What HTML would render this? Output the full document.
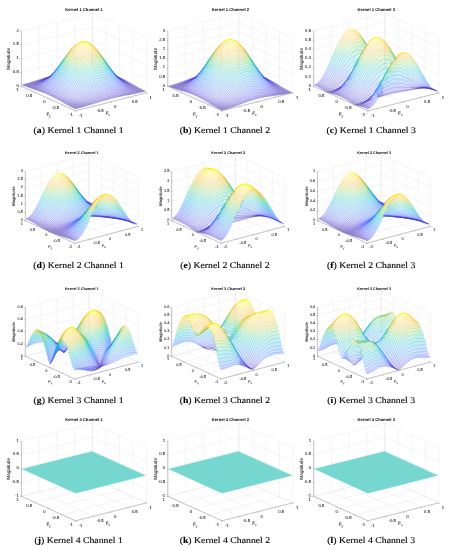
<!DOCTYPE html>
<html><head><meta charset="utf-8"><title>Kernel frequency responses</title><style>
html,body{margin:0;padding:0;background:#fff}
svg{display:block}
.gr{fill:none;stroke:#cacaca;stroke-width:2}
.ax{fill:none;stroke:#777;stroke-width:4}
.wu{fill:#fff;stroke:none}
.ml{fill:none;stroke-width:2.6;stroke-linejoin:round}
.sf{fill:currentColor;stroke:currentColor;stroke-width:3;stroke-linejoin:round}
text{font-family:"Liberation Sans",sans-serif;fill:#222;text-rendering:geometricPrecision}
.tk{font-size:43px;stroke:#333;stroke-width:0.7}
.e{text-anchor:end}
.lb{font-size:46px;stroke:#333;stroke-width:0.7}
.sb{font-size:30px}
.m{text-anchor:middle}
.ti{font-size:41.5px;font-weight:bold;text-anchor:middle;fill:#000}
.tk.s{font-size:38.7px}
.lb.s{font-size:41.4px}
.s .sb{font-size:27px}
.ti.s{font-size:37.6px}
.cp{font-family:"Liberation Serif",serif;font-size:88px;letter-spacing:0.3px;text-anchor:middle;fill:#000;stroke:#000;stroke-width:1.2}
.b{font-weight:bold}
</style></head><body>
<svg width="450" height="550" viewBox="0 0 4500 5500">
<path class="gr" d="M756 1108L214 863M214 863L214 312M756 1108L1466 928M1466 928L1466 377M933.5 1063L391.5 818M391.5 818L391.5 267M620.5 1046.8L1330.5 866.8M1330.5 866.8L1330.5 315.8M1111 1018L569 773M569 773L569 222M485 985.5L1195 805.5M1195 805.5L1195 254.5M1288.5 973L746.5 728M746.5 728L746.5 177M349.5 924.2L1059.5 744.2M1059.5 744.2L1059.5 193.3M1466 928L924 683M924 683L924 132M214 863L924 683M924 683L924 132M214 863L924 683M924 683L1466 928M214 725.2L924 545.2M924 545.2L1466 790.2M214 587.5L924 407.5M924 407.5L1466 652.5M214 449.8L924 269.8M924 269.8L1466 514.8M214 312L924 132M924 132L1466 377"/>
<defs><linearGradient id="a1" gradientUnits="userSpaceOnUse" x1="-4.6" y1="-18.1" x2="-113.5" y2="-447.8"><stop offset="0" stop-color="#3e26a8"/><stop offset="0.06" stop-color="#4434cd"/><stop offset="0.125" stop-color="#4852f4"/><stop offset="0.19" stop-color="#436cfe"/><stop offset="0.28" stop-color="#2e87f7"/><stop offset="0.34" stop-color="#2796eb"/><stop offset="0.4" stop-color="#1caadf"/><stop offset="0.45" stop-color="#0cb8cd"/><stop offset="0.5" stop-color="#1ebeb2"/><stop offset="0.57" stop-color="#37c897"/><stop offset="0.66" stop-color="#81cc59"/><stop offset="0.73" stop-color="#bbc334"/><stop offset="0.8" stop-color="#e8bc30"/><stop offset="0.875" stop-color="#fdcb36"/><stop offset="0.94" stop-color="#f6e428"/><stop offset="1" stop-color="#f9fb15"/></linearGradient><linearGradient id="b1" gradientUnits="userSpaceOnUse" x1="7.2" y1="-16" x2="178.9" y2="-395.8"><stop offset="0" stop-color="#3e26a8"/><stop offset="0.06" stop-color="#4434cd"/><stop offset="0.125" stop-color="#4852f4"/><stop offset="0.19" stop-color="#436cfe"/><stop offset="0.28" stop-color="#2e87f7"/><stop offset="0.34" stop-color="#2796eb"/><stop offset="0.4" stop-color="#1caadf"/><stop offset="0.45" stop-color="#0cb8cd"/><stop offset="0.5" stop-color="#1ebeb2"/><stop offset="0.57" stop-color="#37c897"/><stop offset="0.66" stop-color="#81cc59"/><stop offset="0.73" stop-color="#bbc334"/><stop offset="0.8" stop-color="#e8bc30"/><stop offset="0.875" stop-color="#fdcb36"/><stop offset="0.94" stop-color="#f6e428"/><stop offset="1" stop-color="#f9fb15"/></linearGradient></defs><path class="wu" d="M756 1089l22-6 22-6 23-6 22-7 22-6 22-7 22-7 23-7 22-7 22-7 22-7 22-7 22-6 23-6 22-6 22-6 22-6 22-5 23-5 22-5 22-4 22-5 22-4 22-4 23-4 22-5 22-4 22-5 22-5 23-5 22-5 11-3-17-7-11 2-22 5-23 5-22 5-22 4-22 4-22 4-22 4-23 4-22 4-22 4-22 4-22 5-23 4-22 6-22 5-22 6-22 6-22 6-23 7-22 7-22 7-22 8-22 7-23 7-22 8-22 7-22 7-22 6-23 7-22 6-22 6zM739 1081l22-6 22-6 23-7 22-6 22-7 22-7 22-8 23-7 22-7 22-8 22-7 22-7 23-7 22-6 22-6 22-6 22-5 22-6 23-4 22-5 22-4 22-4 22-4 23-4 22-4 22-4 22-4 22-4 22-5 23-5 22-5 11-2-17-9-11 3-22 5-22 4-23 4-22 3-22 3-22 3-22 3-23 2-22 3-22 3-22 4-22 3-22 5-23 4-22 6-22 6-22 6-22 7-23 8-22 8-22 8-22 8-22 9-23 8-22 9-22 8-22 8-22 7-23 7-22 7-22 6zM722 1073l22-6 22-7 23-7 22-7 22-8 22-8 22-9 23-8 22-9 22-8 22-8 22-8 23-8 22-7 22-6 22-6 22-6 23-4 22-5 22-3 22-4 22-3 22-3 23-2 22-3 22-3 22-3 22-3 23-4 22-4 22-5 11-3-17-8-11 2-22 4-22 4-23 2-22 2-22 2-22 1-22 0-22 1-23 1-22 1-22 2-22 3-22 3-23 4-22 6-22 6-22 7-22 8-23 8-22 10-22 10-22 10-22 10-23 11-22 10-22 10-22 9-22 9-22 8-23 7-22 6zM705 1064l22-6 23-7 22-8 22-9 22-9 22-10 22-10 23-11 22-10 22-10 22-10 22-10 23-8 22-8 22-7 22-6 22-6 23-4 22-3 22-3 22-2 22-1 23-1 22-1 22 0 22-1 22-2 22-2 23-2 22-4 22-4 11-2-17-9-11 2-22 4-22 2-22 1-23 0-22-1-22-2-22-2-22-1-23-2-22-1-22 0-22 1-22 2-23 3-22 5-22 7-22 7-22 10-23 10-22 11-22 13-22 12-22 13-22 13-23 13-22 12-22 12-22 10-22 9-23 8-22 6zM688 1055l22-6 23-8 22-9 22-10 22-12 22-12 23-13 22-13 22-13 22-12 22-13 22-11 23-10 22-10 22-7 22-7 22-5 23-3 22-2 22-1 22 0 22 1 23 2 22 1 22 2 22 2 22 1 23 0 22-1 22-2 22-4 11-2-17-9-11 2-22 2-22 1-22-1-23-3-22-3-22-5-22-5-22-5-23-4-22-4-22-3-22-1-22 1-23 3-22 4-22 7-22 8-22 11-22 12-23 14-22 15-22 16-22 16-22 16-23 16-22 15-22 14-22 12-22 11-22 8-23 7zM671 1046l23-7 22-8 22-11 22-12 22-14 22-15 23-16 22-16 22-16 22-16 22-15 23-14 22-12 22-11 22-8 22-7 22-4 23-3 22-1 22 1 22 3 22 4 23 4 22 5 22 5 22 5 22 3 23 3 22 1 22-1 22-2 11-2-17-10-11 2-22 2-22-1-22-4-23-5-22-7-22-8-22-9-22-8-23-8-22-7-22-5-22-4-22-1-22 2-23 4-22 7-22 10-22 12-22 15-23 16-22 19-22 19-22 19-22 20-22 19-23 19-22 16-22 15-22 12-22 10-23 7zM654 1037l23-7 22-10 22-12 22-15 22-16 23-19 22-19 22-20 22-19 22-19 22-19 23-16 22-15 22-12 22-10 22-7 23-4 22-2 22 1 22 4 22 5 22 7 23 8 22 8 22 9 22 8 22 7 23 5 22 4 22 1 22-2 11-2-17-9-11 1-22 1-22-3-22-6-23-9-22-10-22-12-22-12-22-12-22-12-23-10-22-9-22-5-22-3-22 0-23 4-22 7-22 11-22 14-22 17-23 20-22 22-22 22-22 24-22 24-22 23-23 21-22 20-22 17-22 14-22 11-23 7zM637 1027l23-7 22-11 22-14 22-17 22-20 23-21 22-23 22-24 22-24 22-22 22-22 23-20 22-17 22-14 22-11 22-7 23-4 22 0 22 3 22 5 22 9 23 10 22 12 22 12 22 12 22 12 22 10 23 9 22 6 22 3 22-1 11-1-17-10-11 1-22-1-22-4-22-9-22-11-23-14-22-16-22-16-22-17-22-15-23-14-22-12-22-8-22-5-22-1-22 4-23 8-22 12-22 16-22 19-22 23-23 25-22 27-22 28-22 28-22 26-23 25-22 23-22 20-22 16-22 12-23 8zM620 1018l23-8 22-12 22-16 22-20 22-23 23-25 22-26 22-28 22-28 22-27 23-25 22-23 22-19 22-16 22-12 23-8 22-4 22 1 22 5 22 8 22 12 23 14 22 15 22 17 22 16 22 16 23 14 22 11 22 9 22 4 22 1 11-1-17-10-11 1-22-2-22-6-22-11-22-15-23-17-22-20-22-20-22-21-22-19-22-18-23-14-22-11-22-7-22-2-22 3-23 8-22 13-22 18-22 23-22 26-23 28-22 31-22 32-22 31-22 31-23 29-22 26-22 22-22 18-22 13-22 8zM604 1008l22-8 22-13 22-18 22-22 22-26 23-29 22-31 22-31 22-32 22-31 23-28 22-26 22-23 22-18 22-13 23-8 22-3 22 2 22 7 22 11 23 14 22 18 22 19 22 21 22 20 22 20 23 17 22 15 22 11 22 6 22 2 11-1-16-9-12 0-22-3-22-8-22-14-22-17-22-21-23-23-22-25-22-24-22-23-22-21-23-18-22-13-22-9-22-3-22 3-23 8-22 15-22 19-22 25-22 29-23 32-22 35-22 35-22 36-22 34-22 32-23 29-22 25-22 20-22 14-22 9zM587 999l22-9 22-14 22-20 22-25 23-29 22-32 22-34 22-36 22-35 22-35 23-32 22-29 22-25 22-19 22-15 23-8 22-3 22 3 22 9 22 13 23 18 22 21 22 23 22 24 22 25 23 23 22 21 22 17 22 14 22 8 22 3 12 0-17-10-11 1-23-4-22-11-22-15-22-21-22-24-23-26-22-28-22-28-22-27-22-24-23-20-22-16-22-10-22-5-22 3-23 9-22 15-22 22-22 27-22 31-22 36-23 37-22 40-22 39-22 38-22 35-23 32-22 27-22 21-22 16-22 8zM570 989l22-8 22-16 22-21 22-27 23-32 22-35 22-38 22-39 22-40 23-37 22-36 22-31 22-27 22-22 22-15 23-9 22-3 22 5 22 10 22 16 23 20 22 24 22 27 22 28 22 28 23 26 22 24 22 21 22 15 22 11 23 4 11-1-17-9-11 0-23-5-22-11-22-18-22-23-22-27-23-30-22-31-22-31-22-29-22-27-23-23-22-18-22-11-22-6-22 2-22 10-23 16-22 23-22 29-22 34-22 38-23 41-22 42-22 43-22 41-22 38-23 34-22 29-22 23-22 16-22 9zM553 980l22-9 22-16 22-23 22-29 23-34 22-38 22-41 22-43 22-42 23-41 22-38 22-34 22-29 22-23 23-16 22-10 22-2 22 6 22 11 22 18 23 23 22 27 22 29 22 31 22 31 23 30 22 27 22 23 22 18 22 11 23 5 11 0-17-9-11 0-23-6-22-13-22-19-22-25-22-29-23-32-22-34-22-33-22-32-22-29-22-25-23-20-22-13-22-6-22 2-22 10-23 17-22 24-22 31-22 36-22 40-22 44-23 44-22 45-22 44-22 40-22 36-23 31-22 24-22 17-22 10zM536 972l22-10 22-17 22-24 23-31 22-36 22-40 22-44 22-45 23-44 22-44 22-40 22-36 22-31 22-24 23-17 22-10 22-2 22 6 22 13 23 20 22 25 22 29 22 32 22 33 22 34 23 32 22 29 22 25 22 19 22 13 23 6 11 0-17-8-11 0-23-7-22-14-22-20-22-27-22-30-22-34-23-36-22-36-22-33-22-31-22-27-23-20-22-14-22-6-22 1-22 10-23 17-22 26-22 31-22 38-22 42-22 45-23 47-22 47-22 45-22 42-22 38-23 32-22 25-22 17-22 10zM519 963l22-10 22-17 22-25 23-32 22-38 22-42 22-45 22-47 23-47 22-45 22-42 22-38 22-31 22-26 23-17 22-10 22-1 22 6 22 14 23 20 22 27 22 31 22 33 22 36 23 36 22 34 22 30 22 27 22 20 22 14 23 7 11 0-17-8-11-1-22-6-23-15-22-21-22-28-22-31-22-36-23-36-22-37-22-35-22-32-22-27-22-22-23-14-22-7-22 2-22 10-22 18-23 25-22 33-22 38-22 44-22 46-23 48-22 48-22 46-22 43-22 39-23 32-22 26-22 18-22 10zM502 955l22-10 22-18 22-26 23-32 22-39 22-43 22-46 22-48 23-48 22-46 22-44 22-38 22-33 23-25 22-18 22-10 22-2 22 7 23 14 22 22 22 27 22 32 22 35 22 37 23 36 22 36 22 31 22 28 22 21 23 15 22 6 11 1-17-8-11-1-22-6-23-15-22-22-22-27-22-33-22-35-22-37-23-37-22-36-22-32-22-27-22-22-23-15-22-7-22 2-22 10-22 18-23 26-22 33-22 38-22 44-22 47-23 48-22 48-22 47-22 43-22 39-22 33-23 26-22 18-22 10zM485 947l22-10 22-18 23-26 22-33 22-39 22-43 22-47 22-48 23-48 22-47 22-44 22-38 22-33 23-26 22-18 22-10 22-2 22 7 23 15 22 22 22 27 22 32 22 36 23 37 22 37 22 35 22 33 22 27 22 22 23 15 22 6 11 1-17-8-11 0-22-7-22-14-23-22-22-27-22-32-22-35-22-37-23-36-22-35-22-32-22-27-22-22-23-14-22-7-22 1-22 10-22 18-23 26-22 33-22 38-22 43-22 47-22 47-23 48-22 47-22 43-22 38-22 33-23 26-22 18-22 9zM468 939l22-9 22-18 23-26 22-33 22-38 22-43 22-47 23-48 22-47 22-47 22-43 22-38 22-33 23-26 22-18 22-10 22-1 22 7 23 14 22 22 22 27 22 32 22 35 23 36 22 37 22 35 22 32 22 27 23 22 22 14 22 7 11 0-17-7-11 0-22-6-22-14-23-21-22-26-22-31-22-34-22-36-23-35-22-34-22-31-22-26-22-21-23-14-22-6-22 1-22 10-22 18-22 25-23 32-22 37-22 42-22 46-22 46-23 47-22 45-22 42-22 38-22 32-22 25-23 18-22 9zM451 932l22-9 23-18 22-25 22-32 22-38 22-42 22-45 23-47 22-46 22-46 22-42 22-37 23-32 22-25 22-18 22-10 22-1 22 6 23 14 22 21 22 26 22 31 22 34 23 35 22 36 22 34 22 31 22 26 23 21 22 14 22 6 11 0-17-7-11 0-22-5-22-13-23-20-22-25-22-29-22-32-22-34-23-33-22-32-22-29-22-25-22-20-22-13-23-5-22 1-22 10-22 17-22 24-23 31-22 36-22 40-22 44-22 44-22 45-23 44-22 40-22 36-22 31-22 24-23 17-22 10zM434 926l22-10 23-17 22-24 22-31 22-36 22-40 23-44 22-45 22-44 22-44 22-40 22-36 23-31 22-24 22-17 22-10 22-1 23 5 22 13 22 20 22 25 22 29 22 32 23 33 22 34 22 32 22 29 22 25 23 20 22 13 22 5 11 0-17-6-11 0-22-5-22-12-23-17-22-23-22-27-22-30-22-31-22-31-23-30-22-26-22-23-22-18-22-12-23-5-22 2-22 9-22 17-22 23-22 29-23 34-22 38-22 41-22 42-22 42-23 41-22 38-22 35-22 29-22 23-23 16-22 9zM417 919l22-9 23-16 22-23 22-29 22-35 22-38 23-41 22-42 22-42 22-41 22-38 23-34 22-29 22-23 22-17 22-9 22-2 23 5 22 12 22 18 22 23 22 26 23 30 22 31 22 31 22 30 22 27 22 23 23 17 22 12 22 5 11 0-17-6-11 0-22-4-22-10-22-16-23-20-22-24-22-27-22-28-22-28-23-26-22-25-22-20-22-16-22-10-22-4-23 2-22 9-22 16-22 21-22 27-23 32-22 35-22 38-22 39-22 39-23 38-22 35-22 32-22 27-22 22-23 15-22 9zM400 913l22-9 23-15 22-22 22-27 22-32 22-35 23-38 22-39 22-39 22-38 22-35 23-32 22-27 22-21 22-16 22-9 23-2 22 4 22 10 22 16 22 20 22 25 23 26 22 28 22 28 22 27 22 24 23 20 22 16 22 10 22 4 11 0-17-6-11 1-22-3-22-9-22-14-23-17-22-21-22-23-22-25-22-24-22-23-23-21-22-18-22-13-22-9-22-3-23 3-22 8-22 15-22 20-22 24-23 29-22 32-22 35-22 35-22 36-23 34-22 33-22 28-22 25-22 20-22 14-23 9zM383 907l23-9 22-14 22-20 22-25 22-28 22-33 23-34 22-36 22-35 22-35 22-32 23-29 22-24 22-20 22-15 22-8 23-3 22 3 22 9 22 13 22 18 23 21 22 23 22 24 22 25 22 23 22 21 23 17 22 14 22 9 22 3 11-1-17-6-11 1-22-2-22-7-22-11-22-14-23-18-22-19-22-21-22-20-22-19-23-18-22-15-22-11-22-6-22-2-23 3-22 8-22 13-22 18-22 22-23 26-22 29-22 31-22 31-22 32-22 31-23 29-22 25-22 23-22 18-22 13-23 8zM366 901l23-8 22-13 22-18 22-23 22-25 23-29 22-31 22-32 22-31 22-31 22-29 23-26 22-22 22-18 22-13 22-8 23-3 22 2 22 6 22 11 22 15 23 18 22 19 22 20 22 21 22 19 23 18 22 14 22 11 22 7 22 2 11-1-17-5-11 1-22-1-22-5-22-8-22-12-23-14-22-15-22-17-22-16-22-16-23-14-22-11-22-8-22-5-22-1-23 3-22 8-22 12-22 16-22 20-22 23-23 25-22 27-22 27-22 28-22 27-23 25-22 23-22 19-22 16-22 13-23 7zM349 895l23-7 22-13 22-16 22-19 22-23 23-25 22-27 22-28 22-27 22-27 23-25 22-23 22-20 22-16 22-12 22-8 23-3 22 1 22 5 22 8 22 11 23 14 22 16 22 16 22 17 22 15 23 14 22 12 22 8 22 5 22 1 11-1-17-6-11 1-22 1-22-3-22-6-22-8-23-11-22-11-22-13-22-12-22-12-23-10-22-8-22-6-22-3-22 0-22 4-23 7-22 11-22 14-22 18-22 19-23 22-22 23-22 23-22 24-22 23-23 21-22 20-22 17-22 14-22 11-22 8zM333 890l22-8 22-11 22-14 22-17 22-20 23-21 22-23 22-24 22-23 22-23 23-22 22-19 22-18 22-14 22-11 23-7 22-4 22 0 22 3 22 6 22 8 23 10 22 12 22 12 22 13 22 11 23 11 22 8 22 6 22 3 22-1 11-1-16-6-12 2-22 1-22-1-22-3-22-5-23-7-22-8-22-9-22-8-22-8-22-7-23-5-22-4-22-1-22 2-22 4-23 7-22 10-22 12-22 15-22 16-22 18-23 20-22 19-22 20-22 19-22 18-23 17-22 15-22 12-22 10-22 7zM316 884l22-7 22-10 22-12 22-15 23-17 22-18 22-19 22-20 22-19 23-20 22-18 22-16 22-15 22-12 22-10 23-7 22-4 22-2 22 1 22 4 23 5 22 7 22 8 22 8 22 9 22 8 23 7 22 5 22 3 22 1 22-1 12-2-17-6-12 2-22 3-22 0-22-1-22-2-22-4-23-4-22-5-22-5-22-5-22-3-23-3-22-1-22 1-22 2-22 5-22 6-23 9-22 11-22 12-22 14-22 15-23 16-22 16-22 16-22 16-22 15-23 13-22 13-22 10-22 9-22 7zM299 878l22-7 22-9 22-10 22-13 23-13 22-15 22-16 22-16 22-16 23-16 22-15 22-14 22-12 22-11 23-9 22-6 22-5 22-2 22-1 22 1 23 3 22 3 22 5 22 5 22 5 23 4 22 4 22 2 22 1 22 0 22-3 12-2-17-6-11 2-23 4-22 2-22 1-22 0-22-1-23-2-22-1-22-2-22-2-22-1-22 0-23 1-22 2-22 4-22 5-22 6-23 8-22 9-22 10-22 12-22 12-23 13-22 13-22 13-22 12-22 13-23 11-22 10-22 9-22 8-22 7zM282 872l22-7 22-8 22-9 22-10 23-11 22-13 22-12 22-13 22-13 23-13 22-12 22-12 22-10 22-9 23-8 22-6 22-5 22-4 22-2 23-1 22 0 22 1 22 2 22 2 22 1 23 2 22 1 22 0 22-1 22-2 23-4 11-2-17-6-11 2-23 4-22 4-22 2-22 2-22 2-23 1-22 0-22 1-22 1-22 1-22 2-23 3-22 3-22 4-22 6-22 6-23 7-22 8-22 8-22 10-22 10-23 10-22 10-22 11-22 10-22 10-22 9-23 9-22 8-22 7-22 6zM265 865l22-6 22-7 22-8 23-9 22-9 22-10 22-10 22-11 22-10 23-10 22-10 22-10 22-8 22-8 23-7 22-6 22-6 22-4 22-3 23-3 22-2 22-1 22-1 22-1 22 0 23-1 22-2 22-2 22-2 22-4 23-4 11-2-17-7-11 3-22 4-23 5-22 3-22 4-22 3-22 3-23 2-22 3-22 3-22 3-22 3-23 4-22 4-22 5-22 5-22 6-23 7-22 7-22 7-22 8-22 8-22 9-23 8-22 9-22 8-22 9-22 7-23 8-22 7-22 6-22 6zM248 858l22-6 22-6 22-7 23-8 22-7 22-9 22-8 22-9 23-8 22-9 22-8 22-8 22-7 22-7 23-7 22-6 22-5 22-5 22-4 23-4 22-3 22-3 22-3 22-3 23-2 22-3 22-3 22-4 22-3 23-5 22-4 11-3-17-7-11 3-22 5-23 5-22 4-22 4-22 4-22 4-23 4-22 4-22 4-22 4-22 4-23 5-22 5-22 5-22 5-22 6-22 6-23 7-22 6-22 7-22 8-22 7-23 7-22 8-22 7-22 7-22 7-22 7-23 6-22 6-22 6zM231 851l22-6 22-6 23-6 22-7 22-7 22-7 22-7 22-8 23-7 22-7 22-8 22-7 22-6 23-7 22-6 22-6 22-5 22-5 22-5 23-5 22-4 22-4 22-4 22-4 23-4 22-4 22-4 22-4 22-4 23-5 22-5 11-3-9-4-11 3-22 5-22 5-22 5-22 4-23 5-22 4-22 4-22 4-22 5-23 4-22 4-22 5-22 5-22 5-23 6-22 5-22 7-22 6-22 6-22 7-23 7-22 7-22 7-22 7-22 7-23 7-22 7-22 6-22 7-22 6-23 5z"/><g class="ml" stroke="url(#a1)"><path transform="translate(756 1108)" d="M0 -19l22-6 22-6 23-6 22-7 22-6 22-7 22-7 23-7 22-7 22-7 22-7 22-7 22-6 23-6 22-6 22-6 22-6 22-5 23-5 22-5 22-4 22-5 22-4 22-4 23-4 22-5 22-4 22-5 22-5 23-5 22-5 11-3"/><path transform="translate(747.5 1104.2)" d="M0 -19l22-6 22-6 23-6 22-7 22-7 22-7 22-7 23-7 22-7 22-7 22-7 22-6 22-7 23-6 22-6 22-6 22-6 22-5 23-5 22-4 22-5 22-4 22-5 22-4 23-4 22-4 22-4 22-5 22-5 23-5 22-5 11-3"/><path transform="translate(739.1 1100.3)" d="M0 -19l22-6 22-6 23-7 22-7 22-7 22-7 22-7 23-7 22-8 22-7 22-7 22-7 22-7 23-6 22-7 22-5 22-6 22-5 23-5 22-4 22-4 22-5 22-4 22-3 23-4 22-4 22-4 22-5 22-4 23-5 22-5 11-3"/><path transform="translate(730.6 1096.5)" d="M0 -20l22-6 22-6 23-7 22-7 22-7 22-8 22-7 23-8 22-8 22-8 22-7 22-8 22-7 23-6 22-7 22-6 22-5 22-5 23-5 22-4 22-4 22-3 22-4 22-3 23-4 22-3 22-4 22-4 22-4 23-4 22-5 11-3"/><path transform="translate(722.1 1092.7)" d="M0 -20l22-6 22-6 23-7 22-8 22-8 22-8 22-8 23-9 22-9 22-8 22-8 22-8 22-8 23-7 22-6 22-6 22-5 22-5 23-4 22-4 22-3 22-3 22-3 22-3 23-3 22-3 22-3 22-3 22-4 23-4 22-5 11-2"/><path transform="translate(713.7 1088.9)" d="M0 -20l22-6 22-7 23-8 22-8 22-8 22-9 22-9 23-10 22-9 22-10 22-8 22-9 22-8 23-8 22-6 22-6 22-5 22-5 23-4 22-3 22-3 22-2 22-2 22-2 23-2 22-2 22-2 22-3 22-3 23-4 22-4 11-3"/><path transform="translate(705.2 1085)" d="M0 -21l22-6 22-7 23-8 22-9 22-9 22-10 22-10 23-11 22-10 22-10 22-10 22-10 22-8 23-8 22-7 22-6 22-6 22-4 23-3 22-3 22-2 22-1 22-1 22-1 23 0 22-1 22-2 22-2 22-2 23-4 22-4 11-2"/><path transform="translate(696.7 1081.2)" d="M0 -21l22-7 22-7 23-9 22-9 22-10 22-11 22-12 23-11 22-12 22-12 22-11 22-10 22-9 23-9 22-7 22-6 22-5 22-4 23-3 22-2 22-1 22 0 22 0 22 1 23 0 22 0 22 0 22-1 22-2 23-3 22-3 11-3"/><path transform="translate(688.2 1077.4)" d="M0 -22l22-6 22-8 23-9 22-11 22-11 22-12 22-13 23-13 22-13 22-13 22-12 22-11 22-11 23-9 22-8 22-6 22-5 22-3 23-2 22-1 22 0 22 1 22 1 22 2 23 2 22 1 22 1 22 0 22-1 23-2 22-3 11-2"/><path transform="translate(679.8 1073.5)" d="M0 -23l22-6 22-9 23-9 22-12 22-12 22-14 22-14 23-14 22-15 22-14 22-14 22-12 22-12 23-9 22-9 22-6 22-5 22-3 23-1 22 0 22 1 22 2 22 3 22 4 23 3 22 3 22 2 22 1 22 0 23-1 22-3 11-2"/><path transform="translate(671.3 1069.7)" d="M0 -24l22-6 22-9 23-11 22-12 22-14 22-15 22-15 23-17 22-16 22-16 22-14 22-14 22-13 23-10 22-9 22-7 22-4 22-3 23 0 22 1 22 2 22 4 22 4 22 5 23 5 22 5 22 4 22 2 22 1 23 0 22-3 11-2"/><path transform="translate(662.8 1065.9)" d="M0 -24l22-7 22-9 23-12 22-13 22-15 22-17 22-17 23-18 22-18 22-18 22-16 22-15 22-14 23-11 22-9 22-7 22-5 22-2 23 0 22 3 22 4 22 5 22 6 22 7 23 6 22 7 22 5 22 4 22 2 23 0 22-2 11-2"/><path transform="translate(654.4 1062.1)" d="M0 -25l22-7 22-10 23-12 22-15 22-17 22-18 22-19 23-20 22-19 22-20 22-18 22-16 22-15 23-12 22-10 22-7 22-4 22-2 23 1 22 4 22 5 22 7 22 8 22 8 23 9 22 8 22 7 22 5 22 3 23 2 22-2 11-2"/><path transform="translate(645.9 1058.2)" d="M0 -26l22-7 22-11 23-13 22-16 22-18 22-20 22-21 23-21 22-22 22-21 22-20 22-18 22-16 23-13 22-10 22-7 22-5 22 0 23 2 22 4 22 7 22 9 22 9 22 11 23 10 22 10 22 8 22 7 22 5 23 2 22-1 11-2"/><path transform="translate(637.4 1054.4)" d="M0 -27l22-7 22-11 23-14 22-18 22-19 22-22 22-23 23-23 22-24 22-23 22-21 22-20 22-17 23-14 22-11 22-8 22-3 22-1 23 3 22 6 22 8 22 11 22 11 22 13 23 12 22 12 22 10 22 8 22 6 23 3 22 0 11-2"/><path transform="translate(629 1050.6)" d="M0 -28l22-8 22-11 23-15 22-19 22-21 22-23 22-25 23-26 22-25 22-25 22-23 22-22 22-18 23-15 22-12 22-7 22-4 22 0 23 4 22 7 22 10 22 12 22 14 22 14 23 15 22 13 22 13 22 9 22 8 23 3 22 1 11-2"/><path transform="translate(620.5 1046.8)" d="M0 -29l22-8 22-12 23-16 22-20 22-22 22-25 22-27 23-28 22-28 22-26 22-26 22-22 22-20 23-16 22-12 22-8 22-3 22 1 23 4 22 9 22 11 22 14 22 16 22 16 23 17 22 15 22 14 22 11 22 9 23 5 22 1 11-2"/><path transform="translate(612 1042.9)" d="M0 -30l22-8 22-13 23-17 22-21 22-24 22-27 22-29 23-29 22-30 22-29 22-27 22-24 22-21 23-17 22-13 22-8 22-3 22 2 23 5 22 10 22 13 22 16 22 17 23 19 22 18 22 18 22 15 22 13 22 10 23 6 22 1 11-1"/><path transform="translate(603.6 1039.1)" d="M0 -31l22-8 22-13 23-18 22-22 22-26 22-29 22-31 22-31 23-32 22-31 22-29 22-25 22-23 23-18 22-13 22-8 22-3 22 2 23 7 22 11 22 14 22 18 22 19 22 21 23 20 22 19 22 18 22 15 22 11 23 6 22 2 11-1"/><path transform="translate(595.1 1035.3)" d="M0 -32l22-8 22-14 23-19 22-23 22-28 22-30 22-33 23-33 22-34 22-33 22-30 22-28 22-23 23-19 22-14 22-8 22-3 22 2 23 8 22 12 22 17 22 19 22 21 22 23 23 22 22 21 22 20 22 16 22 12 23 8 22 2 11-1"/><path transform="translate(586.6 1031.4)" d="M0 -33l22-8 22-15 23-19 22-25 22-29 22-32 22-35 23-35 22-36 22-34 22-32 22-29 22-25 23-20 22-14 22-9 22-2 22 3 23 8 22 14 22 17 22 21 22 24 22 24 23 24 22 23 22 21 22 18 22 13 23 9 22 3 11-1"/><path transform="translate(578.2 1027.6)" d="M0 -33l22-9 22-15 23-21 22-26 22-30 22-34 22-36 23-37 22-38 22-36 22-34 22-30 22-26 23-21 22-15 22-8 22-3 22 4 23 9 22 15 22 19 22 22 22 25 22 27 23 26 22 25 22 22 22 19 22 15 23 9 22 4 11 0"/><path transform="translate(569.7 1023.8)" d="M0 -34l22-9 22-16 23-21 22-27 22-32 22-35 22-38 23-39 22-39 22-38 22-36 22-31 22-27 23-22 22-15 22-9 22-2 22 4 23 10 22 16 22 20 22 24 22 27 22 28 23 28 22 26 22 24 22 21 22 16 23 10 22 4 11 0"/><path transform="translate(561.2 1020)" d="M0 -35l22-9 22-16 23-22 22-28 22-33 22-37 22-39 22-41 23-41 22-40 22-36 22-33 22-28 23-23 22-15 22-10 22-2 22 5 23 11 22 17 22 21 22 26 22 28 22 30 23 29 22 28 22 26 22 22 22 16 23 11 22 5 11 0"/><path transform="translate(552.7 1016.1)" d="M0 -36l22-9 22-16 23-23 22-29 22-34 22-39 22-40 23-43 22-42 22-41 22-38 22-34 22-29 23-23 22-16 22-10 22-2 22 5 23 12 22 18 22 23 22 27 22 29 22 31 23 31 22 30 22 27 22 23 22 17 23 12 22 5 11 0"/><path transform="translate(544.3 1012.3)" d="M0 -36l22-10 22-16 23-24 22-30 22-35 22-39 22-43 23-43 22-44 22-42 22-40 22-35 22-30 23-23 22-17 22-9 22-2 22 5 23 13 22 18 22 24 22 28 22 31 22 33 23 32 22 31 22 28 22 24 22 19 23 12 22 5 11 0"/><path transform="translate(535.8 1008.5)" d="M0 -37l22-9 22-18 23-24 22-30 22-36 22-41 22-43 23-45 22-45 22-43 22-41 22-36 22-30 23-25 22-17 22-9 22-2 22 6 23 13 22 19 22 25 22 29 22 32 22 34 23 34 22 32 22 29 22 25 22 19 23 13 22 6 11 0"/><path transform="translate(527.3 1004.6)" d="M0 -37l22-10 22-17 23-25 22-31 22-37 22-42 22-44 23-46 22-46 22-44 22-42 22-36 22-32 23-24 22-18 22-9 22-2 22 6 23 13 22 21 22 25 22 30 22 33 22 35 23 35 22 33M621 -255l22 20 23 13 22 6 11 0"/><path transform="translate(518.9 1000.8)" d="M0 -38l22-10 22-17 23-25 22-32 22-38 22-42 22-45 22-47 23-47 22-45 22-42 22-37 22-32 23-25 22-18 22-10 22-1 22 6 23 14 22 21 22 26 22 31 22 34 22 35M643 -237l23 14 22 7 11 0"/><path transform="translate(510.4 997)" d="M0 -38l22-10 22-18 23-25 22-32 22-39 22-42 22-46 23-48 22-47 22-46 22-43 22-38 22-32 23-25 22-18 22-10 22-2 22 7 23 14 22 21 22 27 22 32 22 34M666 -223l22 6 11 1"/><path transform="translate(501.9 993.2)" d="M0 -38l22-10 22-18 23-26 22-32 22-39 22-43 22-46 23-48 22-48 22-47 22-43 22-38 22-33 23-26 22-18 22-9 22-2 22 7 23 14 22 22 22 27 22 32M666 -224l22 7 11 0"/><path transform="translate(493.5 989.3)" d="M0 -39l22-9 22-18 23-26 22-33 22-39 22-43 22-47 23-48 22-48 22-47 22-43 22-39 22-33 23-26 22-18 22-10 22-1 22 7 23 14 22 22 22 27M688 -217l11 0"/><path transform="translate(485 985.5)" d="M0 -39l22-9 22-18 23-26 22-33 22-39 22-44 22-46 23-49 22-48 22-47 22-43 22-39 22-33 23-26 22-18 22-10 22-1 22 7 23 14 22 22M688 -217l11 0"/><path transform="translate(476.5 981.7)" d="M0 -39l22-9 22-18 23-26 22-33 22-39 22-43 22-47 22-48 23-48 22-47 22-43 22-39 22-33 23-26 22-18 22-10 22-1 22 7 23 14 22 22M688 -217l11 0"/><path transform="translate(468.1 977.8)" d="M0 -38l22-10 22-18 23-26 22-32 22-39 22-43 22-46 23-48 22-48 22-47 22-43 22-38 22-33 23-26 22-18 22-9 22-2 22 7 23 14"/><path transform="translate(459.6 974)" d="M0 -38l22-10 22-18 23-25 22-32 22-39 22-42 22-46 23-48 22-47 22-46 22-43 22-38 22-32 23-25 22-18 22-10 22-2 22 7"/><path transform="translate(451.1 970.2)" d="M0 -38l22-10 22-17 23-25 22-32 22-38 22-42 22-45 23-47 22-47 22-45 22-42 22-37 22-32 23-25 22-18 22-10 22-1 22 6"/><path transform="translate(442.7 966.4)" d="M0 -37l22-10 22-17 23-25 22-31 22-37 22-42 22-44 23-46 22-46 22-44 22-42 22-36 22-32 23-24 22-18 22-9 22-2"/><path transform="translate(434.2 962.5)" d="M0 -37l22-9 22-18 23-24 22-30 22-36 22-41 22-43 23-45 22-45 22-43 22-41 22-36 22-30 23-25 22-17 22-9"/><path transform="translate(425.7 958.7)" d="M0 -36l22-10 22-16 23-24 22-30 22-35 22-39 22-43 23-43 22-44 22-42 22-40 22-35 22-30 23-23 22-17 22-9"/><path transform="translate(417.2 954.9)" d="M0 -36l22-9 22-16 23-23 22-29 22-34 22-39 22-40 23-43 22-42 22-41 22-38 22-34 22-29 23-23 22-16"/><path transform="translate(408.8 951)" d="M0 -35l22-9 22-16 23-22 22-28 22-33 22-37 22-39 23-41 22-41 22-40 22-36 22-33 22-28 23-23"/><path transform="translate(400.3 947.2)" d="M0 -34l22-9 22-16 23-21 22-27 22-32 22-35 22-38 23-39 22-39 22-38 22-36 22-31 22-27 23-22"/><path transform="translate(391.8 943.4)" d="M0 -33l22-9 22-15 23-21 22-26 22-30 22-34 22-36 23-37 22-38 22-36 22-34 22-30 22-26"/><path transform="translate(383.4 939.6)" d="M0 -33l22-8 22-15 23-19 22-25 22-29 22-32 22-35 23-35 22-36 22-34 22-32 22-29 22-25"/><path transform="translate(374.9 935.7)" d="M0 -32l22-8 22-14 23-19 22-23 22-28 22-30 22-33 23-33 22-34 22-33 22-30 22-28"/><path transform="translate(366.4 931.9)" d="M0 -31l22-8 22-13 23-18 22-22 22-26 22-29 22-31 23-31 22-32 22-31 22-29 22-25"/><path transform="translate(358 928.1)" d="M0 -30l22-8 22-13 23-17 22-21 22-24 22-27 22-29 23-29 22-30 22-29 22-27 22-24"/><path transform="translate(349.5 924.2)" d="M0 -29l22-8 22-12 23-16 22-20 22-22 22-25 22-27 23-28 22-28 22-26 22-26"/><path transform="translate(341 920.4)" d="M0 -28l22-8 22-11 23-15 22-19 22-21 22-23 22-25 23-26 22-25 22-25 22-23"/><path transform="translate(332.6 916.6)" d="M0 -27l22-7 22-11 23-14 22-18 22-19 22-22 22-23 23-23 22-24 22-23 22-21"/><path transform="translate(324.1 912.8)" d="M0 -26l22-7 22-11 23-13 22-16 22-18 22-20 22-21 23-21 22-22 22-21"/><path transform="translate(315.6 908.9)" d="M0 -25l22-7 22-10 23-12 22-15 22-17 22-18 22-19 23-20 22-19 22-20"/><path transform="translate(307.2 905.1)" d="M0 -24l22-7 22-9 23-12 22-13 22-15 22-17 22-17 23-18 22-18 22-18"/><path transform="translate(298.7 901.3)" d="M0 -24l22-6 22-9 23-11 22-12 22-14 22-15 22-15 23-17 22-16 22-16"/><path transform="translate(290.2 897.5)" d="M0 -23l22-6 22-9 23-9 22-12 22-12 22-14 22-14 23-14 22-15 22-14"/><path transform="translate(281.8 893.6)" d="M0 -22l22-6 22-8 23-9 22-11 22-11 22-12 22-13 23-13 22-13 22-13"/><path transform="translate(273.3 889.8)" d="M0 -21l22-7 22-7 23-9 22-9 22-10 22-11 22-12 23-11 22-12 22-12"/><path transform="translate(264.8 886)" d="M0 -21l22-6 22-7 23-8 22-9 22-9 22-10 22-10 23-11 22-10 22-10"/><path transform="translate(256.3 882.1)" d="M0 -20l22-6 22-7 23-8 22-8 22-8 22-9 22-9 23-10 22-9 22-10 22-8"/><path transform="translate(247.9 878.3)" d="M0 -20l22-6 22-6 23-7 22-8 22-8 22-8 22-8 23-9 22-9 22-8 22-8"/><path transform="translate(239.4 874.5)" d="M0 -20l22-6 22-6 23-7 22-7 22-7 22-8 22-7 23-8 22-8 22-8 22-7 22-8"/><path transform="translate(230.9 870.7)" d="M0 -19l22-6 22-6 23-7 22-7 22-7 22-7 22-7 23-7 22-8 22-7 22-7 22-7"/><path transform="translate(222.5 866.8)" d="M0 -19l22-6 22-6 23-6 22-7 22-7 22-7 22-7 23-7 22-7 22-7 22-7 22-6 22-7"/></g><g class="ml" stroke="url(#b1)"><path transform="translate(756 1108)" d="M0 -19l-17-8-17-8-17-9-17-9-17-9-17-9-17-10-16-9-17-10-17-9-17-10-17-9-17-8-17-9-17-8-17-8-17-8-17-7-17-6-17-7-17-6-17-6-17-6-16-6-17-5-17-6-17-6-17-6-17-7-17-7-17-7-9-4"/><path transform="translate(767.1 1105.2)" d="M0 -19l-17-8-17-8-17-9-17-9-17-9-17-10-17-9-16-10-17-9-17-10-17-9-17-10-17-8-17-9-17-8-17-8-17-8-17-7-17-6-17-7-17-6-17-6-17-6-16-5-17-6-17-6-17-6-17-6-17-6-17-7-17-7-9-4"/><path transform="translate(778.2 1102.4)" d="M0 -19l-17-8-17-9-17-8-17-9-17-10-17-10-17-9-16-10-17-10-17-10-17-10-17-9-17-9-17-9-17-8-17-8-17-8-17-7-17-6-17-6-17-6-17-6-17-5-16-6-17-5-17-6-17-5-17-6-17-6-17-7-17-7-9-4"/><path transform="translate(789.3 1099.6)" d="M0 -20l-17-8-17-8-17-9-17-9-17-10-17-10-17-11-16-10-17-10-17-11-17-10-17-10-17-9-17-9-17-9-17-8-17-7-17-7-17-6-17-6-17-5-17-6-17-5-16-5-17-4-17-5-17-6-17-5-17-6-17-6-17-7-9-4"/><path transform="translate(800.4 1096.8)" d="M0 -20l-17-8-17-8-17-10-17-10-17-10-17-11-17-11-16-11-17-11-17-11-17-11-17-10-17-10-17-9-17-9-17-8-17-7-17-7-17-6-17-5-17-5-17-5-17-4-16-4-17-4-17-5-17-4-17-5-17-6-17-6-17-6-9-4"/><path transform="translate(811.5 1093.9)" d="M0 -20l-17-8-17-9-17-10-17-10-17-11-17-12-17-12-16-12-17-11-17-12-17-12-17-11-17-10-17-10-17-9-17-8-17-7-17-7-17-5-17-5-17-4-17-4-17-4-16-3-17-3-17-4-17-4-17-4-17-5-17-5-17-7-9-3"/><path transform="translate(822.6 1091.1)" d="M0 -20l-17-9-17-9-17-10-17-11-17-12-17-12-17-13-16-13-17-13-17-13-17-12-17-12-17-11-17-11-17-9-17-8-17-7-17-6-17-5-17-5-17-3-17-3-17-2-16-3-17-2-17-2-17-3-17-4-17-4-17-5-17-6-9-4"/><path transform="translate(833.7 1088.3)" d="M0 -21l-17-8-17-10-17-10-17-12-17-13-17-14-17-14-16-14-17-14-17-14-17-14-17-12-17-12-17-11-17-9-17-9-17-7-17-6-17-4-17-4-17-2-17-2-17-1-16-1-17-1-17-2-17-2-17-2-17-4-17-4-17-6-9-3"/><path transform="translate(844.8 1085.5)" d="M0 -21l-17-9-17-10-17-11-17-13-17-14-17-14-17-16-16-15-17-16-17-15-17-15-17-14-17-12-17-12-17-10-17-8-17-7-17-5-17-4-17-3-17-1-17-1-17 0-16 0-17 1-17 0-17-1-17-2-17-2-17-4-17-5-9-4"/><path transform="translate(855.8 1082.7)" d="M0 -22l-17-8-17-11-17-12-17-14-17-15-17-16-17-16-16-17-17-18-17-16-17-16-17-15-17-14-17-12-17-11-17-8-17-7-17-5-17-3-17-2-17 0-17 1-17 1-16 2-17 2-17 1-17 1-17 0-17-2-17-3-17-5-9-3"/><path transform="translate(866.9 1079.9)" d="M0 -22l-17-9-17-11-17-13-17-15-17-16-17-17-17-19-16-18-17-19-17-18-17-18-17-16-17-15-17-13-17-11-17-8-17-7-17-4-17-3-17 0-17 1-17 2-17 3-16 3-17 4-17 3-17 2-17 1-17-1-17-2-17-5-9-3"/><path transform="translate(878 1077.1)" d="M0 -23l-17-9-17-11-17-14-17-16-17-17-17-19-17-20-16-21-17-20-17-20-17-19-17-18-17-16-17-14-17-11-17-9-17-6-17-4-17-2-17 1-17 2-17 4-17 4-16 6-17 5-17 4-17 4-17 2-17 1-17-2-17-4-9-2"/><path transform="translate(889.1 1074.2)" d="M0 -24l-17-9-17-12-17-14-17-17-17-19-17-21-17-22-16-22-17-22-17-22-17-21-17-19-17-17-17-14-17-12-17-9-17-6-17-4-17-1-17 2-17 4-17 5-17 7-16 7-17 7-17 6-17 5-17 4-17 2-17-1-17-3-9-3"/><path transform="translate(900.2 1071.4)" d="M0 -24l-17-9-17-13-17-15-17-19-17-20-17-23-17-23-16-24-17-25-17-23-17-22-17-21-17-18-17-16-17-12-17-10-17-6-17-2-17 0-17 3-17 5-17 7-17 8-16 9-17 9-17 8-17 7-17 6-17 2-17 1-17-3-9-3"/><path transform="translate(911.3 1068.6)" d="M0 -25l-17-9-17-13-17-17-17-19-17-22-17-24-17-26-16-26-17-26-17-26-17-24-17-22-17-19-17-17-17-13-17-9-17-6-17-2-17 1-17 4-17 7-17 8-17 11-16 10-17 11-17 10-17 9-17 7-17 4-17 1-17-2-9-2"/><path transform="translate(922.4 1065.8)" d="M0 -25l-17-10-17-14-17-17-17-21-17-24-17-25-17-28-16-28-17-28-17-28-17-26-17-23-17-21-17-17-17-14-17-10-17-5-17-2-17 2-17 6-17 8-17 10-17 13-16 12-17 13-17 12-17 11-17 8-17 6-17 2-17-2-9-2"/><path transform="translate(933.5 1063)" d="M0 -26l-17-10-17-14-17-19-17-22-17-25-17-28-17-29-16-30-17-30-17-30-17-27-17-26-17-22-17-18-17-14-17-10-17-6-17-1-17 3-17 7-17 10-17 12-17 14-16 15-17 15-17 14-17 13-17 10-17 6-17 3-17-1-9-2"/><path transform="translate(944.6 1060.2)" d="M0 -27l-17-10-17-15-17-19-17-23-17-27-17-30-17-31-16-32-17-32-17-32-17-29-17-27-17-23-17-20-17-14-17-11-17-5-17 0-17 4-17 8-17 11-17 14-17 16-16 17-17 17-17 16-17 14-17 12-17 8-17 4-17-1-9-2"/><path transform="translate(955.7 1057.4)" d="M0 -28l-17-10-17-15-17-20-17-25-17-28-17-32-17-33-16-34-17-34-17-34-17-31-17-28-17-25-17-20-17-16-17-10-17-5-17 0-17 5-17 10-17 13-17 15-17 18-16 19-17 19-17 18-17 16-17 13-17 9-17 5-17 1-9-2"/><path transform="translate(966.8 1054.6)" d="M0 -28l-17-11-17-16-17-21-17-26-17-30-17-33-17-35-16-36-17-36-17-35-17-33-17-30-17-26-17-21-17-16-17-11-17-5-17 1-17 6-17 11-17 14-17 18-17 20-16 21-17 21-17 19-17 18-17 15-17 10-17 6-17 1-9-2"/><path transform="translate(977.9 1051.8)" d="M0 -29l-17-10-17-17-17-22-17-27-17-32-17-34-17-37-16-38-17-39-17-36-17-35-17-32-17-27-17-22-17-16-17-11-17-5-17 2-17 6-17 12-17 16-17 20-17 21-16 23-17 23-17 22-17 19-17 16-17 12-17 7-17 1-9-2"/><path transform="translate(989 1048.9)" d="M0 -29l-17-11-17-17-17-23-17-29-17-32-17-37-17-38-16-40-17-40-17-39-17-36-17-33-17-28-17-23-17-17-17-11-17-5-17 2-17 8-17 13-17 17-17 21-17 23-16 25-17 25-17 23-17 21-17 18-17 13-17 7-17 2-9-1"/><path transform="translate(1000.1 1046.1)" d="M0 -30l-17-11-17-18-17-23-17-30-17-34-17-38-17-40-16-42-17-42-17-40-17-38-17-34-17-29-17-24-17-18-17-11-17-4-17 2-17 9-17 14-17 19-17 22-17 25-16 27-17 26M-508 -273l-17 2-9-1"/><path transform="translate(1011.2 1043.3)" d="M0 -31l-17-11-17-18-17-24-17-31-17-35-17-39-17-42-16-44-17-43-17-42-17-39-17-36-17-30-17-25-17-18-17-11-17-4-17 3-17 9-17 15-17 20-17 24-17 27-16 28M-508 -274l-17 3-9-2"/><path transform="translate(1022.2 1040.5)" d="M0 -31l-17-11-17-19-17-25-17-32-17-36-17-41-17-43-16-45-17-45-17-43-17-41-17-36-17-32-17-25-17-19-17-11-17-4-17 3-17 10-17 16-17 22-17 25-17 28M-525 -272l-9-1"/><path transform="translate(1033.3 1037.7)" d="M0 -31l-17-12-17-19-17-26-17-32-17-38-17-41-17-45-16-46-17-47-17-44-17-42-17-38-17-32-17-26-17-19-17-11-17-4-17 3-17 11-17 17-17 22-17 27-17 29M-525 -273l-9-1"/><path transform="translate(1044.4 1034.9)" d="M0 -32l-17-11-17-20-17-26-17-33-17-39-17-43-17-46-16-47-17-47-17-46-17-43-17-39-17-33-17-26-17-20-17-11-17-4-17 4-17 11-17 18-17 23-17 28"/><path transform="translate(1055.5 1032.1)" d="M0 -32l-17-12-17-19-17-27-17-34-17-40-17-43-17-47-16-49-17-48-17-47-17-44-17-39-17-34-17-27-17-20-17-11-17-4-17 4-17 12-17 18-17 24"/><path transform="translate(1066.6 1029.2)" d="M0 -33l-17-11-17-20-17-28-17-34-17-40-17-44-17-48-16-49-17-50-17-48-17-44-17-40-17-34-17-28-17-20-17-11-17-4-17 5-17 12-17 19-17 24"/><path transform="translate(1077.7 1026.4)" d="M0 -33l-17-12-17-20-17-27-17-35-17-41-17-45-17-48-16-50-17-50-17-49-17-45-17-40-17-35-17-28-17-20-17-12-17-3-17 5-17 12-17 19"/><path transform="translate(1088.8 1023.6)" d="M0 -33l-17-12-17-20-17-28-17-35-17-41-17-46-17-48-16-51-17-50-17-49-17-46-17-41-17-35-17-28-17-20-17-12-17-3-17 5-17 12-17 20"/><path transform="translate(1099.9 1020.8)" d="M0 -33l-17-12-17-20-17-28-17-35-17-42-17-46-17-49-16-51-17-50-17-50-17-45-17-42-17-35-17-28-17-20-17-12-17-3-17 4-17 13"/><path transform="translate(1111 1018)" d="M0 -33l-17-12-17-20-17-28-17-36-17-41-17-46-17-49-16-51-17-51-17-49-17-46-17-42-17-35-17-28-17-20-17-12-17-4-17 5-17 13"/><path transform="translate(1122.1 1015.2)" d="M0 -33l-17-12-17-20-17-28-17-35-17-42-17-46-17-49-16-51-17-50-17-50-17-45-17-42-17-35-17-28-17-20-17-12-17-3-17 4-17 13"/><path transform="translate(1133.2 1012.4)" d="M0 -33l-17-12-17-20-17-28-17-35-17-41-17-46-17-48-16-51-17-50-17-49-17-46-17-41-17-35-17-28-17-20-17-12-17-3-17 5"/><path transform="translate(1144.3 1009.6)" d="M0 -33l-17-12-17-20-17-27-17-35-17-41-17-45-17-48-16-50-17-50-17-49-17-45-17-40-17-35-17-28-17-20-17-12-17-3-17 5"/><path transform="translate(1155.4 1006.8)" d="M0 -33l-17-11-17-20-17-28-17-34-17-40-17-44-17-48-16-49-17-50-17-48-17-44-17-40-17-34-17-28-17-20-17-11-17-4-17 5"/><path transform="translate(1166.5 1003.9)" d="M0 -32l-17-12-17-19-17-27-17-34-17-40-17-43-17-47-16-49-17-48-17-47-17-44-17-39-17-34-17-27-17-20-17-11-17-4"/><path transform="translate(1177.6 1001.1)" d="M0 -32l-17-11-17-20-17-26-17-33-17-39-17-43-17-46-16-47-17-47-17-46-17-43-17-39-17-33-17-26-17-20-17-11-17-4"/><path transform="translate(1188.7 998.3)" d="M0 -31l-17-12-17-19-17-26-17-32-17-38-17-41-17-45-16-46-17-47-17-44-17-42-17-38-17-32-17-26-17-19-17-11"/><path transform="translate(1199.8 995.5)" d="M0 -31l-17-11-17-19-17-25-17-32-17-36-17-41-17-43-16-45-17-45-17-43-17-41-17-36-17-32-17-25-17-19-17-11"/><path transform="translate(1210.8 992.7)" d="M0 -31l-17-11-17-18-17-24-17-31-17-35-17-39-17-42-16-44-17-43-17-42-17-39-17-36-17-30-17-25-17-18-17-11"/><path transform="translate(1221.9 989.9)" d="M0 -30l-17-11-17-18-17-23-17-30-17-34-17-38-17-40-16-42-17-42-17-40-17-38-17-34-17-29-17-24-17-18"/><path transform="translate(1233 987.1)" d="M0 -29l-17-11-17-17-17-23-17-29-17-32-17-37-17-38-16-40-17-40-17-39-17-36-17-33-17-28-17-23-17-17"/><path transform="translate(1244.1 984.2)" d="M0 -29l-17-10-17-17-17-22-17-27-17-32-17-34-17-37-16-38-17-39-17-36-17-35-17-32-17-27-17-22-17-16"/><path transform="translate(1255.2 981.4)" d="M0 -28l-17-11-17-16-17-21-17-26-17-30-17-33-17-35-16-36-17-36-17-35-17-33-17-30-17-26-17-21-17-16"/><path transform="translate(1266.3 978.6)" d="M0 -28l-17-10-17-15-17-20-17-25-17-28-17-32-17-33-16-34-17-34-17-34-17-31-17-28-17-25-17-20"/><path transform="translate(1277.4 975.8)" d="M0 -27l-17-10-17-15-17-19-17-23-17-27-17-30-17-31-16-32-17-32-17-32-17-29-17-27-17-23-17-20"/><path transform="translate(1288.5 973)" d="M0 -26l-17-10-17-14-17-19-17-22-17-25-17-28-17-29-16-30-17-30-17-30-17-27-17-26-17-22-17-18"/><path transform="translate(1299.6 970.2)" d="M0 -25l-17-10-17-14-17-17-17-21-17-24-17-25-17-28-16-28-17-28-17-28-17-26-17-23-17-21-17-17"/><path transform="translate(1310.7 967.4)" d="M0 -25l-17-9-17-13-17-17-17-19-17-22-17-24-17-26-16-26-17-26-17-26-17-24-17-22-17-19"/><path transform="translate(1321.8 964.6)" d="M0 -24l-17-9-17-13-17-15-17-19-17-20-17-23-17-23-16-24-17-25-17-23-17-22-17-21-17-18"/><path transform="translate(1332.9 961.8)" d="M0 -24l-17-9-17-12-17-14-17-17-17-19-17-21-17-22-16-22-17-22-17-22-17-21-17-19-17-17"/><path transform="translate(1344 958.9)" d="M0 -23l-17-9-17-11-17-14-17-16-17-17-17-19-17-20-16-21-17-20-17-20-17-19-17-18-17-16"/><path transform="translate(1355.1 956.1)" d="M0 -22l-17-9-17-11-17-13-17-15-17-16-17-17-17-19-16-18-17-19-17-18-17-18-17-16-17-15"/><path transform="translate(1366.2 953.3)" d="M0 -22l-17-8-17-11-17-12-17-14-17-15-17-16-17-16-16-17-17-18-17-16-17-16-17-15-17-14"/><path transform="translate(1377.2 950.5)" d="M0 -21l-17-9-17-10-17-11-17-13-17-14-17-14-17-16-16-15-17-16-17-15-17-15-17-14-17-12"/><path transform="translate(1388.3 947.7)" d="M0 -21l-17-8-17-10-17-10-17-12-17-13-17-14-17-14-16-14-17-14-17-14-17-14-17-12-17-12"/><path transform="translate(1399.4 944.9)" d="M0 -20l-17-9-17-9-17-10-17-11-17-12-17-12-17-13-16-13-17-13-17-13-17-12-17-12-17-11-17-11"/><path transform="translate(1410.5 942.1)" d="M0 -20l-17-8-17-9-17-10-17-10-17-11-17-12-17-12-16-12-17-11-17-12-17-12-17-11-17-10-17-10"/><path transform="translate(1421.6 939.2)" d="M0 -20l-17-8-17-8-17-10-17-10-17-10-17-11-17-11-17-11-16-11-17-11-17-11-17-10-17-10-17-9-17-9"/><path transform="translate(1432.7 936.4)" d="M0 -20l-17-8-17-8-17-9-17-9-17-10-17-10-17-11-17-10-16-10-17-11-17-10-17-10-17-9-17-9-17-9-17-8"/><path transform="translate(1443.8 933.6)" d="M0 -19l-17-8-17-9-17-8-17-9-17-10-17-10-17-9-17-10-16-10-17-10-17-10-17-9-17-9-17-9-17-8-17-8"/><path transform="translate(1454.9 930.8)" d="M0 -19l-17-8-17-8-17-9-17-9-17-9-17-10-17-9-17-10-16-9-17-10-17-9-17-10-17-8-17-9-17-8-17-8-17-8"/></g>
<path class="ax" d="M756 1108L1466 928M756 1108L214 863M214 863L214 312M756 1108l6 10M756 1108l-9 8M933.5 1063l6 10M620.5 1046.8l-9 8M1111 1018l6 10M485 985.5l-9 8M1288.5 973l6 10M349.5 924.2l-9 8M1466 928l6 10M214 863l-9 8M214 863l-10 0M214 725.2l-10 0M214 587.5l-10 0M214 449.8l-10 0M214 312l-10 0"/>
<text class="tk" x="785" y="1165">-1</text>
<text class="tk e" x="728" y="1156">-1</text>
<text class="tk" x="962.5" y="1120">-0.5</text>
<text class="tk e" x="592.5" y="1094.8">-0.5</text>
<text class="tk" x="1140" y="1075">0</text>
<text class="tk e" x="457" y="1033.5">0</text>
<text class="tk" x="1317.5" y="1030">0.5</text>
<text class="tk e" x="321.5" y="972.2">0.5</text>
<text class="tk" x="1495" y="985">1</text>
<text class="tk e" x="186" y="907">1</text>
<text class="tk e" x="188" y="868">0</text>
<text class="tk e" x="188" y="730.2">0.5</text>
<text class="tk e" x="188" y="592.5">1</text>
<text class="tk e" x="188" y="454.8">1.5</text>
<text class="tk e" x="188" y="317">2</text>
<text class="lb" x="1058" y="1154">F<tspan class="sb" dy="9">x</tspan></text>
<text class="lb" x="465" y="1161.5">F<tspan class="sb" dy="9">y</tspan></text>
<text class="lb m" transform="translate(104 587.5) rotate(-90)">Magnitude</text>
<text class="ti" x="840" y="113">Kernel 1 Channel 1</text>
<text class="cp" transform="translate(786 1331) scale(1.1 1)">(<tspan class="b">a</tspan>) Kernel 1 Channel 1</text>
<path class="gr" d="M2220 1108L1678 863M1678 863L1678 312M2220 1108L2930 928M2930 928L2930 377M2397.5 1063L1855.5 818M1855.5 818L1855.5 267M2084.5 1046.8L2794.5 866.8M2794.5 866.8L2794.5 315.8M2575 1018L2033 773M2033 773L2033 222M1949 985.5L2659 805.5M2659 805.5L2659 254.5M2752.5 973L2210.5 728M2210.5 728L2210.5 177M1813.5 924.2L2523.5 744.2M2523.5 744.2L2523.5 193.3M2930 928L2388 683M2388 683L2388 132M1678 863L2388 683M2388 683L2388 132M1678 863L2388 683M2388 683L2930 928M1678 771.2L2388 591.2M2388 591.2L2930 836.2M1678 679.3L2388 499.3M2388 499.3L2930 744.3M1678 587.5L2388 407.5M2388 407.5L2930 652.5M1678 495.7L2388 315.7M2388 315.7L2930 560.7M1678 403.8L2388 223.8M2388 223.8L2930 468.8M1678 312L2388 132M2388 132L2930 377"/>
<defs><linearGradient id="a2" gradientUnits="userSpaceOnUse" x1="-1.3" y1="-5.2" x2="-119" y2="-469.4"><stop offset="0" stop-color="#3e26a8"/><stop offset="0.06" stop-color="#4434cd"/><stop offset="0.125" stop-color="#4852f4"/><stop offset="0.19" stop-color="#436cfe"/><stop offset="0.28" stop-color="#2e87f7"/><stop offset="0.34" stop-color="#2796eb"/><stop offset="0.4" stop-color="#1caadf"/><stop offset="0.45" stop-color="#0cb8cd"/><stop offset="0.5" stop-color="#1ebeb2"/><stop offset="0.57" stop-color="#37c897"/><stop offset="0.66" stop-color="#81cc59"/><stop offset="0.73" stop-color="#bbc334"/><stop offset="0.8" stop-color="#e8bc30"/><stop offset="0.875" stop-color="#fdcb36"/><stop offset="0.94" stop-color="#f6e428"/><stop offset="1" stop-color="#f9fb15"/></linearGradient><linearGradient id="b2" gradientUnits="userSpaceOnUse" x1="2.1" y1="-4.6" x2="187.5" y2="-414.8"><stop offset="0" stop-color="#3e26a8"/><stop offset="0.06" stop-color="#4434cd"/><stop offset="0.125" stop-color="#4852f4"/><stop offset="0.19" stop-color="#436cfe"/><stop offset="0.28" stop-color="#2e87f7"/><stop offset="0.34" stop-color="#2796eb"/><stop offset="0.4" stop-color="#1caadf"/><stop offset="0.45" stop-color="#0cb8cd"/><stop offset="0.5" stop-color="#1ebeb2"/><stop offset="0.57" stop-color="#37c897"/><stop offset="0.66" stop-color="#81cc59"/><stop offset="0.73" stop-color="#bbc334"/><stop offset="0.8" stop-color="#e8bc30"/><stop offset="0.875" stop-color="#fdcb36"/><stop offset="0.94" stop-color="#f6e428"/><stop offset="1" stop-color="#f9fb15"/></linearGradient></defs><path class="wu" d="M2220 1102l22-5 22-7 23-7 22-7 22-8 22-8 22-8 23-8 22-9 22-8 22-8 22-8 22-7 23-7 22-6 22-6 22-5 22-5 23-5 22-4 22-3 22-3 22-3 22-3 23-3 22-3 22-4 22-3 22-4 23-4 22-5 11-3-17-8-11 3-22 5-23 4-22 3-22 4-22 3-22 2-22 3-23 2-22 3-22 3-22 3-22 4-23 4-22 4-22 6-22 6-22 6-22 7-23 8-22 8-22 8-22 9-22 9-23 8-22 9-22 8-22 8-22 8-23 7-22 7-22 6zM2203 1095l22-6 22-7 23-7 22-8 22-8 22-8 22-9 23-8 22-9 22-9 22-8 22-8 23-8 22-7 22-6 22-6 22-6 22-4 23-4 22-4 22-3 22-3 22-3 23-2 22-3 22-2 22-3 22-4 22-3 23-4 22-5 11-3-17-8-11 2-22 5-22 3-23 3-22 2-22 2-22 2-22 1-23 1-22 2-22 2-22 2-22 3-22 3-23 5-22 5-22 6-22 7-22 7-23 9-22 9-22 9-22 10-22 10-23 10-22 10-22 9-22 9-22 9-23 7-22 7-22 6zM2186 1086l22-6 22-7 23-7 22-9 22-9 22-9 22-10 23-10 22-10 22-10 22-9 22-9 23-9 22-7 22-7 22-6 22-5 23-5 22-3 22-3 22-2 22-2 22-2 23-1 22-1 22-2 22-2 22-2 23-3 22-3 22-5 11-2-17-9-11 2-22 4-22 3-23 1-22 1-22 0-22 0-22-1-22-1-23 0-22 0-22 1-22 1-22 3-23 4-22 5-22 6-22 7-22 9-23 10-22 10-22 11-22 12-22 12-23 12-22 12-22 11-22 10-22 10-22 8-23 8-22 6zM2169 1077l22-6 23-8 22-8 22-10 22-10 22-11 22-12 23-12 22-12 22-12 22-11 22-10 23-10 22-9 22-7 22-6 22-5 23-4 22-3 22-1 22-1 22 0 23 0 22 1 22 1 22 0 22 0 22-1 23-1 22-3 22-4 11-2-17-10-11 3-22 3-22 1-22 0-23-1-22-3-22-3-22-3-22-3-23-3-22-3-22-1-22 0-22 1-23 3-22 5-22 7-22 8-22 10-23 11-22 13-22 13-22 14-22 15-22 14-23 15-22 13-22 13-22 11-22 10-23 8-22 7zM2152 1068l22-7 23-8 22-10 22-11 22-13 22-13 23-15 22-14 22-15 22-14 22-13 22-13 23-11 22-10 22-8 22-7 22-5 23-3 22-1 22 0 22 1 22 3 23 3 22 3 22 3 22 3 22 3 23 1 22 0 22-1 22-3 11-3-17-9-11 2-22 2-22-1-22-2-23-4-22-5-22-6-22-6-22-7-23-6-22-5-22-4-22-2-22 0-23 2-22 4-22 7-22 9-22 11-22 14-23 15-22 16-22 18-22 18-22 17-23 18-22 16-22 15-22 14-22 11-22 9-23 7zM2135 1058l23-7 22-9 22-11 22-14 22-15 22-16 23-18 22-17 22-18 22-18 22-16 23-15 22-14 22-11 22-9 22-7 22-4 23-2 22 0 22 2 22 4 22 5 23 6 22 7 22 6 22 6 22 5 23 4 22 2 22 1 22-2 11-2-17-11-11 2-22 1-22-2-22-4-23-7-22-9-22-9-22-10-22-11-23-9-22-9-22-7-22-4-22-2-22 1-23 4-22 7-22 10-22 14-22 15-23 18-22 20-22 21-22 22-22 21-22 21-23 20-22 18-22 15-22 14-22 10-23 7zM2118 1048l23-7 22-10 22-14 22-15 22-18 23-20 22-21 22-21 22-22 22-21 22-20 23-18 22-15 22-14 22-10 22-7 23-4 22-1 22 2 22 4 22 7 22 9 23 9 22 11 22 10 22 9 22 9 23 7 22 4 22 2 22-1 11-2-17-10-11 1-22 0-22-4-22-7-23-9-22-12-22-14-22-14-22-15-22-13-23-12-22-10-22-7-22-4-22 0-23 4-22 7-22 12-22 15-22 18-22 21-23 23-22 25-22 26-22 25-22 25-23 23-22 21-22 19-22 15-22 11-23 8zM2101 1038l23-8 22-11 22-15 22-19 22-21 23-23 22-25 22-25 22-26 22-25 23-23 22-21 22-18 22-15 22-12 22-7 23-4 22 0 22 4 22 7 22 10 23 12 22 13 22 15 22 14 22 14 22 12 23 9 22 7 22 4 22 0 11-1-17-10-11 1-22-2-22-5-22-10-22-13-23-16-22-18-22-18-22-19-22-17-23-16-22-13-22-10-22-5-22-2-22 3-23 8-22 13-22 17-22 21-22 24-23 27-22 29-22 30-22 30-22 28-23 27-22 25-22 21-22 17-22 12-23 8zM2084 1027l23-8 22-12 22-17 22-21 22-25 23-27 22-28 22-30 22-30 22-29 23-27 22-24 22-21 22-17 22-13 23-8 22-3 22 2 22 5 22 10 22 13 23 16 22 17 22 19 22 18 22 18 23 16 22 13 22 10 22 5 22 2 11-1-17-11-11 1-22-3-22-7-22-13-22-16-23-20-22-21-22-23-22-22-22-22-22-19-23-17-22-12-22-8-22-3-22 3-23 9-22 14-22 19-22 23-22 28-23 30-22 33-22 34-22 34-22 33-23 31-22 27-22 24-22 19-22 14-22 8zM2068 1017l22-8 22-14 22-19 22-24 22-27 23-31 22-33 22-34 22-34 22-33 23-30 22-28 22-23 22-19 22-14 23-9 22-3 22 3 22 8 22 12 23 17 22 19 22 22 22 22 22 23 22 21 23 20 22 16 22 13 22 7 22 3 11-1-16-10-12 0-22-3-22-10-22-15-22-20-22-23-23-25-22-27-22-26-22-26-22-23-23-19-22-15-22-10-22-4-22 3-23 9-22 15-22 21-22 26-22 31-23 34-22 36-22 38-22 38-22 37-22 34-23 31-22 26-22 21-22 15-22 9zM2051 1007l22-9 22-15 22-21 22-26 23-31 22-34 22-37 22-38 22-38 22-36 23-34 22-31 22-26 22-21 22-15 23-9 22-3 22 4 22 10 22 15 23 19 22 23 22 26 22 26 22 27 23 25 22 23 22 20 22 15 22 10 22 3 12 0-17-10-11 0-23-5-22-11-22-18-22-22-22-26-23-29-22-31-22-30-22-29-22-26-23-23-22-17-22-11-22-5-22 2-23 9-22 16-22 23-22 28-22 34-22 38-23 40-22 41-22 42-22 40-22 38-23 33-22 29-22 23-22 16-22 9zM2034 997l22-9 22-16 22-23 22-29 23-33 22-38 22-40 22-42 22-41 23-40 22-38 22-34 22-28 22-23 22-16 23-9 22-2 22 5 22 11 22 17 23 23 22 26 22 29 22 30 22 31 23 29 22 26 22 22 22 18 22 11 23 5 11 0-17-10-11 0-23-6-22-13-22-19-22-25-22-29-23-32-22-34-22-34-22-32-22-29-23-25-22-19-22-13-22-6-22 2-22 9-23 17-22 25-22 30-22 36-22 41-23 43-22 45-22 45-22 43-22 41-22 36-23 30-22 25-22 17-22 9zM2017 987l22-9 22-17 22-25 23-30 22-36 22-41 22-43 22-45 22-45 23-43 22-41 22-36 22-30 22-25 23-17 22-9 22-2 22 6 22 13 22 19 23 25 22 29 22 32 22 34 22 34 23 32 22 29 22 25 22 19 22 13 23 6 11 0-17-9-11-1-23-6-22-15-22-21-22-27-22-31-23-35-22-36-22-36-22-35-22-31-22-27-23-21-22-15-22-6-22 1-22 10-23 18-22 25-22 33-22 38-22 43-22 45-23 48-22 47-22 46-22 43-22 38-23 33-22 25-22 18-22 10zM2000 978l22-10 22-18 22-25 23-33 22-38 22-43 22-46 22-47 23-48 22-45 22-43 22-38 22-33 22-25 23-18 22-10 22-1 22 6 22 15 23 21 22 27 22 31 22 35 22 36 22 36 23 35 22 31 22 27 22 21 22 15 23 6 11 1-17-9-11-1-23-7-22-15-22-23-22-28-22-33-22-37-23-38-22-38-22-37-22-33-22-29-23-22-22-15-22-7-22 1-22 10-22 18-23 27-22 33-22 40-22 45-22 47-23 50-22 49-22 48-22 45-22 39-23 34-22 26-22 19-22 10zM1983 969l22-10 22-19 22-26 23-34 22-39 22-45 22-48 22-49 23-50 22-47 22-45 22-40 22-33 23-27 22-18 22-10 22-1 22 7 22 15 23 22 22 29 22 33 22 37 22 38 23 38 22 37 22 33 22 28 22 23 22 15 23 7 11 1-17-9-11 0-22-8-23-16-22-23-22-29-22-35-22-37-23-40-22-39-22-38-22-34-22-30-22-23-23-16-22-7-22 1-22 10-22 19-23 27-22 34-22 41-22 46-22 48-23 51-22 51-22 49-22 46-22 40-23 35-22 27-22 18-22 10zM1966 960l22-10 22-18 22-27 23-35 22-40 22-46 22-49 22-51 23-51 22-48 22-46 22-41 22-34 23-27 22-19 22-10 22-1 22 7 23 16 22 23 22 30 22 34 22 38 22 39 23 40 22 37 22 35 22 29 22 23 23 16 22 8 11 0-17-8-11 0-22-8-23-16-22-23-22-30-22-35-22-38-22-40-23-40-22-38-22-35-22-29-22-24-23-16-22-7-22 1-22 10-22 19-23 27-22 35-22 41-22 46-22 49-23 51-22 51-22 50-22 46-22 41-22 34-23 27-22 19-22 10zM1949 952l22-10 22-19 23-27 22-34 22-41 22-46 22-50 22-51 23-51 22-49 22-46 22-41 22-35 23-27 22-19 22-10 22-1 22 7 23 16 22 24 22 29 22 35 22 38 23 40 22 40 22 38 22 35 22 30 22 23 23 16 22 8 11 0-17-7-11-1-22-7-22-16-23-23-22-30-22-34-22-38-22-39-23-40-22-37-22-35-22-29-22-23-23-16-22-7-22 1-22 10-22 19-23 27-22 34-22 41-22 45-22 49-22 51-23 51-22 49-22 45-22 41-22 34-23 27-22 19-22 10zM1932 945l22-10 22-19 23-27 22-34 22-41 22-45 22-49 23-51 22-51 22-49 22-45 22-41 22-34 23-27 22-19 22-10 22-1 22 7 23 16 22 23 22 29 22 35 22 37 23 40 22 39 22 38 22 34 22 30 23 23 22 16 22 7 11 1-17-7-11-1-22-7-22-15-23-22-22-29-22-33-22-36-22-39-23-38-22-37-22-33-22-28-22-23-23-15-22-7-22 1-22 10-22 19-22 26-23 34-22 39-22 45-22 48-22 49-23 50-22 48-22 44-22 40-22 33-22 27-23 18-22 10zM1915 938l22-10 23-18 22-27 22-33 22-40 22-44 22-48 23-50 22-49 22-48 22-45 22-39 23-34 22-26 22-19 22-10 22-1 22 7 23 15 22 23 22 28 22 33 22 37 23 38 22 39 22 36 22 33 22 29 23 22 22 15 22 7 11 1-17-6-11-1-22-6-22-15-23-21-22-27-22-31-22-35-22-36-23-36-22-35-22-31-22-27-22-21-22-15-23-6-22 1-22 10-22 18-22 25-23 33-22 38-22 43-22 46-22 47-22 48-23 45-22 43-22 38-22 33-22 25-23 18-22 10zM1898 932l22-10 23-18 22-25 22-33 22-38 22-43 23-45 22-48 22-47 22-46 22-43 22-38 23-33 22-25 22-18 22-10 22-1 23 6 22 15 22 21 22 27 22 31 22 35 23 36 22 36 22 35 22 31 22 27 23 21 22 15 22 6 11 1-17-6-11 0-22-6-22-13-23-20-22-24-22-30-22-32-22-33-22-34-23-32-22-29-22-25-22-19-22-13-23-6-22 2-22 9-22 17-22 24-22 31-23 36-22 41-22 43-22 45-22 45-23 43-22 40-22 36-22 31-22 24-23 17-22 10zM1881 926l22-10 23-17 22-24 22-31 22-36 22-40 23-43 22-45 22-45 22-43 22-41 23-36 22-31 22-24 22-17 22-9 22-2 23 6 22 13 22 19 22 25 22 29 23 32 22 34 22 33 22 32 22 30 22 24 23 20 22 13 22 6 11 0-17-6-11 0-22-5-22-11-22-17-23-23-22-26-22-29-22-30-22-31-23-29-22-26-22-22-22-17-22-12-22-5-23 2-22 9-22 17-22 22-22 29-23 33-22 38-22 40-22 42-22 41-23 41-22 37-22 34-22 28-22 23-23 16-22 9zM1864 920l22-9 23-16 22-23 22-28 22-34 22-37 23-41 22-41 22-42 22-40 22-38 23-33 22-29 22-22 22-17 22-9 23-2 22 5 22 12 22 17 22 22 22 26 23 29 22 31 22 30 22 29 22 26 23 23 22 17 22 11 22 5 11 0-17-5-11 0-22-3-22-10-22-15-23-19-22-23-22-26-22-27-22-26-22-26-23-23-22-19-22-15-22-10-22-3-23 2-22 9-22 15-22 21-22 26-23 31-22 34-22 37-22 37-22 38-23 37-22 34-22 31-22 26-22 21-22 15-23 9zM1847 915l23-9 22-15 22-21 22-26 22-31 22-34 23-37 22-38 22-37 22-37 22-34 23-31 22-26 22-21 22-15 22-9 23-2 22 3 22 10 22 15 22 19 23 23 22 26 22 26 22 27 22 26 22 23 23 19 22 15 22 10 22 3 11 0-17-5-11 1-22-3-22-8-22-12-22-16-23-20-22-21-22-23-22-23-22-21-23-20-22-16-22-12-22-8-22-3-23 3-22 8-22 14-22 19-22 24-23 28-22 30-22 33-22 34-22 34-22 33-23 30-22 28-22 24-22 19-22 14-23 8zM1830 910l23-8 22-14 22-19 22-24 22-28 23-30 22-33 22-34 22-34 22-33 22-30 23-28 22-24 22-19 22-14 22-8 23-3 22 3 22 8 22 12 22 16 23 20 22 21 22 23 22 23 22 21 23 20 22 16 22 12 22 8 22 3 11-1-17-5-11 1-22-1-22-6-22-10-22-13-23-16-22-17-22-19-22-18-22-18-23-15-22-13-22-10-22-6-22-1-23 3-22 8-22 13-22 17-22 21-22 24-23 27-22 29-22 29-22 30-22 29-23 27-22 24-22 21-22 17-22 13-22 8zM1814 905l22-8 22-13 22-17 22-21 22-24 23-27 22-29 22-30 22-29 22-29 23-27 22-24 22-21 22-17 22-13 22-8 23-3 22 1 22 6 22 10 22 13 23 15 22 18 22 18 22 19 22 17 23 16 22 13 22 10 22 6 22 1 11-1-17-5-11 2-22-1-22-3-22-7-22-10-23-12-22-14-22-14-22-14-22-14-23-12-22-10-22-7-22-4-22 0-22 4-23 7-22 12-22 15-22 18-22 21-23 24-22 24-22 26-22 25-22 25-22 23-23 22-22 18-22 15-22 11-22 8zM1797 900l22-8 22-11 22-15 22-18 23-22 22-23 22-25 22-25 22-26 22-24 23-24 22-21 22-18 22-15 22-12 23-7 22-4 22 0 22 4 22 7 22 10 23 12 22 14 22 14 22 14 22 14 23 12 22 10 22 7 22 3 22 1 11-2-16-5-12 2-22 1-22-2-22-4-22-7-23-9-22-9-22-11-22-10-22-10-22-8-23-7-22-4-22-2-22 1-22 4-23 7-22 10-22 13-22 16-22 18-22 20-23 21-22 21-22 22-22 21-22 20-23 18-22 15-22 13-22 11-22 7zM1780 895l22-7 22-11 22-13 22-15 23-18 22-20 22-21 22-22 22-21 23-21 22-20 22-18 22-16 22-13 22-10 23-7 22-4 22-1 22 2 22 4 23 7 22 8 22 10 22 10 22 11 22 9 23 9 22 7 22 4 22 2 22-1 12-2-17-5-12 2-22 2-22 0-22-2-22-4-22-5-23-6-22-7-22-6-22-7-22-5-23-4-22-2-22 0-22 2-22 5-22 6-23 10-22 11-22 13-22 15-22 17-23 17-22 18-22 18-22 17-22 17-23 15-22 13-22 12-22 9-22 7zM1763 890l22-7 22-9 22-12 22-13 23-15 22-17 22-17 22-18 22-18 23-17 22-17 22-15 22-13 22-11 23-10 22-6 22-5 22-2 22 0 22 2 23 4 22 5 22 7 22 6 22 7 23 6 22 5 22 4 22 2 22 0 22-2 12-2-17-5-11 2-23 3-22 1-22 0-22-1-22-3-23-3-22-3-22-3-22-3-22-2-22-2-23 0-22 1-22 4-22 4-22 7-23 8-22 10-22 11-22 13-22 13-23 15-22 14-22 15-22 14-22 14-22 12-23 11-22 10-22 9-22 6zM1746 884l22-6 22-9 22-10 23-11 22-12 22-14 22-14 22-15 22-14 23-15 22-13 22-13 22-11 22-10 23-8 22-7 22-4 22-4 22-1 23 0 22 2 22 2 22 3 22 3 22 3 23 3 22 3 22 1 22 0 22-1 23-3 11-2-17-6-11 2-23 4-22 3-22 1-22 1-22 0-22 0-23-1-22-1-22 0-22 0-22 1-23 1-22 3-22 4-22 5-22 6-23 7-22 9-22 10-22 10-22 11-22 12-23 12-22 12-22 11-22 12-22 10-23 10-22 8-22 8-22 6zM1729 878l22-6 22-8 22-8 23-10 22-10 22-12 22-11 22-12 23-12 22-12 22-11 22-10 22-10 22-9 23-7 22-6 22-5 22-4 22-3 23-1 22-1 22 0 22 0 22 1 23 1 22 0 22 0 22-1 22-1 22-3 23-4 11-2-17-7-11 3-22 4-23 4-22 3-22 2-22 2-22 1-23 2-22 1-22 1-22 2-22 2-23 3-22 4-22 4-22 5-22 7-23 6-22 8-22 8-22 9-22 10-22 10-23 10-22 10-22 9-22 10-22 9-23 8-22 8-22 7-22 6zM1712 872l22-6 22-7 22-8 23-8 22-9 22-10 22-9 22-10 23-10 22-10 22-10 22-9 22-8 22-8 23-6 22-7 22-5 22-4 22-4 23-3 22-2 22-2 22-1 22-1 23-2 22-1 22-2 22-2 22-3 23-4 22-4 11-3-17-6-11 2-22 5-23 4-22 4-22 3-22 3-22 2-23 3-22 3-22 2-22 3-22 3-23 4-22 4-22 5-22 5-22 6-22 7-23 7-22 7-22 8-22 9-22 8-23 9-22 9-22 8-22 9-22 8-22 7-23 7-22 7-22 6zM1695 865l22-6 22-7 23-7 22-7 22-8 22-9 22-8 22-9 23-9 22-8 22-9 22-8 22-7 23-7 22-7 22-6 22-5 22-5 22-4 23-4 22-3 22-3 22-2 22-3 23-3 22-2 22-3 22-3 22-4 23-4 22-5 11-2-9-4-11 3-22 4-22 5-22 4-22 3-23 3-22 3-22 3-22 3-22 3-23 3-22 3-22 4-22 4-22 5-23 6-22 6-22 6-22 7-22 7-22 8-23 8-22 9-22 8-22 8-22 9-23 8-22 8-22 7-22 7-22 6-23 6z"/><g class="ml" stroke="url(#a2)"><path transform="translate(2220 1108)" d="M0 -6l22-5 22-7 23-7 22-7 22-8 22-8 22-8 23-8 22-9 22-8 22-8 22-8 22-7 23-7 22-6 22-6 22-5 22-5 23-5 22-4 22-3 22-3 22-3 22-3 23-3 22-3 22-4 22-3 22-4 23-4 22-5 11-3"/><path transform="translate(2211.5 1104.2)" d="M0 -6l22-5 22-7 23-7 22-7 22-8 22-8 22-8 23-9 22-8 22-9 22-8 22-7 22-8 23-7 22-6 22-6 22-6 22-4 23-5 22-3 22-4 22-3 22-3 22-3 23-3 22-3 22-3 22-3 22-4 23-4 22-5 11-3"/><path transform="translate(2203.1 1100.3)" d="M0 -6l22-6 22-6 23-7 22-8 22-8 22-8 22-9 23-9 22-8 22-9 22-8 22-8 22-8 23-7 22-7 22-6 22-5 22-5 23-4 22-3 22-4 22-2 22-3 22-3 23-2 22-3 22-3 22-3 22-4 23-4 22-4 11-3"/><path transform="translate(2194.6 1096.5)" d="M0 -6l22-6 22-7 23-7 22-8 22-8 22-9 22-9 23-10 22-9 22-9 22-9 22-8 22-8 23-7 22-7 22-6 22-5 22-5 23-4 22-3 22-3 22-2 22-3 23-2 22-2 22-2 22-2 22-3 22-3 23-4 22-5 11-2"/><path transform="translate(2186.1 1092.7)" d="M0 -7l22-6 22-6 23-8 22-9 22-9 22-9 22-10 23-10 22-10 22-9 22-10 22-9 22-8 23-8 22-7 22-6 22-5 22-4 23-4 22-3 22-2 22-2 22-1 22-2 23-1 22-1 22-2 22-3 22-2 23-4 22-4 11-3"/><path transform="translate(2177.7 1088.9)" d="M0 -7l22-6 22-7 23-9 22-8 22-10 22-10 22-11 23-11 22-11 22-10 22-11 22-9 22-9 23-8 22-7 22-7 22-5 22-4 23-3 22-2 22-2 22-1 22 0 22-1 23 0 22-1 22-1 22-1 22-3 23-3 22-4 11-2"/><path transform="translate(2169.2 1085)" d="M0 -8l22-6 22-8 23-8 22-10 22-10 22-12 22-11 23-12 22-12 22-12 22-11 22-10 22-10 23-9 22-7 22-6 22-5 22-4 23-3 22-1 22-1 22 0 22 0 22 1 23 1 22 0 22 0 22-1 22-1 23-3 22-4 11-2"/><path transform="translate(2160.7 1081.2)" d="M0 -9l22-6 22-8 23-9 22-10 22-12 22-12 22-13 23-13 22-13 22-13 22-13 22-11 22-11 23-9 22-8 22-6 22-5 22-3 23-2 22-1 22 0 22 1 22 2 22 2 23 2 22 1 22 1 22 1 22-1 23-2 22-4 11-2"/><path transform="translate(2152.2 1077.4)" d="M0 -10l22-6 22-8 23-10 22-11 22-13 22-14 22-14 23-14 22-15 22-14 22-14 22-12 22-12 23-10 22-8 22-6 22-5 22-3 23-2 22 1 22 1 22 2 22 3 23 4 22 3 22 3 22 2 22 2 22 0 23-2 22-3 11-2"/><path transform="translate(2143.8 1073.5)" d="M0 -11l22-6 22-9 23-11 22-12 22-14 22-15 22-15 23-16 22-17 22-15 22-15 22-14 22-12 23-11 22-9 22-6 22-5 22-2 23-1 22 1 22 2 22 4 22 5 22 5 23 4 22 5 22 4 22 2 22 1 23 0 22-3 11-2"/><path transform="translate(2135.3 1069.7)" d="M0 -12l22-6 22-10 23-11 22-13 22-16 22-16 22-17 23-18 22-18 22-17 22-17 22-15 22-13 23-12 22-9 22-7 22-4 22-2 23 0 22 2 22 4 22 5 22 6 22 7 23 6 22 7 22 5 22 4 22 2 23 0 22-2 11-2"/><path transform="translate(2126.8 1065.9)" d="M0 -13l22-7 22-10 23-12 22-14 22-17 22-18 22-19 23-20 22-19 22-19 22-18 22-17 22-14 23-13 22-9 22-7 22-5 22-1 23 1 22 3 22 5 22 7 22 8 22 8 23 9 22 8 22 6 22 6 22 3 23 1 22-2 11-1"/><path transform="translate(2118.4 1062.1)" d="M0 -14l22-7 22-10 23-14 22-15 22-18 22-20 22-21 23-22 22-21 22-21 22-20 22-18 22-15 23-14 22-10 22-7 22-4 22-1 23 2 22 4 22 7 22 9 22 9 22 10 23 11 22 9 22 9 22 7 22 4 23 2 22-1 11-2"/><path transform="translate(2109.9 1058.2)" d="M0 -15l22-8 22-11 23-14 22-17 22-19 22-22 22-22 23-24 22-23 22-23 22-22 22-19 22-17 23-14 22-11 22-8 22-3 22-1 23 3 22 6 22 8 22 10 22 12 23 12 22 12 22 12 22 10 22 8 22 6 23 3 22 0 11-2"/><path transform="translate(2101.4 1054.4)" d="M0 -17l22-7 22-12 23-15 22-18 22-21 22-23 22-25 23-26 22-25 22-25 22-23 22-21 22-19 23-15 22-11 22-8 22-3 22 0 23 4 22 7 22 9 22 12 22 14 22 14 23 15 22 13 22 12 22 10 22 7 23 4 22 0 11-1"/><path transform="translate(2093 1050.6)" d="M0 -18l22-8 22-12 23-16 22-19 22-23 22-25 22-27 23-28 22-27 22-27 22-25 22-23 22-20 23-16 22-12 22-7 22-4 22 1 23 5 22 8 22 12 22 13 22 16 22 16 23 17 22 15 22 14 22 12 22 8 23 5 22 1 11-2"/><path transform="translate(2084.5 1046.8)" d="M0 -19l22-8 22-13 23-17 22-21 22-24 22-27 22-29 23-30 22-30 22-28 22-27 22-25 22-21 23-17 22-12 22-8 22-4 22 2 23 6 22 9 22 13 22 16 22 18 22 18 23 19 22 17 22 16 22 13 22 10 23 6 22 1 11-1"/><path transform="translate(2076 1042.9)" d="M0 -21l22-8 22-13 23-18 22-22 22-26 22-29 22-31 23-32 22-32 22-31 22-28 22-26 22-23 23-18 22-13 22-8 22-3 22 2 23 7 22 11 22 14 22 18 22 20 22 20 23 21 22 19 22 18 22 15 22 11 23 6 22 2 11 0"/><path transform="translate(2067.6 1039.1)" d="M0 -22l22-8 22-14 23-19 22-24 22-28 22-30 22-33 23-34 22-34 22-33 22-30 22-28 22-24 23-19 22-13 22-9 22-3 22 3 23 8 22 12 22 16 22 20 22 21 23 23 22 23 22 21 22 20 22 16 22 12 23 8 22 3 11-1"/><path transform="translate(2059.1 1035.3)" d="M0 -23l22-9 22-14 23-20 22-25 22-29 22-33 22-35 23-36 22-36 22-34 22-33 22-29 22-25 23-20 22-14 22-9 22-3 22 4 23 8 22 14 22 18 22 21 22 24 22 24 23 25 22 24 22 21 22 18 22 13 23 9 22 3 11 0"/><path transform="translate(2050.6 1031.4)" d="M0 -25l22-8 22-15 23-21 22-27 22-30 22-34 22-37 23-38 22-38 22-37 22-34 22-31 22-26 23-21 22-15 22-9 22-2 22 4 23 9 22 15 22 20 22 23 22 25 22 27 23 27 22 25 22 23 22 19 22 15 23 10 22 4 11-1"/><path transform="translate(2042.2 1027.6)" d="M0 -26l22-9 22-15 23-22 22-28 22-32 22-36 22-38 23-40 22-40 22-38 22-36 22-32 22-28 23-22 22-15 22-9 22-3 22 5 23 10 22 17 22 20 22 25 22 27 22 29 23 29 22 27 22 24 22 21 22 17 23 10 22 4 11 0"/><path transform="translate(2033.7 1023.8)" d="M0 -27l22-9 22-16 23-23 22-28 22-34 22-38 22-40 23-41 22-42 22-40 22-38 22-33 22-29 23-23 22-16 22-9 22-2 22 5 23 11 22 18 22 22 22 26 22 29 22 31 23 30 22 29 22 26 22 23 22 17 23 11 22 5 11 0"/><path transform="translate(2025.2 1020)" d="M0 -28l22-9 22-17 23-23 22-30 22-35 22-39 22-42 23-43 22-43 22-42 22-39 22-35 22-30 23-23 22-17 22-9 22-2 22 5 23 12 22 19 22 23 22 28 22 31 22 32 23 32 22 31 22 27 22 24 22 18 23 13 22 5 11 0"/><path transform="translate(2016.8 1016.1)" d="M0 -29l22-10 22-17 23-24 22-30 22-37 22-40 22-43 23-45 22-45 22-43 22-41 22-36 22-30 23-25 22-17 22-9 22-2 22 6 23 13 22 19 22 25 22 29 22 32 22 34 23 33 22 33 22 29 22 25 22 19 23 13 22 6 11 0"/><path transform="translate(2008.3 1012.3)" d="M0 -30l22-10 22-17 23-25 22-31 22-38 22-41 22-45 23-46 22-47 22-44 22-42 22-37 22-32 23-25 22-17 22-10 22-1 22 6 23 14 22 20 22 26 22 30 22 34 22 35 23 35 22 33 22 31 22 26 22 20 23 13 22 7 11 0"/><path transform="translate(1999.8 1008.5)" d="M0 -31l22-9 22-18 23-26 22-32 22-38 22-43 22-46 23-48 22-47 22-46 22-43 22-38 22-32 23-26 22-18 22-9 22-2 22 7 23 14 22 21 22 27 22 32 22 34 22 36 23 37 22 34 22 32 22 27 22 21 23 14 22 7 11 0"/><path transform="translate(1991.3 1004.6)" d="M0 -31l22-10 22-18 23-26 22-33 22-39 22-44 22-47 23-49 22-48 22-47 22-44 22-39 22-33 23-26 22-18 22-10 22-1 22 6 23 15 22 22 22 28 22 32 22 36 22 37 23 38M643 -232l23 15 22 7 11 0"/><path transform="translate(1982.9 1000.8)" d="M0 -32l22-10 22-18 23-27 22-33 22-40 22-45 22-47 23-50 22-49 22-48 22-45 22-39 22-34 23-26 22-19 22-10 22-1 22 7 23 15 22 23 22 28 22 33 22 37 22 38M666 -218l22 7 11 1"/><path transform="translate(1974.4 997)" d="M0 -32l22-10 22-19 23-27 22-34 22-40 22-45 22-49 23-50 22-50 22-49 22-45 22-40 22-34 23-27 22-19 22-10 22-1 22 8 23 15 22 23 22 29 22 34 22 37M666 -219l22 8 11 0"/><path transform="translate(1965.9 993.2)" d="M0 -33l22-10 22-19 23-27 22-34 22-41 22-45 22-49 23-51 22-51 22-49 22-45 22-41 22-34 23-27 22-19 22-10 22-1 22 7 23 16 22 23 22 30 22 34M666 -219l22 7 11 1"/><path transform="translate(1957.5 989.3)" d="M0 -33l22-10 22-19 23-27 22-35 22-41 22-45 22-50 23-51 22-51 22-49 22-46 22-41 22-34 23-27 22-19 22-10 22-2 22 8 23 16 22 23 22 30M688 -212l11 1"/><path transform="translate(1949 985.5)" d="M0 -33l22-10 22-19 23-27 22-35 22-41 22-46 22-49 23-51 22-51 22-50 22-46 22-41 22-34 23-28 22-18 22-11 22-1 22 8 23 16 22 23M688 -212l11 1"/><path transform="translate(1940.5 981.7)" d="M0 -33l22-10 22-19 23-27 22-35 22-41 22-45 22-50 23-51 22-51 22-49 22-46 22-41 22-34 23-27 22-19 22-10 22-2 22 8 23 16M688 -212l11 1"/><path transform="translate(1932.1 977.8)" d="M0 -33l22-10 22-19 23-27 22-34 22-41 22-45 22-49 23-51 22-51 22-49 22-45 22-41 22-34 23-27 22-19 22-10 22-1 22 7 23 16"/><path transform="translate(1923.6 974)" d="M0 -32l22-10 22-19 23-27 22-34 22-40 22-45 22-49 23-50 22-50 22-49 22-45 22-40 22-34 23-27 22-19 22-10 22-1 22 8"/><path transform="translate(1915.1 970.2)" d="M0 -32l22-10 22-18 23-27 22-33 22-40 22-45 22-47 23-50 22-49 22-48 22-45 22-39 22-34 23-26 22-19 22-10 22-1"/><path transform="translate(1906.7 966.4)" d="M0 -31l22-10 22-18 23-26 22-33 22-39 22-44 22-47 23-49 22-48 22-47 22-44 22-39 22-33 23-26 22-18 22-10 22-1"/><path transform="translate(1898.2 962.5)" d="M0 -31l22-9 22-18 23-26 22-32 22-38 22-43 22-46 23-48 22-47 22-46 22-43 22-38 22-32 23-26 22-18 22-9"/><path transform="translate(1889.7 958.7)" d="M0 -30l22-10 22-17 23-25 22-31 22-38 22-41 22-45 23-46 22-47 22-44 22-42 22-37 22-32 23-25 22-17"/><path transform="translate(1881.2 954.9)" d="M0 -29l22-10 22-17 23-24 22-30 22-37 22-40 22-43 23-45 22-45 22-43 22-41 22-36 22-30 23-25 22-17"/><path transform="translate(1872.8 951)" d="M0 -28l22-9 22-17 23-23 22-30 22-35 22-39 22-42 23-43 22-43 22-42 22-39 22-35 22-30 23-23"/><path transform="translate(1864.3 947.2)" d="M0 -27l22-9 22-16 23-23 22-28 22-34 22-38 22-40 23-41 22-42 22-40 22-38 22-33 22-29 23-23"/><path transform="translate(1855.8 943.4)" d="M0 -26l22-9 22-15 23-22 22-28 22-32 22-36 22-38 23-40 22-40 22-38 22-36 22-32 22-28"/><path transform="translate(1847.4 939.6)" d="M0 -25l22-8 22-15 23-21 22-27 22-30 22-34 22-37 23-38 22-38 22-37 22-34 22-31 22-26"/><path transform="translate(1838.9 935.7)" d="M0 -23l22-9 22-14 23-20 22-25 22-29 22-33 22-35 23-36 22-36 22-34 22-33 22-29"/><path transform="translate(1830.4 931.9)" d="M0 -22l22-8 22-14 23-19 22-24 22-28 22-30 22-33 23-34 22-34 22-33 22-30 22-28"/><path transform="translate(1822 928.1)" d="M0 -21l22-8 22-13 23-18 22-22 22-26 22-29 22-31 23-32 22-32 22-31 22-28 22-26"/><path transform="translate(1813.5 924.2)" d="M0 -19l22-8 22-13 23-17 22-21 22-24 22-27 22-29 23-30 22-30 22-28 22-27"/><path transform="translate(1805 920.4)" d="M0 -18l22-8 22-12 23-16 22-19 22-23 22-25 22-27 23-28 22-27 22-27 22-25"/><path transform="translate(1796.6 916.6)" d="M0 -17l22-7 22-12 23-15 22-18 22-21 22-23 22-25 23-26 22-25 22-25 22-23"/><path transform="translate(1788.1 912.8)" d="M0 -15l22-8 22-11 23-14 22-17 22-19 22-22 22-22 23-24 22-23 22-23"/><path transform="translate(1779.6 908.9)" d="M0 -14l22-7 22-10 23-14 22-15 22-18 22-20 22-21 23-22 22-21 22-21"/><path transform="translate(1771.2 905.1)" d="M0 -13l22-7 22-10 23-12 22-14 22-17 22-18 22-19 23-20 22-19 22-19"/><path transform="translate(1762.7 901.3)" d="M0 -12l22-6 22-10 23-11 22-13 22-16 22-16 22-17 23-18 22-18 22-17"/><path transform="translate(1754.2 897.5)" d="M0 -11l22-6 22-9 23-11 22-12 22-14 22-15 22-15 23-16 22-17 22-15"/><path transform="translate(1745.8 893.6)" d="M0 -10l22-6 22-8 23-10 22-11 22-13 22-14 22-14 23-14 22-15 22-14"/><path transform="translate(1737.3 889.8)" d="M0 -9l22-6 22-8 23-9 22-10 22-12 22-12 22-13 23-13 22-13 22-13"/><path transform="translate(1728.8 886)" d="M0 -8l22-6 22-8 23-8 22-10 22-10 22-12 22-11 23-12 22-12 22-12"/><path transform="translate(1720.3 882.1)" d="M0 -7l22-6 22-7 23-9 22-8 22-10 22-10 22-11 23-11 22-11 22-10 22-11"/><path transform="translate(1711.9 878.3)" d="M0 -7l22-6 22-6 23-8 22-9 22-9 22-9 22-10 23-10 22-10 22-9 22-10"/><path transform="translate(1703.4 874.5)" d="M0 -6l22-6 22-7 23-7 22-8 22-8 22-9 22-9 23-10 22-9 22-9 22-9 22-8"/><path transform="translate(1694.9 870.7)" d="M0 -6l22-6 22-6 23-7 22-8 22-8 22-8 22-9 23-9 22-8 22-9 22-8 22-8"/><path transform="translate(1686.5 866.8)" d="M0 -6l22-5 22-7 23-7 22-7 22-8 22-8 22-8 23-9 22-8 22-9 22-8 22-7"/></g><g class="ml" stroke="url(#b2)"><path transform="translate(2220 1108)" d="M0 -6l-17-7-17-9-17-9-17-9-17-10-17-10-17-10-17-11-16-10-17-10-17-10-17-10-17-9-17-9-17-9-17-8-17-7-17-7-17-6-17-6-17-6-17-5-17-5-16-5-17-5-17-5-17-5-17-6-17-6-17-6-17-7-9-4"/><path transform="translate(2231.1 1105.2)" d="M0 -6l-17-8-17-8-17-9-17-9-17-10-17-10-17-11-17-10-16-11-17-10-17-10-17-10-17-9-17-9-17-9-17-8-17-7-17-7-17-6-17-6-17-6-17-5-17-5-16-5-17-4-17-5-17-6-17-5-17-6-17-6-17-7-9-4"/><path transform="translate(2242.2 1102.4)" d="M0 -6l-17-8-17-8-17-9-17-10-17-10-17-11-17-10-17-11-16-11-17-10-17-11-17-10-17-9-17-10-17-8-17-8-17-7-17-7-17-6-17-6-17-5-17-5-17-5-16-4-17-5-17-5-17-5-17-5-17-5-17-7-17-6-9-4"/><path transform="translate(2253.3 1099.6)" d="M0 -6l-17-8-17-9-17-9-17-10-17-11-17-10-17-12-17-11-16-11-17-11-17-11-17-11-17-10-17-9-17-9-17-8-17-7-17-7-17-5-17-6-17-5-17-4-17-4-16-4-17-4-17-5-17-4-17-5-17-5-17-6-17-7-9-3"/><path transform="translate(2264.4 1096.8)" d="M0 -7l-17-8-17-9-17-9-17-11-17-11-17-11-17-12-17-12-16-12-17-12-17-11-17-11-17-11-17-9-17-9-17-8-17-8-17-6-17-6-17-4-17-5-17-4-17-3-16-3-17-4-17-3-17-4-17-4-17-5-17-6-17-6-9-4"/><path transform="translate(2275.5 1093.9)" d="M0 -7l-17-8-17-9-17-11-17-11-17-11-17-13-17-12-17-13-16-13-17-13-17-12-17-12-17-11-17-10-17-9-17-8-17-7-17-6-17-6-17-4-17-4-17-3-17-2-16-3-17-2-17-3-17-3-17-3-17-5-17-5-17-6-9-3"/><path transform="translate(2286.6 1091.1)" d="M0 -8l-17-8-17-10-17-10-17-12-17-12-17-14-17-13-17-14-16-14-17-14-17-13-17-13-17-11-17-11-17-10-17-8-17-7-17-6-17-4-17-4-17-3-17-2-17-1-16-2-17-1-17-2-17-2-17-3-17-3-17-5-17-6-9-3"/><path transform="translate(2297.7 1088.3)" d="M0 -9l-17-8-17-10-17-11-17-13-17-13-17-14-17-15-17-16-16-15-17-15-17-14-17-14-17-12-17-11-17-10-17-9-17-6-17-6-17-4-17-3-17-2-17-1-17 0-16 0-17 0-17-1-17-1-17-1-17-3-17-4-17-6-9-3"/><path transform="translate(2308.8 1085.5)" d="M0 -10l-17-8-17-10-17-12-17-14-17-14-17-16-17-16-17-17-16-16-17-17-17-15-17-15-17-13-17-12-17-10-17-9-17-7-17-5-17-3-17-2-17-1-17 1-17 0-16 2-17 1-17 1-17 0-17 0-17-2-17-4-17-5-9-3"/><path transform="translate(2319.8 1082.7)" d="M0 -11l-17-8-17-11-17-13-17-14-17-16-17-17-17-18-17-18-16-18-17-18-17-17-17-15-17-15-17-12-17-11-17-9-17-6-17-5-17-3-17-1-17 1-17 1-17 3-16 3-17 3-17 2-17 2-17 0-17-1-17-2-17-5-9-3"/><path transform="translate(2330.9 1079.9)" d="M0 -12l-17-8-17-12-17-13-17-16-17-17-17-18-17-20-17-19-16-20-17-20-17-18-17-17-17-16-17-13-17-11-17-9-17-7-17-4-17-2-17 0-17 2-17 3-17 5-16 4-17 5-17 4-17 3-17 2-17 0-17-2-17-4-9-3"/><path transform="translate(2342 1077.1)" d="M0 -13l-17-9-17-12-17-14-17-16-17-19-17-20-17-21-17-22-16-21-17-22-17-20-17-18-17-17-17-14-17-12-17-9-17-6-17-4-17-1-17 2-17 3-17 5-17 5-16 7-17 6-17 6-17 5-17 3-17 1-17-1-17-4-9-2"/><path transform="translate(2353.1 1074.2)" d="M0 -14l-17-9-17-13-17-15-17-18-17-20-17-21-17-23-17-24-16-23-17-23-17-22-17-20-17-18-17-15-17-12-17-10-17-6-17-3-17 0-17 3-17 4-17 7-17 7-16 9-17 8-17 8-17 6-17 5-17 2-17 0-17-3-9-3"/><path transform="translate(2364.2 1071.4)" d="M0 -15l-17-10-17-13-17-16-17-19-17-21-17-24-17-25-17-25-16-26-17-25-17-23-17-22-17-19-17-16-17-13-17-9-17-6-17-2-17 0-17 4-17 6-17 9-17 9-16 10-17 11-17 9-17 8-17 6-17 4-17 1-17-2-9-3"/><path transform="translate(2375.3 1068.6)" d="M0 -17l-17-9-17-14-17-17-17-20-17-23-17-26-17-26-17-28-16-28-17-26-17-26-17-23-17-20-17-17-17-14-17-9-17-6-17-2-17 2-17 5-17 8-17 10-17 11-16 13-17 12-17 11-17 10-17 8-17 5-17 2-17-2-9-2"/><path transform="translate(2386.4 1065.8)" d="M0 -18l-17-10-17-14-17-18-17-22-17-24-17-27-17-29-17-30-16-30-17-28-17-28-17-24-17-22-17-18-17-14-17-10-17-5-17-2-17 3-17 6-17 10-17 12-17 13-16 15-17 14-17 13-17 12-17 10-17 6-17 3-17-1-9-3"/><path transform="translate(2397.5 1063)" d="M0 -19l-17-10-17-15-17-19-17-23-17-26-17-29-17-31-17-32-16-32-17-31-17-29-17-26-17-23-17-19-17-15-17-10-17-5-17-1-17 4-17 8-17 11-17 13-17 16-16 16-17 17-17 15-17 14-17 11-17 8-17 4-17-1-9-2"/><path transform="translate(2408.6 1060.2)" d="M0 -21l-17-10-17-15-17-20-17-25-17-28-17-30-17-33-17-34-16-34-17-33-17-31-17-28-17-24-17-20-17-15-17-11-17-5-17 0-17 5-17 9-17 13-17 15-17 18-16 18-17 19-17 17-17 16-17 13-17 9-17 4-17 0-9-1"/><path transform="translate(2419.7 1057.4)" d="M0 -22l-17-10-17-16-17-21-17-26-17-30-17-32-17-35-17-36-16-36-17-35-17-33-17-29-17-26-17-21-17-16-17-10-17-5-17 0-17 6-17 10-17 15-17 17-17 20-16 20-17 21-17 20-17 17-17 14-17 11-17 5-17 1-9-2"/><path transform="translate(2430.8 1054.6)" d="M0 -23l-17-11-17-16-17-22-17-27-17-32-17-34-17-37-17-38-16-38-17-37-17-34-17-31-17-27-17-22-17-17-17-11-17-4-17 1-17 7-17 11-17 16-17 19-17 22-16 23-17 22-17 22-17 19-17 16-17 12-17 6-17 1-9-1"/><path transform="translate(2441.9 1051.8)" d="M0 -25l-17-10-17-17-17-23-17-29-17-32-17-37-17-38-17-40-16-40-17-39-17-36-17-33-17-28-17-23-17-17-17-11-17-5-17 2-17 8-17 13-17 17-17 21-17 24-16 24-17 25-17 23-17 21-17 18-17 13-17 7-17 2-9-2"/><path transform="translate(2453 1048.9)" d="M0 -26l-17-11-17-17-17-24-17-30-17-34-17-38-17-40-17-42-16-42-17-41-17-38-17-34-17-29-17-24-17-18-17-11-17-4-17 2-17 9-17 14-17 19-17 22-17 26-16 26-17 27-17 25-17 23-17 19-17 14-17 8-17 3-9-2"/><path transform="translate(2464.1 1046.1)" d="M0 -27l-17-11-17-18-17-25-17-31-17-35-17-40-17-42-17-44-16-43-17-43-17-39-17-36-17-30-17-25-17-18-17-11-17-5-17 3-17 10-17 15-17 20-17 25-17 26-16 29-17 28M-508 -271l-17 3-9-1"/><path transform="translate(2475.2 1043.3)" d="M0 -28l-17-11-17-19-17-26-17-31-17-37-17-41-17-44-17-45-16-46-17-44-17-41-17-37-17-31-17-26-17-18-17-12-17-4-17 4-17 10-17 16-17 22-17 25-17 29-16 30M-508 -272l-17 3-9-1"/><path transform="translate(2486.2 1040.5)" d="M0 -29l-17-12-17-19-17-26-17-33-17-38-17-42-17-45-17-47-16-47-17-46-17-42-17-38-17-33-17-26-17-19-17-12-17-4-17 4-17 11-17 18-17 22-17 27-17 31M-525 -270l-9-1"/><path transform="translate(2497.3 1037.7)" d="M0 -30l-17-12-17-19-17-27-17-34-17-39-17-43-17-47-17-49-16-48-17-47-17-43-17-39-17-34-17-27-17-19-17-12-17-4-17 4-17 12-17 18-17 24-17 29M-525 -271l-9-1"/><path transform="translate(2508.4 1034.9)" d="M0 -31l-17-12-17-19-17-28-17-34-17-40-17-45-17-48-17-50-16-49-17-48-17-45-17-40-17-35-17-27-17-20-17-12-17-3-17 4-17 12-17 20-17 24-17 30"/><path transform="translate(2519.5 1032.1)" d="M0 -31l-17-12-17-21-17-28-17-35-17-41-17-45-17-49-17-51-16-51-17-49-17-45-17-41-17-35-17-28-17-21-17-12-17-3-17 5-17 13-17 19-17 26"/><path transform="translate(2530.6 1029.2)" d="M0 -32l-17-12-17-20-17-29-17-36-17-41-17-47-17-50-17-51-16-52-17-50-17-46-17-42-17-35-17-29-17-20-17-12-17-4-17 5-17 14-17 20-17 26"/><path transform="translate(2541.7 1026.4)" d="M0 -32l-17-13-17-20-17-29-17-36-17-42-17-47-17-51-17-52-16-52-17-51-17-47-17-42-17-37-17-28-17-21-17-12-17-3-17 5-17 14-17 20"/><path transform="translate(2552.8 1023.6)" d="M0 -33l-17-12-17-21-17-29-17-36-17-43-17-47-17-51-17-53-16-53-17-51-17-48-17-42-17-37-17-29-17-20-17-13-17-3-17 6-17 13-17 21"/><path transform="translate(2563.9 1020.8)" d="M0 -33l-17-12-17-21-17-29-17-37-17-43-17-48-17-51-17-53-16-53-17-51-17-48-17-43-17-37-17-29-17-21-17-12-17-3-17 5-17 14"/><path transform="translate(2575 1018)" d="M0 -33l-17-12-17-21-17-29-17-37-17-43-17-48-17-51-17-54-16-53-17-51-17-48-17-43-17-37-17-29-17-21-17-12-17-3-17 5-17 14"/><path transform="translate(2586.1 1015.2)" d="M0 -33l-17-12-17-21-17-29-17-37-17-43-17-48-17-51-17-53-16-53-17-51-17-48-17-43-17-37-17-29-17-21-17-12-17-3-17 5-17 14"/><path transform="translate(2597.2 1012.4)" d="M0 -33l-17-12-17-21-17-29-17-36-17-43-17-47-17-51-17-53-16-53-17-51-17-48-17-42-17-37-17-29-17-20-17-13-17-3-17 6"/><path transform="translate(2608.3 1009.6)" d="M0 -32l-17-13-17-20-17-29-17-36-17-42-17-47-17-51-17-52-16-52-17-51-17-47-17-42-17-37-17-28-17-21-17-12-17-3-17 5"/><path transform="translate(2619.4 1006.8)" d="M0 -32l-17-12-17-20-17-29-17-36-17-41-17-47-17-50-17-51-16-52-17-50-17-46-17-42-17-35-17-29-17-20-17-12-17-4"/><path transform="translate(2630.5 1003.9)" d="M0 -31l-17-12-17-21-17-28-17-35-17-41-17-45-17-49-17-51-16-51-17-49-17-45-17-41-17-35-17-28-17-21-17-12-17-3"/><path transform="translate(2641.6 1001.1)" d="M0 -31l-17-12-17-19-17-28-17-34-17-40-17-45-17-48-17-50-16-49-17-48-17-45-17-40-17-35-17-27-17-20-17-12-17-3"/><path transform="translate(2652.7 998.3)" d="M0 -30l-17-12-17-19-17-27-17-34-17-39-17-43-17-47-17-49-16-48-17-47-17-43-17-39-17-34-17-27-17-19-17-12"/><path transform="translate(2663.8 995.5)" d="M0 -29l-17-12-17-19-17-26-17-33-17-38-17-42-17-45-17-47-16-47-17-46-17-42-17-38-17-33-17-26-17-19-17-12"/><path transform="translate(2674.8 992.7)" d="M0 -28l-17-11-17-19-17-26-17-31-17-37-17-41-17-44-17-45-16-46-17-44-17-41-17-37-17-31-17-26-17-18-17-12"/><path transform="translate(2685.9 989.9)" d="M0 -27l-17-11-17-18-17-25-17-31-17-35-17-40-17-42-17-44-16-43-17-43-17-39-17-36-17-30-17-25-17-18"/><path transform="translate(2697 987.1)" d="M0 -26l-17-11-17-17-17-24-17-30-17-34-17-38-17-40-17-42-16-42-17-41-17-38-17-34-17-29-17-24-17-18"/><path transform="translate(2708.1 984.2)" d="M0 -25l-17-10-17-17-17-23-17-29-17-32-17-37-17-38-17-40-16-40-17-39-17-36-17-33-17-28-17-23-17-17"/><path transform="translate(2719.2 981.4)" d="M0 -23l-17-11-17-16-17-22-17-27-17-32-17-34-17-37-17-38-16-38-17-37-17-34-17-31-17-27-17-22"/><path transform="translate(2730.3 978.6)" d="M0 -22l-17-10-17-16-17-21-17-26-17-30-17-32-17-35-17-36-16-36-17-35-17-33-17-29-17-26-17-21"/><path transform="translate(2741.4 975.8)" d="M0 -21l-17-10-17-15-17-20-17-25-17-28-17-30-17-33-17-34-16-34-17-33-17-31-17-28-17-24-17-20"/><path transform="translate(2752.5 973)" d="M0 -19l-17-10-17-15-17-19-17-23-17-26-17-29-17-31-17-32-16-32-17-31-17-29-17-26-17-23-17-19"/><path transform="translate(2763.6 970.2)" d="M0 -18l-17-10-17-14-17-18-17-22-17-24-17-27-17-29-17-30-16-30-17-28-17-28-17-24-17-22"/><path transform="translate(2774.7 967.4)" d="M0 -17l-17-9-17-14-17-17-17-20-17-23-17-26-17-26-17-28-16-28-17-26-17-26-17-23-17-20"/><path transform="translate(2785.8 964.6)" d="M0 -15l-17-10-17-13-17-16-17-19-17-21-17-24-17-25-17-25-16-26-17-25-17-23-17-22-17-19"/><path transform="translate(2796.9 961.8)" d="M0 -14l-17-9-17-13-17-15-17-18-17-20-17-21-17-23-17-24-16-23-17-23-17-22-17-20-17-18"/><path transform="translate(2808 958.9)" d="M0 -13l-17-9-17-12-17-14-17-16-17-19-17-20-17-21-17-22-16-21-17-22-17-20-17-18-17-17"/><path transform="translate(2819.1 956.1)" d="M0 -12l-17-8-17-12-17-13-17-16-17-17-17-18-17-20-17-19-16-20-17-20-17-18-17-17-17-16"/><path transform="translate(2830.2 953.3)" d="M0 -11l-17-8-17-11-17-13-17-14-17-16-17-17-17-18-17-18-16-18-17-18-17-17-17-15-17-15"/><path transform="translate(2841.2 950.5)" d="M0 -10l-17-8-17-10-17-12-17-14-17-14-17-16-17-16-17-17-16-16-17-17-17-15-17-15-17-13"/><path transform="translate(2852.3 947.7)" d="M0 -9l-17-8-17-10-17-11-17-13-17-13-17-14-17-15-17-16-16-15-17-15-17-14-17-14-17-12"/><path transform="translate(2863.4 944.9)" d="M0 -8l-17-8-17-10-17-10-17-12-17-12-17-14-17-13-17-14-16-14-17-14-17-13-17-13-17-11"/><path transform="translate(2874.5 942.1)" d="M0 -7l-17-8-17-9-17-11-17-11-17-11-17-13-17-12-17-13-16-13-17-13-17-12-17-12-17-11-17-10"/><path transform="translate(2885.6 939.2)" d="M0 -7l-17-8-17-9-17-9-17-11-17-11-17-11-17-12-17-12-16-12-17-12-17-11-17-11-17-11-17-9-17-9"/><path transform="translate(2896.7 936.4)" d="M0 -6l-17-8-17-9-17-9-17-10-17-11-17-10-17-12-17-11-16-11-17-11-17-11-17-11-17-10-17-9-17-9-17-8"/><path transform="translate(2907.8 933.6)" d="M0 -6l-17-8-17-8-17-9-17-10-17-10-17-11-17-10-17-11-16-11-17-10-17-11-17-10-17-9-17-10-17-8-17-8"/><path transform="translate(2918.9 930.8)" d="M0 -6l-17-8-17-8-17-9-17-9-17-10-17-10-17-11-17-10-16-11-17-10-17-10-17-10-17-9-17-9-17-9-17-8-17-7"/></g>
<path class="ax" d="M2220 1108L2930 928M2220 1108L1678 863M1678 863L1678 312M2220 1108l6 10M2220 1108l-9 8M2397.5 1063l6 10M2084.5 1046.8l-9 8M2575 1018l6 10M1949 985.5l-9 8M2752.5 973l6 10M1813.5 924.2l-9 8M2930 928l6 10M1678 863l-9 8M1678 863l-10 0M1678 771.2l-10 0M1678 679.3l-10 0M1678 587.5l-10 0M1678 495.7l-10 0M1678 403.8l-10 0M1678 312l-10 0"/>
<text class="tk" x="2249" y="1165">-1</text>
<text class="tk e" x="2192" y="1156">-1</text>
<text class="tk" x="2426.5" y="1120">-0.5</text>
<text class="tk e" x="2056.5" y="1094.8">-0.5</text>
<text class="tk" x="2604" y="1075">0</text>
<text class="tk e" x="1921" y="1033.5">0</text>
<text class="tk" x="2781.5" y="1030">0.5</text>
<text class="tk e" x="1785.5" y="972.2">0.5</text>
<text class="tk" x="2959" y="985">1</text>
<text class="tk e" x="1650" y="907">1</text>
<text class="tk e" x="1652" y="868">0</text>
<text class="tk e" x="1652" y="776.2">0.5</text>
<text class="tk e" x="1652" y="684.3">1</text>
<text class="tk e" x="1652" y="592.5">1.5</text>
<text class="tk e" x="1652" y="500.7">2</text>
<text class="tk e" x="1652" y="408.8">2.5</text>
<text class="tk e" x="1652" y="317">3</text>
<text class="lb" x="2522" y="1154">F<tspan class="sb" dy="9">x</tspan></text>
<text class="lb" x="1929" y="1161.5">F<tspan class="sb" dy="9">y</tspan></text>
<text class="lb m" transform="translate(1568 587.5) rotate(-90)">Magnitude</text>
<text class="ti" x="2304" y="113">Kernel 1 Channel 2</text>
<text class="cp" transform="translate(2249 1331) scale(1.1 1)">(<tspan class="b">b</tspan>) Kernel 1 Channel 2</text>
<path class="gr" d="M3679 1108L3137 863M3137 863L3137 312M3679 1108L4389 928M4389 928L4389 377M3856.5 1063L3314.5 818M3314.5 818L3314.5 267M3543.5 1046.8L4253.5 866.8M4253.5 866.8L4253.5 315.8M4034 1018L3492 773M3492 773L3492 222M3408 985.5L4118 805.5M4118 805.5L4118 254.5M4211.5 973L3669.5 728M3669.5 728L3669.5 177M3272.5 924.2L3982.5 744.2M3982.5 744.2L3982.5 193.3M4389 928L3847 683M3847 683L3847 132M3137 863L3847 683M3847 683L3847 132M3137 863L3847 683M3847 683L4389 928M3137 771.2L3847 591.2M3847 591.2L4389 836.2M3137 679.3L3847 499.3M3847 499.3L4389 744.3M3137 587.5L3847 407.5M3847 407.5L4389 652.5M3137 495.7L3847 315.7M3847 315.7L4389 560.7M3137 403.8L3847 223.8M3847 223.8L4389 468.8M3137 312L3847 132M3847 132L4389 377"/>
<defs><linearGradient id="a3" gradientUnits="userSpaceOnUse" x1="-0.2" y1="-0.6" x2="-124.7" y2="-491.8"><stop offset="0" stop-color="#3e26a8"/><stop offset="0.06" stop-color="#4434cd"/><stop offset="0.125" stop-color="#4852f4"/><stop offset="0.19" stop-color="#436cfe"/><stop offset="0.28" stop-color="#2e87f7"/><stop offset="0.34" stop-color="#2796eb"/><stop offset="0.4" stop-color="#1caadf"/><stop offset="0.45" stop-color="#0cb8cd"/><stop offset="0.5" stop-color="#1ebeb2"/><stop offset="0.57" stop-color="#37c897"/><stop offset="0.66" stop-color="#81cc59"/><stop offset="0.73" stop-color="#bbc334"/><stop offset="0.8" stop-color="#e8bc30"/><stop offset="0.875" stop-color="#fdcb36"/><stop offset="0.94" stop-color="#f6e428"/><stop offset="1" stop-color="#f9fb15"/></linearGradient><linearGradient id="b3" gradientUnits="userSpaceOnUse" x1="0.2" y1="-0.5" x2="196.5" y2="-434.6"><stop offset="0" stop-color="#3e26a8"/><stop offset="0.06" stop-color="#4434cd"/><stop offset="0.125" stop-color="#4852f4"/><stop offset="0.19" stop-color="#436cfe"/><stop offset="0.28" stop-color="#2e87f7"/><stop offset="0.34" stop-color="#2796eb"/><stop offset="0.4" stop-color="#1caadf"/><stop offset="0.45" stop-color="#0cb8cd"/><stop offset="0.5" stop-color="#1ebeb2"/><stop offset="0.57" stop-color="#37c897"/><stop offset="0.66" stop-color="#81cc59"/><stop offset="0.73" stop-color="#bbc334"/><stop offset="0.8" stop-color="#e8bc30"/><stop offset="0.875" stop-color="#fdcb36"/><stop offset="0.94" stop-color="#f6e428"/><stop offset="1" stop-color="#f9fb15"/></linearGradient></defs><path class="wu" d="M3679 1088l22-10 22-19 23-27 22-35 22-42 22-46 22-50 22-51 23-52 22-50 22-46 22-42 22-35 23-27 22-19 22-10 22-1 22 7 23 17 22 23 22 30 22 36 22 38 23 41 22 40 22 39 22 35 22 30 22 23 23 17 22 7 11 1-17-7-11-1-22-7-22-16-23-23-22-30-22-34-22-38-22-39-23-40-22-37-22-35-22-29-22-23-23-16-22-7-22 1-22 10-22 19-23 27-22 34-22 41-22 45-22 49-22 51-23 51-22 49-22 45-22 41-22 34-23 27-22 19-22 10zM3662 1081l22-10 22-19 23-27 22-34 22-41 22-45 22-49 23-51 22-51 22-49 22-45 22-41 22-34 23-27 22-19 22-10 22-1 22 7 23 16 22 23 22 29 22 35 22 37 23 40 22 39 22 38 22 34 22 30 23 23 22 16 22 7 11 1-17-7-11 0-22-7-22-14-23-22-22-27-22-32-22-35-22-37-23-36-22-36-22-32-22-27-22-21-23-15-22-6-22 1-22 10-22 18-22 25-23 33-22 39-22 43-22 46-22 48-23 48-22 47-22 43-22 38-22 33-22 26-23 18-22 10zM3645 1075l22-10 23-18 22-26 22-33 22-38 22-43 22-47 23-48 22-48 22-46 22-43 22-39 23-33 22-25 22-18 22-10 22-1 22 6 23 15 22 21 22 27 22 32 22 36 23 36 22 37 22 35 22 32 22 27 23 22 22 14 22 7 11 0-17-5-11 0-22-6-22-12-23-19-22-24-22-28-22-31-22-32-23-32-22-31-22-28-22-24-22-19-22-12-23-6-22 2-22 10-22 16-22 24-23 30-22 35-22 39-22 42-22 44-23 44-22 42-22 39-22 35-22 30-22 24-23 16-22 10zM3628 1069l22-10 23-16 22-24 22-30 22-35 22-39 22-42 23-44 22-44 22-42 22-39 22-35 23-30 22-24 22-16 22-10 22-2 23 6 22 12 22 19 22 24 22 28 22 31 23 32 22 32 22 31 22 28 22 24 23 19 22 12 22 6 11 0-17-5-11 0-22-4-22-9-23-15-22-19-22-23-22-25-22-27-22-26-23-26-22-22-22-20-22-14-22-10-23-4-22 3-22 8-22 15-22 21-22 26-23 31-22 34-22 36-22 38-22 38-23 36-22 34-22 31-22 26-22 21-23 15-22 9zM3611 1064l22-9 23-15 22-21 22-26 22-31 22-34 23-36 22-38 22-38 22-36 22-34 23-31 22-26 22-21 22-15 22-8 22-3 23 4 22 10 22 14 22 20 22 22 23 26 22 26 22 27 22 25 22 23 22 19 23 15 22 9 22 4 11 0-17-5-11 1-22-1-22-7-22-10-23-13-22-17-22-18-22-20-22-19-23-18-22-17-22-13-22-10-22-7-22-1-23 3-22 8-22 13-22 17-22 22-23 25-22 27-22 30-22 30-22 31-23 30-22 27-22 25-22 22-22 17-23 13-22 8zM3594 1059l22-8 23-13 22-17 22-22 22-25 22-27 23-30 22-31 22-30 22-30 22-27 23-25 22-22 22-17 22-13 22-8 23-3 22 1 22 7 22 10 22 13 22 17 23 18 22 19 22 20 22 18 22 17 23 13 22 10 22 7 22 1 11-1-17-4-11 2-22 1-22-3-22-5-23-7-22-9-22-10-22-12-22-11-23-10-22-9-22-7-22-6-22-2-22 1-23 4-22 7-22 11-22 13-22 17-23 18-22 20-22 22-22 22-22 23-23 21-22 21-22 18-22 17-22 13-22 11-23 7zM3577 1055l23-7 22-11 22-13 22-17 22-18 22-21 23-21 22-23 22-22 22-22 22-20 23-18 22-17 22-13 22-11 22-7 23-4 22-1 22 2 22 6 22 7 22 9 23 10 22 11 22 12 22 10 22 9 23 7 22 5 22 3 22-1 11-2-17-3-11 2-22 3-22 2-22 1-22 0-23-2-22-2-22-2-22-2-22-2-23-1-22 0-22 0-22 2-22 4-23 4-22 7-22 8-22 9-22 11-23 11-22 13-22 13-22 13-22 14-22 13-23 12-22 12-22 11-22 9-22 8-23 6zM3560 1051l23-6 22-8 22-9 22-11 22-12 23-12 22-13 22-14 22-13 22-13 22-13 23-11 22-11 22-9 22-8 22-7 23-4 22-4 22-2 22 0 22 0 23 1 22 2 22 2 22 2 22 2 23 2 22 0 22-1 22-2 22-3 11-2-17-5-11 3-22 5-22 5-22 4-22 5-23 4-22 4-22 4-22 5-22 4-23 4-22 4-22 5-22 5-22 5-23 6-22 5-22 7-22 6-22 6-22 7-23 7-22 7-22 7-22 8-22 7-23 7-22 6-22 7-22 6-22 6-23 6zM3543 1046l23-6 22-6 22-6 22-7 22-6 23-7 22-7 22-8 22-7 22-7 23-7 22-7 22-6 22-6 22-7 22-5 23-6 22-5 22-5 22-5 22-4 23-4 22-4 22-5 22-4 22-4 23-4 22-5 22-4 22-5 22-5 11-3-17-12-11 2-22 3-22 0-22-1-22-3-23-4-22-5-22-5-22-5-22-5-23-4-22-2-22-2-22 1-22 2-22 5-23 7-22 8-22 11-22 13-22 14-23 15-22 16-22 16-22 17-22 16-22 15-23 14-22 12-22 11-22 9-22 6zM3527 1034l22-6 22-9 22-11 22-12 23-14 22-15 22-16 22-17 22-16 22-16 23-15 22-14 22-13 22-11 22-8 23-7 22-5 22-2 22-1 22 2 22 2 23 4 22 5 22 5 22 5 22 5 23 4 22 3 22 1 22 0 22-3 11-2-16-12-12 2-22 0-22-4-22-7-22-10-23-12-22-13-22-14-22-14-22-13-22-12-23-10-22-7-22-3-22 0-22 3-23 8-22 11-22 15-22 18-22 21-22 23-23 25-22 25-22 25-22 25-22 23-23 21-22 18-22 15-22 11-22 8zM3510 1023l22-8 22-11 22-15 22-18 23-21 22-23 22-25 22-25 22-25 23-25 22-23 22-21 22-18 22-15 22-11 23-8 22-3 22 0 22 3 22 7 23 10 22 12 22 13 22 14 22 14 22 13 23 12 22 10 22 7 22 4 22 0 12-2-17-11-12 1-22-3-22-7-22-13-22-16-22-19-23-21-22-22-22-22-22-22-22-19-23-16-22-12-22-8-22-2-22 3-23 8-22 14-22 19-22 23-22 28-22 30-23 32-22 34-22 33-22 33-22 30-23 27-22 24-22 19-22 13-22 9zM3493 1012l22-9 22-13 22-19 22-24 23-27 22-30 22-33 22-33 22-34 23-32 22-30 22-28 22-23 22-19 22-14 23-8 22-3 22 2 22 8 22 12 23 16 22 19 22 22 22 22 22 22 23 21 22 19 22 16 22 13 22 7 22 3 12-1-17-11-11 0-23-4-22-11-22-17-22-22-22-25-23-28-22-30-22-29-22-28-22-26-22-22-23-16-22-11-22-5-22 2-22 9-23 16-22 22-22 28-22 33-22 37-23 39-22 41-22 41-22 39-22 37-23 33-22 28-22 22-22 16-22 9zM3476 1001l22-9 22-16 22-22 22-28 23-33 22-37 22-39 22-41 22-41 23-39 22-37 22-33 22-28 22-22 23-16 22-9 22-2 22 5 22 11 23 16 22 22 22 26 22 28 22 29 22 30 23 28 22 25 22 22 22 17 22 11 23 4 11 0-17-10-11 0-23-7-22-14-22-20-22-26-22-31-23-34-22-35-22-36-22-33-22-31-22-26-23-21-22-14-22-6-22 2-22 9-23 18-22 25-22 32-22 37-22 42-23 45-22 47-22 46-22 45-22 42-22 38-23 32-22 25-22 17-22 10zM3459 991l22-10 22-17 22-25 23-32 22-38 22-42 22-45 22-46 22-47 23-45 22-42 22-37 22-32 22-25 23-18 22-9 22-2 22 6 22 14 23 21 22 26 22 31 22 33 22 36 22 35 23 34 22 31 22 26 22 20 22 14 23 7 11 0-17-10-11 0-22-8-23-16-22-23-22-30-22-34-22-39-23-39-22-40-22-38-22-35-22-29-23-24-22-16-22-7-22 1-22 10-23 19-22 27-22 35-22 41-22 45-22 50-23 51-22 51-22 49-22 46-22 41-23 34-22 27-22 19-22 10zM3442 981l22-10 22-19 22-27 23-34 22-41 22-46 22-49 22-51 23-51 22-50 22-45 22-41 22-35 22-27 23-19 22-10 22-1 22 7 22 16 23 24 22 29 22 35 22 38 22 40 23 39 22 39 22 34 22 30 22 23 23 16 22 8 11 0-17-9-11-1-22-8-23-17-22-25-22-32-22-37-22-40-23-43-22-42-22-41-22-37-22-32-23-25-22-17-22-8-22 0-22 11-22 19-23 29-22 36-22 43-22 48-22 52-23 54-22 54-22 52-22 48-22 43-22 36-23 29-22 19-22 11zM3425 973l22-11 22-19 23-29 22-36 22-43 22-48 22-52 22-54 23-54 22-52 22-48 22-43 22-36 23-29 22-19 22-11 22 0 22 8 22 17 23 25 22 32 22 37 22 41 22 42 23 43 22 40 22 37 22 32 22 25 23 17 22 8 11 1-17-8-11-1-22-8-23-18-22-26-22-32-22-38-22-41-23-44-22-43-22-42-22-37-22-33-22-25-23-18-22-9-22 1-22 11-22 19-23 29-22 37-22 44-22 49-22 53-23 54-22 55-22 53-22 49-22 43-22 37-23 29-22 20-22 11zM3408 965l22-11 22-20 23-29 22-37 22-43 22-49 22-53 22-55 23-54 22-53 22-49 22-44 22-37 23-29 22-19 22-11 22-1 22 9 23 18 22 25 22 33 22 37 22 42 22 43 23 44 22 41 22 38 22 32 22 26 23 18 22 8 11 1-17-7-11-1-22-8-23-17-22-25-22-32-22-37-22-41-22-42-23-43-22-40-22-37-22-32-22-25-23-17-22-9-22 1-22 11-22 19-22 29-23 36-22 43-22 48-22 52-22 54-23 53-22 52-22 49-22 43-22 36-23 28-22 20-22 10zM3391 957l22-10 22-20 23-28 22-36 22-43 22-49 22-52 23-53 22-54 22-52 22-48 22-43 23-36 22-29 22-19 22-11 22-1 22 9 23 17 22 25 22 32 22 37 22 40 23 43 22 42 22 41 22 37 22 32 22 25 23 17 22 8 11 1-17-7-11 0-22-8-22-16-23-23-22-30-22-34-22-38-22-40-23-40-22-38-22-34-22-30-22-23-23-16-22-8-22 1-22 10-22 19-22 27-23 35-22 41-22 46-22 49-22 51-23 51-22 49-22 46-22 41-22 35-23 27-22 19-22 10zM3374 951l22-10 22-19 23-27 22-35 22-41 22-46 22-49 23-51 22-51 22-49 22-46 22-41 23-35 22-27 22-19 22-10 22-1 22 8 23 16 22 23 22 30 22 34 22 38 23 40 22 40 22 38 22 34 22 30 23 23 22 16 22 8 11 0-17-5-11 0-22-7-22-14-23-20-22-26-22-31-22-34-22-35-22-36-23-33-22-31-22-26-22-21-22-14-23-6-22 2-22 9-22 18-22 25-23 32-22 37-22 42-22 45-22 47-23 46-22 45-22 42-22 38-22 32-22 25-23 17-22 10zM3357 945l22-10 23-17 22-25 22-32 22-38 22-42 22-45 23-46 22-47 22-45 22-42 22-37 23-32 22-25 22-18 22-9 22-2 23 6 22 14 22 21 22 26 22 31 23 33 22 36 22 35 22 34 22 31 22 26 23 20 22 14 22 7 11 0-17-5-11 0-22-5-22-11-22-16-23-22-22-25-22-29-22-29-22-30-23-28-22-25-22-22-22-17-22-11-23-4-22 2-22 9-22 16-22 22-23 28-22 33-22 37-22 39-22 41-22 41-23 39-22 37-22 33-22 28-22 22-23 16-22 9zM3340 940l22-9 23-16 22-22 22-28 22-33 22-37 23-39 22-41 22-41 22-39 22-37 22-33 23-28 22-22 22-16 22-9 22-2 23 4 22 11 22 17 22 22 22 25 23 28 22 30 22 29 22 29 22 25 23 22 22 16 22 11 22 5 11 0-17-5-11 1-22-2-22-8-22-12-23-16-22-19-22-21-22-23-22-22-23-21-22-19-22-16-22-13-22-7-23-3-22 3-22 9-22 13-22 19-22 24-23 27-22 30-22 33-22 33-22 34-23 32-22 31-22 27-22 23-22 19-23 14-22 8zM3323 935l22-8 23-14 22-19 22-23 22-27 22-31 23-32 22-34 22-33 22-33 22-30 23-27 22-24 22-19 22-13 22-9 22-3 23 3 22 7 22 13 22 16 22 19 23 21 22 22 22 23 22 21 22 19 23 16 22 12 22 8 22 2 11-1-17-4-11 2-22 0-22-4-22-7-23-10-22-11-22-14-22-14-22-14-23-13-22-12-22-10-22-7-22-3-22 0-23 3-22 8-22 11-22 15-22 18-23 21-22 23-22 25-22 25-22 26-22 24-23 23-22 21-22 18-22 15-22 12-23 7zM3306 931l23-7 22-12 22-15 22-18 22-21 23-23 22-24 22-26 22-25 22-25 22-23 23-21 22-18 22-15 22-11 22-8 23-3 22 0 22 3 22 7 22 10 22 12 23 13 22 14 22 14 22 14 22 11 23 10 22 7 22 4 22 0 11-2-17-3-11 2-22 2-22 1-22-1-23-3-22-4-22-5-22-5-22-5-22-5-23-4-22-2-22-2-22 1-22 2-23 5-22 7-22 8-22 11-22 13-23 14-22 15-22 16-22 16-22 16-22 16-23 16-22 14-22 12-22 11-22 9-23 6zM3289 927l23-6 22-9 22-11 22-12 22-14 23-16 22-16 22-16 22-16 22-16 22-15 23-14 22-13 22-11 22-8 22-7 23-5 22-2 22-1 22 2 22 2 23 4 22 5 22 5 22 5 22 5 22 4 23 3 22 1 22-1 22-2 11-2-17-4-11 3-22 5-22 5-22 5-22 4-23 5-22 4-22 4-22 4-22 4-23 4-22 5-22 5-22 5-22 5-22 5-23 6-22 6-22 6-22 7-22 7-23 7-22 7-22 7-22 7-22 7-23 7-22 7-22 6-22 7-22 6-23 6zM3272 924l23-6 22-6 22-7 22-6 22-7 23-7 22-7 22-7 22-7 22-7 23-7 22-7 22-7 22-6 22-6 23-6 22-5 22-5 22-5 22-5 22-5 23-4 22-4 22-4 22-4 22-4 23-5 22-4 22-5 22-5 22-5 11-3-17-10-11 2-22 3-22 2-22 1-22 0-23-2-22-1-22-3-22-2-22-2-22-1-23 0-22 1-22 1-22 4-22 5-23 6-22 8-22 9-22 11-22 11-23 13-22 13-22 13-22 14-22 13-23 12-22 12-22 11-22 9-22 8-22 6zM3256 913l22-6 22-8 22-9 22-11 22-12 23-12 22-13 22-14 22-13 22-13 23-13 22-11 22-11 22-9 22-8 23-6 22-5 22-4 22-1 22-1 23 0 22 1 22 2 22 2 22 3 22 1 23 2 22 0 22-1 22-2 22-3 11-2-16-12-12 2-22 1-22-3-22-5-22-7-23-9-22-11-22-11-22-11-22-10-22-9-23-8-22-5-22-2-22 1-22 4-23 7-22 11-22 13-22 16-22 19-23 20-22 22-22 22-22 23-22 21-22 21-23 18-22 17-22 13-22 11-22 7zM3239 902l22-7 22-11 22-13 22-17 23-18 22-21 22-21 22-23 22-22 22-22 23-20 22-19 22-16 22-13 22-11 23-7 22-4 22-1 22 2 22 5 23 8 22 9 22 10 22 11 22 11 22 11 23 9 22 7 22 5 22 3 22-1 12-2-17-11-11 1-23-2-22-6-22-10-22-14-22-16-23-19-22-19-22-19-22-19-22-16-23-14-22-10-22-6-22-2-22 3-23 9-22 12-22 18-22 21-22 25-22 28-23 30-22 30-22 31-22 29-22 28-23 25-22 21-22 18-22 13-22 8zM3222 891l22-8 22-13 22-18 22-21 23-25 22-28 22-29 22-31 22-30 23-30 22-28 22-25 22-21 22-18 22-12 23-9 22-3 22 2 22 6 22 10 23 14 22 16 22 19 22 19 22 19 23 19 22 16 22 14 22 10 22 6 23 2 11-1-17-11-11 0-23-3-22-10-22-15-22-19-22-23-23-25-22-27-22-26-22-25-22-23-23-19-22-15-22-10-22-4-22 3-22 9-23 15-22 21-22 26-22 30-22 34-23 37-22 37-22 38-22 37-22 34-23 30-22 26-22 21-22 15-22 9zM3205 880l22-9 22-15 22-21 22-26 23-30 22-34 22-37 22-38 22-37 23-37 22-34 22-30 22-26 22-21 23-15 22-9 22-3 22 4 22 10 22 15 23 19 22 23 22 25 22 26 22 27 23 25 22 23 22 19 22 15 22 10 23 3 11 0-17-10-11 0-23-6-22-12-22-19-22-24-22-28-23-31-22-32-22-32-22-31-22-28-22-24-23-19-22-12-22-6-22 2-22 10-23 16-22 24-22 30-22 35-22 39-22 42-23 44-22 44-22 42-22 39-22 35-23 30-22 24-22 16-22 10zM3188 870l22-10 22-16 22-24 23-30 22-35 22-39 22-42 22-44 23-44 22-42 22-39 22-35 22-30 22-24 23-16 22-10 22-2 22 6 22 12 23 19 22 24 22 28 22 31 22 32 22 32 23 31 22 28 22 24 22 19 22 12 23 6 11 0-17-10-11 0-23-7-22-15-22-21-22-27-22-32-22-35-23-37-22-37-22-35-22-32-22-27-23-22-22-14-22-7-22 2-22 9-22 18-23 26-22 33-22 38-22 44-22 46-23 48-22 48-22 46-22 44-22 38-23 33-22 25-22 18-22 10zM3171 860l22-10 22-18 22-25 23-33 22-38 22-44 22-46 22-48 23-48 22-46 22-44 22-38 22-33 23-26 22-18 22-9 22-2 22 7 22 14 23 22 22 27 22 32 22 35 22 37 23 37 22 35 22 32 22 27 22 21 22 15 23 7 11 0-17-9-11 0-22-8-23-16-22-23-22-29-22-35-22-37-23-40-22-39-22-38-22-34-22-30-22-23-23-16-22-7-22 1-22 10-22 19-23 27-22 34-22 41-22 46-22 49-23 50-22 51-22 49-22 46-22 40-23 35-22 27-22 18-22 10zM3154 851l22-10 22-18 22-27 23-35 22-40 22-46 22-49 22-51 23-50 22-49 22-46 22-41 22-34 23-27 22-19 22-10 22-1 22 7 23 16 22 23 22 30 22 34 22 38 22 39 23 40 22 37 22 35 22 29 22 23 23 16 22 8 11 0-9-4-11-1-22-7-22-16-22-24-22-30-23-35-22-38-22-40-22-41-22-38-23-35-22-30-22-23-22-16-22-8-23 1-22 10-22 19-22 27-22 35-22 41-23 47-22 49-22 52-22 51-22 50-23 46-22 41-22 35-22 27-22 19-23 10z"/><g class="ml" stroke="url(#a3)"><path transform="translate(3679 1108)" d="M0 -20l22-10 22-19 23-27 22-35 22-42 22-46 22-50 23-51 22-52 22-50 22-46 22-42 22-35 23-27 22-19 22-10 22-1 22 7 23 17 22 23 22 30 22 36 22 38 22 41 23 40 22 39 22 35 22 30 22 23 23 17 22 7 11 1"/><path transform="translate(3670.5 1104.2)" d="M0 -20l22-10 22-19 23-27 22-35 22-41 22-46 22-50 23-51 22-52 22-49 22-46 22-42 22-34 23-28 22-19 22-10 22-1 22 8 23 16 22 23 22 30 22 35 22 39 22 40 23 40 22 38 22 35 22 30 22 24 23 16 22 8 11 0"/><path transform="translate(3662.1 1100.3)" d="M0 -19l22-10 22-19 23-27 22-34 22-41 22-46 22-49 23-50 22-51 22-49 22-46 22-40 22-35 23-27 22-18 22-11 22-1 22 8 23 16 22 23 22 29 22 34 22 38 22 40 23 39 22 38 22 34 22 30 22 23 23 15 22 8 11 0"/><path transform="translate(3653.6 1096.5)" d="M0 -19l22-10 22-18 23-27 22-33 22-40 22-45 22-48 23-49 22-50 22-48 22-44 22-40 22-34 23-26 22-19 22-9 22-2 22 7 23 16 22 22 22 29 22 33 22 37 22 38 23 38 22 37 22 33 22 29 22 22 23 15 22 8 11 0"/><path transform="translate(3645.1 1092.7)" d="M0 -18l22-10 22-18 23-26 22-32 22-39 22-43 22-46 23-48 22-48 22-47 22-43 22-39 22-32 23-26 22-18 22-10 22-1 22 7 23 14 22 21 22 28 22 32 22 35 22 37 23 36 22 36 22 31 22 28 22 21 23 15 22 6 11 1"/><path transform="translate(3636.7 1088.9)" d="M0 -17l22-10 22-17 23-25 22-31 22-37 22-42 22-44 23-46 22-46 22-45 22-41 22-37 22-32 23-24 22-18 22-9 22-2 22 6 23 14 22 20 22 26 22 30 22 33 22 35 23 34 22 34 22 30 22 26 22 20 23 13 22 6 11 1"/><path transform="translate(3628.2 1085)" d="M0 -16l22-10 22-16 23-24 22-30 22-35 22-39 22-42 23-44 22-44 22-42 22-39 22-35 22-30M333 -486l22-10 22-2 22 6 23 12 22 19 22 24 22 28 22 31 22 32 23 32 22 31 22 28 22 24 22 19 23 12 22 6 11 0"/><path transform="translate(3619.7 1081.2)" d="M0 -15l22-9 22-16 23-22 22-28 22-33 22-37 22-40 23-41 22-40 22-40 22-37 22-33M311 -441l22-16 22-9 22-2 22 4 23 11 22 17 22 22 22 26 22 28 22 29 23 30 22 28 22 26 22 22 22 16 23 11 22 5 11 0"/><path transform="translate(3611.2 1077.4)" d="M0 -14l22-8 22-15 23-21 22-26 22-31 22-34 22-36 23-38 22-38 22-36 22-34M311 -409l22-15 22-9 22-2 22 4 23 9 22 15 22 19 22 23 22 25 22 27 23 26 22 25 22 23 22 20 22 14 23 10 22 4 11-1"/><path transform="translate(3602.8 1073.5)" d="M0 -12l22-9 22-14 23-19 22-24 22-28 22-31 22-33 23-34 22-34 22-33M288 -354l23-19 22-14 22-9 22-3 22 3 23 8 22 13 22 16 22 20 22 22 22 23 23 23 22 22 22 20 22 16 22 13 23 8 22 3 11-1"/><path transform="translate(3594.3 1069.7)" d="M0 -11l22-8 22-13 23-17 22-22 22-24 22-28 22-30 23-30 22-31M288 -317l23-18 22-13 22-8 22-3 22 2 23 6 22 10 22 14 22 16 22 19 22 19 23 19 22 18 22 17 22 13 22 11 23 6 22 2 11-1"/><path transform="translate(3585.8 1065.9)" d="M0 -9l22-8 22-11 23-16 22-19 22-22 22-24 22-25 23-27M266 -259l22-19 23-16 22-11 22-8 22-4 22 1 23 4 22 8 22 10 22 13 22 15 22 15 23 15 22 15 22 13 22 10 22 8 23 4 22 1 11-2"/><path transform="translate(3577.4 1062.1)" d="M0 -7l22-7 22-11 23-13 22-17 22-18 22-21 22-21M266 -221l22-16 23-13 22-11 22-7 22-4 22-1 23 2 22 5 22 8 22 9 22 10 22 11 23 11 22 11 22 9 22 7 22 5 23 3 22-1 11-2"/><path transform="translate(3568.9 1058.2)" d="M0 -5l22-7 22-9 23-12 22-13 22-15 22-17M244 -165l22-15 22-14 23-11 22-9 22-7 22-5 22-2 23 1 22 2 22 4 22 5 22 6 22 7 23 6 22 7 22 5 22 4 22 2 23 0 22-2 11-2"/><path transform="translate(3560.4 1054.4)" d="M0 -3l22-7 22-8 23-9 22-10 22-12 22-13M244 -127l22-12 22-10 23-10 22-8 22-6 22-5 22-3 23-2 22-1 22 1 22 1 22 2 22 2 23 2 22 2 22 1 22 1 22-1 23-2 22-3 11-3"/><path transform="translate(3552 1050.6)" d="M0 -1l22-6 22-7 23-7 22-8 22-8M222 -80l22-8 22-8 22-8 23-7 22-7 22-6 22-5 22-5 23-4 22-3 22-4 22-2 22-3 22-3 23-2 22-3 22-2 22-4 22-3 23-4 22-5 11-3"/><path transform="translate(3543.5 1046.8)" d="M0 -1l22-5 22-6 23-7 22-6 22-7 22-7 22-7 23-7M244 -75l22-6 22-7 23-6 22-6 22-6 22-6 22-5 23-5 22-4 22-5 22-4 22-4 22-4 23-4 22-5 22-4 22-4 22-5 23-5 22-5"/><path transform="translate(3535 1042.9)" d="M0 -3l22-6 22-7 23-9 22-9 22-11 22-11 22-11 23-12 22-12 22-12M577 -168l22-1 22 0 22-2 23-3"/><path transform="translate(3526.6 1039.1)" d="M0 -5l22-6 22-9 23-11 22-12 22-14 22-15 22-16 23-17 22-16 22-16 22-15 22-14 22-13"/><path transform="translate(3518.1 1035.3)" d="M0 -7l22-7 22-10 23-13 22-15 22-18 22-19 22-20 23-21 22-21 22-20 22-19 22-18 22-15 23-13 22-10"/><path transform="translate(3509.6 1031.4)" d="M0 -8l22-8 22-11 23-15 22-18 22-21 22-23 22-25 23-25 22-26 22-24 22-23 22-21 22-18 23-15 22-12 22-7 22-4"/><path transform="translate(3501.2 1027.6)" d="M0 -10l22-8 22-13 23-17 22-21 22-24 22-27 22-28 23-30 22-29 22-29 22-27 22-24 22-21 23-17 22-12 22-8 22-4 22 2"/><path transform="translate(3492.7 1023.8)" d="M0 -12l22-8 22-14 23-19 22-23 22-28 22-30 22-32 23-34 22-33 22-33 22-30 22-28 22-23 23-19 22-14 22-8 22-3 22 3 23 7"/><path transform="translate(3484.2 1020)" d="M0 -14l22-8 22-15 23-21 22-26 22-30 22-33 22-36 23-38 22-37 22-36 22-34 22-30 22-26 23-20 22-15 22-9 22-2 22 3 23 10 22 14"/><path transform="translate(3475.8 1016.1)" d="M0 -15l22-9 22-16 23-22 22-28 22-33 22-37 22-39 23-41 22-41 22-39 22-37 22-33 22-28 23-22 22-16 22-9 22-2 22 5 23 11 22 16 22 22"/><path transform="translate(3467.3 1012.3)" d="M0 -16l22-10 22-16 23-24 22-30 22-36 22-39 22-42 23-44 22-44 22-43 22-39 22-35 22-30 23-24 22-17 22-9 22-2 22 5 23 13 22 19 22 24 22 28"/><path transform="translate(3458.8 1008.5)" d="M0 -18l22-9 22-18 23-25 22-32 22-37 22-42 22-45 23-47 22-46 22-45 22-42 22-38 22-32 23-25 22-17 22-10 22-2 22 7 23 14 22 20 22 26 22 31"/><path transform="translate(3450.3 1004.6)" d="M0 -19l22-9 22-19 23-26 22-33 22-40 22-44 22-47 23-49 22-49 22-47 22-45 22-39 22-33 23-26 22-19 22-10 22-1 22 7 23 15 22 22 22 28 22 33 22 36"/><path transform="translate(3441.9 1000.8)" d="M0 -19l22-10 22-19 23-27 22-35 22-41 22-46 22-49 23-51 22-51 22-49 22-46 22-41 22-35 23-27 22-19 22-10 22-1 22 8 23 16 22 23 22 29 22 35 22 38"/><path transform="translate(3433.4 997)" d="M0 -20l22-10 22-20 23-28 22-35 22-42 22-47 22-51 23-53 22-52 22-51 22-47 22-43 22-35 23-28 22-19 22-11 22-1 22 8 23 17 22 24 22 31 22 36 22 40"/><path transform="translate(3424.9 993.2)" d="M0 -21l22-10 22-20 23-28 22-36 22-43 22-49 22-51 23-54 22-54 22-52 22-48 22-43 22-36 23-29 22-19 22-11 22-1 22 9 23 17 22 25 22 32 22 37 22 40 22 43"/><path transform="translate(3416.5 989.3)" d="M0 -21l22-10 22-20 23-29 22-37 22-43 22-49 22-53 23-54 22-54 22-53 22-49 22-43 22-37 23-29 22-20 22-10 22-1 22 9 23 17 22 26 22 32 22 38 22 41"/><path transform="translate(3408 985.5)" d="M0 -21l22-10 22-20 23-29 22-37 22-44 22-49 22-53 23-54 22-55 22-53 22-49 22-43 22-37 23-29 22-20 22-10 22-1 22 8 23 18 22 26 22 32"/><path transform="translate(3399.5 981.7)" d="M0 -21l22-10 22-20 23-29 22-37 22-43 22-49 22-53 23-54 22-54 22-53 22-49 22-43 22-37 23-29 22-20 22-10 22-1 22 9 23 17 22 26"/><path transform="translate(3391.1 977.8)" d="M0 -21l22-10 22-20 23-28 22-36 22-43 22-49 22-51 23-54 22-54 22-52 22-48 22-43 22-36 23-29 22-19 22-11 22-1 22 9"/><path transform="translate(3382.6 974)" d="M0 -20l22-10 22-20 23-28 22-35 22-42 22-47 22-51 23-53 22-52 22-51 22-47 22-43 22-35 23-28 22-19 22-11 22-1"/><path transform="translate(3374.1 970.2)" d="M0 -19l22-10 22-19 23-27 22-35 22-41 22-46 22-49 23-51 22-51 22-49 22-46 22-41 22-35 23-27 22-19 22-10"/><path transform="translate(3365.7 966.4)" d="M0 -19l22-9 22-19 23-26 22-33 22-40 22-44 22-47 23-49 22-49 22-47 22-45 22-39 22-33 23-26"/><path transform="translate(3357.2 962.5)" d="M0 -18l22-9 22-18 23-25 22-32 22-37 22-42 22-45 23-47 22-46 22-45 22-42 22-38 22-32"/><path transform="translate(3348.7 958.7)" d="M0 -16l22-10 22-16 23-24 22-30 22-36 22-39 22-42 23-44 22-44 22-43 22-39 22-35"/><path transform="translate(3340.2 954.9)" d="M0 -15l22-9 22-16 23-22 22-28 22-33 22-37 22-39 23-41 22-41 22-39 22-37"/><path transform="translate(3331.8 951)" d="M0 -14l22-8 22-15 23-21 22-26 22-30 22-33 22-36 23-38 22-37 22-36"/><path transform="translate(3323.3 947.2)" d="M0 -12l22-8 22-14 23-19 22-23 22-28 22-30 22-32 23-34 22-33"/><path transform="translate(3314.8 943.4)" d="M0 -10l22-8 22-13 23-17 22-21 22-24 22-27 22-28 23-30"/><path transform="translate(3306.4 939.6)" d="M0 -8l22-8 22-11 23-15 22-18 22-21 22-23 22-25"/><path transform="translate(3297.9 935.7)" d="M0 -7l22-7 22-10 23-13 22-15 22-18 22-19 22-20"/><path transform="translate(3289.4 931.9)" d="M0 -5l22-6 22-9 23-11 22-12 22-14 22-15"/><path transform="translate(3281 928.1)" d="M0 -3l22-6 22-7 23-9 22-9 22-11 22-11"/><path transform="translate(3272.5 924.2)" d="M0 -1l22-5 22-6 23-7 22-6 22-7 22-7"/><path transform="translate(3264 920.4)" d="M0 -1l22-6 22-7 23-7 22-8 22-8 22-8 22-9 23-9 22-8"/><path transform="translate(3255.6 916.6)" d="M0 -3l22-7 22-8 23-9 22-10 22-12 22-13 22-13 23-13 22-14 22-13 22-12"/><path transform="translate(3247.1 912.8)" d="M0 -5l22-7 22-9 23-12 22-13 22-15 22-17 22-17 23-18 22-18 22-18 22-16 22-15 22-14"/><path transform="translate(3238.6 908.9)" d="M0 -7l22-7 22-11 23-13 22-17 22-18 22-21 22-21 23-23 22-22 22-22 22-20 22-19 22-16 23-13 22-11"/><path transform="translate(3230.2 905.1)" d="M0 -9l22-8 22-11 23-16 22-19 22-22 22-24 22-25 23-27 22-27 22-25 22-24 22-22 22-19 23-16 22-11 22-8 22-4"/><path transform="translate(3221.7 901.3)" d="M0 -11l22-8 22-13 23-17 22-22 22-24 22-28 22-30 23-30 22-31 22-29 22-28 22-25 22-21 23-18 22-13 22-8 22-3 22 2"/><path transform="translate(3213.2 897.5)" d="M0 -12l22-9 22-14 23-19 22-24 22-28 22-31 22-33 23-34 22-34 22-33 22-31 22-28 22-24 23-19 22-14 22-9 22-3 22 3 23 8"/><path transform="translate(3204.7 893.6)" d="M0 -14l22-8 22-15 23-21 22-26 22-31 22-34 22-36 23-38 22-38 22-36 22-34 22-31 22-26 23-21 22-15 22-9 22-2 22 4 23 9 22 15"/><path transform="translate(3196.3 889.8)" d="M0 -15l22-9 22-16 23-22 22-28 22-33 22-37 22-40 23-41 22-40 22-40 22-37 22-33 22-28 23-22 22-16 22-9 22-2 22 4 23 11 22 17 22 22"/><path transform="translate(3187.8 886)" d="M0 -16l22-10 22-16 23-24 22-30 22-35 22-39 22-42 23-44 22-44 22-42 22-39 22-35 22-30 23-24 22-16 22-10 22-2 22 6 23 12 22 19 22 24"/><path transform="translate(3179.3 882.1)" d="M0 -17l22-10 22-17 23-25 22-31 22-37 22-42 22-44 23-46 22-46 22-45 22-41 22-37 22-32 23-24 22-18 22-9 22-2 22 6 23 14 22 20 22 26 22 30"/><path transform="translate(3170.9 878.3)" d="M0 -18l22-10 22-18 23-26 22-32 22-39 22-43 22-46 23-48 22-48 22-47 22-43 22-39 22-32 23-26 22-18 22-10 22-1 22 7 23 14 22 21 22 28 22 32"/><path transform="translate(3162.4 874.5)" d="M0 -19l22-10 22-18 23-27 22-33 22-40 22-45 22-48 23-49 22-50 22-48 22-44 22-40 22-34 23-26 22-19 22-9 22-2 22 7 23 16 22 22 22 29 22 33 22 37"/><path transform="translate(3153.9 870.7)" d="M0 -19l22-10 22-19 23-27 22-34 22-41 22-46 22-49 23-50 22-51 22-49 22-46 22-40 22-35 23-27 22-18 22-11 22-1 22 8 23 16 22 23 22 29 22 34 22 38"/><path transform="translate(3145.5 866.8)" d="M0 -20l22-10 22-19 23-27 22-35 22-41 22-46 22-50 23-51 22-52 22-49 22-46 22-42 22-34 23-28 22-19 22-10 22-1 22 8 23 16 22 23 22 30 22 35 22 39"/></g><g class="ml" stroke="url(#b3)"><path transform="translate(3679 1108)" d="M0 -20l-17-7-17-6-17-6-17-5-17-5-17-4-17-4-17-5-16-12-17-11-17-11-17-11-17-10-17-10-17-8-17-8-17-8-17-6-17-6-17-5-17-5-17-4-17-4-16-3-17-11-17-11-17-11-17-11-17-10-17-10-17-9-9-4"/><path transform="translate(3690.1 1105.2)" d="M0 -21l-17-7-17-6-17-6-17-5-17-5-17-3-17-4-17-5-16-12-17-11-17-12-17-11-17-10-17-10-17-9-17-8-17-7-17-6-17-6-17-5-17-4-17-4-17-4-16-3-17-11-17-12-17-11-17-11-17-10-17-10-17-9-9-4"/><path transform="translate(3701.2 1102.4)" d="M0 -24l-17-7-17-7-17-5-17-4-17-4-17-4-17-3-17-4-16-13-17-12-17-12-17-11-17-11-17-10-17-9-17-8-17-7-17-7-17-5-17-5-17-3-17-4-17-3-16-3-17-10-17-13-17-12-17-11-17-11-17-10-17-9-9-4"/><path transform="translate(3712.3 1099.6)" d="M0 -30l-17-7-17-6-17-5-17-3-17-3-17-3-17-2-17-3-16-14-17-13-17-13-17-13-17-11-17-11-17-9-17-8-17-7-17-6-17-5-17-4-17-3-17-2-17-2-16-2-17-11-17-14-17-13-17-12-17-12-17-10-17-10-9-4"/><path transform="translate(3723.4 1096.8)" d="M0 -38l-17-7-17-5-17-4-17-3-17-2-17-1-17 0-17-2-16-16-17-15-17-14-17-14-17-12-17-11-17-10-17-9-17-6-17-6-17-4-17-3-17-2-17-1-17 0-16 0-17-13-17-15-17-14-17-14-17-12-17-11-17-10-9-5"/><path transform="translate(3734.5 1093.9)" d="M0 -47l-17-7-17-5-17-3-17-2-17 0-17 1-17 1-17-1-16-17-17-17-17-16-17-15-17-14-17-12-17-11-17-8-17-7-17-5-17-3-17-1-17-1-17 1-17 2-16 2-17-14-17-17-17-16-17-16-17-13-17-12-17-11-9-4"/><path transform="translate(3745.6 1091.1)" d="M0 -59l-17-7-17-4-17-2-17 0-17 2-17 3-17 3-17 1-16-20-17-19-17-18-17-17-17-15-17-14-17-11-17-9-17-6-17-4-17-2-17 0-17 1-17 3-17 4-16 4-17-15-17-20-17-18-17-17-17-15-17-13-17-12-9-4"/><path transform="translate(3756.7 1088.3)" d="M0 -73l-17-6-17-4-17 0-17 1-17 4-17 6-17 6-17 2-16-22-17-22-17-21-17-19-17-17-17-14-17-12-17-9-17-7-17-3-17-1-17 2-17 4-17 5-17 7-16 7-17-18-17-22-17-20-17-19-17-17-17-15-17-12-9-5"/><path transform="translate(3767.8 1085.5)" d="M0 -89l-17-6-17-2-17 1-17 3-17 7-17 8-17 9-17 5-16-26-17-25-17-23-17-22-17-19-17-16-17-13-17-9-17-6-17-2-17 0-17 4-17 6-17 9-17 9-16 10-17-19-17-25-17-24-17-21-17-19-17-16-17-13-9-5"/><path transform="translate(3778.8 1082.7)" d="M0 -106l-17-5-17-2-17 3-17 6-17 8-17 12-17 13-17 6-16-29-17-28-17-26-17-25-17-21-17-18-17-14-17-9-17-6-17-1-17 2-17 6-17 9-17 11-17 13-16 14-17-22-17-28-17-27-17-24-17-21-17-18-17-14-9-6"/><path transform="translate(3789.9 1079.9)" d="M0 -124l-17-6-17 0-17 4-17 9-17 11-17 15-17 16-17 10-16-33-17-32-17-30-17-27-17-23-17-20-17-15-17-10-17-5-17-1-17 5-17 8-17 12-17 14-17 17-16 17-17-24-17-32-17-30-17-27-17-24-17-19-17-15-9-6"/><path transform="translate(3801 1077.1)" d="M0 -144l-17-5-17 1-17 6-17 11-17 15-17 18-17 20-17 12-16-37-17-35-17-34-17-30-17-26-17-22-17-16-17-10-17-5-17 1-17 6-17 11-17 15-17 18-17 20-16 22-17-28-17-35-17-34-17-30-17-26-17-22-17-16-9-6"/><path transform="translate(3812.1 1074.2)" d="M0 -165l-17-5-17 2-17 9-17 13-17 18-17 22-17 25-17 14-16-41-17-39-17-37-17-34-17-29-17-23-17-18-17-11-17-4-17 2-17 8-17 14-17 18-17 22-17 24-16 26-17-30-17-40-17-37-17-34-17-29-17-23-17-17-9-7"/><path transform="translate(3823.2 1071.4)" d="M0 -187l-17-4-17 3-17 11-17 16-17 22-17 25M-136 -67l-16-46-17-44-17-41-17-37-17-31-17-26-17-18-17-12-17-4-17 4-17 10-17 16-17 22-17 26-17 28M-423 -223l-17-44-17-41-17-37-17-32-17-25-17-19-9-6"/><path transform="translate(3834.3 1068.6)" d="M0 -209l-17-4-17 5-17 12-17 19-17 25-17 30M-136 -68l-16-50-17-48-17-45-17-41-17-34-17-28-17-20-17-12-17-3-17 4-17 13-17 19-17 25-17 30M-423 -227l-17-48-17-45-17-40-17-35-17-28-17-20-9-7"/><path transform="translate(3845.4 1065.8)" d="M0 -232l-17-3-17 6-17 14-17 22-17 29-17 34M-136 -69l-16-54-17-53-17-49-17-44-17-38-17-29-17-22-17-12-17-3-17 6-17 14-17 23-17 28-17 34M-423 -231l-17-52-17-49-17-44-17-38-17-30-17-21-9-7"/><path transform="translate(3856.5 1063)" d="M0 -255l-17-3-17 7-17 17-17 25-17 32M-136 -70l-16-59-17-57-17-53-17-48-17-40-17-32-17-23-17-13-17-2-17 7-17 17-17 25-17 32M-423 -235l-17-57-17-53-17-48-17-40-17-32-17-23-9-7"/><path transform="translate(3867.6 1060.2)" d="M0 -279l-17-2-17 9-17 19-17 28-17 36M-152 -134l-17-62-17-57-17-51-17-44-17-34-17-24-17-13-17-2-17 8-17 19-17 28-17 36M-423 -238l-17-62-17-57-17-52-17-43-17-34-17-24-9-8"/><path transform="translate(3878.7 1057.4)" d="M0 -301l-17-2-17 10-17 21-17 31-17 40M-152 -140l-17-66-17-61-17-55-17-46-17-37-17-25-17-14-17-1-17 10-17 21-17 31-17 39M-423 -242l-17-66-17-62-17-55-17-46-17-36-17-26-9-8"/><path transform="translate(3889.8 1054.6)" d="M0 -324l-17-1-17 11-17 23-17 34M-152 -145l-17-70-17-66-17-58-17-49-17-39-17-27-17-14-17-1-17 12-17 23-17 34-17 43M-423 -246l-17-70-17-66-17-58-17-50-17-38-17-27-9-8"/><path transform="translate(3900.9 1051.8)" d="M0 -346l-17-1-17 13-17 25-17 37M-152 -150l-17-75-17-69-17-62-17-52-17-40-17-28-17-15-17-1-17 13-17 25-17 37M-423 -250l-17-74-17-70-17-62-17-52-17-40-17-28-9-9"/><path transform="translate(3912 1048.9)" d="M0 -367l-17 0-17 14-17 27-17 40M-119 -115l-17 42-16-82-17-78-17-74-17-65-17-54-17-43-17-29-17-15-17-1-17 14-17 28-17 39M-423 -253l-17-79-17-73-17-65-17-55-17-43-17-29-9-9"/><path transform="translate(3923.1 1046.1)" d="M0 -386l-17 0-17 15-17 29-17 42M-119 -119l-17 45-16-85-17-83-17-77-17-68-17-57-17-45-17-30-17-15-17 0-17 15-17 29-17 42M-423 -257l-17-82-17-77-17-68-17-57-17-45-17-30-9-10"/><path transform="translate(3934.2 1043.3)" d="M0 -405l-17 0-17 16-17 31M-102 -193l-17 71-17 47-16-89-17-86-17-80-17-71-17-60-17-46-17-31-17-16-17 0-17 16-17 31M-423 -260l-17-86-17-80-17-71-17-60-17-46-17-31-9-10"/><path transform="translate(3945.2 1040.5)" d="M0 -422l-17 0-17 18-17 32M-102 -199l-17 74-17 50-16-93-17-89-17-83-17-74-17-62-17-48-17-32-17-16-17 0-17 18-17 32M-440 -352l-17-83-17-74-17-62-17-48-17-32-9-10"/><path transform="translate(3956.3 1037.7)" d="M0 -438l-17 1-17 18-17 34M-85 -275l-17 70-17 78-17 51-16-95-17-93-17-86-17-76-17-64-17-49-17-34-17-16-17 1-17 18-17 34M-440 -358l-17-86-17-76-17-64-17-49-17-33-9-11"/><path transform="translate(3967.4 1034.9)" d="M0 -452l-17 2-17 19-17 35M-85 -283l-17 73-17 80-17 54-16-99-17-95-17-88-17-78-17-66-17-51-17-34-17-17-17 2-17 19-17 35M-440 -363l-17-88-17-78-17-66-17-51-17-34-9-10"/><path transform="translate(3978.5 1032.1)" d="M0 -463l-17 1-17 20M-68 -354l-17 65-17 75-17 82-17 56M-169 -275l-17-90-17-80-17-68-17-52-17-34-17-17-17 1-17 20-17 36M-440 -367l-17-90-17-81-17-67-17-52-17-35-9-10"/><path transform="translate(3989.6 1029.2)" d="M0 -473l-17 1-17 21M-68 -361l-17 67-17 76-17 85-17 56M-169 -279l-17-92-17-82-17-68-17-53-17-36-17-17-17 2-17 20M-440 -371l-17-92-17-82-17-68-17-53-17-35-9-11"/><path transform="translate(4000.7 1026.4)" d="M0 -481l-17 2-17 20-17 39-17 54-17 67-17 79-17 85-17 58M-169 -282l-17-94-17-83-17-69-17-54-17-36-17-17-17 2-17 20M-440 -373l-17-94-17-83-17-69-17-54-17-36-9-11"/><path transform="translate(4011.8 1023.6)" d="M0 -487l-17 2-17 21-17 39-17 55-17 68-17 80-17 86-17 59M-169 -285l-17-94-17-84-17-70-17-55-17-36-17-17-17 2-17 21M-440 -376l-17-94-17-84-17-70-17-54-17-36-9-12"/><path transform="translate(4022.9 1020.8)" d="M0 -490l-17 2-17 21-17 39-17 55-17 70-17 79-17 88-17 59M-169 -286l-17-95-17-85-17-70-17-55-17-36-17-18-17 2-17 21M-440 -377l-17-95-17-84-17-71-17-54-17-37-9-11"/><path transform="translate(4034 1018)" d="M0 -491l-17 2-17 21-17 39-17 56-17 69-17 80-17 87-17 60M-169 -287l-17-95-17-85-17-70-17-55-17-37-17-17-17 2-17 21M-457 -473l-17-84-17-71-17-54-17-37-9-11"/><path transform="translate(4045.1 1015.2)" d="M0 -490l-17 2-17 21-17 39-17 55-17 70-17 79-17 88-17 59M-169 -286l-17-95-17-85-17-70-17-55-17-36-17-18-17 2M-457 -472l-17-84-17-71-17-54-17-37-9-11"/><path transform="translate(4056.2 1012.4)" d="M0 -487l-17 2-17 21-17 39-17 55-17 68-17 80-17 86-17 59M-169 -285l-17-94-17-84-17-70-17-55-17-36-17-17-17 2M-457 -470l-17-84-17-70-17-54-17-36-9-12"/><path transform="translate(4067.3 1009.6)" d="M0 -481l-17 2-17 20-17 39-17 54-17 67-17 79-17 85-17 58M-186 -376l-17-83-17-69-17-54-17-36-17-17-17 2M-457 -467l-17-83-17-69-17-54-17-36-9-11"/><path transform="translate(4078.4 1006.8)" d="M0 -473l-17 1-17 21-17 37-17 53-17 67-17 76-17 85-17 56M-186 -371l-17-82-17-68-17-53-17-36-17-17-17 2M-457 -463l-17-82-17-68-17-53-17-35-9-11"/><path transform="translate(4089.5 1003.9)" d="M0 -463l-17 1-17 20-17 36-17 52-17 65-17 75-17 82-17 56M-186 -365l-17-80-17-68-17-52-17-34-17-17-17 1M-457 -457l-17-81-17-67-17-52-17-35-9-10"/><path transform="translate(4100.6 1001.1)" d="M0 -452l-17 2-17 19-17 35-17 50-17 63-17 73-17 80-17 54M-186 -358l-17-78-17-66-17-51-17-34-17-17M-474 -529l-17-66-17-51-17-34-9-10"/><path transform="translate(4111.7 998.3)" d="M0 -438l-17 1-17 18-17 34-17 49-17 61-17 70-17 78-17 51M-186 -350l-17-76-17-64-17-49-17-34-17-16M-474 -520l-17-64-17-49-17-33-9-11"/><path transform="translate(4122.8 995.5)" d="M0 -422l-17 0-17 18-17 32-17 47-17 58-17 68-17 74-17 50M-203 -414l-17-62-17-48-17-32-17-16M-474 -509l-17-62-17-48-17-32-9-10"/><path transform="translate(4133.8 992.7)" d="M0 -405l-17 0-17 16-17 31-17 45-17 56-17 64-17 71-17 47M-203 -401l-17-60-17-46-17-31-17-16M-474 -497l-17-60-17-46-17-31-9-10"/><path transform="translate(4144.9 989.9)" d="M0 -386l-17 0-17 15-17 29-17 42-17 53-17 61-17 67-17 45M-203 -387l-17-57-17-45-17-30-17-15M-491 -541l-17-45-17-30-9-10"/><path transform="translate(4156 987.1)" d="M0 -367l-17 0-17 14-17 27-17 40-17 49-17 58-17 64-17 42M-203 -372l-17-54-17-43-17-29-17-15M-491 -525l-17-43-17-29-9-9"/><path transform="translate(4167.1 984.2)" d="M0 -346l-17-1-17 13-17 25-17 37-17 47-17 54-17 59-17 39M-220 -408l-17-40-17-28M-508 -548l-17-28-9-9"/><path transform="translate(4178.2 981.4)" d="M0 -324l-17-1-17 11-17 23-17 34-17 43-17 51-17 55-17 36M-220 -388l-17-39-17-27M-508 -528l-17-27-9-8"/><path transform="translate(4189.3 978.6)" d="M0 -301l-17-2-17 10-17 21-17 31-17 40-17 46-17 51-17 33M-237 -405l-17-25M-525 -533l-9-8"/><path transform="translate(4200.4 975.8)" d="M0 -279l-17-2-17 9-17 19-17 28-17 36-17 42-17 46-17 31M-237 -382l-17-24"/><path transform="translate(4211.5 973)" d="M0 -255l-17-3-17 7-17 17-17 25-17 32-17 38-17 42-17 27"/><path transform="translate(4222.6 970.2)" d="M0 -232l-17-3-17 6-17 14-17 22-17 29-17 34-17 37-17 24"/><path transform="translate(4233.7 967.4)" d="M0 -209l-17-4-17 5-17 12-17 19-17 25-17 30-17 33-17 21"/><path transform="translate(4244.8 964.6)" d="M0 -187l-17-4-17 3-17 11-17 16-17 22-17 25-17 29-17 18"/><path transform="translate(4255.9 961.8)" d="M0 -165l-17-5-17 2-17 9-17 13-17 18-17 22-17 25-17 14"/><path transform="translate(4267 958.9)" d="M0 -144l-17-5-17 1-17 6-17 11-17 15-17 18-17 20-17 12"/><path transform="translate(4278.1 956.1)" d="M0 -124l-17-6-17 0-17 4-17 9-17 11-17 15-17 16-17 10"/><path transform="translate(4289.2 953.3)" d="M0 -106l-17-5-17-2-17 3-17 6-17 8-17 12-17 13-17 6"/><path transform="translate(4300.2 950.5)" d="M0 -89l-17-6-17-2-17 1-17 3-17 7-17 8-17 9-17 5"/><path transform="translate(4311.3 947.7)" d="M0 -73l-17-6-17-4-17 0-17 1-17 4-17 6-17 6-17 2"/><path transform="translate(4322.4 944.9)" d="M0 -59l-17-7-17-4-17-2-17 0-17 2-17 3-17 3-17 1"/><path transform="translate(4333.5 942.1)" d="M0 -47l-17-7-17-5-17-3-17-2-17 0-17 1-17 1-17-1"/><path transform="translate(4344.6 939.2)" d="M0 -38l-17-7-17-5-17-4-17-3-17-2-17-1-17 0-17-2"/><path transform="translate(4355.7 936.4)" d="M0 -30l-17-7-17-6-17-5-17-3-17-3-17-3-17-2-17-3"/><path transform="translate(4366.8 933.6)" d="M0 -24l-17-7-17-7-17-5-17-4-17-4-17-4-17-3-17-4"/><path transform="translate(4377.9 930.8)" d="M0 -21l-17-7-17-6-17-6-17-5-17-5-17-3-17-4"/></g>
<path class="ax" d="M3679 1108L4389 928M3679 1108L3137 863M3137 863L3137 312M3679 1108l6 10M3679 1108l-9 8M3856.5 1063l6 10M3543.5 1046.8l-9 8M4034 1018l6 10M3408 985.5l-9 8M4211.5 973l6 10M3272.5 924.2l-9 8M4389 928l6 10M3137 863l-9 8M3137 863l-10 0M3137 771.2l-10 0M3137 679.3l-10 0M3137 587.5l-10 0M3137 495.7l-10 0M3137 403.8l-10 0M3137 312l-10 0"/>
<text class="tk" x="3708" y="1165">-1</text>
<text class="tk e" x="3651" y="1156">-1</text>
<text class="tk" x="3885.5" y="1120">-0.5</text>
<text class="tk e" x="3515.5" y="1094.8">-0.5</text>
<text class="tk" x="4063" y="1075">0</text>
<text class="tk e" x="3380" y="1033.5">0</text>
<text class="tk" x="4240.5" y="1030">0.5</text>
<text class="tk e" x="3244.5" y="972.2">0.5</text>
<text class="tk" x="4418" y="985">1</text>
<text class="tk e" x="3109" y="907">1</text>
<text class="tk e" x="3111" y="868">0</text>
<text class="tk e" x="3111" y="776.2">0.1</text>
<text class="tk e" x="3111" y="684.3">0.2</text>
<text class="tk e" x="3111" y="592.5">0.3</text>
<text class="tk e" x="3111" y="500.7">0.4</text>
<text class="tk e" x="3111" y="408.8">0.5</text>
<text class="tk e" x="3111" y="317">0.6</text>
<text class="lb" x="3981" y="1154">F<tspan class="sb" dy="9">x</tspan></text>
<text class="lb" x="3388" y="1161.5">F<tspan class="sb" dy="9">y</tspan></text>
<text class="lb m" transform="translate(3027 587.5) rotate(-90)">Magnitude</text>
<text class="ti" x="3763" y="113">Kernel 1 Channel 3</text>
<text class="cp" transform="translate(3712 1331) scale(1.1 1)">(<tspan class="b">c</tspan>) Kernel 1 Channel 3</text>
<path class="gr" d="M747 2432L253 2207M253 2207L253 1716M747 2432L1383 2263M1383 2263L1383 1772M906 2389.8L412 2164.8M412 2164.8L412 1673.8M623.5 2375.8L1259.5 2206.8M1259.5 2206.8L1259.5 1715.8M1065 2347.5L571 2122.5M571 2122.5L571 1631.5M500 2319.5L1136 2150.5M1136 2150.5L1136 1659.5M1224 2305.2L730 2080.2M730 2080.2L730 1589.2M376.5 2263.2L1012.5 2094.2M1012.5 2094.2L1012.5 1603.3M1383 2263L889 2038M889 2038L889 1547M253 2207L889 2038M889 2038L889 1547M253 2207L889 2038M889 2038L1383 2263M253 2125.2L889 1956.2M889 1956.2L1383 2181.2M253 2043.3L889 1874.3M889 1874.3L1383 2099.3M253 1961.5L889 1792.5M889 1792.5L1383 2017.5M253 1879.7L889 1710.7M889 1710.7L1383 1935.7M253 1797.8L889 1628.8M889 1628.8L1383 1853.8M253 1716L889 1547M889 1547L1383 1772"/>
<defs><linearGradient id="a4" gradientUnits="userSpaceOnUse" x1="-0.3" y1="-1.2" x2="-99.5" y2="-374.5"><stop offset="0" stop-color="#3e26a8"/><stop offset="0.06" stop-color="#4434cd"/><stop offset="0.125" stop-color="#4852f4"/><stop offset="0.19" stop-color="#436cfe"/><stop offset="0.28" stop-color="#2e87f7"/><stop offset="0.34" stop-color="#2796eb"/><stop offset="0.4" stop-color="#1caadf"/><stop offset="0.45" stop-color="#0cb8cd"/><stop offset="0.5" stop-color="#1ebeb2"/><stop offset="0.57" stop-color="#37c897"/><stop offset="0.66" stop-color="#81cc59"/><stop offset="0.73" stop-color="#bbc334"/><stop offset="0.8" stop-color="#e8bc30"/><stop offset="0.875" stop-color="#fdcb36"/><stop offset="0.94" stop-color="#f6e428"/><stop offset="1" stop-color="#f9fb15"/></linearGradient><linearGradient id="b4" gradientUnits="userSpaceOnUse" x1="0.5" y1="-1.1" x2="151.3" y2="-332.1"><stop offset="0" stop-color="#3e26a8"/><stop offset="0.06" stop-color="#4434cd"/><stop offset="0.125" stop-color="#4852f4"/><stop offset="0.19" stop-color="#436cfe"/><stop offset="0.28" stop-color="#2e87f7"/><stop offset="0.34" stop-color="#2796eb"/><stop offset="0.4" stop-color="#1caadf"/><stop offset="0.45" stop-color="#0cb8cd"/><stop offset="0.5" stop-color="#1ebeb2"/><stop offset="0.57" stop-color="#37c897"/><stop offset="0.66" stop-color="#81cc59"/><stop offset="0.73" stop-color="#bbc334"/><stop offset="0.8" stop-color="#e8bc30"/><stop offset="0.875" stop-color="#fdcb36"/><stop offset="0.94" stop-color="#f6e428"/><stop offset="1" stop-color="#f9fb15"/></linearGradient></defs><path class="wu" d="M747 2408l20-9 20-16 20-23 19-29 20-33 20-38 20-41 20-42 20-42 20-41 20-37 20-34 19-29 20-23 20-16 20-8 20-2 20 5 20 12 20 19 19 23 20 27 20 30 20 32 20 31 20 30 20 27 20 24 19 18 20 12 20 5 10 0-15-6-10-1-20-5-20-12-20-18-20-23-20-27-20-30-19-31-20-31-20-30-20-27-20-23-20-18-20-12-20-5-19 2-20 9-20 15-20 23-20 29-20 33-20 38-20 40-19 42-20 41-20 41-20 37-20 34-20 28-20 23-20 16-19 9zM732 2401l19-9 20-16 20-23 20-28 20-34 20-37 20-41 20-41 19-42 20-40 20-38 20-33 20-29 20-23 20-15 20-9 19-2 20 5 20 12 20 18 20 23 20 27 20 30 20 31 19 31 20 30 20 27 20 23 20 18 20 12 20 5 10 1-16-7-10 0-20-5-20-11-19-18-20-22-20-26-20-29-20-31-20-30-20-29-19-26-20-22-20-18-20-11-20-6-20 2-20 9-20 16-20 22-19 28-20 33-20 36-20 40-20 41-20 41-20 39-19 37-20 33-20 28-20 22-20 16-20 8zM716 2394l20-8 20-16 20-22 20-28 20-33 19-37 20-39 20-41 20-41 20-40 20-36 20-33 19-28 20-22 20-16 20-9 20-2 20 6 20 11 20 18 20 22 19 26 20 29 20 30 20 31 20 29 20 26 20 22 19 18 20 11 20 5 10 0-15-6-10 0-20-4-20-11-20-17-20-21-20-25-19-28-20-28-20-29-20-28-20-25-20-21-20-17-20-11-19-4-20 2-20 8-20 16-20 21-20 27-20 32-20 35-19 39-20 39-20 40-20 38-20 35-20 32-20 27-20 22-19 15-20 8zM701 2388l20-8 19-15 20-22 20-27 20-32 20-35 20-38 20-40 20-39 19-39 20-35 20-32 20-27 20-21 20-16 20-8 20-2 19 4 20 11 20 17 20 21 20 25 20 28 20 29 20 28 19 28 20 25 20 21 20 17 20 11 20 4 10 0-16-5-10 0-19-4-20-10-20-15-20-20-20-24-20-25-20-27-20-27-19-26-20-23-20-20-20-15-20-10-20-5-20 3-20 8-19 15-20 20-20 26-20 30-20 34-20 37-20 37-20 38-20 36-19 34-20 30-20 26-20 21-20 14-20 9zM685 2383l20-9 20-14 20-21 20-26 20-30 19-34 20-36 20-38 20-37 20-37 20-34 20-30 20-26 20-20 19-15 20-8 20-3 20 5 20 10 20 15 20 20 20 23 19 26 20 27 20 27 20 25 20 24 20 20 20 15 20 10 19 4 10 0-15-6-10 1-20-4-20-8-20-14-20-18-19-22-20-23-20-25-20-24-20-24-20-21-20-18-20-14-19-9-20-3-20 2-20 8-20 14-20 20-20 24-20 29-19 31-20 35-20 35-20 35-20 34-20 32-20 28-20 25-19 19-20 14-20 9zM670 2378l20-9 20-14 19-19 20-25 20-28 20-32 20-34 20-35 20-35 20-35 19-31 20-29 20-24 20-20 20-14 20-8 20-2 20 3 19 9 20 14 20 18 20 21 20 24 20 24 20 25 20 23 19 22 20 18 20 14 20 8 20 4 10-1-16-4-10 0-19-3-20-7-20-12-20-16-20-19-20-21-20-22-19-22-20-21-20-19-20-16-20-12-20-8-20-3-20 3-20 8-19 13-20 18-20 23-20 27-20 29-20 32-20 32-19 33-20 31-20 30-20 26-20 23-20 18-20 14-20 8zM654 2373l20-8 20-14 20-18 20-23 20-26 20-30 20-31 19-33 20-32 20-32 20-29 20-27 20-23 20-18 19-13 20-8 20-3 20 3 20 8 20 12 20 16 20 19 20 21 19 22 20 22 20 21 20 19 20 16 20 12 20 7 19 3 10 0-15-5-10 1-20-2-20-7-20-10-19-14-20-16-20-18-20-19-20-20-20-18-20-16-20-14-19-10-20-7-20-2-20 3-20 8-20 12-20 17-20 21-19 24-20 27-20 29-20 30-20 30-20 29-20 27-20 24-19 21-20 17-20 12-20 8zM639 2368l20-8 20-12 20-17 19-21 20-24 20-27 20-29 20-30 20-30 20-29 20-27 19-24 20-21 20-17 20-12 20-8 20-3 20 2 20 7 19 10 20 14 20 16 20 18 20 20 20 19 20 18 20 16 19 14 20 10 20 7 20 2 10-1-15-5-10 1-20-1-20-5-20-8-20-12-20-13-20-16-20-16-19-16-20-16-20-13-20-12-20-8-20-5-20-1-19 3-20 7-20 12-20 15-20 19-20 22-20 25-20 26-20 26-19 27-20 26-20 25-20 22-20 18-20 16-20 12-19 7zM624 2363l19-7 20-12 20-16 20-18 20-22 20-25 20-26 19-27 20-26 20-26 20-25 20-22 20-19 20-15 20-12 20-7 19-3 20 1 20 5 20 8 20 12 20 13 20 16 19 16 20 16 20 16 20 13 20 12 20 8 20 5 20 1 10-1-16-5-10 2-20-1-20-3-19-7-20-9-20-11-20-12-20-14-20-13-20-12-20-11-19-10-20-6-20-4-20 0-20 4-20 7-20 11-20 14-19 17-20 19-20 22-20 23-20 24-20 24-20 23-20 22-19 19-20 17-20 14-20 11-20 7zM608 2358l20-7 20-11 20-14 20-17 19-19 20-22 20-23 20-24 20-24 20-23 20-22 20-19 19-17 20-14 20-11 20-7 20-4 20 0 20 4 20 6 19 10 20 11 20 12 20 13 20 14 20 12 20 11 20 9 19 7 20 3 20 1 10-2-15-4-10 1-20 1-20-2-20-5-20-7-20-9-19-9-20-11-20-10-20-10-20-9-20-6-20-5-20-2-19 0-20 4-20 7-20 10-20 13-20 15-20 17-20 19-19 21-20 21-20 21-20 20-20 19-20 18-20 15-20 13-20 9-19 7zM593 2353l19-7 20-9 20-13 20-15 20-18 20-19 20-20 20-21 20-21 19-21 20-19 20-17 20-15 20-13 20-10 20-7 20-4 19 0 20 2 20 5 20 6 20 9 20 10 20 10 20 11 19 9 20 9 20 7 20 5 20 2 20-1 10-1-16-5-10 1-20 2-19-1-20-3-20-5-20-6-20-8-20-7-20-8-20-7-19-7-20-4-20-3-20-1-20 1-20 4-20 7-20 9-19 11-20 14-20 15-20 17-20 18-20 18-20 18-20 18-19 17-20 16-20 13-20 12-20 9-20 6zM577 2348l20-6 20-9 20-12 20-13 20-16 19-17 20-18 20-18 20-18 20-18 20-17 20-15 20-14 19-11 20-9 20-7 20-4 20-1 20 1 20 3 20 4 19 7 20 7 20 8 20 7 20 8 20 6 20 5 20 3 19 1 20-2 10-1-15-6-10 2-20 2-20 1-20-2-20-3-20-4-19-5-20-6-20-5-20-5-20-4-20-4-20-1-19 0-20 2-20 5-20 6-20 8-20 11-20 12-20 13-20 15-19 16-20 16-20 16-20 15-20 15-20 14-20 12-20 10-19 9-20 6zM562 2343l20-6 19-9 20-10 20-12 20-14 20-15 20-15 20-16 20-16 19-16 20-15 20-13 20-12 20-11 20-8 20-6 20-5 20-2 19 0 20 1 20 4 20 4 20 5 20 5 20 6 19 5 20 4 20 3 20 2 20-1 20-2 10-2-16-5-10 2-19 2-20 2-20-1-20-1-20-3-20-3-20-4-20-3-19-3-20-3-20-2-20 0-20 1-20 3-20 4-20 7-19 7-20 10-20 11-20 12-20 13-20 14-20 14-20 14-19 14-20 13-20 12-20 11-20 9-20 8-20 6zM546 2337l20-6 20-8 20-9 20-11 20-12 20-13 19-14 20-14 20-14 20-14 20-13 20-12 20-11 20-10 19-7 20-7 20-4 20-3 20-1 20 0 20 2 20 3 19 3 20 3 20 4 20 3 20 3 20 1 20 1 20-2 19-2 10-2-15-6-10 2-20 3-20 2-20 0-19 0-20-1-20-2-20-2-20-3-20-1-20-2-20 0-20 0-19 2-20 3-20 5-20 6-20 7-20 9-20 10-20 11-19 12-20 12-20 13-20 13-20 12-20 12-20 11-20 10-19 9-20 7-20 6zM531 2331l20-6 20-7 19-9 20-10 20-11 20-12 20-12 20-13 20-13 20-12 19-12 20-11 20-10 20-9 20-7 20-6 20-5 20-3 19-2 20 0 20 0 20 2 20 1 20 3 20 2 20 2 20 1 19 0 20 0 20-2 20-3 10-2-15-7-10 3-20 3-20 2-20 1-20 0-20 0-20-1-20-1-19-2-20-1-20 0-20 0-20 1-20 2-20 4-20 4-19 6-20 7-20 9-20 9-20 11-20 11-20 11-20 12-19 12-20 12-20 11-20 10-20 9-20 9-20 7-20 6zM515 2325l20-6 20-7 20-9 20-9 20-10 20-11 20-12 19-12 20-12 20-11 20-11 20-11 20-9 20-9 20-7 19-6 20-4 20-4 20-2 20-1 20 0 20 0 20 1 19 2 20 1 20 1 20 0 20 0 20-1 20-2 20-3 10-3-16-6-10 2-20 3-20 3-19 1-20 0-20 0-20-1-20-1-20-1-20 0-20-1-19 1-20 1-20 2-20 4-20 5-20 5-20 8-20 8-19 9-20 10-20 11-20 11-20 12-20 11-20 12-20 11-19 10-20 9-20 8-20 7-20 6zM500 2318l20-6 20-7 20-8 20-9 19-10 20-11 20-12 20-11 20-12 20-11 20-11 20-10 19-9 20-8 20-8 20-5 20-5 20-4 20-2 20-1 19-1 20 1 20 0 20 1 20 1 20 1 20 0 20 0 19-1 20-3 20-3 10-2-15-8-10 3-20 3-20 2-20 1-20 0-20 0-20-1-19-1-20-2-20-1-20 0-20 0-20 1-20 2-20 4-19 4-20 6-20 7-20 9-20 9-20 11-20 11-20 11-19 12-20 12-20 12-20 11-20 10-20 9-20 9-20 7-19 6zM485 2311l19-6 20-7 20-9 20-9 20-10 20-11 20-12 20-12 19-12 20-11 20-11 20-11 20-9 20-9 20-7 20-6 19-4 20-4 20-2 20-1 20 0 20 0 20 1 20 2 19 1 20 1 20 0 20 0 20-1 20-2 20-3 10-3-16-7-10 2-20 3-19 2-20 0-20 0-20-2-20-1-20-3-20-2-20-2-20-1-19 0-20 0-20 2-20 3-20 5-20 6-20 7-19 9-20 10-20 11-20 12-20 12-20 13-20 13-20 12-20 12-19 11-20 10-20 9-20 7-20 6zM469 2303l20-6 20-7 20-9 20-10 19-11 20-12 20-12 20-13 20-13 20-12 20-12 20-11 20-10 19-9 20-7 20-6 20-5 20-3 20-2 20 0 19 0 20 1 20 2 20 2 20 3 20 1 20 2 20 0 20 0 19-2 20-3 10-2-15-8-10 2-20 2-20 1-20 0-20-2-20-2-19-3-20-4-20-3-20-4-20-2-20-2-20 0-20 1-19 3-20 4-20 6-20 8-20 10-20 11-20 12-20 13-19 14-20 14-20 14-20 14-20 13-20 12-20 11-20 9-19 8-20 6zM454 2295l20-6 19-8 20-9 20-11 20-12 20-13 20-14 20-14 20-14 19-14 20-13 20-12 20-11 20-10 20-8 20-6 20-4 19-3 20-1 20 0 20 2 20 2 20 4 20 3 20 4 19 3 20 2 20 2 20 0 20-1 20-2 10-2-16-9-10 2-19 2-20 0-20-1-20-3-20-5-20-5-20-5-20-5-19-5-20-5-20-3-20-1-20 0-20 2-20 4-20 7-20 8-19 10-20 12-20 14-20 15-20 15-20 16-20 16-19 16-20 15-20 13-20 13-20 10-20 8-20 7zM438 2287l20-7 20-8 20-10 20-13 20-13 20-15 19-16 20-16 20-16 20-15 20-15 20-14 20-12 19-10 20-8 20-7 20-4 20-2 20 0 20 1 20 3 20 5 19 5 20 5 20 5 20 5 20 5 20 3 20 1 20 0 19-2 10-2-15-9-10 2-20 1-20-1-20-3-20-4-19-7-20-7-20-8-20-7-20-8-20-6-20-5-20-3-19-1-20 2-20 4-20 6-20 9-20 12-20 14-20 15-19 17-20 18-20 18-20 18-20 18-20 17-20 15-20 14-19 11-20 9-20 7zM423 2278l20-7 20-9 19-11 20-14 20-15 20-17 20-18 20-18 20-18 20-18 19-17 20-15 20-14 20-12 20-9 20-6 20-4 20-2 19 1 20 3 20 5 20 6 20 8 20 7 20 8 20 7 19 7 20 4 20 3 20 1 20-1 10-2-16-9-9 2-20 0-20-2-20-5-20-6-20-9-20-10-20-10-20-11-19-9-20-9-20-7-20-5-20-2-20 1-20 4-19 7-20 9-20 13-20 15-20 18-20 19-20 20-20 21-20 21-19 21-20 19-20 17-20 16-20 12-20 10-20 7zM407 2269l20-7 20-10 20-12 20-16 20-17 20-19 19-21 20-21 20-21 20-20 20-19 20-18 20-15 20-13 20-9 19-7 20-4 20-1 20 2 20 5 20 7 20 9 19 9 20 11 20 10 20 10 20 9 20 6 20 5 20 2 20 0 9-2-15-9-10 1-20 0-20-3-20-7-19-9-20-11-20-13-20-13-20-13-20-13-20-11-20-9-19-7-20-3-20 0-20 3-20 7-20 11-20 14-20 17-19 20-20 22-20 23-20 23-20 24-20 23-20 22-20 20-19 17-20 14-20 11-20 7zM392 2260l20-7 20-11 20-14 19-17 20-20 20-22 20-23 20-24 20-23 20-23 20-22 19-20 20-17 20-14 20-11 20-7 20-3 20 0 20 3 19 7 20 9 20 11 20 13 20 13 20 13 20 13 20 11 19 9 20 7 20 3 20 0 10-1-15-9-10 1-20-1-20-5-20-9-20-11-20-14-20-15-19-17-20-16-20-15-20-14-20-11-20-9-20-5-20-1-20 4-19 7-20 11-20 16-20 19-20 22-20 24-20 26-19 27-20 27-20 26-20 24-20 22-20 19-20 15-20 12-20 7zM376 2250l20-7 20-12 20-15 20-19 20-22 20-24 20-26 20-27 19-27 20-26 20-24 20-22 20-19 20-16 20-11 19-7 20-4 20 1 20 5 20 9 20 11 20 14 20 15 20 16 19 17 20 15 20 14 20 11 20 9 20 5 20 1 10-1-16-10-10 1-20-2-20-6-19-10-20-14-20-17-20-18-20-19-20-19-20-18-20-17-19-14-20-10-20-6-20-2-20 3-20 7-20 13-20 17-19 21-20 24-20 27-20 29-20 29-20 30-20 29-20 27-19 24-20 21-20 17-20 12-20 8zM361 2241l20-8 20-12 20-17 20-21 19-24 20-27 20-29 20-30 20-29 20-29 20-27 20-24 19-21 20-17 20-13 20-7 20-3 20 2 20 6 20 10 19 14 20 17 20 18 20 19 20 19 20 18 20 17 20 14 19 10 20 6 20 2 10-1-15-9-10 1-20-3-20-8-20-12-20-16-20-19-19-21-20-22-20-22-20-21-20-19-20-16-20-12-20-8-19-2-20 2-20 8-20 13-20 19-20 22-20 27-20 29-20 32-19 33-20 32-20 32-20 29-20 27-20 22-20 19-19 13-20 8zM346 2232l20-8 19-13 20-19 20-22 20-27 20-29 20-32 20-32 19-33 20-32 20-29 20-27 20-22 20-19 20-13 20-8 20-2 19 2 20 8 20 12 20 16 20 19 20 21 20 22 20 22 19 21 20 19 20 16 20 12 20 8 20 3 10-1-16-9-10 0-20-3-19-9-20-14-20-18-20-21-20-24-20-24-20-25-20-24-19-21-20-18-20-14-20-9-20-3-20 2-20 8-20 14-19 20-20 24-20 29-20 32-20 34-20 35-20 35-20 34-19 32-20 29-20 24-20 20-20 14-20 8zM330 2223l20-8 20-14 20-20 20-24 20-29 19-32 20-34 20-35 20-35 20-34 20-32 20-29 20-24 19-20 20-14 20-8 20-2 20 3 20 9 20 14 20 18 19 21 20 24 20 25 20 24 20 24 20 21 20 18 20 14 19 9 20 3 10 0-15-9-10 0-20-4-20-10-20-15-20-20-20-23-19-26-20-27-20-27-20-26-20-23-20-20-20-15-20-10-19-4-20 2-20 8-20 15-20 20-20 26-20 31-19 34-20 36-20 37-20 38-20 36-20 34-20 31-20 25-20 21-19 15-20 8zM315 2214l20-8 19-15 20-21 20-25 20-31 20-34 20-36 20-38 20-37 20-36 19-34 20-31 20-26 20-20 20-15 20-8 20-2 19 4 20 10 20 15 20 20 20 23 20 26 20 27 20 27 19 26 20 23 20 20 20 15 20 10 20 4 10 0-16-9-10 1-19-5-20-11-20-17-20-21-20-25-20-27-20-29-20-29-19-28-20-25-20-21-20-16-20-11-20-5-20 2-20 9-19 15-20 21-20 27-20 32-20 36-20 38-20 39-20 40-19 38-20 35-20 32-20 27-20 22-20 15-20 9zM299 2206l20-9 20-15 20-22 20-27 20-32 20-35 19-38 20-40 20-39 20-38 20-36 20-32 20-27 20-21 19-15 20-9 20-2 20 5 20 11 20 16 20 21 20 25 19 28 20 29 20 29 20 27 20 25 20 21 20 17 20 11 19 5 10-1-15-8-10 0-20-5-20-11-20-18-19-22-20-26-20-29-20-31-20-30-20-29-20-26-20-22-19-18-20-11-20-5-20 1-20 9-20 16-20 22-20 28-20 33-19 37-20 39-20 41-20 41-20 39-20 37-20 33-19 28-20 22-20 16-20 9zM284 2198l20-9 20-16 20-22 19-28 20-33 20-37 20-39 20-41 20-41 20-39 19-37 20-33 20-28 20-22 20-16 20-9 20-1 20 5 20 11 19 18 20 22 20 26 20 29 20 30 20 31 20 29 20 26 19 22 20 18 20 11 20 5 10 0-16-7-9 0-20-6-20-12-20-18-20-23-20-27-20-30-20-31-19-31-20-30-20-27-20-23-20-18-20-12-20-5-20 2-19 9-20 16-20 22-20 29-20 33-20 38-20 40-20 42-19 42-20 40-20 37-20 34-20 29-20 22-20 16-20 9zM268 2190l20-9 20-16 20-22 20-29 20-34 20-37 20-40 19-42 20-42 20-40 20-38 20-33 20-29 20-22 20-16 19-9 20-2 20 5 20 12 20 18 20 23 20 27 20 30 19 31 20 31 20 30 20 27 20 23 20 18 20 12 20 6 9 0-7-4-10 0-20-6-20-12-20-18-20-23-20-27-19-30-20-31-20-32-20-30-20-27-20-23-20-18-20-12-19-6-20 2-20 9-20 16-20 22-20 29-20 34-20 38-19 40-20 42-20 42-20 40-20 38-20 34-20 29-20 22-19 16-20 9z"/><g class="ml" stroke="url(#a4)"><path transform="translate(747 2432)" d="M0 -24l20-9 20-16 20-23 20-29 19-33 20-38 20-41 20-42 20-42 20-41 20-37 20-34 19-29 20-23 20-16 20-8 20-2 20 5 20 12 20 19 19 23 20 27 20 30 20 32 20 31 20 30 20 27 20 24 19 18 20 12 20 5 10 0"/><path transform="translate(739.3 2428.5)" d="M0 -24l20-9 20-16 20-23 20-28 19-34 20-38 20-41 20-42 20-41 20-41 20-38 20-34 19-28 20-23 20-16 20-9 20-1 20 5 20 12 20 18 19 23 20 28 20 30 20 31 20 31 20 30 20 28 20 23 19 18 20 12 20 5 10 0"/><path transform="translate(731.6 2425)" d="M0 -24l20-9 20-16 20-22 20-29 19-34 20-37 20-40 20-42 20-42 20-40 20-38 20-33 19-29 20-22 20-16 20-9 20-2 20 5 20 12 20 18 19 23 20 27 20 30 20 31 20 31 20 30 20 27 20 23 19 18 20 12 20 6 10 0"/><path transform="translate(723.8 2421.5)" d="M0 -24l20-9 20-16 20-22 20-28 19-33 20-38 20-40 20-41 20-41 20-40 20-38 20-33 19-28 20-23 20-15 20-9 20-2 20 5 20 12 20 18 19 23 20 26 20 30 20 30 20 31 20 30 20 26 19 23 20 18 20 12 20 5 10 0"/><path transform="translate(716.1 2417.9)" d="M0 -24l20-8 20-16 20-22 20-28 19-33 20-37 20-39 20-41 20-41 20-39 20-37 20-33 19-28 20-22 20-16 20-9 20-1 20 5 20 11 20 18 19 22 20 26 20 29 20 30 20 31 20 29 20 26 20 22 19 18 20 11 20 5 10 0"/><path transform="translate(708.4 2414.4)" d="M0 -23l20-9 20-15 20-22 20-28 19-32 20-36 20-39 20-40 20-41 20-38 20-37 20-32 19-28 20-21 20-16 20-9 20-2 20 5 20 12 20 17 19 22 20 25 20 28 20 30 20 30 20 28 20 26 20 22 19 17 20 11 20 5 10 0"/><path transform="translate(700.7 2410.9)" d="M0 -22l20-9 20-15 20-22 20-27 19-32 20-35 20-38 20-40 20-39 20-38 20-36 20-32 19-27 20-21 20-16 20-8 20-2 20 5 20 10 20 17 19 21 20 25 20 28 20 29 20 29 20 27 20 25 20 21 19 17 20 11 20 4 10 0"/><path transform="translate(693 2407.4)" d="M0 -22l20-8 20-15 20-21 20-27 19-31 20-35 20-37 20-39 20-38 20-37 20-35 20-31 19-27 20-21 20-15 20-8 20-2 20 4 20 10 20 16 19 21 20 24 20 27 20 28 20 28 20 27 20 24 20 20 19 16 20 11 20 4 10 0"/><path transform="translate(685.2 2403.9)" d="M0 -21l20-8 20-15 20-21 20-26 19-30 20-34 20-36 20-38 20-37 20-37 20-33 20-31 19-26 20-20 20-15 20-8 20-2 20 4 20 10 20 15 19 20 20 23 20 26 20 27 20 27 20 26 20 23 20 20 19 15 20 10 20 4 10 0"/><path transform="translate(677.5 2400.4)" d="M0 -20l20-9 20-14 20-20 20-25 19-30 20-32 20-36 20-36 20-37 20-35 20-33 20-29 19-25 20-20 20-15M338 -426l20 3 20 10 20 15 19 18 20 23 20 24 20 26 20 26 20 25 20 22 20 19 19 15 20 9 20 4 10 0"/><path transform="translate(669.8 2396.8)" d="M0 -19l20-8 20-15 20-19 20-24 19-29 20-32 20-34 20-35 20-35 20-34 20-32 20-29 19-24 20-20 20-14M338 -413l20 3 20 9 20 14 19 18 20 21 20 24 20 24 20 25 20 24 20 21 20 18 19 14 20 9 20 3 10 0"/><path transform="translate(662.1 2393.3)" d="M0 -18l20-8 20-14 20-19 20-23 19-28 20-31 20-33 20-34 20-34 20-32 20-31 20-28 19-23 20-19M338 -399l20 3 20 8 20 13 19 17 20 20 20 23 20 23 20 23 20 23 20 20 20 17 19 13 20 8 20 3 10 0"/><path transform="translate(654.4 2389.8)" d="M0 -17l20-8 20-13 20-19 20-22 19-27 20-29 20-32 20-33 20-32 20-32 20-29 20-27 19-22 20-19M338 -385l20 3 20 8 20 12 19 16 20 19 20 21 20 22 20 22 20 21 20 19 20 16 19 12 20 8 20 2 10 0"/><path transform="translate(646.7 2386.3)" d="M0 -16l20-8 20-13 20-17 20-22 19-26 20-28 20-30 20-31 20-32 20-30 20-28 20-25 19-22 20-18M338 -369l20 2 20 7 20 11 19 15 20 18 20 20 20 20 20 21 20 19 20 18 20 15 19 11 20 7 20 3 10-1"/><path transform="translate(638.9 2382.8)" d="M0 -15l20-8 20-12 20-17 20-21 19-24 20-27 20-29 20-30 20-30 20-28 20-27 20-25 19-20M338 -353l20 2 20 6 20 10 19 14 20 16 20 19 20 19 20 19 20 18 20 17 20 13 19 11 20 6 20 2 10-1"/><path transform="translate(631.2 2379.3)" d="M0 -14l20-8 20-12 20-16 20-20 19-23 20-25 20-28 20-28 20-28 20-28 20-25 20-24 19-19M338 -337l20 1 20 6 20 9 19 13 20 15 20 17 20 17 20 18 20 17 20 15 20 13 19 9 20 6 20 1 10-1"/><path transform="translate(623.5 2375.8)" d="M0 -13l20-7 20-12 20-15 20-19 19-22 20-25 20-26 20-26 20-27 20-26 20-24 20-22 19-19M338 -321l20 1 20 5 20 8 19 12 20 14 20 15 20 16 20 16 20 16 20 14 20 11 19 8 20 5 20 1 10-1"/><path transform="translate(615.8 2372.2)" d="M0 -12l20-7 20-11 20-15 20-18 19-21 20-23 20-24 20-25 20-26 20-24 20-23 20-21M338 -305l20 1 20 4 20 8 19 10 20 12 20 14 20 15 20 15 20 14 20 12 20 10 19 8 20 4 20 1 10-2"/><path transform="translate(608.1 2368.7)" d="M0 -11l20-7 20-10 20-14 20-18 19-19 20-22 20-23 20-24 20-24 20-23 20-21 20-20M338 -288l20 0 20 3 20 7 19 9 20 11 20 12 20 14 20 13 20 12 20 12 20 9 19 6 20 4 20 0 10-1"/><path transform="translate(600.3 2365.2)" d="M0 -9l20-7 20-11 20-13 20-16 19-19 20-20 20-22 20-22 20-23 20-21 20-21 20-18M338 -273l20 0 20 3 20 5 19 8 20 10 20 11 20 12 20 12 20 11 20 10 20 8 19 6 20 2 20 0 10-1"/><path transform="translate(592.6 2361.7)" d="M0 -8l20-7 20-10 20-13 20-15 19-18 20-19 20-20 20-21 20-21 20-20 20-19 20-18M358 -258l20 2 20 5 19 7 20 8 20 10 20 11 20 10 20 10 20 8 20 7 19 5 20 2 20-1"/><path transform="translate(584.9 2358.2)" d="M0 -7l20-7 20-10 20-12 20-14 19-16 20-18 20-19 20-20 20-20 20-19 20-18 20-16M358 -244l20 2 20 4 19 6 20 7 20 8 20 9 20 10 20 8 20 7 20 6 19 4 20 2 20-2"/><path transform="translate(577.2 2354.7)" d="M0 -6l20-7 20-9 20-12 20-13 19-16 20-16 20-18 20-18 20-19 20-18 20-16 20-16M358 -230l20 1 20 3 19 5 20 6 20 7 20 8 20 8 20 7 20 6 20 5 19 3 20 1 20-1"/><path transform="translate(569.5 2351.1)" d="M0 -6l20-6 20-9 20-11 20-12 19-15 20-16 20-16 20-17 20-18 20-16 20-16 20-14M358 -217l20 0 20 2 19 4 20 5 20 7 20 6 20 7 20 6 20 5 20 4 19 2 20 0 20-1"/><path transform="translate(561.8 2347.6)" d="M0 -5l20-6 20-8 20-11 20-12 19-14 20-14 20-16 20-16 20-16 20-15 20-15 20-14M358 -205l20-1 20 2 19 3 20 4 20 5 20 6 20 5 20 5 20 4 20 3 19 2 20 0"/><path transform="translate(554 2344.1)" d="M0 -4l20-6 20-8 20-10 20-12 19-12 20-14 20-15 20-15 20-15 20-15 20-14 20-12M358 -195l20 0 20 0 19 3 20 3 20 4 20 5 20 4 20 4 20 3 20 3 19 1 20-1"/><path transform="translate(546.3 2340.6)" d="M0 -3l20-6 20-8 20-10 20-11 19-12 20-13 20-14 20-14 20-14 20-14 20-13 20-12 19-11M378 -186l20 0 19 1 20 3 20 3 20 4 20 3 20 4 20 2 20 2 19 0 20-1"/><path transform="translate(538.6 2337.1)" d="M0 -3l20-6 20-7 20-9 20-11 19-11 20-13 20-13 20-13 20-14 20-13 20-12 20-12 19-10M378 -179l20 0 19 1 20 2 20 3 20 2 20 3 20 3 20 1 20 1 19 0"/><path transform="translate(530.9 2333.6)" d="M0 -2l20-6 20-8 20-8 20-10 19-11 20-12 20-13 20-12 20-13 20-13 20-11 19-11 20-10M378 -172l20-1 19 1 20 1 20 2 20 2 20 2 20 2 20 1 20 1 19-1"/><path transform="translate(523.2 2330)" d="M0 -2l20-6 20-7 20-9 20-9 19-11 20-11 20-12 20-12 20-13 20-12 20-11 20-11 19-9 20-9M398 -168l19 0 20 1 20 1 20 2 20 2 20 1 20 1 20 0 19-1"/><path transform="translate(515.4 2326.5)" d="M0 -2l20-5 20-8 20-8 20-9 19-11 20-11 20-12 20-11 20-12 20-12 20-11 20-10 19-10 20-8 20-7M398 -164l19-1 20 1 20 1 20 1 20 1 20 1 20 1 20 0"/><path transform="translate(507.7 2323)" d="M0 -1l20-6 20-7 20-9 20-9 19-10 20-11 20-11 20-12 20-12 20-11 20-11 20-10 19-9 20-9 20-7M398 -162l19-1 20 1 20 0 20 1 20 1 20 1 20 1"/><path transform="translate(500 2319.5)" d="M0 -1l20-6 20-7 20-9 20-9 19-10 20-11 20-11 20-12 20-11 20-11 20-11 20-10 19-10 20-8 20-7 20-6M417 -162l20 0 20 1 20 1 20 1 20 1 20 0"/><path transform="translate(492.3 2316)" d="M0 -1l20-6 20-7 20-9 20-9 19-10 20-11 20-11 20-12 20-12 20-11 20-11 19-10 20-9 20-9 20-7 20-6 20-4M417 -163l20 1 20 0 20 1 20 1"/><path transform="translate(484.6 2312.5)" d="M0 -2l20-5 20-8 20-8 20-9 19-11 20-11 20-12 20-11 20-12 20-12 20-11 20-10 19-10 20-8 20-7 20-6 20-5"/><path transform="translate(476.8 2309)" d="M0 -2l20-6 20-7 20-9 20-9 19-11 20-11 20-12 20-12 20-13 20-12 20-11 20-11 19-9 20-9 20-7 20-6 20-5 20-3"/><path transform="translate(469.1 2305.4)" d="M0 -2l20-6 20-8 20-8 20-10 19-11 20-12 20-13 20-12 20-13 20-13 20-11 20-11 19-10 20-9 20-8 20-6 20-4 20-3 20-2"/><path transform="translate(461.4 2301.9)" d="M0 -3l20-6 20-7 20-9 20-11 19-11 20-13 20-13 20-13 20-14 20-13 20-12 20-12 19-10 20-9 20-8 20-6 20-4 20-3 20-2 20 0"/><path transform="translate(453.7 2298.4)" d="M0 -3l20-6 20-8 20-10 20-11 19-12 20-13 20-14 20-14 20-14 20-14 20-13 19-12 20-11 20-9 20-8 20-6 20-5 20-2 20-1 20 0 19 1"/><path transform="translate(446 2294.9)" d="M0 -4l20-6 20-8 20-10 20-12 19-12 20-14 20-15 20-15 20-15 20-15 20-14 20-12 19-12 20-10 20-8 20-6 20-4 20-3 20 0 20 0 19 3"/><path transform="translate(438.2 2291.4)" d="M0 -5l20-6 20-8 20-11 20-12 19-14 20-14 20-16 20-16 20-16 20-15 20-15 20-14 19-12 20-10 20-9 20-6 20-4 20-2 20-1 20 2 19 3 20 4"/><path transform="translate(430.5 2287.9)" d="M0 -6l20-6 20-9 20-11 20-12 19-15 20-16 20-16 20-17 20-18 20-16 20-16 20-14 19-13 20-11 20-9 20-6 20-4 20-2 20 0 20 2 19 4 20 5 20 7"/><path transform="translate(422.8 2284.3)" d="M0 -6l20-7 20-9 20-12 20-13 19-16 20-16 20-18 20-18 20-19 20-18 20-16 20-16 19-13 20-12 20-9 20-7 20-4 20-1 20 1 20 3 19 5 20 6 20 7"/><path transform="translate(415.1 2280.8)" d="M0 -7l20-7 20-10 20-12 20-14 19-16 20-18 20-19 20-20 20-20 20-19 20-18 19-16 20-14 20-12 20-10 20-7 20-4 20-1 20 2 20 4 19 6 20 7 20 8 20 9"/><path transform="translate(407.4 2277.3)" d="M0 -8l20-7 20-10 20-13 20-15 19-18 20-19 20-20 20-21 20-21 20-20 20-19 20-18 19-15 20-13 20-10 20-7 20-3 20-1 20 2 20 5 19 7 20 8 20 10 20 11 20 10"/><path transform="translate(399.7 2273.8)" d="M0 -9l20-7 20-11 20-13 20-16 19-19 20-20 20-22 20-22 20-23 20-21 20-21 20-18 19-16 20-14 20-10 20-7 20-4 20 0 20 3 20 5 19 8 20 10 20 11 20 12 20 12"/><path transform="translate(391.9 2270.3)" d="M0 -11l20-7 20-10 20-14 20-18 19-19 20-22 20-23 20-24 20-24 20-23 20-21 20-20 19-17 20-14 20-11 20-7 20-3 20 0 20 3 20 7 19 9 20 11 20 12 20 14 20 13 20 12"/><path transform="translate(384.2 2266.8)" d="M0 -12l20-7 20-11 20-15 20-18 19-21 20-23 20-24 20-25 20-26 20-24 20-23 20-21 19-18 20-15 20-11 20-7 20-4 20 1 20 4 20 8 19 10 20 12 20 14 20 15 20 15 20 14"/><path transform="translate(376.5 2263.2)" d="M0 -13l20-7 20-12 20-15 20-19 19-22 20-25 20-26 20-26 20-27 20-26 20-24 20-22 19-19 20-16 20-11 20-8 20-3 20 1 20 5 20 8 19 12 20 14 20 15 20 16 20 16 20 16 20 14"/><path transform="translate(368.8 2259.7)" d="M0 -14l20-8 20-12 20-16 20-20 19-23 20-25 20-28 20-28 20-28 20-28 20-25 20-24 19-19 20-17 20-12 20-7 20-3 20 1 20 6 20 9 19 13 20 15 20 17 20 17 20 18 20 17 20 15"/><path transform="translate(361.1 2256.2)" d="M0 -15l20-8 20-12 20-17 20-21 19-24 20-27 20-29 20-30 20-30 20-28 20-27 20-25 19-20 20-17 20-13 20-7 20-3 20 2 20 6 20 10 19 14 20 16 20 19 20 19 20 19 20 18 20 17 20 13"/><path transform="translate(353.3 2252.7)" d="M0 -16l20-8 20-13 20-17 20-22 19-26 20-28 20-30 20-31 20-32 20-30 20-28 20-25 19-22 20-18 20-13 20-7 20-3 20 2 20 7 20 11 19 15 20 18 20 20 20 20 20 21 20 19 20 18 20 15"/><path transform="translate(345.6 2249.2)" d="M0 -17l20-8 20-13 20-19 20-22 19-27 20-29 20-32 20-33 20-32 20-32 20-29 20-27 19-22 20-19 20-13 20-8 20-3 20 3 20 8 20 12 19 16 20 19 20 21 20 22 20 22 20 21 20 19 20 16"/><path transform="translate(337.9 2245.7)" d="M0 -18l20-8 20-14 20-19 20-23 19-28 20-31 20-33 20-34 20-34 20-32 20-31 20-28 19-23 20-19 20-14 20-8 20-2 20 3 20 8 20 13 19 17 20 20 20 23 20 23 20 23 20 23 20 20 20 17 19 13"/><path transform="translate(330.2 2242.2)" d="M0 -19l20-8 20-15 20-19 20-24 19-29 20-32 20-34 20-35 20-35 20-34 20-32 20-29 19-24 20-20 20-14 20-8 20-2 20 3 20 9 20 14 19 18 20 21 20 24 20 24 20 25 20 24 20 21 20 18 19 14"/><path transform="translate(322.5 2238.6)" d="M0 -20l20-9 20-14 20-20 20-25 19-30 20-32 20-36 20-36 20-37 20-35 20-33 20-29 19-25 20-20 20-15 20-8 20-2 20 3 20 10 20 15 19 18 20 23 20 24 20 26 20 26 20 25 20 22 20 19 19 15 20 9"/><path transform="translate(314.7 2235.1)" d="M0 -21l20-8 20-15 20-21 20-26 19-30 20-34 20-36 20-38 20-37 20-37 20-33 20-31 19-26 20-20 20-15 20-8 20-2 20 4 20 10 20 15 19 20 20 23 20 26 20 27 20 27 20 26 20 23 20 20 19 15 20 10"/><path transform="translate(307 2231.6)" d="M0 -22l20-8 20-15 20-21 20-27 19-31 20-35 20-37 20-39 20-38 20-37 20-35 20-31 19-27 20-21 20-15 20-8 20-2 20 4 20 10 20 16 19 21 20 24 20 27 20 28 20 28 20 27 20 24 20 20 19 16 20 11 20 4"/><path transform="translate(299.3 2228.1)" d="M0 -22l20-9 20-15 20-22 20-27 19-32 20-35 20-38 20-40 20-39 20-38 20-36 20-32 19-27 20-21 20-16 20-8 20-2 20 5 20 10 20 17 19 21 20 25 20 28 20 29 20 29 20 27 20 25 20 21 19 17 20 11 20 4 10 0"/><path transform="translate(291.6 2224.6)" d="M0 -23l20-9 20-15 20-22 20-28 19-32 20-36 20-39 20-40 20-41 20-38 20-37 20-32 19-28 20-21 20-16 20-9 20-2 20 5 20 12 20 17 19 22 20 25 20 28 20 30 20 30M576 -206l20 11 20 5 10 0"/><path transform="translate(283.9 2221.1)" d="M0 -24l20-8 20-16 20-22 20-28 19-33 20-37 20-39 20-41 20-41 20-39 20-37 20-33 19-28 20-22 20-16 20-9 20-1 20 5 20 11 20 18 19 22 20 26 20 29 20 30M576 -207l20 11 20 5 10 0"/><path transform="translate(276.2 2217.5)" d="M0 -24l20-9 20-16 20-22 20-28 19-33 20-38 20-40 20-41 20-41 20-40 20-38 20-33 19-28 20-23 20-15 20-9 20-2 20 5 20 12 20 18 19 23 20 26 20 30M596 -196l20 5 10 0"/><path transform="translate(268.4 2214)" d="M0 -24l20-9 20-16 20-22 20-29 19-34 20-37 20-40 20-42 20-42 20-40 20-38 20-33 19-29 20-22 20-16 20-9 20-2 20 5 20 12 20 18 19 23 20 27M596 -197l20 6 10 0"/><path transform="translate(260.7 2210.5)" d="M0 -24l20-9 20-16 20-23 20-28 19-34 20-38 20-41 20-42 20-41 20-41 20-38 20-34 19-28 20-23 20-16 20-9 20-1 20 5 20 12 20 18 19 23M596 -197l20 5 10 0"/></g><g class="ml" stroke="url(#b4)"><path transform="translate(747 2432)" d="M0 -24l-15-7-16-7-15-6-16-5-15-5-16-5-15-5-16-5-15-5-15-5-16-5-15-5-16-6-15-6-16-6-15-7-15-7-16-8-15-8-16-8-15-9-16-9-15-9-16-10-15-9-15-9-16-9-15-9-16-8-15-8-16-8-7-4"/><path transform="translate(756.9 2429.4)" d="M0 -25l-15-7-16-6-15-6-16-6-15-5-16-5-15-5-16-5-15-4-15-5-16-5-15-5-16-6-15-6-16-6-15-7-15-7-16-8-15-8-16-9-15-8-16-10-15-9-16-9-15-9-15-10-16-9-15-9-16-8-15-8-16-8-7-4"/><path transform="translate(766.9 2426.7)" d="M0 -28l-15-7-16-6-15-6-16-5-15-5-16-5-15-5-15-4-16-5-15-4-16-5-15-5-16-6-15-5-16-7-15-6-15-8-16-7-15-9-16-8-15-9-16-10-15-9-16-10-15-9-15-10-16-9-15-9-16-9-15-8-16-8-7-3"/><path transform="translate(776.8 2424.1)" d="M0 -32l-15-7-16-6-15-6-16-5-15-5-16-4-15-5-15-4-16-4-15-4-16-5-15-4-16-6-15-5-16-6-15-7-15-8-16-7-15-9-16-9-15-9-16-10-15-9-16-10-15-10-15-10-16-10-15-9-16-9-15-8-16-8-7-4"/><path transform="translate(786.8 2421.4)" d="M0 -39l-15-6-16-6-15-6-16-5-15-4-16-4-15-4-16-3-15-4-15-4-16-4-15-4-16-5-15-6-16-6-15-6-15-8-16-8-15-8-16-9-15-10-16-10-15-11-16-10-15-10-15-11-16-10-15-9-16-10-15-8-16-8-7-4"/><path transform="translate(796.7 2418.8)" d="M0 -47l-15-6-16-6-15-5-16-5-15-4-16-3-15-3-16-3-15-3-15-3-16-4-15-4-16-4-15-5-16-6-15-7-15-7-16-8-15-9-16-10-15-10-16-11-15-11-16-11-15-11-15-11-16-10-15-10-16-10-15-9-16-8-7-4"/><path transform="translate(806.6 2416.2)" d="M0 -56l-15-7-16-5-15-5-16-4-15-3-16-3-15-2-16-3-15-2-15-2-16-3-15-3-16-4-15-5-16-6-15-6-15-8-16-8-15-9-16-11-15-10-16-12-15-11-16-12-15-12-15-12-16-11-15-11-16-10-15-9-16-9-7-3"/><path transform="translate(816.6 2413.5)" d="M0 -67l-15-7-16-5-15-4-16-4-15-2-16-2-15-2-15-1-16-1-15-2-16-2-15-3-16-3-15-4-16-6-15-6-15-8-16-8-15-10-16-11-15-11-16-12-15-13-16-13-15-12-15-13-16-12-15-11-16-11-15-10-16-9-7-3"/><path transform="translate(826.5 2410.9)" d="M0 -80l-15-6-16-5-15-4-16-3-15-1-16-1-15-1-15 0-16-1-15 0-16-1-15-2-16-3-15-4-16-5-15-6-15-8-16-9-15-10-16-11-15-13-16-13-15-13-16-14-15-14-15-13-16-13-15-12-16-12-15-10-16-9-7-4"/><path transform="translate(836.4 2408.2)" d="M0 -93l-15-6-16-5-15-4-16-2-15-1-16 0-15 1-15 1-16 0-15 1-16 0-15-1-16-2-15-4-16-4-15-7-15-7-16-10-15-10-16-12-15-14-16-13-15-15-16-15-15-15-15-14-16-14-15-13-16-12-15-11-16-9-7-5"/><path transform="translate(846.4 2405.6)" d="M0 -108l-15-6-16-5-15-2-16-2-15 0-16 1-15 2-16 2-15 2-15 2-16 1-15 0-16-2-15-3-16-4-15-6-15-8-16-10-15-11-16-13-15-14-16-15-15-16-16-16-15-16-15-15-16-15-15-14-16-13-15-11-16-10-7-4"/><path transform="translate(856.3 2403)" d="M0 -124l-15-6-16-4-15-2-16-1-15 1-16 3-15 2-16 4-15 3-15 3-16 2-15 1-16-1-15-2-16-4-15-6-15-8-16-10-15-12-16-13-15-15-16-17-15-17-16-17-15-17-15-17-16-16-15-15-16-14-15-12-16-10-7-4"/><path transform="translate(866.2 2400.3)" d="M0 -141l-15-6-16-3-15-2-16 1-15 2-16 3-15 4-15 5-16 5-15 4-16 3-15 2-16 0-15-1-16-4-15-6-15-8-16-10-15-13-16-14-15-16-16-18-15-18-16-19-15-18-15-19-16-17-15-16-16-14-15-13-16-10-7-5"/><path transform="translate(876.2 2397.7)" d="M0 -158l-15-6-16-3-15-1-16 1-15 4-16 4-15 6-15 6-16 6-15 5-16 5-15 3-16 1-15-1-16-3-15-6-15-8-16-11-15-13-16-15-15-17-16-19-15-20-16-20-15-20-15-19-16-19-15-17-16-16-15-13-16-11-7-4"/><path transform="translate(886.1 2395)" d="M0 -176l-15-6-16-2-15-1-16 3-15 4-16 6-15 7-15 7-16 8-15 7-16 5-15 5-16 2-15 0-16-3-15-6-15-8-16-11-15-14-16-17-15-18-16-20-15-21-16-21-15-22-15-21-16-20-15-18-16-16-15-14-16-11-7-5"/><path transform="translate(896.1 2392.4)" d="M0 -194l-15-6-16-2-15 0-16 4-15 5-16 7-15 9-16 9-15 8-15 9-16 7-15 5-16 4-15 0-16-2-15-6-15-8-16-12-15-15-16-17-15-19-16-22-15-22-16-23-15-23-15-22-16-22-15-19-16-17-15-15-16-12-7-4"/><path transform="translate(906 2389.8)" d="M0 -213l-15-5-16-2-15 1-16 4-15 7-16 8-15 10-16 11-15 10-15 10-16 8-15 7-16 4-15 1-16-2-15-5-15-9-16-12-15-15-16-18-15-21-16-22-15-24-16-25-15-24-15-24-16-23-15-20-16-18-15-16-16-12-7-5"/><path transform="translate(915.9 2387.1)" d="M0 -231l-15-5-16-2-15 2-16 5-15 8-16 10-15 11-15 12-16 12-15 11-16 10-15 8-16 5-15 2-16-2-15-5-15-9-16-13-15-16-16-19-15-21-16-24-15-26-16-26-15-26-15-25-16-24-15-22-16-19-15-16-16-12-7-5"/><path transform="translate(925.9 2384.5)" d="M0 -249l-15-5-16-1-15 2-16 6-15 9-16 11-15 13-15 13-16 14-15 12-16 11-15 9-16 6-15 3-16-1-15-5-15-9-16-13-15-17-16-20-15-23-16-25-15-27-16-27-15-28-15-26-16-26-15-23-16-20-15-16-16-13-7-5"/><path transform="translate(935.8 2381.8)" d="M0 -267l-15-5-16-1-15 3-16 7-15 10-16 13-15 14-15 15-16 15-15 14-16 12-15 10-16 7-15 3-16 0-15-5-15-9-16-14-15-17-16-21-15-24-16-27-15-28-16-29-15-29-15-28-16-26-15-24-16-21-15-18-16-13-7-5"/><path transform="translate(945.8 2379.2)" d="M0 -285l-15-4-16-1-15 4-16 8-15 11-16 14-15 15-16 17-15 16-15 15-16 14-15 11-16 8-15 4-16 0-15-5-15-9-16-14-15-18-16-22-15-25-16-28-15-30-16-30-15-30-15-30-16-27-15-26-16-22-15-18-16-13-7-6"/><path transform="translate(955.7 2376.5)" d="M0 -301l-15-5-16 0-15 5-16 8-15 13-16 14-15 17-16 18-15 17-15 17-16 15-15 12-16 9-15 4-16 1-15-5-15-9-16-15-15-18-16-23-15-26-16-29-15-31-16-32-15-31-15-31-16-29-15-26-16-23-15-19-16-14-7-5"/><path transform="translate(965.6 2373.9)" d="M0 -317l-15-5-16 1-15 5-16 10-15 13-16 16-15 18-15 18-16 19-15 18-16 16-15 13-16 10-15 5-16 1-15-5-15-9-16-15-15-19-16-24-15-27-16-30-15-32-16-33-15-33-15-32-16-30-15-27-16-24-15-19-16-15-7-5"/><path transform="translate(975.6 2371.3)" d="M0 -332l-15-4-16 0-15 6-16 11-15 14-16 17-15 19-15 20-16 20-15 19-16 17-15 14-16 10-15 6-16 1-15-4-15-10-16-15-15-20-16-24-15-28-16-31-15-34-16-34-15-34-15-33-16-31-15-28-16-25-15-19-16-15-7-6"/><path transform="translate(985.5 2368.6)" d="M0 -346l-15-4-16 1-15 6-16 11-15 15-16 18-15 21-15 21-16 21-15 20-16 18-15 15-16 11-15 6-16 2-15-5-15-9-16-16-15-20-16-25-15-29-16-32-15-34-16-36-15-35-15-34-16-32-15-29-16-25-15-21-16-15-7-6"/><path transform="translate(995.4 2366)" d="M0 -358l-15-4-16 1-15 7-16 12-15 15-16 19-15 21-16 23-15 22M-185 -187l-16 12-15 7-16 1-15-4-15-10-16-15-15-21-16-26-15-30-16-32-15-36-16-36-15-36-15-35-16-33-15-30-16-26-15-21-16-15-7-6"/><path transform="translate(1005.4 2363.3)" d="M0 -369l-15-4-16 1-15 8-16 12-15 16-16 20-15 22-16 23M-201 -178l-15 8-16 2-15-5-15-10-16-15-15-22-16-26-15-30-16-34-15-36-16-37-15-38-15-36-16-33-15-31-16-26-15-21-16-16-7-6"/><path transform="translate(1015.3 2360.7)" d="M0 -379l-15-4-16 2-15 8-16 13-15 17-16 20-15 23M-216 -172l-16 2-15-4-15-10-16-16-15-22-16-27-15-31-16-34-15-37-16-38-15-38-15-37-16-34-15-31-16-27-15-22-16-16-7-5"/><path transform="translate(1025.2 2358.1)" d="M0 -387l-15-4-16 3-15 8-16 13-15 17-16 21M-232 -172l-15-4-15-10-16-16-15-22-16-27-15-32-16-35-15-37-16-39-15-38-15-38-16-35-15-31-16-27-15-22-16-17-7-5"/><path transform="translate(1035.2 2355.4)" d="M0 -393l-15-4-16 3-15 8-16 13-15 18M-232 -173l-15-4-15-10-16-16-15-22-16-28-15-32-16-35-15-38-16-39-15-39-15-38-16-36-15-32-16-27-15-22-16-17-7-6"/><path transform="translate(1045.1 2352.8)" d="M0 -397l-15-4-16 2-15 9-16 13-15 18M-232 -174l-15-3-15-11-16-16-15-22-16-28-15-32-16-36-15-38-15-40-16-39-15-39-16-35-15-33-16-27-15-23-16-16-7-6"/><path transform="translate(1055.1 2350.1)" d="M0 -400l-15-4-16 3-15 8-16 14M-247 -178l-15-10-16-17-15-22-16-28-15-32-16-36-15-39-15-39-16-40-15-39-16-36-15-32-16-28-15-22-16-17-7-6"/><path transform="translate(1065 2347.5)" d="M0 -401l-15-4-16 3-15 8-16 14M-247 -178l-15-10-16-17-15-22-16-28-15-33-16-36-15-38-16-40-15-40-15-38-16-36-15-33-16-28-15-22-16-17-7-6"/><path transform="translate(1074.9 2344.9)" d="M0 -400l-15-4-16 3-15 8M-262 -188l-16-17-15-22-16-28-15-32-16-36-15-39-16-39-15-40-15-39-16-36-15-32-16-28-15-22-16-17-7-6"/><path transform="translate(1084.9 2342.2)" d="M0 -397l-15-4-16 2-15 9-16 13-15 18-16 22-15 24-15 26-16 25M-262 -188l-16-16-15-22-16-28-15-32-16-36-15-38-16-40-15-39-15-39-16-35-15-33-16-27-15-23-16-16-7-6"/><path transform="translate(1094.8 2339.6)" d="M0 -393l-15-4-16 3-15 8-16 13-15 18-16 21-15 24-15 25-16 25-15 24-16 22M-262 -187l-16-16-15-22-16-28-15-32-16-35-15-38-16-39-15-39-15-38-16-36-15-32-16-27-15-22-16-17-7-6"/><path transform="translate(1104.8 2336.9)" d="M0 -387l-15-4-16 3-15 8-16 13-15 17-16 21-15 23-16 25-15 24-15 24-16 21-15 17M-278 -202l-15-22-16-27-15-32-16-35-15-37-15-39-16-38-15-38-16-35-15-31-16-27-15-22-16-17-7-5"/><path transform="translate(1114.7 2334.3)" d="M0 -379l-15-4-16 2-15 8-16 13-15 17-16 20-15 23-15 24-16 23-15 23-16 21-15 17-16 12M-278 -200l-15-22-16-27-15-31-16-34-15-37-16-38-15-38-15-37-16-34-15-31-16-27-15-22-16-16-7-5"/><path transform="translate(1124.6 2331.7)" d="M0 -369l-15-4-16 1-15 8-16 12-15 16-16 20-15 22-15 23-16 23-15 22-16 20-15 16-16 12-15 8M-278 -198l-15-22-16-26-15-30-16-34-15-36-16-37-15-38-15-36-16-33-15-31-16-26-15-21-16-16-7-6"/><path transform="translate(1134.6 2329)" d="M0 -358l-15-4-16 1-15 7-16 12-15 15-16 19-15 21-15 23-16 22-15 21-16 19-15 15-16 12-15 7-16 1M-278 -196l-15-21-16-26-15-30-16-32-15-36-16-36-15-36-15-35-16-33-15-30-16-26-15-21-16-15-7-6"/><path transform="translate(1144.5 2326.4)" d="M0 -346l-15-4-16 1-15 6-16 11-15 15-16 18-15 21-15 21-16 21-15 20-16 18-15 15-16 11-15 6-16 2M-293 -214l-16-25-15-29-16-32-15-34-16-36-15-35-15-34-16-32-15-29-16-25-15-21-16-15-7-6"/><path transform="translate(1154.4 2323.7)" d="M0 -332l-15-4-16 0-15 6-16 11-15 14-16 17-15 19-16 20-15 20-15 19-16 17-15 14-16 10-15 6-16 1-15-4M-293 -211l-16-24-15-28-16-31-15-34-15-34-16-34-15-33-16-31-15-28-16-25-15-19-16-15-7-6"/><path transform="translate(1164.4 2321.1)" d="M0 -317l-15-5-16 1-15 5-16 10-15 13-16 16-15 18-15 18-16 19-15 18-16 16-15 13-16 10-15 5-16 1-15-5M-293 -207l-16-24-15-27-16-30-15-32-16-33-15-33-15-32-16-30-15-27-16-24-15-19-16-15-7-5"/><path transform="translate(1174.3 2318.5)" d="M0 -301l-15-5-16 0-15 5-16 8-15 13-16 14-15 17-15 18-16 17-15 17-16 15-15 12-16 9-15 4-16 1-15-5M-309 -226l-15-26-16-29-15-31-16-32-15-31-15-31-16-29-15-26-16-23-15-19-16-14-7-5"/><path transform="translate(1184.2 2315.8)" d="M0 -285l-15-4-16-1-15 4-16 8-15 11-16 14-15 15-15 17-16 16-15 15-16 14-15 11-16 8-15 4-16 0-15-5M-309 -221l-15-25-16-28-15-30-16-30-15-30-15-30-16-27-15-26-16-22-15-18-16-13"/><path transform="translate(1194.2 2313.2)" d="M0 -267l-15-5-16-1-15 3-16 7-15 10-16 13-15 14-15 15-16 15-15 14-16 12-15 10-16 7-15 3-16 0-15-5M-309 -216l-15-24-16-27-15-28-16-29-15-29-15-28-16-26-15-24-16-21-15-18"/><path transform="translate(1204.1 2310.5)" d="M0 -249l-15-5-16-1-15 2-16 6-15 9-16 11-15 13-16 13-15 14-15 12-16 11-15 9-16 6-15 3-16-1-15-5M-324 -234l-16-25-15-27-15-27-16-28-15-26-16-26-15-23-16-20-15-16"/><path transform="translate(1214.1 2307.9)" d="M0 -231l-15-5-16-2-15 2-16 5-15 8-16 10-15 11-15 12-16 12-15 11-16 10-15 8-16 5-15 2-16-2-15-5M-324 -227l-16-24-15-26-16-26-15-26-15-25-16-24-15-22-16-19-15-16"/><path transform="translate(1224 2305.2)" d="M0 -213l-15-5-16-2-15 1-16 4-15 7-16 8-15 10-15 11-16 10-15 10-16 8-15 7-16 4-15 1-16-2-15-5M-340 -243l-15-24-16-25-15-24-15-24-16-23-15-20-16-18-15-16"/><path transform="translate(1233.9 2302.6)" d="M0 -194l-15-6-16-2-15 0-16 4-15 5-16 7-15 9-15 9-16 8-15 9-16 7-15 5-16 4-15 0-16-2-15-6M-340 -236l-15-22-16-23-15-23-15-22-16-22-15-19-16-17"/><path transform="translate(1243.9 2300)" d="M0 -176l-15-6-16-2-15-1-16 3-15 4-16 6-15 7-15 7-16 8-15 7-16 5-15 5-16 2-15 0-16-3-15-6M-340 -228l-15-21-16-21-15-22-15-21-16-20-15-18-16-16"/><path transform="translate(1253.8 2297.3)" d="M0 -158l-15-6-16-3-15-1-16 1-15 4-16 4-15 6-16 6-15 6-15 5-16 5-15 3-16 1-15-1-16-3-15-6M-355 -240l-15-20-16-20-15-19-16-19-15-17-16-16"/><path transform="translate(1263.8 2294.7)" d="M0 -141l-15-6-16-3-15-2-16 1-15 2-16 3-15 4-15 5-16 5-15 4-16 3-15 2-16 0-15-1-16-4-15-6M-355 -231l-16-19-15-18-15-19-16-17-15-16-16-14"/><path transform="translate(1273.7 2292)" d="M0 -124l-15-6-16-4-15-2-16-1-15 1-16 3-15 2-15 4-16 3-15 3-16 2-15 1-16-1-15-2-16-4-15-6M-371 -240l-15-17-15-17-16-16-15-15-16-14"/><path transform="translate(1283.6 2289.4)" d="M0 -108l-15-6-16-5-15-2-16-2-15 0-16 1-15 2-15 2-16 2-15 2-16 1-15 0-16-2-15-3-16-4-15-6M-371 -231l-15-16-15-15-16-15-15-14-16-13"/><path transform="translate(1293.6 2286.8)" d="M0 -93l-15-6-16-5-15-4-16-2-15-1-16 0-15 1-15 1-16 0-15 1-16 0-15-1-16-2-15-4-16-4M-386 -237l-15-14-16-14-15-13-16-12"/><path transform="translate(1303.5 2284.1)" d="M0 -80l-15-6-16-5-15-4-16-3-15-1-16-1-15-1-15 0-16-1-15 0-16-1-15-2-16-3-15-4-16-5M-386 -228l-15-13-16-13-15-12-16-12"/><path transform="translate(1313.4 2281.5)" d="M0 -67l-15-7-16-5-15-4-16-4-15-2-16-2-15-2-15-1-16-1-15-2-16-2-15-3-16-3-15-4-16-6M-401 -232l-16-12-15-11-16-11"/><path transform="translate(1323.4 2278.8)" d="M0 -56l-15-7-16-5-15-5-16-4-15-3-16-3-15-2-15-3-16-2-15-2-16-3-15-3-16-4-15-5M-417 -235l-15-11-16-10-15-9"/><path transform="translate(1333.3 2276.2)" d="M0 -47l-15-6-16-6-15-5-16-5-15-4-16-3-15-3-15-3-16-3-15-3-16-4-15-4-16-4-15-5M-417 -227l-15-10-16-10-15-9"/><path transform="translate(1343.3 2273.6)" d="M0 -39l-15-6-16-6-15-6-16-5-15-4-16-4-15-4-15-3-16-4-15-4-16-4-15-4-16-5M-432 -230l-16-10-15-8-16-8-7-4"/><path transform="translate(1353.2 2270.9)" d="M0 -32l-15-7-16-6-15-6-16-5-15-5-16-4-15-5-15-4-16-4-15-4-16-5-15-4M-432 -225l-16-9-15-8-16-8-7-4"/><path transform="translate(1363.1 2268.3)" d="M0 -28l-15-7-16-6-15-6-16-5-15-5-16-5-15-5-15-4-16-5-15-4-16-5M-448 -230l-15-8-16-8-7-3"/><path transform="translate(1373.1 2265.6)" d="M0 -25l-15-7-16-6-15-6-16-6-15-5-16-5-15-5-15-5-16-4M-448 -227l-15-8-16-8-7-4"/></g>
<path class="ax" d="M747 2432L1383 2263M747 2432L253 2207M253 2207L253 1716M747 2432l5.4 9M747 2432l-8.1 7.2M906 2389.8l5.4 9M623.5 2375.8l-8.1 7.2M1065 2347.5l5.4 9M500 2319.5l-8.1 7.2M1224 2305.2l5.4 9M376.5 2263.2l-8.1 7.2M1383 2263l5.4 9M253 2207l-8.1 7.2M253 2207l-9 0M253 2125.2l-9 0M253 2043.3l-9 0M253 1961.5l-9 0M253 1879.7l-9 0M253 1797.8l-9 0M253 1716l-9 0"/>
<text class="tk s" x="773.1" y="2483.3">-1</text>
<text class="tk e s" x="721.8" y="2475.2">-1</text>
<text class="tk s" x="932.1" y="2441">-0.5</text>
<text class="tk e s" x="598.3" y="2418.9">-0.5</text>
<text class="tk s" x="1091.1" y="2398.8">0</text>
<text class="tk e s" x="474.8" y="2362.7">0</text>
<text class="tk s" x="1250.1" y="2356.6">0.5</text>
<text class="tk e s" x="351.3" y="2306.4">0.5</text>
<text class="tk s" x="1409.1" y="2314.3">1</text>
<text class="tk e s" x="227.8" y="2246.6">1</text>
<text class="tk e s" x="229.6" y="2211.5">0</text>
<text class="tk e s" x="229.6" y="2129.7">0.5</text>
<text class="tk e s" x="229.6" y="2047.8">1</text>
<text class="tk e s" x="229.6" y="1966">1.5</text>
<text class="tk e s" x="229.6" y="1884.2">2</text>
<text class="tk e s" x="229.6" y="1802.3">2.5</text>
<text class="tk e s" x="229.6" y="1720.5">3</text>
<text class="lb s" x="1017.3" y="2469.9">F<tspan class="sb" dy="8.1">x</tspan></text>
<text class="lb s" x="482" y="2477.9">F<tspan class="sb" dy="8.1">y</tspan></text>
<text class="lb m s" transform="translate(154 1961.5) rotate(-90)">Magnitude</text>
<text class="ti s" x="818" y="1537">Kernel 2 Channel 1</text>
<text class="cp" transform="translate(786 2678) scale(1.1 1)">(<tspan class="b">d</tspan>) Kernel 2 Channel 1</text>
<path class="gr" d="M2211 2432L1717 2207M1717 2207L1717 1716M2211 2432L2847 2263M2847 2263L2847 1772M2370 2389.8L1876 2164.8M1876 2164.8L1876 1673.8M2087.5 2375.8L2723.5 2206.8M2723.5 2206.8L2723.5 1715.8M2529 2347.5L2035 2122.5M2035 2122.5L2035 1631.5M1964 2319.5L2600 2150.5M2600 2150.5L2600 1659.5M2688 2305.2L2194 2080.2M2194 2080.2L2194 1589.2M1840.5 2263.2L2476.5 2094.2M2476.5 2094.2L2476.5 1603.3M2847 2263L2353 2038M2353 2038L2353 1547M1717 2207L2353 2038M2353 2038L2353 1547M1717 2207L2353 2038M2353 2038L2847 2263M1717 2108.8L2353 1939.8M2353 1939.8L2847 2164.8M1717 2010.6L2353 1841.6M2353 1841.6L2847 2066.6M1717 1912.4L2353 1743.4M2353 1743.4L2847 1968.4M1717 1814.2L2353 1645.2M2353 1645.2L2847 1870.2M1717 1716L2353 1547M2353 1547L2847 1772"/>
<defs><linearGradient id="a5" gradientUnits="userSpaceOnUse" x1="0" y1="0" x2="-116" y2="-436.6"><stop offset="0" stop-color="#3e26a8"/><stop offset="0.06" stop-color="#4434cd"/><stop offset="0.125" stop-color="#4852f4"/><stop offset="0.19" stop-color="#436cfe"/><stop offset="0.28" stop-color="#2e87f7"/><stop offset="0.34" stop-color="#2796eb"/><stop offset="0.4" stop-color="#1caadf"/><stop offset="0.45" stop-color="#0cb8cd"/><stop offset="0.5" stop-color="#1ebeb2"/><stop offset="0.57" stop-color="#37c897"/><stop offset="0.66" stop-color="#81cc59"/><stop offset="0.73" stop-color="#bbc334"/><stop offset="0.8" stop-color="#e8bc30"/><stop offset="0.875" stop-color="#fdcb36"/><stop offset="0.94" stop-color="#f6e428"/><stop offset="1" stop-color="#f9fb15"/></linearGradient><linearGradient id="b5" gradientUnits="userSpaceOnUse" x1="0" y1="0" x2="176.3" y2="-387.1"><stop offset="0" stop-color="#3e26a8"/><stop offset="0.06" stop-color="#4434cd"/><stop offset="0.125" stop-color="#4852f4"/><stop offset="0.19" stop-color="#436cfe"/><stop offset="0.28" stop-color="#2e87f7"/><stop offset="0.34" stop-color="#2796eb"/><stop offset="0.4" stop-color="#1caadf"/><stop offset="0.45" stop-color="#0cb8cd"/><stop offset="0.5" stop-color="#1ebeb2"/><stop offset="0.57" stop-color="#37c897"/><stop offset="0.66" stop-color="#81cc59"/><stop offset="0.73" stop-color="#bbc334"/><stop offset="0.8" stop-color="#e8bc30"/><stop offset="0.875" stop-color="#fdcb36"/><stop offset="0.94" stop-color="#f6e428"/><stop offset="1" stop-color="#f9fb15"/></linearGradient></defs><path class="wu" d="M2211 2405l20-13 20-23 20-31 19-35 20-41 20-42 20-45 20-44 20-43 20-41 20-37 20-33 19-28 20-22 20-16 20-8 20-2 20 5 20 11 19 17 20 23 20 27 20 30 20 33 20 33 20 34 20 32 20 30 19 25 20 20 20 13 10 2-15-7-10-3-20-12-20-20-20-26-20-29-20-33-20-34-19-33-20-33-20-31-20-27-20-22-20-18-20-11-20-5-19 2-20 9-20 15-20 22-20 28-20 33-20 38-20 41-19 43-20 45-20 44-20 43-20 40-20 36-20 31-20 23-19 13zM2196 2398l19-13 20-23 20-31 20-36 20-40 20-43 20-44 20-45 19-43 20-41 20-38 20-33 20-28 20-22 20-15 20-9 19-2 20 5 20 11 20 18 20 22 20 27 20 31 20 33 19 33 20 34 20 33 20 29 20 26 20 20 20 12 10 3-16-7-10-3-20-13-19-20-20-26-20-30-20-33-20-34-20-34-20-34-20-31-19-27-20-23-20-17-20-12-20-5-20 2-20 9-20 15-20 22-19 28-20 34-20 38-20 41-20 44-20 45-20 45-19 43-20 41-20 36-20 31-20 23-20 14zM2180 2391l20-14 20-23 20-31 20-36 20-41 19-43 20-45 20-45 20-44 20-41 20-38 20-34 19-28 20-22 20-15 20-9 20-2 20 5 20 12 20 17 20 23 19 27 20 31 20 34 20 34 20 34 20 33 20 30 20 26 19 20 20 13 10 3-15-8-10-3-20-13-20-20-20-27-20-30-20-33-19-35-20-35-20-34-20-32-20-27-20-24-20-18-20-11-19-6-20 2-20 9-20 16-20 22-20 29-20 33-20 39-19 42-20 44-20 46-20 45-20 44-20 41-20 37-20 31-19 24-20 13zM2165 2383l20-13 19-24 20-31 20-37 20-41 20-44 20-45 20-46 20-44 19-42 20-39 20-33 20-29 20-22 20-16 20-9 20-2 19 6 20 11 20 18 20 24 20 27 20 32 20 34 20 35 19 35 20 33 20 30 20 27 20 20 20 13 10 3-16-7-10-3-19-14-20-20-20-27-20-31-20-34-20-35-20-36-20-34-19-32-20-28-20-24-20-18-20-12-20-6-20 2-20 9-19 16-20 22-20 29-20 34-20 39-20 43-20 45-20 46-20 46-19 44-20 42-20 37-20 31-20 24-20 14zM2149 2376l20-14 20-24 20-31 20-37 20-42 19-44 20-46 20-46 20-45 20-43 20-39 20-34 20-29 20-22 19-16 20-9 20-2 20 6 20 12 20 18 20 24 20 28 19 32 20 34 20 36 20 35 20 34 20 31 20 27 20 20 19 14 10 3-15-7-10-3-20-14-20-21-20-27-20-31-19-34-20-36-20-36-20-34-20-32-20-29-20-24-20-18-19-12-20-6-20 2-20 9-20 16-20 22-20 29-20 35-19 39-20 43-20 45-20 46-20 46-20 45-20 42-20 37-19 32-20 24-20 14zM2134 2369l20-14 20-24 19-32 20-37 20-42 20-45 20-46 20-46 20-45 20-43 19-39 20-35 20-29 20-22 20-16 20-9 20-2 20 6 19 12 20 18 20 24 20 29 20 32 20 34 20 36 20 36 19 34 20 31 20 27 20 21 20 14 10 3-16-7-9-3-20-14-20-21-20-26-20-31-20-34-20-36-20-36-19-34-20-32-20-28-20-24-20-18-20-12-20-6-20 2-19 9-20 16-20 22-20 29-20 35-20 38-20 43-20 45-19 46-20 46-20 45-20 41-20 38-20 31-20 24-20 14zM2118 2362l20-14 20-24 20-31 20-38 20-41 20-45 20-46 19-46 20-45 20-43 20-38 20-35 20-29 20-22 20-16 19-9 20-2 20 6 20 12 20 18 20 24 20 28 20 32 19 34 20 36 20 36 20 34 20 31 20 26 20 21 20 14 9 3-15-6-10-4-20-13-20-20-20-26-19-31-20-33-20-34-20-35-20-34-20-31-20-28-20-23-19-18-20-12-20-5-20 2-20 9-20 16-20 22-20 28-19 34-20 38-20 42-20 44-20 46-20 45-20 44-20 41-19 36-20 31-20 24-20 13zM2103 2355l20-13 20-24 20-31 19-36 20-41 20-44 20-45 20-46 20-44 20-42 20-38 19-34 20-28 20-22 20-16 20-9 20-2 20 5 20 12 19 18 20 23 20 28 20 31 20 34 20 35 20 34 20 33 19 31 20 26 20 20 20 13 10 4-15-6-10-3-20-13-20-19-20-25-20-29-20-32-20-33-19-33-20-32-20-30-20-26-20-23-20-16-20-12-20-4-19 2-20 8-20 16-20 21-20 28-20 32-20 37-20 41-19 42-20 44-20 44-20 42-20 40-20 35-20 30-20 23-19 13zM2088 2349l19-13 20-23 20-30 20-35 20-40 20-42 20-44 20-44 19-42 20-41 20-37 20-32 20-28 20-21 20-16 20-8 19-2 20 4 20 12 20 16 20 23 20 26 20 30 20 32 19 33 20 33 20 32 20 29 20 25 20 19 20 13 10 3-16-6-10-2-20-11-20-18-19-23-20-27-20-30-20-31-20-30-20-30-20-28-20-24-19-21-20-15-20-11-20-4-20 3-20 8-20 15-20 20-19 26-20 31-20 35-20 39-20 40-20 42-20 41-20 40-19 37-20 34-20 28-20 22-20 13zM2072 2344l20-13 20-22 20-28 20-34 19-37 20-40 20-41 20-42 20-40 20-39 20-35 20-31 19-26 20-20 20-15 20-8 20-3 20 4 20 11 20 15 19 21 20 24 20 28 20 30 20 30 20 31 20 30 20 27 19 23 20 18 20 11 10 2-15-4-10-2-20-10-20-16-20-21-20-24-20-26-19-28-20-27-20-27-20-25-20-22-20-18-20-13-20-9-19-3-20 2-20 8-20 14-20 19-20 24-20 29-20 33-19 35-20 37-20 38-20 39-20 37-20 34-20 31-20 27-19 20-20 12zM2057 2339l20-12 19-20 20-27 20-31 20-34 20-37 20-39 20-38 20-37 19-35 20-33 20-29 20-24 20-19 20-14 20-8 20-2 19 3 20 9 20 13 20 18 20 22 20 25 20 27 20 27 19 28 20 26 20 24 20 21 20 16 20 10 10 2-16-4-10-2-20-8-19-13-20-17-20-21-20-22-20-24-20-24-20-23-20-21-19-18-20-15-20-12-20-7-20-2-20 3-20 7-20 13-19 18-20 22-20 26-20 29-20 31-20 34-20 34-20 34-19 33-20 31-20 28-20 24-20 19-20 11zM2041 2335l20-11 20-19 20-24 20-28 20-31 19-33 20-34 20-34 20-34 20-31 20-29 20-26 20-22 19-18 20-13 20-7 20-3 20 2 20 7 20 12 20 15 19 18 20 21 20 23 20 24 20 24 20 22 20 21 20 17 19 13 20 8 10 2-15-4-10-1-20-5-20-11-20-13-20-16-19-18-20-19-20-19-20-18-20-17-20-15-20-12-20-8-19-5-20-1-20 3-20 7-20 12-20 15-20 20-20 22-20 25-19 28-20 28-20 30-20 29-20 29-20 26-20 25-19 20-20 17-20 10zM2026 2331l20-10 20-17 19-20 20-25 20-26 20-29 20-29 20-30 20-28 19-28 20-25 20-22 20-20 20-15 20-12 20-7 20-3 20 1 19 5 20 8 20 12 20 15 20 17 20 18 20 19 20 19 19 18 20 16 20 13 20 11 20 5 10 1-16-3-10 0-19-3-20-7-20-9-20-12-20-12-20-14-20-13-20-13-19-12-20-10-20-8-20-6-20-2-20 0-20 4-20 7-19 10-20 13-20 16-20 19-20 20-20 23-20 23-20 24-19 24-20 24-20 21-20 20-20 18-20 14-20 9zM2010 2328l20-9 20-14 20-18 20-20 20-21 20-24 19-24 20-24 20-23 20-23 20-20 20-19 20-16 20-13 19-10 20-7 20-4 20 0 20 2 20 6 20 8 20 10 19 12 20 13 20 13 20 14 20 12 20 12 20 9 20 7 19 3 10 0-15-2-10 0-20 0-20-3-20-5-19-6-20-7-20-7-20-8-20-7-20-6-20-6-20-3-19-3-20 0-20 2-20 4-20 7-20 8-20 11-20 13-19 14-20 16-20 17-20 18-20 18-20 18-20 17-20 17-20 15-19 14-20 11-20 8zM1995 2325l20-8 20-11 19-14 20-15 20-17 20-17 20-18 20-18 20-18 20-17 20-16 19-14 20-13 20-11 20-8 20-7 20-4 20-2 20 0 19 3 20 3 20 6 20 6 20 7 20 8 20 7 20 7 19 6 20 5 20 3 20 0 10 0-15-3-10 2-20 2-20 1-20 1-20-1-20-1-20-1-20-1-19-1-20-1-20 0-20 1-20 1-20 3-20 3-20 5-19 6-20 7-20 8-20 9-20 10-20 11-20 11-20 11-19 12-20 12-20 11-20 11-20 11-20 9-20 8-20 7zM1979 2322l20-7 20-8 20-9 20-11 20-11 20-11 20-12 19-12 20-11 20-11 20-11 20-10 20-9 20-8 20-7 19-6 20-5 20-3 20-3 20-1 20-1 20 0 20 1 19 1 20 1 20 1 20 1 20 1 20-1 20-1 20-2 10-2-16-2-10 3-20 5-20 5-19 6-20 5-20 5-20 5-20 6-20 5-20 5-20 6-19 5-20 5-20 5-20 6-20 5-20 5-20 6-20 5-19 5-20 5-20 6-20 5-20 5-20 6-20 5-20 5-19 5-20 6-20 5-20 5-20 6zM1964 2320l20-6 20-5 20-5 20-6 19-5 20-5 20-5 20-6 20-5 20-5 20-6 20-5 19-5 20-5 20-6 20-5 20-5 20-6 20-5 20-5 19-5 20-6 20-5 20-5 20-6 20-5 20-5 20-5 19-6 20-5 20-5 10-3-15-12-10 2-20 2-20 1-20 1-20-1-20-1-20-1-19-1-20-1-20-1-20 0-20 1-20 1-20 3-20 3-19 5-20 6-20 7-20 8-20 9-20 10-20 10-20 12-19 11-20 12-20 12-20 11-20 11-20 11-20 9-20 8-19 7zM1949 2308l19-7 20-8 20-9 20-11 20-11 20-11 20-12 20-12 19-11 20-12 20-10 20-10 20-9 20-8 20-7 20-6 19-5 20-3 20-3 20-1 20-1 20 0 20 1 20 1 19 1 20 1 20 1 20 1 20-1 20-1 20-2 10-2-16-11-10 0-20 0-19-3-20-5-20-6-20-7-20-7-20-8-20-7-20-7-19-5-20-4-20-2-20 0-20 2-20 4-20 7-20 8-19 11-20 13-20 14-20 16-20 17-20 17-20 19-20 18-19 17-20 17-20 15-20 14-20 11-20 8zM1933 2297l20-8 20-11 20-14 20-15 20-17 19-17 20-18 20-19 20-17 20-17 20-16 20-14 20-13 19-11 20-8 20-7 20-4 20-2 20 0 20 2 20 4 19 5 20 7 20 7 20 8 20 7 20 7 20 6 20 5 19 3 20 0 10 0-15-12-10 0-20-3-20-7-20-9-20-12-20-13-19-13-20-13-20-13-20-12-20-10-20-8-20-6-20-2-19 0-20 4-20 6-20 11-20 13-20 16-20 19-20 20-19 23-20 23-20 24-20 24-20 23-20 22-20 20-20 18-19 13-20 10zM1918 2286l20-10 19-13 20-18 20-20 20-22 20-23 20-24 20-24 20-23 19-23 20-20 20-19 20-16 20-13 20-11 20-6 20-4 19 0 20 2 20 6 20 8 20 10 20 12 20 13 20 13 19 13 20 13 20 12 20 9 20 7 20 3 10 0-16-11-10-1-20-6-19-10-20-14-20-16-20-18-20-18-20-19-20-19-19-16-20-15-20-12-20-8-20-5-20-1-20 3-20 7-19 12-20 15-20 19-20 23-20 25-20 27-20 29-20 30-19 29-20 28-20 27-20 24-20 21-20 17-20 10zM1902 2275l20-10 20-17 20-21 20-24 20-27 20-28 19-29 20-30 20-29 20-27 20-25 20-23 20-19 20-15 19-12 20-7 20-3 20 1 20 5 20 8 20 12 20 15 19 16 20 19 20 19 20 18 20 18 20 16 20 14 19 10 20 6 10 1-15-11-10-1-20-8-20-13-20-18-20-20-19-23-20-23-20-24-20-23-20-21-20-18-20-16-20-11-19-7-20-2-20 2-20 8-20 13-20 18-20 21-20 26-19 29-20 32-20 33-20 35-20 34-20 33-20 31-20 28-19 24-20 18-20 12zM1887 2265l20-12 20-18 19-24 20-28 20-31 20-33 20-34 20-35 20-33 20-32 19-29 20-26 20-21 20-18 20-13 20-8 20-2 20 2 19 7 20 11 20 16 20 18 20 21 20 23 20 24 20 23 19 23 20 20 20 18 20 13 20 8 10 1-16-10-9-2-20-10-20-15-20-21-20-24-20-26-20-28-20-28-19-26-20-25-20-22-20-18-20-14-20-9-20-3-20 3-19 8-20 14-20 19-20 24-20 29-20 32-20 36-20 37-20 38-19 38-20 37-20 35-20 31-20 26-20 21-20 12zM1871 2255l20-12 20-21 20-26 20-31 20-35 20-37 19-38 20-38 20-37 20-36 20-32 20-29 20-24 20-19 20-14 19-8 20-3 20 3 20 9 20 14 20 18 20 22 20 25 19 26 20 28 20 28 20 26 20 24 20 21 20 15 20 10 9 2-15-9-10-3-20-11-20-18-20-23-19-27-20-29-20-31-20-31-20-30-20-27-20-25-20-20-19-16-20-10-20-4-20 2-20 9-20 14-20 21-20 26-19 31-20 35-20 38-20 41-20 41-20 41-20 40-20 38-19 33-20 29-20 22-20 13zM1856 2246l20-13 20-22 20-29 19-33 20-38 20-40 20-41 20-41 20-41 20-38 20-35 19-31 20-26 20-21 20-14 20-9 20-2 20 4 20 10 19 16 20 20 20 25 20 27 20 30 20 31 20 31 20 29 19 27 20 23 20 18 20 11 10 3-15-9-10-3-20-12-20-20-20-24-20-29-20-32-20-33-19-34-20-32-20-30-20-26-20-22-20-17-20-11-20-5-20 2-19 9-20 15-20 22-20 27-20 33-20 37-20 40-19 43-20 44-20 43-20 43-20 39-20 36-20 30-20 23-20 13zM1840 2237l20-13 20-23 20-30 20-36 20-39 20-43 20-43 20-44 19-43 20-40 20-37 20-33 20-27 20-22 20-15 19-9 20-2 20 5 20 11 20 17 20 22 20 26 20 30 20 32 19 34 20 33 20 32 20 29 20 24 20 20 20 12 10 3-16-8-10-3-20-13-20-21-19-26-20-30-20-33-20-35-20-35-20-33-20-32-20-27-19-24-20-17-20-12-20-5-20 2-20 8-20 16-20 22-19 29-20 33-20 39-20 42-20 44-20 45-20 45-20 44-19 41-20 37-20 31-20 23-20 14zM1825 2229l20-14 20-23 20-31 20-37 19-41 20-44 20-45 20-45 20-44 20-42 20-39 20-33 19-29 20-22 20-16 20-8 20-2 20 5 20 12 20 17 19 24 20 27 20 32 20 33 20 35 20 35 20 33 20 30 19 26 20 21 20 13 10 3-15-8-10-3-20-13-20-21-20-27-20-31-20-34-19-36-20-35-20-35-20-32-20-28-20-24-20-18-20-12-19-5-20 1-20 9-20 16-20 23-20 29-20 34-20 39-19 42-20 45-20 47-20 46-20 44-20 42-20 37-20 32-19 24-20 13zM1810 2221l20-13 19-24 20-32 20-37 20-42 20-44 20-46 20-47 20-45 19-42 20-39 20-34 20-29 20-23 20-16 20-9 20-1 19 5 20 12 20 18 20 24 20 28 20 32 20 35 20 35 19 36 20 34 20 31 20 27 20 21 20 13 10 3-16-7-10-3-20-14-19-21-20-27-20-31-20-34-20-36-20-35-20-35-20-32-19-29-20-24-20-18-20-12-20-5-20 1-20 9-20 16-19 23-20 29-20 34-20 39-20 43-20 45-20 46-20 47-19 44-20 42-20 38-20 31-20 24-20 14zM1794 2214l20-14 20-24 20-31 20-38 20-42 19-44 20-47 20-46 20-45 20-43 20-39 20-34 20-29 19-23 20-16 20-9 20-1 20 5 20 12 20 18 20 24 19 29 20 32 20 35 20 35 20 36 20 34 20 31 20 27 19 21 20 14 10 3-15-7-10-3-20-13-20-21-20-27-20-31-19-34-20-35-20-36-20-34-20-32-20-28-20-24-20-18-19-12-20-5-20 1-20 9-20 16-20 23-20 28-20 35-19 39-20 42-20 45-20 46-20 46-20 44-20 42-20 37-19 32-20 24-20 13zM1779 2207l20-13 20-24 19-32 20-37 20-42 20-44 20-46 20-46 20-45 20-42 19-39 20-35 20-28 20-23 20-16 20-9 20-1 20 5 19 12 20 18 20 24 20 28 20 32 20 34 20 36 20 35 19 34 20 31 20 27 20 21 20 13 10 3-16-6-10-3-19-14-20-20-20-26-20-31-20-33-20-35-20-35-20-34-19-31-20-28-20-24-20-17-20-12-20-5-20 1-20 9-19 16-20 22-20 29-20 34-20 38-20 42-20 44-20 46-19 45-20 44-20 41-20 37-20 31-20 24-20 14zM1763 2201l20-14 20-24 20-31 20-37 20-41 20-44 19-45 20-46 20-44 20-42 20-38 20-34 20-29 20-22 19-16 20-9 20-1 20 5 20 12 20 17 20 24 20 28 19 31 20 34 20 35 20 35 20 33 20 31 20 26 20 20 19 14 10 3-15-7-10-3-20-13-20-20-20-26-19-30-20-33-20-34-20-34-20-34-20-30-20-28-20-23-19-17-20-12-20-5-20 2-20 9-20 15-20 22-20 29-19 33-20 38-20 41-20 44-20 45-20 45-20 43-20 41-19 36-20 31-20 23-20 14zM1748 2194l20-14 20-23 20-31 19-36 20-41 20-43 20-45 20-45 20-44 20-41 20-38 19-33 20-29 20-22 20-15 20-9 20-2 20 5 20 12 19 17 20 23 20 28 20 30 20 34 20 34 20 34 20 33 19 30 20 26 20 20 20 13 10 3-15-7-10-3-20-12-20-20-20-26-20-29-20-33-20-33-20-34-19-33-20-31-20-27-20-22-20-18-20-11-20-5-20 2-19 9-20 15-20 22-20 28-20 33-20 38-20 41-20 43-19 45-20 44-20 43-20 40-20 36-20 31-20 23-20 13zM1732 2187l20-13 20-23 20-31 20-36 20-40 20-43 20-44 19-45 20-43 20-41 20-38 20-33 20-28 20-22 20-15 19-9 20-2 20 5 20 11 20 18 20 22 20 27 20 31 19 33 20 34 20 33 20 33 20 29 20 26 20 20 20 12 10 3-8-3-10-3-20-13-20-19-20-26-20-29-20-33-19-33-20-34-20-33-20-30-20-27-20-23-20-17-20-11-19-5-20 2-20 8-20 16-20 22-20 28-20 33-20 37-19 41-20 43-20 45-20 44-20 43-20 40-20 36-20 30-19 23-20 14z"/><g class="ml" stroke="url(#a5)"><path transform="translate(2211 2432)" d="M0 -27l20-13 20-23 20-31 19-35 20-41 20-42 20-45 20-44 20-43 20-41 20-37 20-33 19-28 20-22 20-16 20-8 20-2 20 5 20 11 20 17 19 23 20 27 20 30 20 33 20 33 20 34 20 32 20 30 19 25 20 20 20 13 10 2"/><path transform="translate(2203.3 2428.5)" d="M0 -27l20-13 20-23 20-31 19-36 20-40 20-42 20-45 20-44 20-43 20-41 20-38 20-33 19-28 20-22 20-15 20-9 20-2 20 5 20 12 19 17 20 22 20 27 20 31 20 32 20 34 20 34 20 32 19 30 20 25 20 20 20 12 10 3"/><path transform="translate(2195.6 2425)" d="M0 -27l20-13 20-23 20-31 19-36 20-40 20-43 20-44 20-45 20-43 20-41 20-38 20-33 19-28 20-22 20-15 20-9 20-2 20 5 20 11 20 18 19 22 20 27 20 31 20 33 20 34 20 33 20 33 20 29 19 26 20 20 20 12 10 3"/><path transform="translate(2187.8 2421.5)" d="M0 -27l20-13 20-24 20-30 19-36 20-41 20-43 20-45 20-44 20-44 20-41 20-38 20-33 19-28 20-22 20-16 20-8 20-2 20 5 20 11 20 18 19 22 20 28 20 30 20 33 20 34 20 34 20 33 20 30 19 25 20 20 20 13 10 3"/><path transform="translate(2180.1 2417.9)" d="M0 -27l20-14 20-23 20-31 19-36 20-41 20-43 20-45 20-45 20-44 20-41 20-38 20-34 19-28 20-22 20-15 20-9 20-2 20 5 20 12 20 17 19 23 20 28 20 30 20 34 20 34 20 34 20 33 20 30 19 26 20 20 20 13 10 3"/><path transform="translate(2172.4 2414.4)" d="M0 -27l20-14 20-23 20-31 19-37 20-41 20-43 20-46 20-45 20-44 20-42 20-38 20-33 19-29 20-22 20-16 20-8 20-2 20 5 20 12 20 17 19 23 20 28 20 31 20 34 20 34 20 35 20 33 20 30 19 26 20 21 20 13 10 3"/><path transform="translate(2164.7 2410.9)" d="M0 -27l20-14 20-24 20-31 19-37 20-41 20-44 20-45 20-46 20-44 20-42 20-38 20-34 19-29 20-22 20-16 20-9 20-1 20 5 20 11 19 18 20 24 20 28 20 31 20 34 20 35 20 35 20 33 19 30 20 27 20 20 20 13 10 4"/><path transform="translate(2157 2407.4)" d="M0 -28l20-13 20-24 20-32 19-37 20-41 20-44 20-46 20-46 20-44 20-42 20-39 20-34 19-29 20-22 20-16 20-9 20-2 20 6 20 11 20 19 19 23 20 28 20 32 20 34 20 35 20 35 20 34 20 31 19 26 20 21 20 13 10 3"/><path transform="translate(2149.2 2403.9)" d="M0 -28l20-14 20-24 20-31 19-37 20-42 20-44 20-46 20-46 20-45 20-43 20-38 20-35 19-28 20-23 20-16 20-9 20-2 20 6 20 12 20 18 19 24 20 28 20 32 20 34 20 36 20 35 20 34 20 31 19 27 20 21 20 13 10 3"/><path transform="translate(2141.5 2400.4)" d="M0 -28l20-14 20-24 20-31 19-38 20-41 20-45 20-46 20-46 20-45 20-43 20-39 20-35 19-28 20-23 20-16 20-9 20-2 20 6 20 12 20 18 19 24 20 29 20 32 20 34 20 36 20 35 20 34 20 32 19 26 20 21 20 14 10 3"/><path transform="translate(2133.8 2396.8)" d="M0 -28l20-14 20-24 20-32 19-37 20-42 20-44 20-47 20-46 20-45 20-43 20-39 20-34 19-29 20-23 20-16 20-9 20-2 20 6 20 12 20 18 19 24 20 29 20 32 20 34 20 36 20 36 20 34 20 31 19 27 20 21 20 14 10 3"/><path transform="translate(2126.1 2393.3)" d="M0 -28l20-14 20-24 20-31 19-38 20-42 20-44 20-47 20-46 20-45 20-43 20-39 20-34 19-29 20-23 20-16 20-9 20-1 20 5 20 12 20 19 19 23 20 29 20 32 20 35 20 35 20 36 20 34 19 31 20 27 20 21 20 14 10 3"/><path transform="translate(2118.4 2389.8)" d="M0 -28l20-14 20-24 20-31 19-37 20-42 20-45 20-46 20-46 20-45 20-42 20-39 20-35 19-28 20-23 20-16 20-9 20-2 20 6 20 12M417 -492l20 28 20 32 20 35 20 35 20 36 20 34 20 31 19 27 20 20 20 14 10 3"/><path transform="translate(2110.7 2386.3)" d="M0 -28l20-13 20-24 20-32 19-37 20-41 20-44 20-46 20-46 20-44 20-43 20-38 20-34 19-29 20-23 20-15 20-9 20-2 20 5 20 12M417 -489l20 28 20 32 20 34 20 35 20 35 20 34 20 31 19 26 20 21 20 13 10 3"/><path transform="translate(2102.9 2382.8)" d="M0 -27l20-14 20-24 20-31 19-36 20-41 20-44 20-45 20-46 20-44 20-42 20-38 20-34 19-28 20-22 20-16 20-9 20-1 20 5M417 -485l20 28 20 31 20 34 20 35 20 34 20 34 20 30 19 26 20 21 20 13 10 3"/><path transform="translate(2095.2 2379.3)" d="M0 -27l20-13 20-24 20-30 19-36 20-41 20-43 20-44 20-45 20-44 20-41 20-38 20-33 19-28 20-22 20-15 20-9 20-2M417 -478l20 27 20 30 20 33 20 35 20 34 20 32 20 30 19 25 20 20 20 13 10 3"/><path transform="translate(2087.5 2375.8)" d="M0 -26l20-14 20-22 20-31 19-35 20-40 20-42 20-43 20-44 20-43 20-40 20-37 20-33 19-28 20-21 20-15 20-9 20-2M417 -470l20 26 20 30 20 32 20 33 20 34 20 31 19 29 20 25 20 20 20 12 10 3"/><path transform="translate(2079.8 2372.2)" d="M0 -26l20-13 20-22 20-29 19-35 20-39 20-41 20-42 20-43 20-42 20-39 20-36 20-32 19-27 20-21 20-15 20-9M417 -460l20 25 20 29 20 31 20 33 20 32 20 30 20 28 19 24 20 19 20 12 10 3"/><path transform="translate(2072.1 2368.7)" d="M0 -25l20-12 20-22 20-29 19-33 20-38 20-40 20-41 20-42 20-40 20-38 20-35 20-31 19-26 20-21 20-15M417 -448l20 24 20 28 20 30 20 31 20 30 20 30 20 27 19 23 20 18 20 11 10 3"/><path transform="translate(2064.3 2365.2)" d="M0 -24l20-12 20-21 20-28 19-32 20-36 20-39 20-40 20-40 20-39 20-37 20-33 20-30 19-26 20-20M417 -434l20 23 20 26 20 29 20 29 20 29 20 28 20 26 19 22 20 17 20 10 10 3"/><path transform="translate(2056.6 2361.7)" d="M0 -23l20-12 20-20 20-26 19-32 20-34 20-37 20-38 20-38 20-38 20-35 20-33 20-28 19-24M417 -418l20 22 20 24 20 27 20 28 20 27 20 27 20 24 19 20 20 16 20 10 10 2"/><path transform="translate(2048.9 2358.2)" d="M0 -21l20-12 20-19 20-26 19-29 20-33 20-35 20-36 20-37 20-35 20-34 20-31 20-27M417 -401l20 21 20 23 20 25 20 25 20 26 20 25 19 22 20 19 20 15 20 9 10 1"/><path transform="translate(2041.2 2354.7)" d="M0 -20l20-11 20-19 20-23 19-28 20-31 20-33 20-35 20-34 20-33 20-32 20-29M417 -381l20 19 20 21 20 23 20 23 20 24 20 22 20 21 19 17 20 14 20 8 10 1"/><path transform="translate(2033.5 2351.1)" d="M0 -18l20-11 20-17 20-23 19-26 20-29 20-31 20-32 20-32 20-31 20-29 20-28M417 -359l20 16 20 19 20 21 20 21 20 22 20 20 20 18 19 16 20 12 20 7 10 1"/><path transform="translate(2025.8 2347.6)" d="M0 -17l20-10 20-16 20-21 19-24 20-27 20-28 20-30 20-29 20-29 20-27M398 -348l19 12 20 14 20 17 20 18 20 19 20 19 20 18 20 16 19 14 20 10 20 6 10 1"/><path transform="translate(2018 2344.1)" d="M0 -15l20-9 20-16 20-19 19-22 20-24 20-26 20-27 20-27 20-26M398 -322l19 10 20 13 20 14 20 16 20 16 20 16 20 16 20 13 19 12 20 9 20 4 10 1"/><path transform="translate(2010.3 2340.6)" d="M0 -13l20-9 20-14 20-17 19-20 20-22 20-23 20-24 20-24M398 -294l19 8 20 10 20 12 20 13 20 14 20 13 20 13 19 11 20 10 20 6 20 4 10 0"/><path transform="translate(2002.6 2337.1)" d="M0 -11l20-8 20-13 20-15 19-18 20-19 20-21 20-21M398 -264l19 6 20 7 20 9 20 11 20 10 20 11 20 9 20 9 19 7 20 5 20 2 10 0"/><path transform="translate(1994.9 2333.6)" d="M0 -9l20-8 20-11 20-13 19-16 20-16 20-18 20-18M398 -234l19 4 20 5 20 6 20 8 20 7 20 8 20 7 20 6 19 4 20 3 20 1 10-1"/><path transform="translate(1987.2 2330)" d="M0 -7l20-7 20-10 20-11 19-13 20-14 20-14M378 -203l20 0 19 2 20 3 20 3 20 4 20 5 20 4 20 4 20 3 19 3 20 1 20-1 10-2"/><path transform="translate(1979.4 2326.5)" d="M0 -4l20-7 20-8 20-10 19-10 20-11 20-12M378 -169l20-2 19 0 20 0 20 0 20 1 20 2 20 1 20 1 20 0 19 0 20-1 20-2 10-2"/><path transform="translate(1971.7 2323)" d="M0 -2l20-6 20-7 20-7 19-8 20-8M378 -135l20-3 19-3 20-3 20-2 20-2 20-2 20-2 20-3 20-2 19-3 20-3 20-4 10-2"/><path transform="translate(1964 2319.5)" d="M0 0l20-5 20-6 20-5 19-5 20-5 20-6M358 -95l20-5 20-6 19-5 20-5 20-5 20-6 20-5 20-5 20-6 20-5 19-5 20-5 20-6 10-2"/><path transform="translate(1956.3 2316)" d="M0 -2l20-6 20-7 20-7 19-8 20-8 20-9 20-8 20-9 20-8M378 -135l20-3 19-3 20-3 20-2 20-2 20-2 20-2 20-3 20-2 19-3 20-3 20-4 10-2"/><path transform="translate(1948.6 2312.5)" d="M0 -4l20-7 20-8 20-10 19-10 20-11 20-12 20-11 20-12 20-12 20-11 20-11 20-10"/><path transform="translate(1940.8 2309)" d="M0 -7l20-7 20-10 20-11 19-13 20-14 20-14 20-15 20-15 20-15 20-14 20-13 20-12 19-11 20-10"/><path transform="translate(1933.1 2305.4)" d="M0 -9l20-8 20-11 20-13 19-16 20-16 20-18 20-18 20-18 20-18 20-17 20-15 20-15 19-12 20-11 20-9 20-6"/><path transform="translate(1925.4 2301.9)" d="M0 -11l20-8 20-13 20-15 19-18 20-19 20-21 20-21 20-21 20-21 20-19 20-19 20-16 19-15 20-12 20-9 20-7 20-4"/><path transform="translate(1917.7 2298.4)" d="M0 -13l20-9 20-14 20-17 19-20 20-22 20-23 20-24 20-24 20-24 20-22 20-21 20-18 19-17 20-13 20-10 20-7 20-3 20-1 20 3"/><path transform="translate(1910 2294.9)" d="M0 -15l20-9 20-16 20-19 19-22 20-24 20-26 20-27 20-27 20-26 20-25 20-23 20-20 19-18 20-15 20-10 20-8 20-3 20 0 20 4 20 7"/><path transform="translate(1902.3 2291.4)" d="M0 -17l20-10 20-16 20-21 19-24 20-27 20-28 20-30 20-29 20-29 20-27 20-25 20-23 19-19 20-16 20-11 20-8 20-3 20 1 20 5 20 9 19 12"/><path transform="translate(1894.5 2287.9)" d="M0 -18l20-11 20-17 20-23 19-26 20-29 20-31 20-32 20-32 20-31 20-29 20-28 20-24 19-20 20-17 20-12 20-8 20-3 20 2 20 6 20 10 19 14 20 16"/><path transform="translate(1886.8 2284.3)" d="M0 -20l20-11 20-19 20-23 19-28 20-31 20-33 20-35 20-34 20-33 20-32 20-29 20-26 19-22 20-17 20-13 20-8 20-3 20 2 20 7 20 12 19 15 20 19"/><path transform="translate(1879.1 2280.8)" d="M0 -21l20-12 20-19 20-26 19-29 20-33 20-35 20-36 20-37 20-35 20-34 20-31 20-27 19-23 20-19 20-13 20-8 20-3 20 3 20 8 20 13 19 16 20 21 20 23"/><path transform="translate(1871.4 2277.3)" d="M0 -23l20-12 20-20 20-26 19-32 20-34 20-37 20-38 20-38 20-38 20-35 20-33 20-28 19-24 20-20 20-14 20-8 20-2 20 3 20 9 20 14 19 18 20 22 20 24"/><path transform="translate(1863.7 2273.8)" d="M0 -24l20-12 20-21 20-28 19-32 20-36 20-39 20-40 20-40 20-39 20-37 20-33 20-30 19-26 20-20 20-14 20-8 20-2 20 3 20 10 20 14 19 20 20 23 20 26 20 29"/><path transform="translate(1855.9 2270.3)" d="M0 -25l20-12 20-22 20-29 19-33 20-38 20-40 20-41 20-42 20-40 20-38 20-35 20-31 19-26 20-21 20-15 20-8 20-2 20 4 20 10 20 15 19 21 20 24 20 28 20 30"/><path transform="translate(1848.2 2266.8)" d="M0 -26l20-13 20-22 20-29 19-35 20-39 20-41 20-42 20-43 20-42 20-39 20-36 20-32 19-27 20-21 20-15 20-9 20-2 20 5 20 10 20 16 19 22 20 25 20 29 20 31 20 33"/><path transform="translate(1840.5 2263.2)" d="M0 -26l20-14 20-22 20-31 19-35 20-40 20-42 20-43 20-44 20-43 20-40 20-37 20-33 19-28 20-21 20-15 20-9 20-2 20 5 20 11 20 17 19 22 20 26 20 30 20 32 20 33"/><path transform="translate(1832.8 2259.7)" d="M0 -27l20-13 20-24 20-30 19-36 20-41 20-43 20-44 20-45 20-44 20-41 20-38 20-33 19-28 20-22 20-15 20-9 20-2 20 5 20 12 20 17 19 23 20 27 20 30 20 33"/><path transform="translate(1825.1 2256.2)" d="M0 -27l20-14 20-24 20-31 19-36 20-41 20-44 20-45 20-46 20-44 20-42 20-38 20-34 19-28 20-22 20-16 20-9 20-1 20 5 20 11 20 18 19 23 20 28 20 31 20 34"/><path transform="translate(1817.3 2252.7)" d="M0 -28l20-13 20-24 20-32 19-37 20-41 20-44 20-46 20-46 20-44 20-43 20-38 20-34 19-29 20-23 20-15 20-9 20-2 20 5 20 12 20 18 19 24 20 28 20 32"/><path transform="translate(1809.6 2249.2)" d="M0 -28l20-14 20-24 20-31 19-37 20-42 20-45 20-46 20-46 20-45 20-42 20-39 20-35 19-28 20-23 20-16 20-9 20-2 20 6 20 12 20 18 19 24 20 28"/><path transform="translate(1801.9 2245.7)" d="M0 -28l20-14 20-24 20-31 19-38 20-42 20-44 20-47 20-46 20-45 20-43 20-39 20-34 19-29 20-23 20-16 20-9 20-1 20 5 20 12 20 19 19 23"/><path transform="translate(1794.2 2242.2)" d="M0 -28l20-14 20-24 20-32 19-37 20-42 20-44 20-47 20-46 20-45 20-43 20-39 20-34 19-29 20-23 20-16 20-9 20-2 20 6 20 12 20 18"/><path transform="translate(1786.5 2238.6)" d="M0 -28l20-14 20-24 20-31 19-38 20-41 20-45 20-46 20-46 20-45 20-43 20-39 20-35 19-28 20-23 20-16 20-9 20-2 20 6 20 12 20 18"/><path transform="translate(1778.8 2235.1)" d="M0 -28l20-14 20-24 20-31 19-37 20-42 20-44 20-46 20-46 20-45 20-43 20-38 20-35 19-28 20-23 20-16 20-9 20-2 20 6 20 12"/><path transform="translate(1771 2231.6)" d="M0 -28l20-13 20-24 20-32 19-37 20-41 20-44 20-46 20-46 20-44 20-42 20-39 20-34 19-29 20-22 20-16 20-9 20-2 20 6 20 11"/><path transform="translate(1763.3 2228.1)" d="M0 -27l20-14 20-24 20-31 19-37 20-41 20-44 20-45 20-46 20-44 20-42 20-38 20-34 19-29 20-22 20-16 20-9 20-1 20 5"/><path transform="translate(1755.6 2224.6)" d="M0 -27l20-14 20-23 20-31 19-37 20-41 20-43 20-46 20-45 20-44 20-42 20-38 20-33 19-29 20-22 20-16 20-8 20-2 20 5"/><path transform="translate(1747.9 2221.1)" d="M0 -27l20-14 20-23 20-31 19-36 20-41 20-43 20-45 20-45 20-44 20-41 20-38 20-34 19-28 20-22 20-15 20-9 20-2 20 5"/><path transform="translate(1740.2 2217.5)" d="M0 -27l20-13 20-24 20-30 19-36 20-41 20-43 20-45 20-44 20-44 20-41 20-38 20-33 19-28 20-22 20-16 20-8 20-2 20 5"/><path transform="translate(1732.4 2214)" d="M0 -27l20-13 20-23 20-31 19-36 20-40 20-43 20-44 20-45 20-43 20-41 20-38 20-33 19-28 20-22 20-15 20-9 20-2 20 5"/><path transform="translate(1724.7 2210.5)" d="M0 -27l20-13 20-23 20-31 19-36 20-40 20-42 20-45 20-44 20-43 20-41 20-38 20-33 19-28 20-22 20-15 20-9 20-2 20 5 20 12"/></g><g class="ml" stroke="url(#b5)"><path transform="translate(2211 2432)" d="M0 -27l-15-7-16-7-15-8-16-7-15-7-16-7-15-7-15-6-16-5-15-5-16-4-15-4-16-3-15-3-16-3-15-2-15-12-16-11-15-11-16-11-15-10-16-10-15-9-16-9-15-8-15-8-16-7-15-7-16-6-15-7-16-7-7-3"/><path transform="translate(2220.9 2429.4)" d="M0 -29l-15-7-16-8-15-7-16-8-15-7-16-7-15-6-15-6-16-5-15-5-16-4-15-3-16-3-15-3-16-2-15-2-15-12-16-12-15-12-16-11-15-10-16-10-15-10-16-9-15-8-15-7-16-8-15-6-16-7-15-7-16-6-7-4"/><path transform="translate(2230.9 2426.7)" d="M0 -35l-15-7-16-7-15-8-16-7-15-8-16-7-15-6-15-6-16-4-15-5-16-3-15-3-16-2-15-2-16-1-15-1-15-13-16-13-15-12-16-12-15-11-16-11-15-10-16-9-15-8-15-8-16-7-15-7-16-7-15-6-16-7-7-3"/><path transform="translate(2240.8 2424.1)" d="M0 -43l-15-7-16-7-15-8-16-8-15-7-16-7-15-6-15-5-16-5-15-3-16-3-15-2-16-1-15 0-16-1-15 1-15-15-16-14-15-13-16-13-15-12-16-12-15-10-16-10-15-9-15-7-16-8-15-6-16-7-15-6-16-7-7-3"/><path transform="translate(2250.8 2421.4)" d="M0 -53l-15-7-16-8-15-7-16-8-15-8-16-6-15-6-15-5-16-4-15-3-16-1-15-1-16 0-15 1-16 2-15 2-15-16-16-16-15-15-16-14-15-14-16-12-15-11-16-11-15-9-15-8-16-7-15-7-16-6-15-6-16-7-7-3"/><path transform="translate(2260.7 2418.8)" d="M0 -64l-15-8-16-7-15-8-16-8-15-8-16-7-15-5-15-5-16-3-15-2-16 0-15 1-16 2-15 2-16 4-15 4-15-18-16-18-15-16-16-16-15-15-16-14-15-12-16-11-15-10-15-8-16-8-15-6-16-6-15-6-16-7-7-3"/><path transform="translate(2270.6 2416.2)" d="M0 -78l-15-7-16-8-15-8-16-8-15-8-16-7-15-5-15-4-16-2-15-1-16 1-15 3-16 3-15 5-16 6-15 6-15-20-16-20-15-19-16-18-15-16-16-15-15-14-16-11-15-11-15-8-16-8-15-6-16-6-15-6-16-6-7-3"/><path transform="translate(2280.6 2413.5)" d="M0 -92l-15-8-16-8-15-8-16-9-15-7-16-7-15-5-15-3-16-2-15 1-16 2-15 4-16 6-15 7-16 8-15 9-15-23-16-22-15-21-16-20-15-18-16-17-15-14-16-13-15-11-15-9-16-7-15-6-16-6-15-6-16-6-7-3"/><path transform="translate(2290.5 2410.9)" d="M0 -108l-15-8-16-8-15-9-16-8-15-8-16-7-15-4-15-3-16-1-15 2-16 4-15 7-16 8-15 9-16 11-15 11-15-26-16-24-15-24-16-22-15-20-16-18-15-16-16-14-15-11-15-9-16-8-15-6-16-6-15-5-16-6-7-3"/><path transform="translate(2300.4 2408.2)" d="M0 -125l-15-8-16-8-15-9-16-9-15-8-16-6-15-5-15-2-16 1-15 3-16 6-15 8-16 10-15 13-16 13-15 14-15-28-16-28-15-26-16-24-15-22-16-20-15-18-16-14-15-12-15-10-16-8-15-6-16-5-15-5-16-6-7-3"/><path transform="translate(2310.4 2405.6)" d="M0 -143l-15-8-16-8-15-10-16-9-15-8-16-6-15-4-15-1-16 1-15 5-16 8-15 10-16 13-15 15-16 16-15 17-15-31-16-30-15-29-16-27-15-25-16-21-15-19-16-16-15-13-15-10-16-7-15-6-16-5-15-5-16-6-7-3"/><path transform="translate(2320.3 2403)" d="M0 -162l-15-7-16-9-15-10-16-9-15-8-16-6-15-4-15-1-16 3-15 6-16 10-15 13-16 15-15 18-16 19-15 20-15-34-16-33-15-32-16-30-15-26-16-24-15-20-16-17-15-14-15-10-16-8-15-6-16-4-15-5-16-5-7-3"/><path transform="translate(2330.3 2400.3)" d="M0 -181l-15-7-16-9-15-10-16-10-15-8-16-6-15-3-15 0-16 4-15 7-16 12-15 15-16 18-15 20-16 23-15 23-15-38-16-36-15-34-16-32-15-29-16-26-15-22-16-18-15-14-15-11-16-8-15-5-16-5-15-4-16-5-7-3"/><path transform="translate(2340.2 2397.7)" d="M0 -200l-15-8-16-9-15-10-16-10-15-8-16-6-15-3-15 1-16 5-15 9-16 13-15 18-16 21-15 23M-247 -112l-15-41-16-39-15-38-16-34-15-32-16-27-15-24-16-19-15-15-15-11-16-8-15-6-16-4-15-4-16-5-7-3"/><path transform="translate(2350.1 2395)" d="M0 -220l-15-7-16-10-15-10-16-10-15-9-16-6-15-2-15 1-16 6-15 11-16 16-15 20-16 23-15 27M-262 -156l-16-42-15-41-16-37-15-34-16-30-15-25-16-20-15-16-15-12-16-8-15-5-16-4-15-4-16-4-7-3"/><path transform="translate(2360.1 2392.4)" d="M0 -239l-15-8-16-10-15-10-16-11-15-8-16-6-15-3-15 3-16 7-15 13-16 17-15 23-16 26M-262 -159l-16-46-15-43-16-41-15-36-16-31-15-27-16-22-15-16-15-12-16-8-15-6-16-3-15-4-16-4-7-3"/><path transform="translate(2370 2389.8)" d="M0 -259l-15-8-16-10-15-11-16-10-15-9-16-6-15-1-15 3-16 8-15 14-16 20-15 25-16 29M-262 -162l-16-49-15-47-16-43-15-38-16-34-15-28-16-23-15-17-15-12-16-9-15-5-16-3-15-4-16-4-7-2"/><path transform="translate(2379.9 2387.1)" d="M0 -278l-15-8-16-10-15-11-16-11-15-9-16-6-15-1-15 4-16 10-15 15-16 22-15 27-16 31M-262 -166l-16-52-15-49-16-45-15-41-16-36-15-30-16-24-15-18-15-12-16-9-15-5-16-3-15-3-16-4-7-3"/><path transform="translate(2389.9 2384.5)" d="M0 -297l-15-8-16-10-15-12-16-11-15-9-16-5-15-1-15 4-16 11-15 17-16 24-15 29M-262 -169l-16-55-15-52-16-48-15-43-16-38-15-31-16-25-15-19-15-13-16-9-15-4-16-3-15-3-16-4-7-2"/><path transform="translate(2399.8 2381.8)" d="M0 -315l-15-8-16-11-15-11-16-12-15-9-16-5-15-1-15 5-16 12-15 19-16 25-15 32M-262 -172l-16-58-15-55-16-50-15-46-16-39-15-33-16-26-15-20-15-13-16-9-15-4-16-3-15-3-16-3-7-3"/><path transform="translate(2409.8 2379.2)" d="M0 -332l-15-9-16-10-15-12-16-12-15-9-16-6-15 0-15 6-16 13-15 20-16 28-15 33M-262 -175l-16-60-15-58-16-53-15-48-16-41-15-34-16-27-15-20-15-14-16-9-15-5-16-2-15-2-16-4-7-2"/><path transform="translate(2419.7 2376.5)" d="M0 -349l-15-8-16-11-15-12-16-12-15-10-16-5-15 0-15 7-16 14-15 21-16 29M-262 -177l-16-64-15-60-16-55-15-50-16-43-15-36-16-28-15-20-15-15-16-8-15-5-16-2-15-2-16-3-7-3"/><path transform="translate(2429.6 2373.9)" d="M0 -364l-15-9-16-11-15-12-16-12-15-10-16-5-15 0-15 7-16 15-15 23-16 31M-262 -180l-16-66-15-62-16-58-15-52-16-44-15-37-16-29-15-21-15-15-16-9-15-4-16-2-15-2-16-3-7-2"/><path transform="translate(2439.6 2371.3)" d="M0 -379l-15-8-16-12-15-12-16-13-15-9-16-6-15 1-15 8-16 16-15 24-16 32M-262 -182l-16-69-15-64-16-60-15-53-16-46-15-38-16-30-15-22-15-15-16-9-15-4-16-2-15-2-16-2-7-3"/><path transform="translate(2449.5 2368.6)" d="M0 -392l-15-9-16-11-15-13-16-12-15-10-16-5-15 1-15 8-16 17-15 25M-262 -185l-16-70-15-67-16-61-15-55-16-48-15-39-16-30-15-23-15-15-16-9-15-4-16-2-15-1-16-3-7-2"/><path transform="translate(2459.4 2366)" d="M0 -404l-15-9-16-11-15-13-16-13-15-10-16-5-15 1-15 9-16 18-15 26M-278 -259l-15-68-16-64-15-56-16-49-15-40-16-31-15-23-15-16-16-8-15-5-16-1-15-1-16-3-7-2"/><path transform="translate(2469.4 2363.3)" d="M0 -415l-15-8-16-12-15-13-16-13-15-10-16-5-15 2-15 9-16 18-15 27M-278 -262l-15-70-16-65-15-58-16-50-15-41-16-32-15-23-15-16-16-9-15-4-16-1-15-1-16-2-7-3"/><path transform="translate(2479.3 2360.7)" d="M0 -424l-15-8-16-12-15-14-16-12-15-10-16-5-15 1-15 10-16 19-15 27M-278 -265l-15-72-16-66-15-59-16-50-15-42-16-33-15-23-15-16-16-9-15-4-16-1-15-1-16-2-7-3"/><path transform="translate(2489.3 2358.1)" d="M0 -431l-15-9-16-12-15-13-16-13-15-10-16-5-15 2-15 10-16 19M-278 -268l-15-72-16-67-15-60-16-52-15-42-16-33-15-24-15-16-16-9-15-4-16-1-15-1-16-2-7-2"/><path transform="translate(2499.2 2355.4)" d="M0 -437l-15-9-16-12-15-13-16-13-15-11-16-4-15 1-15 11-16 19M-278 -270l-15-73-16-68-15-60-16-52-15-43-16-34-15-24-15-16-16-9-15-4-16-1-15-1-16-2-7-2"/><path transform="translate(2509.1 2352.8)" d="M0 -441l-15-9-16-12-15-14-16-13-15-10-16-5-15 2-15 11-16 19M-278 -271l-15-74-16-69-15-61-16-52-15-43-16-34-15-24-15-17-16-9-15-4-16-1-15 0-16-2-7-2"/><path transform="translate(2519.1 2350.1)" d="M0 -444l-15-9-16-12-15-13-16-14-15-10-16-5-15 2-15 11M-278 -272l-15-75-16-68-15-62-16-52-15-44-16-33-15-25-15-16-16-9-15-4-16-1-15-1-16-2-7-2"/><path transform="translate(2529 2347.5)" d="M0 -445l-15-9-16-12-15-13-16-13-15-11-16-5-15 3-15 10M-278 -272l-15-75-16-69-15-61-16-53-15-43-16-34-15-25-15-16-16-9-15-4-16-1-15-1-16-2-7-2"/><path transform="translate(2538.9 2344.9)" d="M0 -444l-15-9-16-12-15-13-16-14-15-10-16-5-15 2-15 11M-293 -347l-16-68-15-62-16-52-15-44-16-33-15-25-15-16-16-9-15-4-16-1-15-1-16-2-7-2"/><path transform="translate(2548.9 2342.2)" d="M0 -441l-15-9-16-12-15-14-16-13-15-10-16-5-15 2-15 11M-293 -345l-16-69-15-61-16-52-15-43-16-34-15-24-15-17-16-9-15-4-16-1-15 0-16-2-7-2"/><path transform="translate(2558.8 2339.6)" d="M0 -437l-15-9-16-12-15-13-16-13-15-11-16-4-15 1M-293 -343l-16-68-15-60-16-52-15-43-16-34-15-24-15-16-16-9-15-4-16-1-15-1-16-2-7-2"/><path transform="translate(2568.8 2336.9)" d="M0 -431l-15-9-16-12-15-13-16-13-15-10-16-5-15 2M-293 -340l-16-67-15-60-16-52-15-42-16-33-15-24-15-16-16-9-15-4-16-1-15-1-16-2-7-2"/><path transform="translate(2578.7 2334.3)" d="M0 -424l-15-8-16-12-15-14-16-12-15-10-16-5-15 1M-293 -337l-16-66-15-59-16-50-15-42-16-33-15-23-15-16-16-9-15-4-16-1-15-1-16-2-7-3"/><path transform="translate(2588.6 2331.7)" d="M0 -415l-15-8-16-12-15-13-16-13-15-10-16-5M-232 -174l-15 62M-293 -332l-16-65-15-58-16-50-15-41-16-32-15-23-15-16-16-9-15-4"/><path transform="translate(2598.6 2329)" d="M0 -404l-15-9-16-11-15-13-16-13-15-10-16-5M-216 -231l-16 58-15 61M-309 -391l-15-56-16-49-15-40-16-31-15-23-15-16-16-8"/><path transform="translate(2608.5 2326.4)" d="M0 -392l-15-9-16-11-15-13-16-12-15-10M-185 -327l-16 48-15 52-16 56-15 59M-309 -383l-15-55-16-48-15-39-16-30-15-23-15-15-16-9"/><path transform="translate(2618.4 2323.7)" d="M0 -379l-15-8-16-12-15-12-16-13-15-9M-154 -390l-16 32-15 39-16 46-15 50-16 55-15 56M-309 -375l-15-53-16-46-15-38-16-30-15-22-15-15-16-9"/><path transform="translate(2628.4 2321.1)" d="M0 -364l-15-9-16-11-15-12-16-12-15-10-16-5-15 0-15 7-16 15-15 23-16 31-15 37-16 44-15 48-16 52-15 54M-309 -366l-15-52-16-44-15-37-16-29-15-21-15-15"/><path transform="translate(2638.3 2318.5)" d="M0 -349l-15-8-16-11-15-12-16-12-15-10-16-5-15 0-15 7-16 14-15 21-16 29-15 36-16 41-15 46-16 50-15 51M-324 -406l-16-43-15-36-16-28-15-20-15-15"/><path transform="translate(2648.3 2315.8)" d="M0 -332l-15-9-16-10-15-12-16-12-15-9-16-6-15 0-15 6-16 13-15 20-16 28-15 33-16 39-15 44-16 46-15 49M-324 -394l-16-41-15-34-16-27-15-20-15-14"/><path transform="translate(2658.2 2313.2)" d="M0 -315l-15-8-16-11-15-11-16-12-15-9-16-5-15-1-15 5-16 12-15 19-16 25-15 32-16 37-15 40-16 44-15 46M-324 -381l-16-39-15-33-16-26-15-20"/><path transform="translate(2668.1 2310.5)" d="M0 -297l-15-8-16-10-15-12-16-11-15-9-16-5-15-1-15 4-16 11-15 17-16 24-15 29-16 34-15 38-16 41-15 43M-340 -405l-15-31-16-25-15-19"/><path transform="translate(2678.1 2307.9)" d="M0 -278l-15-8-16-10-15-11-16-11-15-9-16-6-15-1-15 4-16 10-15 15-16 22-15 27-16 31-15 36-16 37-15 40M-340 -389l-15-30-16-24-15-18"/><path transform="translate(2688 2305.2)" d="M0 -259l-15-8-16-10-15-11-16-10-15-9-16-6-15-1-16 3-15 8-15 14-16 20-15 25-16 29-15 32-16 35-15 36M-355 -401l-16-23-15-17"/><path transform="translate(2697.9 2302.6)" d="M0 -239l-15-8-16-10-15-10-16-11-15-8-16-6-15-3-16 3-15 7-15 13-16 17-15 23-16 26-15 29-16 32-15 33M-355 -383l-16-22"/><path transform="translate(2707.9 2300)" d="M0 -220l-15-7-16-10-15-10-16-10-15-9-16-6-15-2-16 1-15 6-15 11-16 16-15 20-16 23-15 27-16 28-15 30"/><path transform="translate(2717.8 2297.3)" d="M0 -200l-15-8-16-9-15-10-16-10-15-8-16-6-15-3-16 1-15 5-15 9-16 13-15 18-16 21-15 23-16 25-15 27"/><path transform="translate(2727.8 2294.7)" d="M0 -181l-15-7-16-9-15-10-16-10-15-8-16-6-15-3-16 0-15 4-15 7-16 12-15 15-16 18-15 20-16 23-15 23"/><path transform="translate(2737.7 2292)" d="M0 -162l-15-7-16-9-15-10-16-9-15-8-16-6-15-4-16-1-15 3-15 6-16 10-15 13-16 15-15 18-16 19-15 20"/><path transform="translate(2747.6 2289.4)" d="M0 -143l-15-8-16-8-15-10-16-9-15-8-16-6-15-4-16-1-15 1-15 5-16 8-15 10-16 13-15 15-16 16-15 17"/><path transform="translate(2757.6 2286.8)" d="M0 -125l-15-8-16-8-15-9-16-9-15-8-16-6-15-5-16-2-15 1-15 3-16 6-15 8-16 10-15 13-16 13-15 14"/><path transform="translate(2767.5 2284.1)" d="M0 -108l-15-8-16-8-15-9-16-8-15-8-16-7-15-4-16-3-15-1-15 2-16 4-15 7-16 8-15 9-16 11-15 11"/><path transform="translate(2777.4 2281.5)" d="M0 -92l-15-8-16-8-15-8-16-9-15-7-16-7-15-5-16-3-15-2-15 1-16 2-15 4-16 6-15 7-16 8-15 9"/><path transform="translate(2787.4 2278.8)" d="M0 -78l-15-7-16-8-15-8-16-8-15-8-16-7-15-5-16-4-15-2-15-1-16 1-15 3-16 3-15 5-16 6-15 6"/><path transform="translate(2797.3 2276.2)" d="M0 -64l-15-8-16-7-15-8-16-8-15-8-16-7-15-5-16-5-15-3-15-2-16 0-15 1-16 2-15 2-16 4-15 4"/><path transform="translate(2807.2 2273.6)" d="M0 -53l-15-7-16-8-15-7-16-8-15-8-16-6-15-6-16-5-15-4-15-3-16-1-15-1-16 0-15 1-16 2-15 2"/><path transform="translate(2817.2 2270.9)" d="M0 -43l-15-7-16-7-15-8-16-8-15-7-16-7-15-6-16-5-15-5-15-3-16-3-15-2-16-1-15 0-16-1-15 1"/><path transform="translate(2827.1 2268.3)" d="M0 -35l-15-7-16-7-15-8-16-7-15-8-16-7-15-6-16-6-15-4-15-5-16-3-15-3-16-2-15-2-16-1-15-1"/><path transform="translate(2837.1 2265.6)" d="M0 -29l-15-7-16-8-15-7-16-8-15-7-16-7-15-6-16-6-15-5-15-5-16-4-15-3-16-3-15-3-16-2-15-2"/></g>
<path class="ax" d="M2211 2432L2847 2263M2211 2432L1717 2207M1717 2207L1717 1716M2211 2432l5.4 9M2211 2432l-8.1 7.2M2370 2389.8l5.4 9M2087.5 2375.8l-8.1 7.2M2529 2347.5l5.4 9M1964 2319.5l-8.1 7.2M2688 2305.2l5.4 9M1840.5 2263.2l-8.1 7.2M2847 2263l5.4 9M1717 2207l-8.1 7.2M1717 2207l-9 0M1717 2108.8l-9 0M1717 2010.6l-9 0M1717 1912.4l-9 0M1717 1814.2l-9 0M1717 1716l-9 0"/>
<text class="tk s" x="2237.1" y="2483.3">-1</text>
<text class="tk e s" x="2185.8" y="2475.2">-1</text>
<text class="tk s" x="2396.1" y="2441">-0.5</text>
<text class="tk e s" x="2062.3" y="2418.9">-0.5</text>
<text class="tk s" x="2555.1" y="2398.8">0</text>
<text class="tk e s" x="1938.8" y="2362.7">0</text>
<text class="tk s" x="2714.1" y="2356.6">0.5</text>
<text class="tk e s" x="1815.3" y="2306.4">0.5</text>
<text class="tk s" x="2873.1" y="2314.3">1</text>
<text class="tk e s" x="1691.8" y="2246.6">1</text>
<text class="tk e s" x="1693.6" y="2211.5">0</text>
<text class="tk e s" x="1693.6" y="2113.3">0.5</text>
<text class="tk e s" x="1693.6" y="2015.1">1</text>
<text class="tk e s" x="1693.6" y="1916.9">1.5</text>
<text class="tk e s" x="1693.6" y="1818.7">2</text>
<text class="tk e s" x="1693.6" y="1720.5">2.5</text>
<text class="lb s" x="2481.3" y="2469.9">F<tspan class="sb" dy="8.1">x</tspan></text>
<text class="lb s" x="1946" y="2477.9">F<tspan class="sb" dy="8.1">y</tspan></text>
<text class="lb m s" transform="translate(1618 1961.5) rotate(-90)">Magnitude</text>
<text class="ti s" x="2282" y="1537">Kernel 2 Channel 2</text>
<text class="cp" transform="translate(2249 2678) scale(1.1 1)">(<tspan class="b">e</tspan>) Kernel 2 Channel 2</text>
<path class="gr" d="M3670 2432L3176 2207M3176 2207L3176 1716M3670 2432L4306 2263M4306 2263L4306 1772M3829 2389.8L3335 2164.8M3335 2164.8L3335 1673.8M3546.5 2375.8L4182.5 2206.8M4182.5 2206.8L4182.5 1715.8M3988 2347.5L3494 2122.5M3494 2122.5L3494 1631.5M3423 2319.5L4059 2150.5M4059 2150.5L4059 1659.5M4147 2305.2L3653 2080.2M3653 2080.2L3653 1589.2M3299.5 2263.2L3935.5 2094.2M3935.5 2094.2L3935.5 1603.3M4306 2263L3812 2038M3812 2038L3812 1547M3176 2207L3812 2038M3812 2038L3812 1547M3176 2207L3812 2038M3812 2038L4306 2263M3176 2108.8L3812 1939.8M3812 1939.8L4306 2164.8M3176 2010.6L3812 1841.6M3812 1841.6L4306 2066.6M3176 1912.4L3812 1743.4M3812 1743.4L4306 1968.4M3176 1814.2L3812 1645.2M3812 1645.2L4306 1870.2M3176 1716L3812 1547M3812 1547L4306 1772"/>
<defs><linearGradient id="a6" gradientUnits="userSpaceOnUse" x1="-0.3" y1="-1.2" x2="-99.9" y2="-376.1"><stop offset="0" stop-color="#3e26a8"/><stop offset="0.06" stop-color="#4434cd"/><stop offset="0.125" stop-color="#4852f4"/><stop offset="0.19" stop-color="#436cfe"/><stop offset="0.28" stop-color="#2e87f7"/><stop offset="0.34" stop-color="#2796eb"/><stop offset="0.4" stop-color="#1caadf"/><stop offset="0.45" stop-color="#0cb8cd"/><stop offset="0.5" stop-color="#1ebeb2"/><stop offset="0.57" stop-color="#37c897"/><stop offset="0.66" stop-color="#81cc59"/><stop offset="0.73" stop-color="#bbc334"/><stop offset="0.8" stop-color="#e8bc30"/><stop offset="0.875" stop-color="#fdcb36"/><stop offset="0.94" stop-color="#f6e428"/><stop offset="1" stop-color="#f9fb15"/></linearGradient><linearGradient id="b6" gradientUnits="userSpaceOnUse" x1="0.5" y1="-1.1" x2="151.9" y2="-333.4"><stop offset="0" stop-color="#3e26a8"/><stop offset="0.06" stop-color="#4434cd"/><stop offset="0.125" stop-color="#4852f4"/><stop offset="0.19" stop-color="#436cfe"/><stop offset="0.28" stop-color="#2e87f7"/><stop offset="0.34" stop-color="#2796eb"/><stop offset="0.4" stop-color="#1caadf"/><stop offset="0.45" stop-color="#0cb8cd"/><stop offset="0.5" stop-color="#1ebeb2"/><stop offset="0.57" stop-color="#37c897"/><stop offset="0.66" stop-color="#81cc59"/><stop offset="0.73" stop-color="#bbc334"/><stop offset="0.8" stop-color="#e8bc30"/><stop offset="0.875" stop-color="#fdcb36"/><stop offset="0.94" stop-color="#f6e428"/><stop offset="1" stop-color="#f9fb15"/></linearGradient></defs><path class="wu" d="M3670 2408l20-9 20-16 20-23 20-29 19-34 20-38 20-41 20-42 20-42 20-41 20-38 19-34 20-28 20-23 20-16 20-9 20-2 20 6 20 12 20 18 19 24 20 27 20 30 20 32 20 31 20 30 20 28 19 23 20 18 20 13 20 5 10 0-15-7-10 0-20-5-20-12-20-18-20-23-20-27-20-30-19-32-20-31-20-30-20-27-20-23-20-18-20-12-20-6-19 2-20 9-20 16-20 23-20 28-20 34-20 38-20 40-19 42-20 42-20 40-20 38-20 34-20 28-20 23-20 16-19 9zM3655 2401l19-9 20-16 20-23 20-28 20-34 20-38 20-40 20-42 19-42 20-40 20-38 20-34 20-28 20-23 20-16 20-9 19-2 20 6 20 12 20 18 20 23 20 27 20 30 20 31 19 32 20 30 20 27 20 23 20 18 20 12 20 5 10 0-16-6-10 0-20-5-19-12-20-17-20-23-20-26-20-29-20-31-20-30-20-29-19-26-20-23-20-17-20-12-20-5-20 2-20 8-20 16-19 22-20 28-20 33-20 37-20 40-20 41-20 41-20 40-20 37-19 33-20 28-20 22-20 16-20 8zM3639 2394l20-8 20-16 20-22 20-28 19-33 20-37 20-40 20-41 20-41 20-40 20-37 20-33 20-28 19-22 20-16 20-8 20-2 20 5 20 12 20 17 20 23 19 26 20 29 20 30 20 31 20 29 20 26 20 23 20 17 19 12 20 5 10 0-15-6-10 0-20-4-20-11-20-17-20-21-20-25-19-28-20-29-20-29-20-28-20-25-20-21-20-17-20-11-19-5-20 2-20 9-20 15-20 22-20 27-20 32-20 35-19 39-20 39-20 40-20 38-20 36-20 32-20 27-20 21-19 16-20 8zM3624 2388l20-8 19-16 20-21 20-27 20-32 20-36 20-38 20-40 20-39 19-39 20-35 20-32 20-27 20-22 20-15 20-9 20-2 19 5 20 11 20 17 20 21 20 25 20 28 20 29 20 29 19 28 20 25 20 21 20 17 20 11 20 4 10 0-16-5-10 0-20-4-19-10-20-16-20-20-20-23-20-26-20-27-20-27-19-26-20-23-20-20-20-16-20-10-20-4-20 2-20 9-20 14-19 21-20 26-20 30-20 34-20 37-20 37-20 38-19 37-20 34-20 30-20 26-20 21-20 14-20 9zM3608 2383l20-9 20-14 20-21 20-26 20-30 20-34 19-37 20-38 20-37 20-37 20-34 20-30 20-26 19-21 20-14 20-9 20-2 20 4 20 10 20 16 20 20 20 23 19 26 20 27 20 27 20 26 20 23 20 20 20 16 19 10 20 4 10 0-15-6-10 1-20-4-20-9-20-14-20-18-19-21-20-24-20-24-20-25-20-24-20-21-20-18-20-14-19-9-20-4-20 3-20 8-20 14-20 19-20 25-20 29-19 31-20 35-20 35-20 35-20 35-20 32-20 28-20 25-19 19-20 14-20 9zM3593 2378l20-9 20-14 19-19 20-25 20-28 20-32 20-35 20-35 20-35 20-35 19-31 20-29 20-25 20-19 20-14 20-8 20-3 20 4 19 9 20 14 20 18 20 21 20 24 20 25 20 24 20 24 19 21 20 18 20 14 20 9 20 4 10-1-16-5-9 1-20-3-20-7-20-13-20-16-20-19-20-21-20-22-19-22-20-21-20-19-20-16-20-12-20-8-20-3-20 3-19 8-20 13-20 18-20 23-20 27-20 29-20 32-20 33-19 32-20 32-20 30-20 26-20 23-20 18-20 13-20 8zM3577 2372l20-8 20-13 20-18 20-23 20-26 20-30 20-32 19-32 20-33 20-32 20-29 20-27 20-23 20-18 20-13 19-8 20-3 20 3 20 8 20 12 20 16 20 19 20 21 19 22 20 22 20 21 20 19 20 16 20 13 20 7 20 3 9-1-15-4-10 0-20-1-20-7-20-10-19-14-20-16-20-19-20-19-20-19-20-19-20-16-20-14-19-10-20-7-20-2-20 3-20 8-20 12-20 17-20 21-19 25-20 27-20 29-20 29-20 30-20 29-20 27-20 25-19 21-20 16-20 13-20 8zM3562 2368l20-8 20-13 20-16 19-21 20-25 20-27 20-29 20-30 20-29 20-29 20-27 19-25 20-21 20-17 20-12 20-8 20-3 20 2 20 7 19 10 20 14 20 16 20 19 20 19 20 19 20 19 20 16 19 14 20 10 20 7 20 1 10 0-15-5-10 1-20-1-20-5-20-8-20-12-20-14-20-15-19-17-20-16-20-15-20-14-20-12-20-8-20-5-20-1-19 3-20 7-20 12-20 16-20 19-20 22-20 24-20 26-20 27-19 27-20 26-20 24-20 22-20 19-20 16-20 11-20 8zM3546 2363l20-8 20-11 20-16 20-19 20-22 20-24 20-26 19-27 20-27 20-26 20-24 20-22 20-19 20-16 20-12 20-7 19-3 20 1 20 5 20 8 20 12 20 14 20 15 20 16 19 17 20 15 20 14 20 12 20 8 20 5 20 1 10-1-16-5-10 2-20-1-20-3-19-7-20-9-20-11-20-13-20-13-20-13-20-13-20-11-19-9-20-7-20-3-20-1-20 4-20 7-20 11-20 14-19 17-20 20-20 21-20 24-20 23-20 24-20 24-20 21-19 20-20 17-20 14-20 11-20 7zM3531 2358l20-7 20-11 20-14 20-17 19-20 20-21 20-24 20-24 20-23 20-24 20-21 20-20 19-17 20-14 20-11 20-7 20-4 20 1 20 3 20 7 19 9 20 11 20 13 20 13 20 13 20 13 20 11 20 9 19 7 20 3 20 1 10-2-15-5-10 2-20 1-20-3-20-4-20-7-20-9-20-10-19-10-20-11-20-9-20-9-20-7-20-5-20-2-19 1-20 3-20 7-20 10-20 13-20 15-20 18-20 19-20 20-19 21-20 21-20 21-20 19-20 17-20 16-20 13-19 9-20 7zM3516 2353l20-7 19-9 20-13 20-16 20-17 20-19 20-21 20-21 19-21 20-20 20-19 20-18 20-15 20-13 20-10 20-7 20-3 19-1 20 2 20 5 20 7 20 9 20 9 20 11 19 10 20 10 20 9 20 7 20 4 20 3 20-1 10-2-16-4-10 1-20 2-19-1-20-3-20-5-20-7-20-7-20-8-20-7-20-8-19-6-20-5-20-3-20-1-20 2-20 4-20 6-20 9-19 12-20 13-20 16-20 17-20 18-20 18-20 18-20 18-19 17-20 15-20 14-20 12-20 9-20 6zM3500 2348l20-6 20-9 20-12 20-14 20-15 19-17 20-18 20-18 20-18 20-18 20-17 20-16 20-13 19-12 20-9 20-6 20-4 20-2 20 1 20 3 20 5 19 6 20 8 20 7 20 8 20 7 20 7 20 5 20 3 19 1 20-2 10-1-15-6-10 2-20 2-20 0-20-1-20-3-19-4-20-6-20-5-20-5-20-6-20-4-20-3-20-1-19 0-20 2-20 4-20 6-20 9-20 10-20 12-20 14-19 15-20 15-20 16-20 17-20 15-20 15-20 14-20 12-19 10-20 9-20 6zM3485 2343l20-6 20-9 19-10 20-12 20-14 20-15 20-15 20-17 20-16 20-15 19-15 20-14 20-12 20-10 20-9 20-6 20-4 20-2 19 0 20 1 20 3 20 4 20 6 20 5 20 5 20 6 19 4 20 3 20 1 20 0 20-2 10-2-16-5-10 2-19 2-20 2-20-1-20-1-20-3-20-3-20-4-20-3-19-4-20-2-20-2-20 0-20 1-20 3-20 4-20 6-19 8-20 9-20 11-20 13-20 13-20 14-20 14-20 14-19 14-20 13-20 12-20 11-20 9-20 8-20 6zM3469 2337l20-6 20-8 20-9 20-11 20-12 20-13 19-14 20-14 20-14 20-14 20-13 20-13 20-11 20-9 19-8 20-6 20-4 20-3 20-1 20 0 20 2 20 2 19 4 20 3 20 4 20 3 20 3 20 1 20 1 20-2 19-2 10-2-15-6-10 2-20 3-20 2-20 0-20 0-19-2-20-1-20-3-20-2-20-2-20-1-20 0-19 0-20 2-20 3-20 5-20 6-20 7-20 9-20 10-20 11-19 12-20 12-20 13-20 13-20 12-20 12-20 11-20 10-19 9-20 7-20 6zM3454 2331l20-6 20-7 19-9 20-10 20-11 20-12 20-12 20-13 20-13 20-12 19-12 20-11 20-10 20-9 20-7 20-6 20-5 20-3 20-2 19 0 20 0 20 1 20 2 20 2 20 3 20 1 19 2 20 0 20 0 20-2 20-3 10-2-15-7-10 3-20 3-20 2-20 1-20 0-20 0-20-1-20-1-19-2-20-1-20 0-20 0-20 1-20 2-20 3-20 5-19 6-20 7-20 9-20 9-20 10-20 12-20 11-20 12-19 12-20 11-20 12-20 10-20 9-20 9-20 7-20 6zM3438 2325l20-6 20-7 20-9 20-9 20-10 20-12 20-11 19-12 20-12 20-11 20-12 20-10 20-9 20-9 20-7 19-6 20-5 20-3 20-2 20-1 20 0 20 0 20 1 19 2 20 1 20 1 20 0 20 0 20-1 20-2 20-3 10-3-16-6-10 2-20 3-20 3-19 1-20 0-20 0-20-1-20-1-20-1-20-1-20 0-20 1-19 1-20 2-20 4-20 4-20 6-20 7-20 9-19 9-20 10-20 11-20 11-20 12-20 11-20 12-20 10-20 11-19 9-20 8-20 7-20 6zM3423 2318l20-6 20-7 20-8 19-9 20-11 20-10 20-12 20-11 20-12 20-11 20-11 20-10 19-9 20-9 20-7 20-6 20-4 20-4 20-2 19-1 20-1 20 0 20 1 20 1 20 1 20 1 20 0 20 0 19-1 20-3 20-3 10-2-15-8-10 3-20 3-20 2-20 1-20 0-20 0-20-1-19-2-20-1-20-1-20 0-20 0-20 1-20 2-20 3-19 5-20 6-20 7-20 9-20 9-20 10-20 11-20 12-19 12-20 12-20 11-20 12-20 10-20 9-20 9-20 7-19 6zM3408 2311l19-6 20-7 20-9 20-9 20-10 20-12 20-11 20-12 19-12 20-12 20-11 20-10 20-9 20-9 20-7 20-6 19-5 20-3 20-2 20-1 20 0 20 0 20 1 20 1 19 2 20 1 20 0 20 0 20-1 20-2 20-3 10-3-16-7-10 2-20 3-19 2-20 0-20 0-20-2-20-2-20-2-20-2-20-2-19-1-20-1-20 1-20 2-20 3-20 4-20 6-20 8-19 9-20 10-20 11-20 12-20 12-20 13-20 13-20 12-19 12-20 11-20 10-20 9-20 7-20 6zM3392 2303l20-6 20-7 20-9 20-10 20-11 19-12 20-12 20-13 20-13 20-12 20-12 20-11 20-10 19-9 20-8 20-6 20-4 20-3 20-2 20-1 20 1 19 1 20 2 20 2 20 2 20 2 20 2 20 0 20 0 19-2 20-3 10-2-15-8-10 2-20 2-20 1-20 0-20-2-20-2-19-3-20-4-20-4-20-3-20-2-20-2-20 0-20 1-19 2-20 5-20 6-20 8-20 9-20 11-20 12-20 14-19 13-20 14-20 15-20 13-20 14-20 12-20 11-20 9-19 8-20 6zM3377 2295l20-6 19-8 20-9 20-11 20-12 20-14 20-13 20-15 20-14 19-13 20-14 20-12 20-11 20-9 20-8 20-6 20-5 19-2 20-1 20 0 20 2 20 2 20 3 20 4 20 4 19 3 20 2 20 2 20 0 20-1 20-2 10-2-16-9-10 2-19 2-20 0-20-1-20-3-20-5-20-5-20-5-20-6-20-5-19-4-20-3-20-2-20 0-20 3-20 4-20 6-19 9-20 10-20 12-20 14-20 15-20 15-20 16-20 16-20 16-19 15-20 13-20 13-20 10-20 8-20 7zM3361 2287l20-7 20-8 20-10 20-13 20-13 19-15 20-16 20-16 20-16 20-15 20-15 20-14 20-12 20-10 19-9 20-6 20-4 20-3 20 0 20 2 20 3 19 4 20 5 20 6 20 5 20 5 20 5 20 3 20 1 20 0 19-2 10-2-15-9-10 2-20 1-20-1-20-3-20-5-19-6-20-7-20-8-20-8-20-7-20-6-20-5-20-3-19-1-20 1-20 4-20 7-20 9-20 11-20 14-20 15-19 17-20 18-20 19-20 18-20 18-20 17-20 15-20 14-19 11-20 9-20 7zM3346 2278l20-7 20-9 19-11 20-14 20-15 20-17 20-18 20-18 20-19 20-18 19-17 20-15 20-14 20-11 20-9 20-7 20-4 20-1 19 1 20 3 20 5 20 6 20 7 20 8 20 8 20 7 19 6 20 5 20 3 20 1 20-1 10-2-16-9-9 2-20 0-20-2-20-5-20-7-20-8-20-10-20-11-19-10-20-10-20-8-20-7-20-5-20-2-20 0-20 4-20 7-19 10-20 13-20 15-20 17-20 20-20 20-20 21-19 21-20 20-20 20-20 17-20 15-20 13-20 10-20 7zM3330 2269l20-7 20-10 20-13 20-15 20-17 20-20 20-20 19-21 20-21 20-20 20-20 20-17 20-15 20-13 19-10 20-7 20-4 20 0 20 2 20 5 20 7 20 8 20 10 19 10 20 11 20 10 20 8 20 7 20 5 20 2 20 0 9-2-15-9-10 1-20 0-20-4-20-6-19-9-20-12-20-12-20-13-20-14-20-12-20-12-20-9-19-6-20-4-20 0-20 3-20 8-20 10-20 14-20 18-19 19-20 22-20 23-20 24-20 24-20 23-20 22-20 20-19 17-20 14-20 11-20 7zM3315 2260l20-7 20-11 20-14 19-17 20-20 20-22 20-23 20-24 20-24 20-23 20-22 19-19 20-18 20-14 20-10 20-8 20-3 20 0 20 4 19 6 20 9 20 12 20 12 20 14 20 13 20 12 20 12 19 9 20 6 20 4 20 0 10-1-15-10-10 2-20-2-20-4-20-9-20-11-20-14-20-16-19-16-20-16-20-16-20-14-20-11-20-9-20-5-20-1-19 4-20 7-20 12-20 15-20 19-20 22-20 25-20 26-20 26-19 27-20 26-20 25-20 22-20 19-20 15-20 12-19 7zM3300 2250l19-7 20-12 20-15 20-19 20-22 20-25 20-26 19-27 20-26 20-26 20-25 20-22 20-19 20-15 20-12 20-7 19-4 20 1 20 5 20 9 20 11 20 14 20 16 20 16 19 16 20 16 20 14 20 11 20 9 20 4 20 2 10-2-16-9-10 1-20-2-20-6-19-11-20-14-20-16-20-18-20-20-20-19-20-18-20-17-19-14-20-10-20-6-20-2-20 3-20 7-20 13-20 17-19 21-20 24-20 27-20 29-20 30-20 30-20 29-20 27-19 24-20 21-20 17-20 12-20 8zM3284 2241l20-8 20-12 20-17 20-21 19-24 20-27 20-29 20-30 20-30 20-29 20-27 20-24 19-21 20-17 20-13 20-7 20-3 20 2 20 6 20 10 19 14 20 17 20 18 20 19 20 20 20 18 20 16 20 14 19 11 20 6 20 2 10-1-15-9-10 0-20-2-20-8-20-12-20-16-20-19-19-21-20-23-20-22-20-21-20-19-20-16-20-12-20-8-19-3-20 3-20 8-20 13-20 19-20 22-20 27-20 30-19 31-20 33-20 33-20 31-20 30-20 27-20 22-20 19-20 13-19 8zM3269 2232l19-8 20-13 20-19 20-22 20-27 20-30 20-31 20-33 20-33 19-31 20-30 20-27 20-22 20-19 20-13 20-8 20-3 19 3 20 8 20 12 20 16 20 19 20 21 20 22 20 23 19 21 20 19 20 16 20 12 20 8 20 2 10 0-16-9-10 0-20-3-19-9-20-14-20-18-20-22-20-23-20-25-20-25-20-24-19-21-20-18-20-14-20-9-20-3-20 2-20 8-20 14-19 20-20 24-20 29-20 32-20 34-20 35-20 36-20 34-19 32-20 29-20 24-20 20-20 14-20 8zM3253 2223l20-8 20-14 20-20 20-24 20-29 19-32 20-34 20-36 20-35 20-34 20-32 20-29 20-24 19-20 20-14 20-8 20-2 20 3 20 9 20 14 20 18 19 21 20 24 20 25 20 25 20 23 20 22 20 18 20 14 19 9 20 3 10 0-15-9-10 0-20-4-20-10-20-15-20-20-19-24-20-26-20-27-20-27-20-26-20-23-20-20-20-16-19-10-20-4-20 2-20 9-20 15-20 20-20 26-20 31-19 34-20 36-20 38-20 37-20 37-20 34-20 30-20 26-19 21-20 15-20 8zM3238 2214l20-8 20-15 19-21 20-26 20-30 20-34 20-37 20-37 20-38 20-36 19-34 20-31 20-26 20-20 20-15 20-9 20-2 20 4 19 10 20 16 20 20 20 23 20 26 20 27 20 27 20 26 19 24 20 20 20 15 20 10 20 4 10 0-16-9-10 0-19-4-20-11-20-17-20-21-20-25-20-28-20-29-20-29-19-28-20-25-20-21-20-17-20-11-20-5-20 2-20 9-19 15-20 22-20 27-20 32-20 36-20 38-20 39-20 40-19 38-20 36-20 32-20 27-20 22-20 15-20 9zM3222 2206l20-9 20-15 20-22 20-27 20-32 20-36 19-38 20-40 20-39 20-38 20-36 20-32 20-27 20-22 19-15 20-9 20-2 20 5 20 11 20 17 20 21 20 25 19 28 20 29 20 29 20 28 20 25 20 21 20 17 20 11 19 4 10 0-15-8-10 0-20-5-20-12-20-17-19-23-20-26-20-29-20-30-20-31-20-29-20-26-20-23-19-17-20-12-20-5-20 2-20 9-20 15-20 22-20 29-19 33-20 36-20 40-20 41-20 41-20 40-20 37-20 33-20 28-19 22-20 16-20 8zM3207 2197l20-8 20-16 19-22 20-28 20-33 20-37 20-40 20-41 20-41 20-40 20-36 19-33 20-29 20-22 20-15 20-9 20-2 20 5 20 12 19 17 20 23 20 26 20 29 20 31 20 30 20 29 20 26 19 23 20 17 20 12 20 5 10 0-15-7-10-1-20-5-20-12-20-18-20-23-20-27-20-30-20-32-19-31-20-30-20-27-20-23-20-18-20-12-20-6-20 2-19 9-20 16-20 23-20 28-20 34-20 38-20 40-20 42-19 42-20 40-20 38-20 34-20 28-20 23-20 16-20 9zM3191 2190l20-9 20-16 20-23 20-28 20-34 20-38 20-40 19-42 20-42 20-40 20-38 20-34 20-28 20-23 20-16 19-9 20-2 20 6 20 12 20 18 20 23 20 27 20 30 19 31 20 32 20 30 20 27 20 23 20 18 20 12 20 5 10 1-8-4-10 0-20-6-20-12-20-18-20-23-20-28-19-30-20-31-20-32-20-30-20-27-20-24-20-18-20-12-19-5-20 1-20 9-20 16-20 23-20 29-20 33-20 38-19 41-20 42-20 42-20 41-20 38-20 34-20 28-20 23-19 16-20 9z"/><g class="ml" stroke="url(#a6)"><path transform="translate(3670 2432)" d="M0 -24l20-9 20-16 20-23 19-29 20-34 20-38 20-41 20-42 20-42 20-41 20-38 20-34 19-28 20-23 20-16 20-9 20-2 20 6 20 12 20 18 19 24 20 27 20 30 20 32 20 31 20 30 20 28 20 23 19 18 20 13 20 5 10 0"/><path transform="translate(3662.3 2428.5)" d="M0 -24l20-9 20-16 20-23 19-29 20-34 20-38 20-40 20-42 20-42 20-41 20-38 20-34 19-29 20-22 20-16 20-9 20-2 20 5 20 13 20 18 19 23 20 27 20 31 20 31 20 32 20 30 20 27 20 23 19 19 20 12 20 5 10 0"/><path transform="translate(3654.6 2425)" d="M0 -24l20-9 20-16 20-23 19-28 20-34 20-38 20-40 20-42 20-42 20-40 20-38 20-34 19-28 20-23 20-16 20-9 20-2 20 6 20 12 20 18 19 23 20 27 20 30 20 31 20 32 20 30 20 27 20 23 19 18 20 12 20 5 10 0"/><path transform="translate(3646.8 2421.5)" d="M0 -24l20-9 20-16 20-22 19-28 20-34 20-37 20-40 20-42 20-41 20-41 20-37 20-33 19-29 20-22 20-16 20-9 20-2 20 6 20 12 20 17 19 23 20 27 20 30 20 31 20 31 20 29 20 27 20 23 19 18 20 11 20 6 10 0"/><path transform="translate(3639.1 2417.9)" d="M0 -24l20-8 20-16 20-22 19-28 20-33 20-37 20-40 20-41 20-41 20-40 20-37 20-33 19-28 20-22 20-15 20-9 20-2 20 5 20 12 20 17 19 23 20 26 20 29 20 31 20 30 20 29 20 26 20 23 19 17 20 12 20 5 10 0"/><path transform="translate(3631.4 2414.4)" d="M0 -23l20-9 20-15 20-22 19-28 20-32 20-37 20-39 20-40 20-41 20-39 20-36 20-32 19-28 20-22 20-15 20-9 20-2 20 5 20 11 20 17 19 22 20 26 20 29 20 29 20 30 20 29 20 25 20 22 19 17 20 12 20 5 10 0"/><path transform="translate(3623.7 2410.9)" d="M0 -23l20-8 20-15 20-22 19-27 20-32 20-36 20-38 20-40 20-39 20-38 20-36 20-32 19-27 20-22 20-15 20-9 20-2 20 5 20 11 20 17 19 21 20 25 20 28 20 29 20 29 20 28 20 25 20 21 19 17 20 11 20 4 10 0"/><path transform="translate(3616 2407.4)" d="M0 -22l20-8 20-15 20-22 19-26 20-31 20-35 20-38 20-38 20-39 20-37 20-35 20-32 19-26 20-21 20-15 20-9 20-2 20 5 20 10 20 16 19 21 20 24 20 27 20 28 20 28 20 27 20 24 20 21 19 16 20 11 20 4 10 0"/><path transform="translate(3608.2 2403.9)" d="M0 -21l20-9 20-14 20-21 19-26 20-30 20-34 20-37 20-37 20-38 20-37 20-34 20-30 19-26 20-21 20-14 20-9 20-2 20 4 20 10 20 16 19 20 20 23 20 26 20 27 20 27 20 26 20 23 20 20 19 16 20 10 20 4 10 0"/><path transform="translate(3600.5 2400.4)" d="M0 -20l20-9 20-14 20-20 19-25 20-30 20-33 20-35 20-37 20-36 20-36 20-33 20-29 19-26 20-20 20-14M338 -428l20 4 20 10 20 14 19 19 20 23 20 25 20 26 20 26 20 24 20 23 20 19 19 15 20 9 20 4 10 0"/><path transform="translate(3592.8 2396.8)" d="M0 -19l20-9 20-14 20-19 19-25 20-28 20-32 20-34 20-36 20-35 20-34 20-32 20-29 19-24 20-20 20-14M338 -415l20 4 20 9 20 14 19 18 20 21 20 24 20 25 20 25 20 23 20 22 20 18 19 14 20 8 20 4 10 0"/><path transform="translate(3585.1 2393.3)" d="M0 -18l20-8 20-14 20-19 19-24 20-27 20-31 20-33 20-34 20-34 20-33 20-31 20-28 19-23 20-19M338 -401l20 4 20 8 20 13 19 17 20 20 20 23 20 23 20 24 20 22 20 20 20 18 19 13 20 8 20 3 10 0"/><path transform="translate(3577.4 2389.8)" d="M0 -17l20-8 20-14 20-18 19-23 20-26 20-30 20-32 20-32 20-33 20-32 20-29 20-27 19-23 20-18M338 -386l20 3 20 8 20 12 19 16 20 19 20 21 20 22 20 22 20 22 20 19 20 16 19 12 20 8 20 2 10 0"/><path transform="translate(3569.7 2386.3)" d="M0 -16l20-8 20-13 20-18 19-21 20-26 20-28 20-31 20-31 20-31 20-31 20-28 20-25 19-22 20-18M338 -370l20 2 20 7 20 11 19 15 20 18 20 20 20 21 20 20 20 20 20 18 20 15 19 11 20 7 20 2 10 0"/><path transform="translate(3561.9 2382.8)" d="M0 -15l20-8 20-12 20-17 19-21 20-25 20-27 20-28 20-30 20-30 20-29 20-27 20-25 19-20M338 -354l20 1 20 7 20 10 19 14 20 17 20 18 20 19 20 19 20 19 20 16 20 14 19 10 20 7 20 2 10-1"/><path transform="translate(3554.2 2379.3)" d="M0 -14l20-8 20-12 20-16 19-20 20-23 20-26 20-27 20-29 20-28 20-27 20-26 20-23 19-20M338 -338l20 1 20 6 20 9 19 13 20 15 20 17 20 18 20 18 20 17 20 15 20 12 19 10 20 6 20 1 10-1"/><path transform="translate(3546.5 2375.8)" d="M0 -13l20-7 20-12 20-15 20-19 19-22 20-25 20-26 20-27 20-27 20-26 20-24 20-22 19-19M338 -322l20 1 20 5 20 9 19 11 20 14 20 15 20 17 20 16 20 15 20 14 20 12 19 8 20 5 20 1 10-1"/><path transform="translate(3538.8 2372.2)" d="M0 -12l20-7 20-11 20-15 19-18 20-21 20-23 20-25 20-25 20-25 20-25 20-23 20-21M338 -305l20 0 20 4 20 8 19 10 20 13 20 14 20 15 20 14 20 14 20 13 20 10 19 8 20 4 20 1 10-2"/><path transform="translate(3531.1 2368.7)" d="M0 -11l20-7 20-10 20-15 19-17 20-19 20-22 20-23 20-24 20-24 20-23 20-22 20-20M338 -289l20 0 20 3 20 7 19 9 20 11 20 13 20 13 20 14 20 12 20 11 20 10 19 6 20 4 20 0 10-1"/><path transform="translate(3523.3 2365.2)" d="M0 -10l20-7 20-10 20-13 19-16 20-19 20-20 20-22 20-23 20-22 20-22 20-20 20-19M338 -273l20-1 20 3 20 6 19 8 20 10 20 11 20 12 20 12 20 11 20 10 20 8 19 5 20 3 20 0 10-1"/><path transform="translate(3515.6 2361.7)" d="M0 -8l20-7 20-10 20-13 19-15 20-18 20-19 20-20 20-21 20-21 20-21 20-19 20-17M358 -259l20 3 20 4 19 7 20 9 20 10 20 10 20 11 20 9 20 9 20 7 19 5 20 2 20-1"/><path transform="translate(3507.9 2358.2)" d="M0 -7l20-7 20-10 20-12 20-14 19-17 20-18 20-19 20-19 20-20 20-19 20-18 20-17M358 -244l20 1 20 4 19 6 20 8 20 8 20 9 20 9 20 9 20 7 20 6 19 4 20 2 20-2"/><path transform="translate(3500.2 2354.7)" d="M0 -6l20-7 20-9 20-12 19-13 20-16 20-17 20-17 20-19 20-18 20-18 20-17 20-15M358 -231l20 1 20 3 19 5 20 7 20 7 20 8 20 8 20 7 20 6 20 5 19 3 20 1 20-1"/><path transform="translate(3492.5 2351.1)" d="M0 -6l20-6 20-9 20-11 19-13 20-14 20-16 20-17 20-17 20-17 20-17 20-15 20-15M358 -218l20 1 20 2 19 4 20 5 20 6 20 7 20 6 20 7 20 5 20 4 19 2 20 0 20-1"/><path transform="translate(3484.8 2347.6)" d="M0 -5l20-6 20-8 20-11 19-12 20-14 20-14 20-16 20-16 20-16 20-16 20-15 20-13M358 -206l20 0 20 1 19 4 20 4 20 5 20 5 20 6 20 5 20 4 20 3 19 2 20 0"/><path transform="translate(3477 2344.1)" d="M0 -4l20-6 20-8 20-10 19-12 20-13 20-14 20-14 20-15 20-15 20-15 20-14 20-13M358 -195l20-1 20 1 19 2 20 4 20 4 20 4 20 5 20 4 20 3 20 3 19 0 20 0"/><path transform="translate(3469.3 2340.6)" d="M0 -3l20-6 20-8 20-10 19-11 20-12 20-13 20-14 20-14 20-14 20-14 20-13 20-12 19-11M378 -187l20 1 19 1 20 3 20 3 20 4 20 3 20 3 20 3 20 2 19 0 20-1"/><path transform="translate(3461.6 2337.1)" d="M0 -3l20-6 20-7 20-10 19-10 20-12 20-12 20-13 20-13 20-14 20-13 20-12 20-12 19-10M378 -179l20 0 19 1 20 2 20 2 20 3 20 3 20 2 20 2 20 1 19 0"/><path transform="translate(3453.9 2333.6)" d="M0 -2l20-6 20-8 20-8 19-11 20-11 20-11 20-13 20-13 20-12 20-13 20-12 20-11 19-10M378 -172l20-1 19 1 20 1 20 2 20 2 20 2 20 2 20 1 20 1 19-1"/><path transform="translate(3446.2 2330)" d="M0 -2l20-6 20-7 20-9 19-9 20-11 20-11 20-12 20-13 20-12 20-12 20-11 20-11 19-10 20-8M398 -168l19 0 20 1 20 1 20 2 20 2 20 1 20 1 20 0 19-1"/><path transform="translate(3438.4 2326.5)" d="M0 -2l20-5 20-8 20-8 19-10 20-10 20-11 20-12 20-12 20-11 20-12 20-11 20-10 19-10 20-8 20-8M398 -165l19 0 20 1 20 1 20 1 20 1 20 1 20 1 20 0"/><path transform="translate(3430.7 2323)" d="M0 -1l20-6 20-7 20-9 19-9 20-10 20-11 20-12 20-11 20-12 20-11 20-11 20-10 19-10 20-8 20-7M398 -163l19 0 20 0 20 1 20 1 20 1 20 1 20 1"/><path transform="translate(3423 2319.5)" d="M0 -1l20-6 20-7 20-9 19-9 20-10 20-11 20-11 20-12 20-11 20-12 20-11 20-10 19-9 20-8 20-7 20-6M417 -162l20 0 20 1 20 1 20 1 20 0 20 1"/><path transform="translate(3415.3 2316)" d="M0 -1l20-6 20-7 20-9 19-9 20-10 20-11 20-12 20-11 20-12 20-11 20-11 20-10 19-10 20-8 20-7 20-6 20-5M417 -163l20 0 20 1 20 1 20 1"/><path transform="translate(3407.6 2312.5)" d="M0 -2l20-5 20-8 20-8 19-10 20-10 20-11 20-12 20-12 20-11 20-12 20-11 20-10 19-10 20-8 20-8 20-5 20-5"/><path transform="translate(3399.8 2309)" d="M0 -2l20-6 20-7 20-9 19-9 20-11 20-11 20-12 20-13 20-12 20-12 20-11 20-11 19-10 20-8 20-8 20-5 20-5 20-3"/><path transform="translate(3392.1 2305.4)" d="M0 -2l20-6 20-8 20-8 19-11 20-11 20-11 20-13 20-13 20-12 20-13 20-12 20-11 19-10 20-9 20-7 20-6 20-5 20-3 20-1"/><path transform="translate(3384.4 2301.9)" d="M0 -3l20-6 20-7 20-10 19-10 20-12 20-12 20-13 20-13 20-14 20-13 20-12 20-12 19-10 20-9 20-8 20-6 20-5 20-3 20-1 20 0"/><path transform="translate(3376.7 2298.4)" d="M0 -3l20-6 20-8 20-10 19-11 20-12 20-13 20-14 20-14 20-14 20-14 20-13 20-12 19-11 20-10 20-7 20-7 20-4 20-3 20-1 20 1 19 1"/><path transform="translate(3369 2294.9)" d="M0 -4l20-6 20-8 20-10 19-12 20-13 20-14 20-14 20-15 20-15 20-15 20-14 20-13 19-11 20-10 20-8 20-6 20-5 20-2 20-1 20 1 19 2"/><path transform="translate(3361.2 2291.4)" d="M0 -5l20-6 20-8 20-11 19-12 20-14 20-14 20-16 20-16 20-16 20-16 20-15 20-13 19-12 20-11 20-8 20-7 20-4 20-2 20 0 20 1 19 4 20 4"/><path transform="translate(3353.5 2287.9)" d="M0 -6l20-6 20-9 20-11 19-13 20-14 20-16 20-17 20-17 20-17 20-17 20-15 20-15 19-13 20-11 20-8 20-7 20-4 20-2 20 1 20 2 19 4 20 5 20 6"/><path transform="translate(3345.8 2284.3)" d="M0 -6l20-7 20-9 20-12 19-13 20-16 20-17 20-17 20-19 20-18 20-18 20-17 20-15 19-14 20-11 20-10 20-6 20-4 20-2 20 1 20 3 19 5 20 7 20 7"/><path transform="translate(3338.1 2280.8)" d="M0 -7l20-7 20-10 20-12 19-14 20-17 20-18 20-19 20-19 20-20 20-19 20-18 20-17 19-14 20-12 20-10 20-6 20-4 20-1 20 1 20 4 19 6 20 8 20 8 20 9"/><path transform="translate(3330.4 2277.3)" d="M0 -8l20-7 20-10 20-13 19-15 20-18 20-19 20-20 20-21 20-21 20-21 20-19 20-17 19-16 20-13 20-9 20-7 20-4 20-1 20 3 20 4 19 7 20 9 20 10 20 10 20 11"/><path transform="translate(3322.7 2273.8)" d="M0 -10l20-7 20-10 20-13 19-16 20-19 20-20 20-22 20-23 20-22 20-22 20-20 20-19 19-16 20-14 20-10 20-7 20-3 20-1 20 3 20 6 19 8 20 10 20 11 20 12 20 12"/><path transform="translate(3314.9 2270.3)" d="M0 -11l20-7 20-10 20-15 19-17 20-19 20-22 20-23 20-24 20-24 20-23 20-22 20-20 19-17 20-14 20-11 20-7 20-3 20 0 20 3 20 7 19 9 20 11 20 13 20 13 20 14 20 12"/><path transform="translate(3307.2 2266.8)" d="M0 -12l20-7 20-11 20-15 19-18 20-21 20-23 20-25 20-25 20-25 20-25 20-23 20-21 19-18 20-15 20-11 20-7 20-3 20 0 20 4 20 8 19 10 20 13 20 14 20 15 20 14 20 14"/><path transform="translate(3299.5 2263.2)" d="M0 -13l20-7 20-12 20-15 19-19 20-22 20-25 20-26 20-27 20-27 20-26 20-24 20-22 19-19 20-16 20-11 20-8 20-3 20 1 20 5 20 9 19 11 20 14 20 15 20 17 20 16 20 15 20 14"/><path transform="translate(3291.8 2259.7)" d="M0 -14l20-8 20-12 20-16 19-20 20-23 20-26 20-27 20-29 20-28 20-27 20-26 20-23 19-20 20-17 20-12 20-7 20-3 20 1 20 6 20 9 19 13 20 15 20 17 20 18 20 18 20 17 20 15"/><path transform="translate(3284.1 2256.2)" d="M0 -15l20-8 20-12 20-17 19-21 20-25 20-27 20-28 20-30 20-30 20-29 20-27 20-25 19-20 20-17 20-13 20-8 20-2 20 1 20 7 20 10 19 14 20 17 20 18 20 19 20 19 20 19 20 16 20 14"/><path transform="translate(3276.3 2252.7)" d="M0 -16l20-8 20-13 20-18 19-21 20-26 20-28 20-31 20-31 20-31 20-31 20-28 20-25 19-22 20-18 20-13 20-8 20-2 20 2 20 7 20 11 19 15 20 18 20 20 20 21 20 20 20 20 20 18 20 15"/><path transform="translate(3268.6 2249.2)" d="M0 -17l20-8 20-14 20-18 19-23 20-26 20-30 20-32 20-32 20-33 20-32 20-29 20-27 19-23 20-18 20-13 20-8 20-3 20 3 20 8 20 12 19 16 20 19 20 21 20 22 20 22 20 22 20 19 20 16"/><path transform="translate(3260.9 2245.7)" d="M0 -18l20-8 20-14 20-19 19-24 20-27 20-31 20-33 20-34 20-34 20-33 20-31 20-28 19-23 20-19 20-14 20-8 20-3 20 4 20 8 20 13 19 17 20 20 20 23 20 23 20 24 20 22 20 20 19 18 20 13"/><path transform="translate(3253.2 2242.2)" d="M0 -19l20-9 20-14 20-19 19-25 20-28 20-32 20-34 20-36 20-35 20-34 20-32 20-29 19-24 20-20 20-14 20-8 20-3 20 4 20 9 20 14 19 18 20 21 20 24 20 25 20 25 20 23 20 22 20 18 19 14"/><path transform="translate(3245.5 2238.6)" d="M0 -20l20-9 20-14 20-20 19-25 20-30 20-33 20-35 20-37 20-36 20-36 20-33 20-29 19-26 20-20 20-14 20-9 20-2 20 4 20 10 20 14 19 19 20 23 20 25 20 26 20 26 20 24 20 23 20 19 19 15 20 9"/><path transform="translate(3237.8 2235.1)" d="M0 -21l20-9 20-14 20-21 19-26 20-30 20-34 20-37 20-37 20-38 20-37 20-34 20-30 19-26 20-21 20-14 20-9 20-2 20 4 20 10 20 16 19 20 20 23 20 26 20 27 20 27 20 26 20 23 20 20 19 16 20 10"/><path transform="translate(3230 2231.6)" d="M0 -22l20-8 20-15 20-22 19-26 20-31 20-35 20-38 20-38 20-39 20-37 20-35 20-32 19-26 20-21 20-15 20-9 20-2 20 5 20 10 20 16 19 21 20 24 20 27 20 28 20 28 20 27 20 24 20 21 19 16 20 11 20 4"/><path transform="translate(3222.3 2228.1)" d="M0 -23l20-8 20-15 20-22 19-27 20-32 20-36 20-38 20-40 20-39 20-38 20-36 20-32 19-27 20-22 20-15 20-9 20-2 20 5 20 11 20 17 19 21 20 25 20 28 20 29 20 29 20 28 20 25 19 21 20 17 20 11 20 4 10 0"/><path transform="translate(3214.6 2224.6)" d="M0 -23l20-9 20-15 20-22 19-28 20-32 20-37 20-39 20-40 20-41 20-39 20-36 20-32 19-28 20-22 20-15 20-9 20-2 20 5 20 11 20 17 19 22 20 26 20 29 20 29 20 30M576 -207l20 12 20 5 10 0"/><path transform="translate(3206.9 2221.1)" d="M0 -24l20-8 20-16 20-22 19-28 20-33 20-37 20-40 20-41 20-41 20-40 20-37 20-33 19-28 20-22 20-15 20-9 20-2 20 5 20 12 20 17 19 23 20 26 20 29 20 31M576 -208l20 12 20 5 10 0"/><path transform="translate(3199.2 2217.5)" d="M0 -24l20-9 20-16 20-22 19-28 20-34 20-37 20-40 20-42 20-41 20-41 20-37 20-33 19-29 20-22 20-16 20-9 20-2 20 6 20 12 20 17 19 23 20 27 20 30M596 -197l20 6 10 0"/><path transform="translate(3191.4 2214)" d="M0 -24l20-9 20-16 20-23 19-28 20-34 20-38 20-40 20-42 20-42 20-40 20-38 20-34 19-28 20-23 20-16 20-9 20-2 20 6 20 12 20 18 19 23 20 27M596 -197l20 5 10 0"/><path transform="translate(3183.7 2210.5)" d="M0 -24l20-9 20-16 20-23 19-29 20-34 20-38 20-40 20-42 20-42 20-41 20-38 20-34 19-29 20-22 20-16 20-9 20-2 20 5 20 13 20 18 19 23M596 -197l20 5 10 0"/></g><g class="ml" stroke="url(#b6)"><path transform="translate(3670 2432)" d="M0 -24l-15-7-16-7-15-6-16-5-15-5-16-6-15-4-16-5-15-5-15-5-16-5-15-5-16-6-15-6-16-6-15-7-15-7-16-8-15-8-16-8-15-9-16-9-15-9-15-10-16-9-15-9-16-9-15-9-16-8-15-9-16-7-7-4"/><path transform="translate(3679.9 2429.4)" d="M0 -25l-15-7-16-7-15-5-16-6-15-5-16-5-15-5-16-5-15-4-15-5-16-5-15-5-16-6-15-6-16-6-15-7-15-7-16-8-15-8-16-9-15-8-16-10-15-9-15-9-16-10-15-9-16-9-15-9-16-8-15-8-16-8-7-4"/><path transform="translate(3689.9 2426.7)" d="M0 -28l-15-7-16-6-15-6-16-5-15-5-16-5-15-5-15-4-16-5-15-4-16-5-15-5-16-6-15-5-16-7-15-6-15-8-16-7-15-9-16-8-15-9-16-10-15-9-16-10-15-9-15-10-16-9-15-9-16-9-15-8-16-8-7-4"/><path transform="translate(3699.8 2424.1)" d="M0 -33l-15-6-16-7-15-5-16-5-15-5-16-5-15-4-15-4-16-4-15-4-16-5-15-4-16-6-15-5-16-6-15-7-15-8-16-7-15-9-16-9-15-9-16-10-15-9-16-10-15-10-15-10-16-10-15-9-16-9-15-8-16-8-7-4"/><path transform="translate(3709.8 2421.4)" d="M0 -39l-15-7-16-6-15-5-16-5-15-4-16-4-15-4-16-4-15-3-15-4-16-4-15-4-16-5-15-6-16-6-15-6-15-8-16-8-15-8-16-10-15-9-16-10-15-11-15-10-16-11-15-10-16-10-15-10-16-9-15-8-16-9-7-3"/><path transform="translate(3719.7 2418.8)" d="M0 -47l-15-6-16-6-15-5-16-5-15-4-16-3-15-3-16-3-15-3-15-3-16-4-15-4-16-4-15-5-16-6-15-7-15-7-16-8-15-9-16-10-15-10-16-11-15-11-15-11-16-11-15-11-16-10-15-11-16-9-15-9-16-8-7-4"/><path transform="translate(3729.6 2416.2)" d="M0 -56l-15-7-16-6-15-4-16-4-15-3-16-3-15-3-16-2-15-2-15-2-16-3-15-3-16-4-15-5-16-6-15-6-15-8-16-8-15-10-16-10-15-10-16-12-15-11-15-12-16-12-15-12-16-11-15-11-16-10-15-9-16-9-7-4"/><path transform="translate(3739.6 2413.5)" d="M0 -67l-15-7-16-5-15-5-16-3-15-2-16-2-15-2-15-1-16-2-15-1-16-2-15-3-16-3-15-4-16-6-15-6-15-8-16-8-15-10-16-11-15-11-16-12-15-13-16-13-15-13-15-12-16-12-15-12-16-10-15-10-16-9-7-4"/><path transform="translate(3749.5 2410.9)" d="M0 -80l-15-6-16-5-15-4-16-3-15-2-16-1-15 0-15-1-16 0-15 0-16-1-15-2-16-3-15-4-16-5-15-6-15-8-16-9-15-10-16-11-15-13-16-13-15-13-16-14-15-14-15-13-16-13-15-13-16-11-15-10-16-9-7-4"/><path transform="translate(3759.4 2408.2)" d="M0 -94l-15-6-16-5-15-3-16-2-15-1-16 0-15 1-16 0-15 1-15 1-16 0-15-1-16-2-15-4-16-4-15-7-15-7-16-10-15-10-16-13-15-13-16-14-15-14-15-15-16-15-15-15-16-14-15-13-16-12-15-10-16-10-7-4"/><path transform="translate(3769.4 2405.6)" d="M0 -109l-15-6-16-4-15-3-16-1-15 0-16 1-15 2-16 2-15 2-15 1-16 1-15 0-16-1-15-3-16-4-15-6-15-8-16-10-15-11-16-13-15-14-16-15-15-16-15-16-16-16-15-16-16-15-15-14-16-13-15-11-16-10-7-4"/><path transform="translate(3779.3 2403)" d="M0 -124l-15-6-16-4-15-3-16 0-15 1-16 2-15 3-16 3-15 4-15 3-16 2-15 1-16-1-15-2-16-4-15-6-15-8-16-10-15-12-16-14-15-15-16-16-15-17-15-17-16-18-15-16-16-17-15-15-16-13-15-12-16-10-7-5"/><path transform="translate(3789.2 2400.3)" d="M0 -141l-15-6-16-4-15-1-16 0-15 2-16 4-15 4-15 5-16 4-15 4-16 4-15 2-16 0-15-1-16-4-15-6-15-8-16-10-15-13-16-14-15-17-16-17-15-18-16-19-15-19-15-18-16-17-15-17-16-14-15-13-16-10-7-4"/><path transform="translate(3799.2 2397.7)" d="M0 -159l-15-5-16-4-15 0-16 1-15 3-16 5-15 5-15 6-16 6-15 6-16 5-15 3-16 1-15-1-16-3-15-6-15-8-16-11-15-13-16-15-15-18-16-18-15-20-16-20-15-20-15-20-16-19-15-17-16-15-15-13-16-11-7-5"/><path transform="translate(3809.1 2395)" d="M0 -177l-15-5-16-3-15 0-16 2-15 4-16 6-15 7-16 8-15 7-15 7-16 6-15 5-16 2-15 0-16-3-15-6-15-8-16-11-15-14-16-17-15-18-16-20-15-21-15-22-16-21-15-21-16-20-15-19-16-16-15-14-16-11-7-5"/><path transform="translate(3819.1 2392.4)" d="M0 -195l-15-5-16-3-15 1-16 3-15 5-16 8-15 8-16 9-15 9-15 8-16 8-15 5-16 3-15 1-16-2-15-6-15-8-16-12-15-15-16-17-15-20-16-21-15-22-15-23-16-24-15-22-16-21-15-20-16-17-15-15-16-11-7-5"/><path transform="translate(3829 2389.8)" d="M0 -214l-15-5-16-2-15 2-16 4-15 6-16 9-15 10-16 10-15 11-15 10-16 8-15 7-16 4-15 1-16-2-15-5-15-9-16-12-15-15-16-19-15-20-16-23-15-24-15-24-16-25-15-24-16-22-15-21-16-18-15-16-16-12-7-5"/><path transform="translate(3838.9 2387.1)" d="M0 -232l-15-5-16-2-15 2-16 5-15 8-16 10-15 11-15 12-16 12-15 12-16 10-15 7-16 5-15 2-16-1-15-5-15-9-16-13-15-16-16-19-15-22-16-24-15-25-16-26-15-26-15-26-16-24-15-21-16-20-15-16-16-12-7-5"/><path transform="translate(3848.9 2384.5)" d="M0 -250l-15-5-16-1-15 2-16 6-15 9-16 11-15 13-15 14-16 13-15 13-16 11-15 9-16 6-15 3-16-1-15-5-15-9-16-13-15-17-16-20-15-23-16-26-15-26-16-28-15-27-15-27-16-25-15-23-16-21-15-16-16-13-7-5"/><path transform="translate(3858.8 2381.8)" d="M0 -268l-15-5-16-1-15 3-16 7-15 11-16 12-15 14-16 15-15 15-15 14-16 13-15 10-16 7-15 3-16-1-15-4-15-10-16-13-15-17-16-22-15-24-16-26-15-28-15-29-16-29-15-29-16-26-15-24-16-21-15-18-16-13-7-5"/><path transform="translate(3868.8 2379.2)" d="M0 -286l-15-5-16 0-15 4-16 8-15 11-16 14-15 15-16 17-15 16-15 16-16 13-15 12-16 8-15 4-16-1-15-4-15-10-16-14-15-18-16-22-15-25-16-28-15-29-15-31-16-30-15-30-16-27-15-26-16-22-15-18-16-14-7-5"/><path transform="translate(3878.7 2376.5)" d="M0 -303l-15-4-16 0-15 5-16 8-15 13-16 15-15 16-16 18-15 18-15 17-16 15-15 12-16 8-15 5-16 0-15-4-15-10-16-14-15-19-16-23-15-26-16-29-15-31-15-31-16-32-15-31-16-29-15-26-16-23-15-19-16-14-7-6"/><path transform="translate(3888.6 2373.9)" d="M0 -319l-15-4-16 1-15 5-16 9-15 14-16 16-15 18-15 19-16 19-15 18-16 16-15 13-16 10-15 5-16 1-15-5-15-10-16-14-15-20-16-23-15-27-16-31-15-32-16-33-15-33-15-32-16-30-15-27-16-24-15-19-16-15-7-5"/><path transform="translate(3898.6 2371.3)" d="M0 -333l-15-5-16 1-15 6-16 10-15 14-16 18-15 19-15 20-16 20-15 19-16 18-15 14-16 10-15 6-16 1-15-4-15-10-16-15-15-20-16-25-15-28-16-31-15-33-16-34-15-35-15-33-16-31-15-28-16-25-15-20-16-15-7-5"/><path transform="translate(3908.5 2368.6)" d="M0 -347l-15-4-16 1-15 6-16 11-15 15-16 18-15 21-16 21-15 21-15 21-16 18-15 15-16 11-15 6-16 1-15-4-15-10-16-15-15-20-16-26-15-29-16-32-15-34-15-36-16-35-15-34-16-32-15-30-16-25-15-20-16-15-7-6"/><path transform="translate(3918.4 2366)" d="M0 -360l-15-4-16 2-15 7-16 11-15 16-16 19-15 21-16 23-15 22M-185 -187l-16 12-15 7-16 1-15-4-15-10-16-15-15-21-16-26-15-30-16-33-15-35-15-37-16-36-15-36-16-33-15-29-16-26-15-21-16-16-7-5"/><path transform="translate(3928.4 2363.3)" d="M0 -371l-15-4-16 2-15 7-16 13-15 16-16 20-15 22-15 23M-201 -178l-15 7-16 2-15-4-15-10-16-16-15-21-16-26-15-31-16-34-15-36-16-37-15-38-15-36-16-34-15-30-16-27-15-21-16-16-7-5"/><path transform="translate(3938.3 2360.7)" d="M0 -380l-15-4-16 2-15 7-16 13-15 17-16 21-15 23M-216 -172l-16 2-15-4-15-11-16-16-15-21-16-27-15-31-16-35-15-37-16-38-15-38-15-37-16-34-15-32-16-26-15-22-16-16-7-6"/><path transform="translate(3948.2 2358.1)" d="M0 -388l-15-4-16 2-15 8-16 13-15 18-16 21M-232 -172l-15-4-15-10-16-16-15-22-16-27-15-32-16-35-15-38-16-39-15-38-15-38-16-35-15-32-16-27-15-22-16-16-7-6"/><path transform="translate(3958.2 2355.4)" d="M0 -394l-15-4-16 2-15 8-16 14-15 18M-232 -173l-15-4-15-10-16-16-15-23-16-27-15-32-16-36-15-38-15-39-16-39-15-38-16-36-15-32-16-28-15-22-16-16-7-6"/><path transform="translate(3968.1 2352.8)" d="M0 -399l-15-4-16 3-15 8-16 14-15 18M-232 -174l-15-4-15-10-16-16-15-23-16-28-15-32-16-36-15-38-15-40-16-39-15-39-16-36-15-32-16-28-15-22-16-17-7-6"/><path transform="translate(3978.1 2350.1)" d="M0 -402l-15-4-16 3-15 9-16 13M-247 -178l-15-10-16-17-15-22-16-28-15-33-16-36-15-39-16-39-15-40-15-39-16-36-15-32-16-28-15-23-16-16-7-6"/><path transform="translate(3988 2347.5)" d="M0 -403l-15-3-16 2-15 9-16 14M-247 -178l-15-11-16-16-15-23-16-28-15-32-16-36-15-39-16-40-15-40-15-38-16-37-15-32-16-28-15-23-16-16-7-6"/><path transform="translate(3997.9 2344.9)" d="M0 -402l-15-4-16 3-15 9M-262 -188l-16-17-15-22-16-28-15-33-16-36-15-39-16-39-15-40-15-39-16-36-15-32-16-28-15-23-16-16-7-6"/><path transform="translate(4007.9 2342.2)" d="M0 -399l-15-4-16 3-15 8-16 14-15 18-16 22-15 24-16 26-15 25M-262 -188l-16-16-15-23-16-28-15-32-16-36-15-38-15-40-16-39-15-39-16-36-15-32-16-28-15-22-16-17-7-6"/><path transform="translate(4017.8 2339.6)" d="M0 -394l-15-4-16 2-15 8-16 14-15 18-16 21-15 24-16 25-15 26-15 23-16 22M-262 -187l-16-16-15-23-16-27-15-32-16-36-15-38-15-39-16-39-15-38-16-36-15-32-16-28-15-22-16-16-7-6"/><path transform="translate(4027.8 2336.9)" d="M0 -388l-15-4-16 2-15 8-16 13-15 18-16 21-15 23-15 25-16 25-15 23-16 21-15 18M-278 -202l-15-22-16-27-15-32-16-35-15-38-16-39-15-38-15-38-16-35-15-32-16-27-15-22-16-16-7-6"/><path transform="translate(4037.7 2334.3)" d="M0 -380l-15-4-16 2-15 7-16 13-15 17-16 21-15 23-15 24-16 24-15 22-16 21-15 17-16 13M-278 -201l-15-21-16-27-15-31-16-35-15-37-16-38-15-38-15-37-16-34-15-32-16-26-15-22-16-16-7-6"/><path transform="translate(4047.6 2331.7)" d="M0 -371l-15-4-16 2-15 7-16 13-15 16-16 20-15 22-16 23-15 23-15 23-16 19-15 17-16 12-15 7M-278 -199l-15-21-16-26-15-31-16-34-15-36-15-37-16-38-15-36-16-34-15-30-16-27-15-21-16-16-7-5"/><path transform="translate(4057.6 2329)" d="M0 -360l-15-4-16 2-15 7-16 11-15 16-16 19-15 21-16 23-15 22-15 21-16 19-15 16-16 12-15 7-16 1M-278 -196l-15-21-16-26-15-30-16-33-15-35-15-37-16-36-15-36-16-33-15-29-16-26-15-21-16-16-7-5"/><path transform="translate(4067.5 2326.4)" d="M0 -347l-15-4-16 1-15 6-16 11-15 15-16 18-15 21-16 21-15 21-15 21-16 18-15 15-16 11-15 6-16 1M-293 -214l-16-26-15-29-16-32-15-34-15-36-16-35-15-34-16-32-15-30-16-25-15-20-16-15-7-6"/><path transform="translate(4077.4 2323.7)" d="M0 -333l-15-5-16 1-15 6-16 10-15 14-16 18-15 19-15 20-16 20-15 19-16 18-15 14-16 10-15 6-16 1-15-4M-293 -211l-16-25-15-28-16-31-15-33-16-34-15-35-15-33-16-31-15-28-16-25-15-20-16-15-7-5"/><path transform="translate(4087.4 2321.1)" d="M0 -319l-15-4-16 1-15 5-16 9-15 14-16 16-15 18-15 19-16 19-15 18-16 16-15 13-16 10-15 5-16 1-15-5M-293 -208l-16-23-15-27-16-31-15-32-16-33-15-33-15-32-16-30-15-27-16-24-15-19-16-15-7-5"/><path transform="translate(4097.3 2318.5)" d="M0 -303l-15-4-16 0-15 5-16 8-15 13-16 15-15 16-16 18-15 18-15 17-16 15-15 12-16 8-15 5-16 0-15-4M-309 -227l-15-26-16-29-15-31-15-31-16-32-15-31-16-29-15-26-16-23-15-19-16-14-7-6"/><path transform="translate(4107.2 2315.8)" d="M0 -286l-15-5-16 0-15 4-16 8-15 11-16 14-15 15-16 17-15 16-15 16-16 13-15 12-16 8-15 4-16-1-15-4M-309 -222l-15-25-16-28-15-29-15-31-16-30-15-30-16-27-15-26-16-22-15-18-16-14"/><path transform="translate(4117.2 2313.2)" d="M0 -268l-15-5-16-1-15 3-16 7-15 11-16 12-15 14-16 15-15 15-15 14-16 13-15 10-16 7-15 3-16-1-15-4M-309 -217l-15-24-16-26-15-28-15-29-16-29-15-29-16-26-15-24-16-21-15-18"/><path transform="translate(4127.1 2310.5)" d="M0 -250l-15-5-16-1-15 2-16 6-15 9-16 11-15 13-15 14-16 13-15 13-16 11-15 9-16 6-15 3-16-1-15-5M-324 -234l-16-26-15-26-16-28-15-27-15-27-16-25-15-23-16-21-15-16"/><path transform="translate(4137.1 2307.9)" d="M0 -232l-15-5-16-2-15 2-16 5-15 8-16 10-15 11-15 12-16 12-15 12-16 10-15 7-16 5-15 2-16-1-15-5M-324 -228l-16-24-15-25-16-26-15-26-15-26-16-24-15-21-16-20-15-16"/><path transform="translate(4147 2305.2)" d="M0 -214l-15-5-16-2-15 2-16 4-15 6-16 9-15 10-16 10-15 11-15 10-16 8-15 7-16 4-15 1-16-2-15-5M-340 -244l-15-24-15-24-16-25-15-24-16-22-15-21-16-18-15-16"/><path transform="translate(4156.9 2302.6)" d="M0 -195l-15-5-16-3-15 1-16 3-15 5-16 8-15 8-16 9-15 9-15 8-16 8-15 5-16 3-15 1-16-2-15-6M-340 -236l-15-22-15-23-16-24-15-22-16-21-15-20-16-17"/><path transform="translate(4166.9 2300)" d="M0 -177l-15-5-16-3-15 0-16 2-15 4-16 6-15 7-16 8-15 7-15 7-16 6-15 5-16 2-15 0-16-3-15-6M-340 -228l-15-21-15-22-16-21-15-21-16-20-15-19-16-16"/><path transform="translate(4176.8 2297.3)" d="M0 -159l-15-5-16-4-15 0-16 1-15 3-16 5-15 5-15 6-16 6-15 6-16 5-15 3-16 1-15-1-16-3-15-6M-355 -240l-16-20-15-20-15-20-16-19-15-17-16-15"/><path transform="translate(4186.8 2294.7)" d="M0 -141l-15-6-16-4-15-1-16 0-15 2-16 4-15 4-15 5-16 4-15 4-16 4-15 2-16 0-15-1-16-4-15-6M-355 -231l-16-19-15-19-15-18-16-17-15-17-16-14"/><path transform="translate(4196.7 2292)" d="M0 -124l-15-6-16-4-15-3-16 0-15 1-16 2-15 3-16 3-15 4-15 3-16 2-15 1-16-1-15-2-16-4-15-6M-370 -240l-16-18-15-16-16-17-15-15-16-13"/><path transform="translate(4206.6 2289.4)" d="M0 -109l-15-6-16-4-15-3-16-1-15 0-16 1-15 2-16 2-15 2-15 1-16 1-15 0-16-1-15-3-16-4-15-6M-370 -231l-16-16-15-16-16-15-15-14-16-13"/><path transform="translate(4216.6 2286.8)" d="M0 -94l-15-6-16-5-15-3-16-2-15-1-16 0-15 1-16 0-15 1-15 1-16 0-15-1-16-2-15-4-16-4M-386 -237l-15-15-16-14-15-13-16-12"/><path transform="translate(4226.5 2284.1)" d="M0 -80l-15-6-16-5-15-4-16-3-15-2-16-1-15 0-15-1-16 0-15 0-16-1-15-2-16-3-15-4-16-5M-386 -228l-15-13-16-13-15-13-16-11"/><path transform="translate(4236.4 2281.5)" d="M0 -67l-15-7-16-5-15-5-16-3-15-2-16-2-15-2-15-1-16-2-15-1-16-2-15-3-16-3-15-4-16-6M-401 -232l-16-12-15-12-16-10"/><path transform="translate(4246.4 2278.8)" d="M0 -56l-15-7-16-6-15-4-16-4-15-3-16-3-15-3-16-2-15-2-15-2-16-3-15-3-16-4-15-5M-417 -235l-15-11-16-10-15-9"/><path transform="translate(4256.3 2276.2)" d="M0 -47l-15-6-16-6-15-5-16-5-15-4-16-3-15-3-16-3-15-3-15-3-16-4-15-4-16-4-15-5M-417 -227l-15-11-16-9-15-9"/><path transform="translate(4266.2 2273.6)" d="M0 -39l-15-7-16-6-15-5-16-5-15-4-16-4-15-4-16-4-15-3-15-4-16-4-15-4-16-5M-432 -231l-16-9-15-8-16-9-7-3"/><path transform="translate(4276.2 2270.9)" d="M0 -33l-15-6-16-7-15-5-16-5-15-5-16-5-15-4-15-4-16-4-15-4-16-5-15-4M-432 -225l-16-9-15-8-16-8-7-4"/><path transform="translate(4286.1 2268.3)" d="M0 -28l-15-7-16-6-15-6-16-5-15-5-16-5-15-5-15-4-16-5-15-4-16-5M-448 -230l-15-8-16-8-7-4"/><path transform="translate(4296.1 2265.6)" d="M0 -25l-15-7-16-7-15-5-16-6-15-5-16-5-15-5-16-5-15-4M-448 -227l-15-8-16-8-7-4"/></g>
<path class="ax" d="M3670 2432L4306 2263M3670 2432L3176 2207M3176 2207L3176 1716M3670 2432l5.4 9M3670 2432l-8.1 7.2M3829 2389.8l5.4 9M3546.5 2375.8l-8.1 7.2M3988 2347.5l5.4 9M3423 2319.5l-8.1 7.2M4147 2305.2l5.4 9M3299.5 2263.2l-8.1 7.2M4306 2263l5.4 9M3176 2207l-8.1 7.2M3176 2207l-9 0M3176 2108.8l-9 0M3176 2010.6l-9 0M3176 1912.4l-9 0M3176 1814.2l-9 0M3176 1716l-9 0"/>
<text class="tk s" x="3696.1" y="2483.3">-1</text>
<text class="tk e s" x="3644.8" y="2475.2">-1</text>
<text class="tk s" x="3855.1" y="2441">-0.5</text>
<text class="tk e s" x="3521.3" y="2418.9">-0.5</text>
<text class="tk s" x="4014.1" y="2398.8">0</text>
<text class="tk e s" x="3397.8" y="2362.7">0</text>
<text class="tk s" x="4173.1" y="2356.6">0.5</text>
<text class="tk e s" x="3274.3" y="2306.4">0.5</text>
<text class="tk s" x="4332.1" y="2314.3">1</text>
<text class="tk e s" x="3150.8" y="2246.6">1</text>
<text class="tk e s" x="3152.6" y="2211.5">0</text>
<text class="tk e s" x="3152.6" y="2113.3">0.2</text>
<text class="tk e s" x="3152.6" y="2015.1">0.4</text>
<text class="tk e s" x="3152.6" y="1916.9">0.6</text>
<text class="tk e s" x="3152.6" y="1818.7">0.8</text>
<text class="tk e s" x="3152.6" y="1720.5">1</text>
<text class="lb s" x="3940.3" y="2469.9">F<tspan class="sb" dy="8.1">x</tspan></text>
<text class="lb s" x="3405" y="2477.9">F<tspan class="sb" dy="8.1">y</tspan></text>
<text class="lb m s" transform="translate(3077 1961.5) rotate(-90)">Magnitude</text>
<text class="ti s" x="3741" y="1537">Kernel 2 Channel 3</text>
<text class="cp" transform="translate(3712 2678) scale(1.1 1)">(<tspan class="b">f</tspan>) Kernel 2 Channel 3</text>
<path class="gr" d="M747 3789L253 3563M253 3563L253 3073M747 3789L1383 3620M1383 3620L1383 3130M906 3746.7L412 3520.8M412 3520.8L412 3030.8M623.5 3732.5L1259.5 3563.5M1259.5 3563.5L1259.5 3073.5M1065 3704.5L571 3478.5M571 3478.5L571 2988.5M500 3676L1136 3507M1136 3507L1136 3017M1224 3662.2L730 3436.3M730 3436.3L730 2946.3M376.5 3619.5L1012.5 3450.5M1012.5 3450.5L1012.5 2960.5M1383 3620L889 3394M889 3394L889 2904M253 3563L889 3394M889 3394L889 2904M253 3563L889 3394M889 3394L1383 3620M253 3440.5L889 3271.5M889 3271.5L1383 3497.5M253 3318L889 3149M889 3149L1383 3375M253 3195.5L889 3026.5M889 3026.5L1383 3252.5M253 3073L889 2904M889 2904L1383 3130"/>
<defs><linearGradient id="a7" gradientUnits="userSpaceOnUse" x1="-1.2" y1="-4.4" x2="-99" y2="-372.7"><stop offset="0" stop-color="#3e26a8"/><stop offset="0.06" stop-color="#4434cd"/><stop offset="0.125" stop-color="#4852f4"/><stop offset="0.19" stop-color="#436cfe"/><stop offset="0.28" stop-color="#2e87f7"/><stop offset="0.34" stop-color="#2796eb"/><stop offset="0.4" stop-color="#1caadf"/><stop offset="0.45" stop-color="#0cb8cd"/><stop offset="0.5" stop-color="#1ebeb2"/><stop offset="0.57" stop-color="#37c897"/><stop offset="0.66" stop-color="#81cc59"/><stop offset="0.73" stop-color="#bbc334"/><stop offset="0.8" stop-color="#e8bc30"/><stop offset="0.875" stop-color="#fdcb36"/><stop offset="0.94" stop-color="#f6e428"/><stop offset="1" stop-color="#f9fb15"/></linearGradient><linearGradient id="b7" gradientUnits="userSpaceOnUse" x1="1.8" y1="-3.9" x2="151" y2="-330"><stop offset="0" stop-color="#3e26a8"/><stop offset="0.06" stop-color="#4434cd"/><stop offset="0.125" stop-color="#4852f4"/><stop offset="0.19" stop-color="#436cfe"/><stop offset="0.28" stop-color="#2e87f7"/><stop offset="0.34" stop-color="#2796eb"/><stop offset="0.4" stop-color="#1caadf"/><stop offset="0.45" stop-color="#0cb8cd"/><stop offset="0.5" stop-color="#1ebeb2"/><stop offset="0.57" stop-color="#37c897"/><stop offset="0.66" stop-color="#81cc59"/><stop offset="0.73" stop-color="#bbc334"/><stop offset="0.8" stop-color="#e8bc30"/><stop offset="0.875" stop-color="#fdcb36"/><stop offset="0.94" stop-color="#f6e428"/><stop offset="1" stop-color="#f9fb15"/></linearGradient></defs><path class="wu" d="M747 3700l20-5 20-5 20-6 19-4 20-5 20-4 20-4 20-2 20-2 20-2 20-1 20-1 19-1 20-2 20-3 20-4 20-7 20-7 20-9 20-9 19-10 20-9 20-9 20-9 20-8 20-7 20-6 20-6 19-6 20-5 20-6 10-2-15-30-10-2-20-1-20 0-20 2-20 5-20 6-20 9-19 10-20 12-20 14-20 14-20 15-20 16-20 14-20 14-19 12-20 11-20 9-20 8-20 7-20 7-20 6-20 4-19 4-20 1-20-1-20-2-20-4-20-5-20-5-20-5-19-5zM732 3674l19 5 20 5 20 5 20 5 20 4 20 2 20 1 20-1 19-4 20-4 20-6 20-7 20-7 20-8 20-9 20-11 19-12 20-14 20-14 20-16 20-15 20-14 20-14 20-12 19-10 20-9 20-6 20-5 20-2 20 0 20 1 10 2-16-49-10-2-20-3-20 0-19 3-20 6-20 9-20 12-20 14-20 16-20 18-19 19-20 20-20 21-20 20-20 19-20 19-20 16-20 16-20 14-19 11-20 5-20-2-20-4-20-5-20-8-20-8-19-10-20-10-20-10-20-9-20-8-20-7zM716 3627l20 7 20 8 20 9 20 10 20 10 19 10 20 8 20 8 20 5 20 4 20 2 20-5 19-11 20-14 20-16 20-16 20-19 20-19 20-20 20-21 20-20 19-19 20-18 20-16 20-14 20-12 20-9 20-6 19-3 20 0 20 3 10 2-15-52-10-1-20-1-20 3-20 5-20 9-20 12-19 15-20 18-20 20-20 22-20 24-20 25-20 25-20 25-19 24-20 24-20 21-20 13-20-6-20-8-20-8-20-7-19-7-20-8-20-9-20-9-20-9-20-10-20-10-20-8-19-7-20-6zM701 3574l20 6 19 7 20 8 20 10 20 10 20 9 20 9 20 9 20 8 19 7 20 7 20 8 20 8 20 6 20-13 20-21 20-24 19-24 20-25 20-25 20-25 20-24 20-22 20-20 20-18 19-15 20-12 20-9 20-5 20-3 20 1 10 1-16-48-10 1-19 3-20 6-20 9-20 13-20 15-20 19-20 21-20 24-19 26-20 27-20 29-20 29-20 29-20 29-20 26-20 6-19-14-20-14-20-14-20-12-20-12-20-11-20-10-20-10-20-9-19-9-20-8-20-7-20-6-20-4-20-3zM685 3524l20 3 20 4 20 6 20 7 20 8 19 9 20 9 20 10 20 10 20 11 20 12 20 12 20 14 20 14 19 14 20-6 20-26 20-29 20-29 20-29 20-29 20-27 19-26 20-24 20-21 20-19 20-15 20-13 20-9 20-6 19-3 10-1-15-40-10 3-20 7-20 11-20 13-20 17-19 19-20 22-20 25-20 27-20 28-20 31-20 32-20 32-19 33-20 32-20 8-20-20-20-21-20-19-20-18-20-17-19-15-20-14-20-12-20-11-20-9-20-8-20-6-20-4-19-2-20 0-20 3zM670 3482l20-3 20 0 19 2 20 4 20 6 20 8 20 9 20 11 20 12 20 14 19 15 20 17 20 18 20 19 20 21 20 20 20-8 20-32 19-33 20-32 20-32 20-31 20-28 20-27 20-25 20-22 19-19 20-17 20-13 20-11 20-7 10-3-16-31-10 5-19 14-20 15-20 18-20 21-20 22-20 25-20 27-19 29-20 31-20 33-20 33-20 35-20 36-20 22-20-26-20-25-19-25-20-23-20-22-20-21-20-18-20-16-20-14-19-11-20-8-20-6-20-3-20 0-20 2-20 6-20 8zM654 3448l20-8 20-6 20-2 20 0 20 3 20 6 20 8 19 11 20 14 20 16 20 18 20 21 20 22 20 23 19 25 20 25 20 26 20-22 20-36 20-35 20-33 20-33 20-31 19-29 20-27 20-25 20-22 20-21 20-18 20-15 19-14 10-5-15-20-10 8-20 19-20 21-20 23-19 24-20 26-20 27-20 28-20 30-20 32-20 33-20 34-19 36-20 30-20-18-20-27-20-28-20-28-20-26-20-25-19-24-20-20-20-18-20-14-20-11-20-7-20-3-20 1-19 4-20 8-20 11-20 15zM639 3425l20-15 20-11 20-8 19-4 20-1 20 3 20 7 20 11 20 14 20 18 20 20 19 24 20 25 20 26 20 28 20 28 20 27 20 18 20-30 19-36 20-34 20-33 20-32 20-30 20-28 20-27 20-26 19-24 20-23 20-21 20-19 10-8-15-9-10 12-20 24-20 27-20 27-20 27-20 28-20 28-20 29-19 29-20 30-20 31-20 31-20 26-20-1-20-22-19-27-20-29-20-30-20-28-20-27-20-25-20-22-20-18-20-14-19-10-20-4-20 0-20 5-20 9-20 14-20 17-19 21zM624 3413l19-21 20-17 20-14 20-9 20-5 20 0 20 4 19 10 20 14 20 18 20 22 20 25 20 27 20 28 20 30 20 29 19 27 20 22 20 1 20-26 20-31 20-31 20-30 19-29 20-29 20-28 20-28 20-27 20-27 20-27 20-24 10-12-16 3-10 15-20 30-20 31-19 31-20 30-20 28-20 27-20 27-20 25-20 25-20 24-19 19-20 5-20-10-20-21-20-26-20-29-20-30-20-29-19-28-20-26-20-22-20-18-20-13-20-7-20-2-20 4-19 9-20 15-20 20-20 24-20 26zM608 3412l20-26 20-24 20-20 20-15 19-9 20-4 20 2 20 7 20 13 20 18 20 22 20 26 19 28 20 29 20 30 20 29 20 26 20 21 20 10 20-5 19-19 20-24 20-25 20-25 20-27 20-27 20-28 20-30 19-31 20-31 20-30 10-15-15 14-10 18-20 36-20 35-20 33-20 31-20 26-19 23-20 19-20 16-20 13-20 11-20 5-20-2-20-11-19-19-20-23-20-28-20-29-20-29-20-28-20-25-20-21-19-17-20-11-20-5-20 2-20 8-20 15-20 20-20 26-20 30-19 33zM593 3424l19-33 20-30 20-26 20-20 20-15 20-8 20-2 20 5 20 11 19 17 20 21 20 25 20 28 20 29 20 29 20 28 20 23 19 19 20 11 20 2 20-5 20-11 20-13 20-16 20-19 19-23 20-26 20-31 20-33 20-35 20-36 10-18-16 25-10 21-20 40-19 38-20 34-20 27-20 19-20 10-20 5-20 2-20 2-19 1-20 1-20-4-20-8-20-15-20-20-20-25-20-27-19-27-20-27-20-24-20-20-20-14-20-8-20-2-20 6-19 12-20 20-20 26-20 31-20 36-20 39zM577 3446l20-39 20-36 20-31 20-26 20-20 19-12 20-6 20 2 20 8 20 14 20 20 20 24 20 27 19 27 20 27 20 25 20 20 20 15 20 8 20 4 20-1 19-1 20-2 20-2 20-5 20-10 20-19 20-27 20-34 19-38 20-40 10-21-15 35-10 23-20 43-20 39-20 29-20 14-20-1-19-8-20-9-20-7-20-3-20-1-20 0-20 0-19-5-20-10-20-16-20-21-20-23-20-26-20-24-20-21-20-18-19-11-20-5-20 2-20 10-20 17-20 25-20 31-20 37-19 41-20 44zM562 3478l20-44 19-41 20-37 20-31 20-25 20-17 20-10 20-2 20 5 19 11 20 18 20 21 20 24 20 26 20 23 20 21 20 16 20 10 19 5 20 0 20 0 20 1 20 3 20 7 20 9 19 8 20 1 20-14 20-29 20-39 20-43 10-23-16 42-10 24-19 44-20 33-20 8-20-14-20-20-20-19-20-14-20-9-19-4-20 1-20 3-20 2-20 1-20-5-20-10-20-16-19-20-20-22-20-21-20-18-20-14-20-8-20-1-20 6-19 14-20 22-20 30-20 36-20 42-20 45-20 49zM546 3519l20-49 20-45 20-42 20-36 20-30 20-22 19-14 20-6 20 1 20 8 20 14 20 18 20 21 20 22 19 20 20 16 20 10 20 5 20-1 20-2 20-3 20-1 19 4 20 9 20 14 20 19 20 20 20 14 20-8 20-33 19-44 10-24-15 47-10 24-20 36-20-1-20-27-19-30-20-26-20-20-20-15-20-7-20-2-20 4-20 7-20 7-19 6-20 1-20-4-20-11-20-15-20-17-20-17-20-14-19-10-20-4-20 3-20 10-20 19-20 26-20 34-20 41-19 45-20 50-20 51zM531 3565l20-51 20-50 19-45 20-41 20-34 20-26 20-19 20-10 20-3 20 4 19 10 20 14 20 17 20 17 20 15 20 11 20 4 20-1 19-6 20-7 20-7 20-4 20 2 20 7 20 15 20 20 20 26 19 30 20 27 20 1 20-36 10-24-15 46-10 15-20-13-20-36-20-36-20-32-20-25-20-20-20-11-19-5-20 2-20 8-20 11-20 12-20 12-20 7-20 2-19-4-20-9-20-12-20-13-20-10-20-6-20 1-20 7-19 15-20 23-20 30-20 38-20 44-20 48-20 52-20 51zM515 3613l20-51 20-52 20-48 20-44 20-38 20-30 20-23 19-15 20-7 20-1 20 6 20 10 20 13 20 12 20 9 19 4 20-2 20-7 20-12 20-12 20-11 20-8 20-2 19 5 20 11 20 20 20 25 20 32 20 36 20 36 20 13 10-15-16 1-10-17-20-40-20-39-19-36-20-30-20-24-20-16-20-8-20-1-20 6-20 12-19 16-20 18-20 17-20 14-20 8-20 3-20-4-20-6-19-8-20-5-20-1-20 4-20 12-20 18-20 27-20 34-19 41-20 46-20 50-20 51-20 33zM500 3643l20-33 20-51 20-50 20-46 19-41 20-34 20-27 20-18 20-12 20-4 20 1 20 5 19 8 20 6 20 4 20-3 20-8 20-14 20-17 20-18 19-16 20-12 20-6 20 1 20 8 20 16 20 24 20 30 19 36 20 39 20 40 10 17-15-58-10-21-20-41-20-38-20-33-20-27-20-20-20-12-19-5-20 4-20 10-20 16-20 21-20 23-20 22-20 20-19 15-20 9-20 3-20-1-20-2-20-1-20 3-20 9-19 15-20 22-20 30-20 36-20 43-20 46-20 47-20 23-19-27zM485 3599l19 27 20-23 20-47 20-46 20-43 20-36 20-30 20-22 19-15 20-9 20-3 20 1 20 2 20 1 20-3 20-9 19-15 20-20 20-22 20-23 20-21 20-16 20-10 20-4 19 5 20 12 20 20 20 27 20 33 20 38 20 41 10 21-16-63-10-20-20-39-19-35-20-30-20-23-20-16-20-8-20 0-20 8-20 14-20 21-19 25-20 27-20 28-20 26-20 21-20 15-20 9-19 5-20 3-20 4-20 7-20 12-20 18-20 24-20 32-20 36-19 41-20 37-20 12-20-26-20-38zM469 3537l20 38 20 26 20-12 20-37 19-41 20-36 20-32 20-24 20-18 20-12 20-7 20-4 20-3 19-5 20-9 20-15 20-21 20-26 20-28 20-27 19-25 20-21 20-14 20-8 20 0 20 8 20 16 20 23 20 30 19 35 20 39 10 20-15-59-10-18-20-36-20-31-20-25-20-19-20-12-19-3-20 4-20 12-20 18-20 25-20 29-20 31-20 32-19 31-20 26-20 21-20 15-20 11-20 7-20 8-20 10-19 14-20 20-20 25-20 29-20 31-20 24-20 3-20-22-19-34-20-38zM454 3476l20 38 19 34 20 22 20-3 20-24 20-31 20-29 20-25 20-20 19-14 20-10 20-8 20-7 20-11 20-15 20-21 20-26 19-31 20-32 20-31 20-29 20-25 20-18 20-12 20-4 19 3 20 12 20 19 20 25 20 31 20 36 10 18-16-52-10-17-19-30-20-27-20-20-20-14-20-7-20 0-20 9-20 15-19 23-20 27-20 32-20 35-20 36-20 34-20 32-20 26-20 21-19 15-20 11-20 10-20 12-20 14-20 17-20 20-19 18-20 12-20-4-20-18-20-28-20-34-20-34zM438 3422l20 34 20 34 20 28 20 18 20 4 20-12 19-18 20-20 20-17 20-14 20-12 20-10 20-11 19-15 20-21 20-26 20-32 20-34 20-36 20-35 20-32 20-27 19-23 20-15 20-9 20 0 20 7 20 14 20 20 20 27 19 30 10 17-15-44-10-14-20-25-20-21-20-15-20-9-19-3-20 5-20 12-20 19-20 25-20 31-20 34-20 37-19 38-20 38-20 35-20 31-20 25-20 19-20 14-20 10-19 9-20 9-20 9-20 5-20 1-20-8-20-17-20-23-19-27-20-30-20-30zM423 3376l20 30 20 30 19 27 20 23 20 17 20 8 20-1 20-5 20-9 20-9 19-9 20-10 20-14 20-19 20-25 20-31 20-35 20-38 19-38 20-37 20-34 20-31 20-25 20-19 20-12 20-5 19 3 20 9 20 15 20 21 20 25 10 14-16-33-9-11-20-20-20-15-20-10-20-4-20 3-20 8-20 16-20 21-19 28-20 32-20 35-20 39-20 39-20 40-20 38-19 34-20 29-20 22-20 13-20 5-20 0-20-3-20-6-20-8-19-12-20-16-20-20-20-22-20-25-20-25-20-25zM407 3339l20 25 20 25 20 25 20 22 20 20 20 16 19 12 20 8 20 6 20 3 20 0 20-5 20-13 20-22 20-29 19-34 20-38 20-40 20-39 20-39 20-35 20-32 19-28 20-21 20-16 20-8 20-3 20 4 20 10 20 15 20 20 9 11-15-23-10-8-20-13-20-9-20-4-19 1-20 6-20 13-20 18-20 23-20 29-20 32-20 36-19 39-20 40-20 40-20 40-20 36-20 32-20 21-20 5-19-8-20-13-20-15-20-15-20-15-20-17-20-18-20-19-19-20-20-21-20-20-20-18zM392 3314l20 18 20 20 20 21 19 20 20 19 20 18 20 17 20 15 20 15 20 15 20 13 19 8 20-5 20-21 20-32 20-36 20-40 20-40 20-40 19-39 20-36 20-32 20-29 20-23 20-18 20-13 20-6 19-1 20 4 20 9 20 13 10 8-15-11-10-4-20-7-20-3-20 1-20 5-20 11-20 15-19 20-20 25-20 29-20 32-20 35-20 38-20 39-20 40-20 40-19 38-20 32-20 12-20-15-20-21-20-20-20-20-19-19-20-18-20-18-20-17-20-17-20-16-20-16-20-14-20-12zM376 3300l20 12 20 14 20 16 20 16 20 17 20 17 20 18 20 18 19 19 20 20 20 20 20 21 20 15 20-12 20-32 19-38 20-40 20-40 20-39 20-38 20-35 20-32 20-29 20-25 19-20 20-15 20-11 20-5 20-1 20 3 20 7 10 4-16 1-10-1-20-1-20 3-19 6-20 10-20 14-20 17-20 21-20 25-20 28-20 32-19 33-20 36-20 37-20 38-20 38-20 38-20 29-20-20-19-25-20-23-20-23-20-21-20-19-20-18-20-17-20-15-19-14-20-12-20-10-20-9-20-6zM361 3297l20 6 20 9 20 10 20 12 19 14 20 15 20 17 20 18 20 19 20 21 20 23 20 23 19 25 20 20 20-29 20-38 20-38 20-38 20-37 20-36 19-33 20-32 20-28 20-25 20-21 20-17 20-14 20-10 19-6 20-3 20 1 10 1-15 13-10 1-20 5-20 8-20 11-20 13-20 17-19 19-20 21-20 25-20 26-20 29-20 31-20 33-20 34-19 35-20 36-20 36-20-11-20-25-20-25-20-23-20-22-20-20-19-18-20-17-20-14-20-12-20-10-20-8-20-5-19-2-20 0zM346 3307l20 0 19 2 20 5 20 8 20 10 20 12 20 14 20 17 19 18 20 20 20 22 20 23 20 25 20 25 20 11 20-36 20-36 19-35 20-34 20-33 20-31 20-29 20-26 20-25 20-21 19-19 20-17 20-13 20-11 20-8 20-5 10-1-16 22-10 4-20 11-19 12-20 15-20 16-20 19-20 19-20 22-20 23-20 24-19 26-20 27-20 29-20 30-20 31-20 30-20 3-20-21-19-23-20-22-20-21-20-20-20-18-20-16-20-14-20-12-19-8-20-6-20-3-20 0-20 3-20 5zM330 3326l20-5 20-3 20 0 20 3 20 6 19 8 20 12 20 14 20 16 20 18 20 20 20 21 20 22 19 23 20 21 20-3 20-30 20-31 20-30 20-29 20-27 19-26 20-24 20-23 20-22 20-19 20-19 20-16 20-15 19-12 20-11 10-4-15 31-10 7-20 14-20 17-20 18-20 18-20 20-19 20-20 20-20 21-20 21-20 22-20 23-20 24-20 25-19 25-20 5-20-16-20-18-20-19-20-18-20-18-19-17-20-16-20-13-20-11-20-8-20-5-20-2-20 2-20 4-19 8-20 10zM315 3355l20-10 19-8 20-4 20-2 20 2 20 5 20 8 20 11 20 13 20 16 19 17 20 18 20 18 20 19 20 18 20 16 20-5 19-25 20-25 20-24 20-23 20-22 20-21 20-21 20-20 19-20 20-20 20-18 20-18 20-17 20-14 10-7-16 37-10 9-19 17-20 20-20 20-20 20-20 20-20 20-20 19-20 18-19 18-20 18-20 18-20 18-20 17-20-2-20-11-20-13-19-14-20-14-20-15-20-14-20-13-20-12-20-9-20-7-19-5-20-1-20 1-20 5-20 9-20 11-20 13zM299 3390l20-13 20-11 20-9 20-5 20-1 20 1 19 5 20 7 20 9 20 12 20 13 20 14 20 15 20 14 19 14 20 13 20 11 20 2 20-17 20-18 20-18 20-18 19-18 20-18 20-19 20-20 20-20 20-20 20-20 20-20 19-17 10-9-15 39-10 9-20 19-20 20-20 21-19 20-20 20-20 20-20 17-20 17-20 14-20 12-20 6-19-1-20-3-20-5-20-6-20-8-20-9-20-9-20-10-20-10-19-9-20-7-20-6-20-3-20-1-20 2-20 4-19 8-20 10-20 13-20 16zM284 3429l20-16 20-13 20-10 19-8 20-4 20-2 20 1 20 3 20 6 20 7 19 9 20 10 20 10 20 9 20 9 20 8 20 6 20 5 20 3 19 1 20-6 20-12 20-14 20-17 20-17 20-20 20-20 19-20 20-21 20-20 20-19 10-9-16 33-9 7-20 16-20 16-20 15-20 15-20 13-20 11-20 9-19 8-20 5-20 5-20 4-20 4-20 2-20 2-20-1-19-1-20-4-20-4-20-4-20-5-20-4-20-3-20-1-19 0-20 2-20 4-20 6-20 9-20 10-20 12-20 14zM268 3463l20-14 20-12 20-10 20-9 20-6 20-4 20-2 19 0 20 1 20 3 20 4 20 5 20 4 20 4 20 4 19 1 20 1 20-2 20-2 20-4 20-4 20-5 20-5 19-8 20-9 20-11 20-13 20-15 20-15 20-16 20-16 9-7-7 8-10 5-20 11-20 11-20 10-20 9-20 9-19 8-20 7-20 7-20 7-20 7-20 7-20 7-20 5-19 5-20 3-20 1-20 0-20-1-20-2-20-2-20-1-19-1-20 1-20 1-20 3-20 5-20 6-20 7-20 9-19 9-20 11z"/><g class="ml" stroke="url(#a7)"><path transform="translate(747 3789)" d="M0 -89l20-5 20-5 20-6 20-4 19-5 20-4 20-4 20-2 20-2 20-2 20-1 20-1 19-1 20-2 20-3 20-4 20-7 20-7 20-9 20-9 19-10 20-9 20-9 20-9 20-8 20-7 20-6 20-6 19-6 20-5 20-6 10-2"/><path transform="translate(739.3 3785.5)" d="M0 -94l20 0 20 1 20 0 20-1 19-1 20-2 20-3 20-3 20-3 20-4 20-3 20-4 19-4 20-5 20-6 20-8 20-9 20-11 20-11 20-13 19-12 20-12 20-11 20-10 20-9 20-8 20-6 20-5 19-3 20-2 20-1 10 0"/><path transform="translate(731.6 3781.9)" d="M0 -107l20 4 20 5 20 5 20 5 19 4 20 2 20 1 20-1 20-4 20-4 20-6 20-7 19-7 20-8 20-9 20-11 20-12 20-14 20-14 20-16 19-15 20-14 20-14 20-12 20-10 20-9 20-6 20-5 19-2 20 0 20 1 10 2"/><path transform="translate(723.8 3778.4)" d="M0 -126l20 6 20 7 20 9 20 8 19 9 20 7 20 6 20 4 20 1 20-3 20-6 20-9 19-10 20-11 20-12 20-14 20-16 20-16 20-18 20-17 19-18 20-17 20-16 20-14 20-12 20-10 20-8 19-5 20-2 20 0 20 3 10 2"/><path transform="translate(716.1 3774.9)" d="M0 -148l20 7 20 8 20 10 20 9 19 10 20 10 20 9 20 7 20 6 20 4 20 1 20-5 19-11 20-14 20-15 20-17 20-19 20-19 20-20 20-21 19-20 20-19 20-18 20-16 20-14 20-12 20-9 20-6 19-2 20-1 20 3 10 2"/><path transform="translate(708.4 3771.3)" d="M0 -171l20 7 20 8 20 9 20 10 19 10 20 10 20 9 20 8 20 7 20 5 20 6 20 4 19 3 20-11 20-18 20-19 20-21 20-22 20-23 20-23 19-22 20-22 20-20 20-18 20-16 20-13 20-11 20-7 19-4 20-1 20 2 10 2"/><path transform="translate(700.7 3767.8)" d="M0 -194l20 6 20 7 20 9 20 9 19 10 20 9 20 9 20 9 20 8 20 7 20 8 20 7 19 8 20 6 20-13 20-21 20-23 20-25 20-25 20-25 19-25 20-23 20-23 20-20 20-18 20-15 20-12 20-8 19-6 20-2 20 0 10 1"/><path transform="translate(693 3764.3)" d="M0 -216l20 4 20 6 20 8 20 8 19 9 20 9 20 10 20 9 20 9 20 9 20 9 20 11 19 10 20 11 20 5 20-19 20-25 20-27 20-27 20-27 19-27 20-26 20-24 20-22 20-20 20-16 20-14 20-11 19-7 20-4 20-1 10 0"/><path transform="translate(685.2 3760.8)" d="M0 -236l20 2 20 4 20 6 20 7 19 8 20 9 20 9 20 10 20 11 20 10 20 12 20 12 19 14 20 14 20 14 20-5 20-27 20-28 20-30 20-29 19-28 20-28 20-26 20-24 20-21 20-19 20-15 20-13 19-9 20-6 20-3 10 0"/><path transform="translate(677.5 3757.2)" d="M0 -255l20 0 20 2 20 4 20 6 19 7 20 8 20 9 20 11 20 11 20 13 20 13 20 15 19 16 20 17 20 17 20 12 20-23 20-30 20-31 20-31 19-31 20-29 20-27 20-26 20-23 20-20 20-17 20-15 19-11 20-8 20-6 10-1"/><path transform="translate(669.8 3753.7)" d="M0 -272l20-3 20 0 20 2 20 4 19 6 20 8 20 9 20 11 20 12 20 14 20 15 20 17 19 18 20 20 20 20 20 20 20-8 20-32 20-33 20-32 19-32 20-30 20-29 20-27 20-25 20-22 20-19 20-16 19-14 20-10 20-8 10-3"/><path transform="translate(662.1 3750.2)" d="M0 -287l20-5 20-2 20-1 20 2 19 5 20 7 20 9 20 11 20 13 20 15 20 17 20 18 19 21 20 21 20 23 20 23 20 13 20-32 20-35 20-33 19-33 20-32 20-30 20-28 20-26 20-23 20-21 20-19 19-16 20-13 20-10 10-4"/><path transform="translate(654.4 3746.6)" d="M0 -299l20-8 20-5 20-3 20 0 19 3 20 6 20 8 20 11 20 14 20 16 20 19 20 20 19 22 20 24 20 24 20 25 20 26 20-22 20-35 20-35 19-34 20-32 20-31 20-29 20-27 20-25 20-23 20-20 19-18 20-16 20-13 10-6"/><path transform="translate(646.7 3743.1)" d="M0 -308l20-11 20-8 20-6 20-2 19 1 20 5 20 8 20 11 20 14 20 17 20 19 20 22 19 24 20 25 20 26 20 27 20 27 20 1 20-36 20-36 19-34 20-33 20-32 20-29 20-28 20-26 20-25 20-22 19-21 20-18 20-16 10-7"/><path transform="translate(638.9 3739.6)" d="M0 -315l20-14 20-11 20-8 20-5 19 0 20 3 20 7 20 10 20 15 20 17 20 21 20 23 19 25 20 27 20 27 20 28 20 27 20 18 20-30 20-35 19-35 20-33 20-31 20-30 20-29 20-27 20-26 20-24 19-23 20-20 20-19 10-9"/><path transform="translate(631.2 3736)" d="M0 -319l20-17 20-14 20-11 20-7 19-3 20 2 20 6 20 10 20 14 20 18 20 21 20 25 19 26 20 28 20 28 20 29 20 27 20 22 20-13 20-33 19-34 20-32 20-31 20-30 20-29 20-28 20-27 20-26 19-25 20-23 20-22 10-10"/><path transform="translate(623.5 3732.5)" d="M0 -320l20-20 20-18 20-13 20-10 19-5 20 0 20 5 20 9 20 14 20 19 20 21 20 25 19 27 20 29 20 29 20 29 20 27 20 23 20 1 20-26 19-31 20-31 20-31 20-29 20-29 20-28 20-28 20-27 19-27 20-26 20-25 10-12"/><path transform="translate(615.8 3729)" d="M0 -318l20-24 20-20 20-17 20-12 19-7 20-2 20 3 20 9 20 13 20 19 20 22 20 25 19 28 20 29 20 30 20 29 20 27 20 21 20 8 20-15 19-26 20-28 20-29 20-28 20-27 20-28 20-29 20-28 19-29 20-29 20-28 10-13"/><path transform="translate(608.1 3725.4)" d="M0 -313l20-27 20-24 20-19 20-15 19-10 20-4 20 2 20 8 20 13 20 17 20 23 20 25 19 28 20 30 20 29 20 29 20 26 20 21 20 11 20-6 19-19 20-23 20-25 20-26 20-26 20-27 20-29 20-29 19-31 20-31 20-31 10-15"/><path transform="translate(600.3 3721.9)" d="M0 -305l20-30 20-27 20-23 20-17 19-12 20-6 20 0 20 6 20 12 20 17 20 22 20 26 19 28 20 29 20 30 20 28 20 25 20 20 20 11 20 0 19-11 20-17 20-20 20-22 20-23 20-26 20-28 20-30 19-32 20-34 20-33 10-16"/><path transform="translate(592.6 3718.4)" d="M0 -294l20-34 20-30 20-25 20-21 19-14 20-8 20-2 20 5 20 11 20 16 20 22 20 25 19 28 20 29 20 29 20 27 20 24 20 19 20 11 20 2 19-5 20-11 20-14 20-16 20-19 20-22 20-27 20-30 19-33 20-35 20-36 10-18"/><path transform="translate(584.9 3714.8)" d="M0 -281l20-36 20-33 20-29 20-23 19-17 20-11 20-3 20 3 20 10 20 16 20 20 20 25 19 27 20 29 20 28 20 26 20 22 20 17 20 10 20 3 19-2 20-5 20-7 20-9 20-13M576 -337l20-37 20-38 10-19"/><path transform="translate(577.2 3711.3)" d="M0 -265l20-39 20-36 20-31 20-26 19-20 20-13 20-5 20 1 20 9 20 14 20 20 20 24 19 26 20 28 20 27 20 25 20 20 20 15 20 8 20 3 19 0 20-2 20-1 20-3 20-4 20-11M596 -353l20-40 10-21"/><path transform="translate(569.5 3707.8)" d="M0 -247l20-41 20-39 20-34 20-29 19-22 20-15 20-8 20 0 20 7 20 13 20 19 20 22 19 26 20 26 20 26 20 23 20 18 20 12 20 7 20 2 19 0 20 1 20 1 20 4 20 3 20-1M616 -373l10-21"/><path transform="translate(561.8 3704.2)" d="M0 -226l20-44 20-41 20-37 20-31 19-25 20-17 20-10 20-2 20 5 20 11 20 17 20 22 19 24 20 25 20 24 20 21 20 16 20 10 20 4 20 1 19 0 20 1 20 3 20 7 20 9 20 8M616 -350l10-22"/><path transform="translate(554 3700.7)" d="M0 -203l20-46 20-44 20-39 20-34 19-27 20-20 20-12 20-4 20 3 20 10 20 16 20 20 19 22 20 24 20 22 20 18 20 13 20 8 20 2 20-1 19-1 20 0 20 4 20 9 20 12 20 15 20 12"/><path transform="translate(546.3 3697.2)" d="M0 -178l20-49 20-46 20-41 20-36 19-30 20-22 20-14 20-6 20 1 20 8 20 14 20 18 19 21 20 22 20 19 20 16 20 11 20 5 20-1 20-3 19-3 20 0 20 4 20 8 20 15 20 18 20 21"/><path transform="translate(538.6 3693.7)" d="M0 -152l20-50 20-48 20-44 20-38 19-32 20-24 20-17 20-8 20-1M278 -341l20 18 20 13 20 8 20 1 20-3 20-5 19-5 20-1 20 2 20 9 20 14 20 21 20 24 20 25"/><path transform="translate(530.9 3690.1)" d="M0 -125l20-51 20-50 20-45 20-41 19-34 20-26 20-19M298 -327l20 11 20 4 20-1 20-6 20-7 19-7 20-4 20 2 20 7 20 14 20 21 20 26 20 30"/><path transform="translate(523.2 3686.6)" d="M0 -97l20-52 20-51 20-47 20-42 19-36M298 -329l20 8 20 1 20-4 20-9 20-10 19-9 20-5 20 0 20 6 20 13 20 20 20 26 20 32 19 34"/><path transform="translate(515.4 3683.1)" d="M0 -70l20-51 20-52 20-48 20-44M298 -329l20 4 20-2 20-7 20-12 20-12 19-11 20-8 20-2 20 5 20 11 20 19 20 26 20 32 19 36 20 36"/><path transform="translate(507.7 3679.5)" d="M0 -45l20-48 20-52 20-50 20-45 19-39M318 -327l20-5 20-11 20-14 20-15 19-14 20-9 20-4 20 2 20 10 20 18 20 25 20 31 19 36 20 39"/><path transform="translate(500 3676)" d="M0 -33l20-33 20-51 20-50 20-46 19-41 20-34M318 -328l20-8 20-14 20-17 20-18 19-16 20-12 20-6 20 1 20 8 20 16 20 24 20 30 19 36 20 39 20 40"/><path transform="translate(492.3 3672.5)" d="M0 -45l20 0 20-45 20-49 20-47 19-42 20-35M318 -327l20-12 20-16 20-20 20-21 19-18 20-14 20-8 20-2 20 7 20 14 20 22 20 28 19 35 20 39 20 42 10 20"/><path transform="translate(484.6 3668.9)" d="M0 -70l20 27 20-23 20-47 20-46 19-42 20-37 20-30M318 -325l20-15 20-19 20-23 20-23 19-21 20-16 20-10 20-4 20 5 20 12 20 20 20 27 19 33 20 38 20 42 10 20"/><path transform="translate(476.8 3665.4)" d="M0 -97l20 36 20 7 20-35 20-44 19-42 20-37 20-31 20-24M338 -339l20-23 20-25 20-25 19-23 20-19 20-12 20-6 20 2 20 11 20 18 20 25 19 32 20 36 20 41 10 20"/><path transform="translate(469.1 3661.9)" d="M0 -125l20 38 20 26 20-12 20-37 19-41 20-36 20-31 20-25M338 -337l20-26 20-27 20-28 19-25 20-21 20-14 20-8 20 0 20 8 20 16 20 23 19 30 20 35 20 39 10 21"/><path transform="translate(461.4 3658.3)" d="M0 -152l20 38 20 32 20 10 20-21 19-36 20-35 20-31 20-25 20-19M338 -334l20-28 20-30 20-30 19-27 20-22 20-17 20-10 20-2 20 6 20 14 20 21 19 28 20 33 20 37 10 20"/><path transform="translate(453.7 3654.8)" d="M0 -178l20 37 20 34 20 22 20-3 19-24 20-31 20-29 20-25 20-19 20-15M338 -329l20-31 20-32 20-31 19-29 20-25 20-18 20-12 20-4 20 3 20 12 20 19 19 25 20 32 20 35 10 19"/><path transform="translate(446 3651.3)" d="M0 -203l20 36 20 34 20 27 20 11 19-10 20-22 20-26 20-23 20-19 20-14M338 -323l20-32 20-34 20-34 19-30 20-27 20-20 20-14 20-6 20 1 20 10 20 16 19 23 20 29 20 33 10 18"/><path transform="translate(438.2 3647.8)" d="M0 -226l20 35 20 33 20 28 20 19 19 3 20-11 20-19 20-20 20-17 20-14 20-11M358 -350l20-36 20-34 19-32 20-28 20-22 20-16 20-8 20-1 20 7 20 14 19 21 20 26 20 31 10 16"/><path transform="translate(430.5 3644.2)" d="M0 -247l20 33 20 31 20 29 20 22 19 12 20-1 20-9 20-14 20-14 20-12 20-11 20-10M358 -343l20-37 20-36 19-33 20-29 20-24 20-17 20-11 20-3 20 5 20 11 19 19 20 23 20 28 10 16"/><path transform="translate(422.8 3640.7)" d="M0 -265l20 30 20 30 20 27 20 24 19 16 20 8 20 0 20-6 20-8 20-9 20-9 20-11M358 -334l20-38 20-38 19-34 20-30 20-25 20-19 20-12 20-5 20 2 20 9 19 15 20 21 20 26 10 13"/><path transform="translate(415.1 3637.2)" d="M0 -281l20 27 20 28 20 26 20 24 19 18 20 13 20 8 20 2 20-2 20-3 20-6 19-8 20-14M358 -324l20-39 20-38 19-35 20-32 20-26 20-20 20-14 20-7 20 0 20 6 19 13 20 18 20 22 10 13"/><path transform="translate(407.4 3633.6)" d="M0 -294l20 24 20 26 20 24 20 23 19 19 20 16 20 12 20 9 20 5 20 3 20 0 20-5 19-13M378 -353l20-38 19-36 20-32 20-27 20-22 20-15 20-9 20-2 20 4 19 9 20 16 20 19 10 11"/><path transform="translate(399.7 3630.1)" d="M0 -305l20 22 20 22 20 23 20 22 19 19 20 18 20 15 20 12 20 12 20 9 20 7 20 0 19-10 20-22M378 -341l20-38 19-37 20-32 20-28 20-23 20-16 20-11 20-5 20 2 19 7 20 12 20 16 10 10"/><path transform="translate(391.9 3626.6)" d="M0 -313l20 19 20 20 20 20 20 20 19 19 20 18 20 17 20 16 20 15 20 14 20 13 20 8 19-4 20-21M378 -327l20-39 19-36 20-33 20-28 20-24 20-18 20-12 20-7 20-1 19 4 20 10 20 13 10 8"/><path transform="translate(384.2 3623)" d="M0 -318l20 16 20 17 20 18 20 18 19 18 20 18 20 18 20 17 20 17M219 -125l20 16 19 4 20-19M378 -313l20-38 19-36 20-33 20-29 20-24 20-19 20-14 20-8 20-4 19 2 20 6 20 10 10 6"/><path transform="translate(376.5 3619.5)" d="M0 -320l20 13 20 14 20 15 20 17 19 17 20 17 20 17 20 19 20 18 20 20 20 21 20 20 19 15 20-11 20-33M398 -335l19-35 20-33 20-29 20-24 20-20 20-16M576 -509l20 3 20 7 10 5"/><path transform="translate(368.8 3616)" d="M0 -319l20 9 20 12 20 13 20 14 19 15 20 17 20 17 20 18 20 20 20 20M239 -119l19 22 20 3 20-32M398 -318l19-34 20-32 20-29 20-25M616 -495l10 3"/><path transform="translate(361.1 3612.4)" d="M0 -315l20 6 20 8 20 11 20 12 19 13 20 16 20 16 20 18 20 20 20 21 20 22 20 24 19 25 20 19 20-28M417 -333l20-31"/><path transform="translate(353.3 3608.9)" d="M0 -308l20 3 20 5 20 8 20 10 19 11 20 14 20 16 20 17 20 19 20 21 20 22M258 -113l20 26 20-12"/><path transform="translate(345.6 3605.4)" d="M0 -299l20 0 20 3 20 5 20 7 19 10 20 12 20 15 20 16 20 19 20 20 20 22 20 23M278 -98l20 11"/><path transform="translate(337.9 3601.8)" d="M0 -287l20-3 20 0 20 3 20 5 19 8 20 10 20 13 20 16 20 17 20 20 20 21 20 22"/><path transform="translate(330.2 3598.3)" d="M0 -272l20-6 20-2 20 0 20 3 19 5 20 9 20 12 20 14 20 16 20 18 20 20 20 21"/><path transform="translate(322.5 3594.8)" d="M0 -255l20-8 20-5 20-3 20 1 19 4 20 7 20 9 20 13 20 15 20 17 20 18 20 20 19 20"/><path transform="translate(314.7 3591.2)" d="M0 -236l20-10 20-8 20-4 20-2 19 2M139 -245l20 11 20 13 20 16 20 16 20 18 19 19"/><path transform="translate(307 3587.7)" d="M0 -216l20-12 20-9 20-7 20-3 19 0M199 -203l20 15 20 16 19 17 20 16"/><path transform="translate(299.3 3584.2)" d="M0 -194l20-13 20-12 20-8 20-5 19-2 20 2M239 -172l19 15 20 14"/><path transform="translate(291.6 3580.7)" d="M0 -171l20-15 20-12 20-10 20-6 19-4 20 0 20 3M258 -157l20 12"/><path transform="translate(283.9 3577.1)" d="M0 -148l20-16 20-13 20-10 20-8 19-4 20-2 20 1M278 -146l20 9"/><path transform="translate(276.2 3573.6)" d="M0 -126l20-16 20-13 20-10 20-9 19-5 20-4 20 0 20 1M278 -145l20 6"/><path transform="translate(268.4 3570.1)" d="M0 -107l20-14 20-12 20-10 20-9 19-6 20-4 20-2 20 0M278 -143l20 3 20 2"/><path transform="translate(260.7 3566.5)" d="M0 -94l20-10 20-10 20-8 20-8 19-6 20-4 20-3 20-2 20 0M298 -139l20-1"/></g><g class="ml" stroke="url(#b7)"><path transform="translate(747 3789)" d="M0 -89l-15-26-16-47-15-53-16-50-15-42-16-34-15-23-16-12-15-1-15 12-16 22-15 32-16 41-15 46-16 48-15 30-15-44-16-62-15-61-16-54-15-46-16-37-15-25-16-14-15-3-15 10-16 19-15 29-16 35-15 39-16 34-7 10"/><path transform="translate(756.9 3786.4)" d="M0 -89l-15-21-16-46-15-54-16-51-15-45-16-37-15-26-16-15-15-4-15 9-16 19-15 30-16 38-15 45-16 49-15 43-15-15-16-60-15-61-16-56-15-49-16-39-15-29-16-17-15-5-15 6-16 17-15 26-16 34-15 38-16 34-7 12"/><path transform="translate(766.9 3783.7)" d="M0 -89l-15-16-16-45-15-54-16-53-15-48-16-39-15-29-15-19-16-6-15 5-16 17-15 27-16 36-15 43-16 48-15 48-15 16-16-51-15-61-16-57-15-51-16-42-15-31-16-21-15-8-15 3-16 14-15 24-16 32-15 37-16 35-7 14"/><path transform="translate(776.8 3781.1)" d="M0 -89l-15-11-16-44-15-54-16-55-15-49-16-42-15-33-15-21-16-10-15 2-16 14-15 24-16 34-15 42-16 47-15 49-15 35-16-29-15-59-16-59-15-52-16-45-15-34-16-23-15-12-15 0-16 12-15 22-16 30-15 36-16 36-7 14"/><path transform="translate(786.8 3778.4)" d="M0 -89l-15-6-16-42-15-55-16-56-15-51-16-45-15-35-16-25-15-13-15-1-16 11-15 22-16 31-15 40-16 46-15 49-15 43-16-2-15-53-16-58-15-54-16-46-15-37-16-26-15-15-15-2-16 8-15 20-16 28-15 35-16 36-7 16"/><path transform="translate(796.7 3775.8)" d="M0 -89l-15-1-16-39-15-56-16-57-15-54-16-47-15-38-16-27-15-16-15-4-16 7-15 19-16 29-15 38-16 45-15 48-15 46-16 20-15-39-16-56-15-55-16-48-15-39-16-29-15-17-15-5-16 6-15 17-16 26-15 34-16 37-7 16"/><path transform="translate(806.6 3773.2)" d="M0 -89l-15 5-16-38-15-56-16-58-15-56-16-49-15-41-16-30-15-19-15-7-16 5-15 16-16 27-15 36-16 42-15 48-15 47-16 33-15-19-16-52-15-55-16-49-15-41-16-31-15-20-15-8-16 4-15 15-16 24-15 33-16 36-7 18"/><path transform="translate(816.6 3770.5)" d="M0 -89l-15 10-16-35-15-56-16-60-15-58-16-51-15-43-15-33-16-21-15-10-16 2-15 13-16 25-15 33-16 41-15 47-15 47-16 39-15 1-16-44-15-53-16-50-15-43-16-33-15-22-15-10-16 2-15 12-16 23-15 31-16 37-7 18"/><path transform="translate(826.5 3767.9)" d="M0 -88l-15 14-16-33-15-56-16-61-15-59-16-53-15-45-15-35-16-25-15-12-16-1-15 11-16 22-15 31-16 40-15 45-15 47-16 42-15 15-16-31-15-50-16-49-15-44-16-35-15-24-15-12-16-1-15 11-16 21-15 29-16 36-7 19"/><path transform="translate(836.4 3765.2)" d="M0 -88l-15 19-16-30-15-57-16-61-15-60-16-55-15-47-15-38-16-26-15-16-16-3-15 8-16 20-15 29-16 38-15 43-15 47-16 43-15 25-16-16-15-45-16-49-15-44-16-36-15-25-15-15-16-3-15 9-16 19-15 28-16 36-7 18"/><path transform="translate(846.4 3762.6)" d="M0 -88l-15 23-16-26-15-57-16-63-15-61-16-56-15-48-16-40-15-29-15-17-16-6-15 6-16 17-15 27M-247 -341l-15 46-16 44-15 31-16-3-15-37-16-46-15-45-16-36-15-28-15-16-16-5-15 7-16 17-15 27-16 34-7 19"/><path transform="translate(856.3 3760)" d="M0 -87l-15 26-16-23-15-57-16-63-15-61-16-58-15-50-16-41-15-31-15-20-16-8-15 4-16 14-15 25M-247 -356l-15 44-16 44-15 35-16 9-15-28-16-43-15-44-16-37-15-29-15-18-16-6M-448 -409l-15 25-16 34-7 18"/><path transform="translate(866.2 3757.3)" d="M0 -86l-15 29-16-19-15-57-16-63-15-63-16-58-15-51-15-43-16-33-15-21-16-11-15 2-16 12-15 23M-247 -369l-15 43-16 43-15 37-16 17-15-18-16-38-15-42-16-38-15-29-15-20-16-8M-448 -405l-15 24-16 32-7 18"/><path transform="translate(876.2 3754.7)" d="M0 -86l-15 32-16-15-15-57-16-63-15-63-16-58-15-52-15-44-16-35-15-23-16-13-15-1-16 11-15 20M-262 -339l-16 43-15 38-16 23-15-8-16-33-15-40-16-38-15-30-15-20-16-10-15 1M-463 -379l-16 31-7 18"/><path transform="translate(886.1 3752)" d="M0 -85l-15 34-16-12-15-56-16-63-15-62-16-59-15-53-15-45-16-35-15-26-16-14-15-3-16 8-15 18M-262 -351l-16 42-15 40-16 27-15 0-16-26-15-37-16-37-15-30-15-22-16-11-15-1M-463 -375l-16 29-7 17"/><path transform="translate(896.1 3749.4)" d="M0 -83l-15 34-16-7-15-56-16-62-15-62-16-59-15-53-16-46-15-37-15-26-16-16-15-5-16 6-15 16M-278 -319l-15 39-16 30-15 9-16-20-15-34-16-35-15-31-15-22-16-13-15-2M-463 -371l-16 27-7 17"/><path transform="translate(906 3746.7)" d="M0 -82l-15 35-16-3-15-55-16-62-15-61-16-59-15-53-16-46-15-38-15-28-16-17-15-7-16 4M-278 -328l-15 39-16 32-15 15-16-12-15-31-16-34-15-30-15-23-16-14-15-4M-479 -341l-7 16"/><path transform="translate(915.9 3744.1)" d="M0 -81l-15 35-16 2-15-54-16-61-15-61-16-57-15-53-15-47-16-38-15-29-16-19-15-9-16 2M-278 -335l-15 38-16 34-15 19-16-5-15-25-16-33-15-30-15-24-16-14-15-6M-479 -338l-7 15"/><path transform="translate(925.9 3741.5)" d="M0 -79l-15 34-16 6-15-53-16-59-15-60-16-57-15-52-15-47-16-38-15-30-16-21-15-10-16 0M-293 -303l-16 34-15 24-16 1-15-20-16-31-15-29-15-24-16-16-15-7"/><path transform="translate(935.8 3738.8)" d="M0 -77l-15 32-16 11-15-51-16-58-15-58-16-56-15-52-15-46-16-39-15-31-16-21-15-12-16-2M-293 -308l-16 35-15 26-16 8M-371 -282l-15-29-15-25-16-17-15-8"/><path transform="translate(945.8 3736.2)" d="M0 -75l-15 30-16 15-15-49-16-56-15-57-16-54-15-51-16-46-15-39-15-31-16-23-15-13-16-3M-293 -312l-16 35-15 28-16 14-15-10-16-25-15-28-15-25-16-18-15-9"/><path transform="translate(955.7 3733.5)" d="M0 -73l-15 28-16 19-15-47-16-54-15-54-16-54-15-50-16-45-15-39-15-32-16-23-15-14-16-5M-309 -281l-15 30-16 19-15-3M-386 -284l-15-25-16-19-15-11"/><path transform="translate(965.6 3730.9)" d="M0 -71l-15 26-16 22-15-44-16-51-15-53-16-52-15-48-15-45-16-39-15-32-16-24-15-15-16-7M-309 -283l-15 31-16 22-15 4-16-18-15-26-15-26-16-20-15-12"/><path transform="translate(975.6 3728.3)" d="M0 -69l-15 23-16 24-15-38-16-50-15-50-16-50-15-48-15-43-16-39-15-32-16-25-15-16-16-9M-309 -286l-15 31-16 26-15 11-16-13M-401 -282l-16-21-15-14-16-6"/><path transform="translate(985.5 3725.6)" d="M0 -67l-15 21-16 23-15-31-16-47-15-48-16-48-15-46-15-43-16-38-15-32-16-26-15-17-16-10M-324 -257l-16 27-15 17-16-5-15-23-15-26-16-22-15-16-16-8"/><path transform="translate(995.4 3723)" d="M0 -65l-15 18-16 22-15-22-16-44-15-46-16-46-15-45-16-42-15-38-15-32-16-26-15-19-16-11M-324 -261l-16 28-15 23-16 4-15-20M-417 -276l-15-17-16-10"/><path transform="translate(1005.4 3720.3)" d="M0 -63l-15 15-16 19-15-12-16-41-15-43-16-45-15-43-16-41-15-37-15-32-16-27-15-20-16-13M-340 -238l-15 26-16 14-15-13M-432 -281l-16-12"/><path transform="translate(1015.3 3717.7)" d="M0 -61l-15 12-16 16-15-1-16-38-15-41-16-42-15-42-15-40-16-36-15-33-16-27-15-22-16-15M-340 -245l-15 27-16 22-15 0-15-27M-432 -269l-16-14-15-8"/><path transform="translate(1025.2 3715.1)" d="M0 -59l-15 8-16 14-15 7-16-32-15-39-16-40-15-40-15-39-16-36-15-33-16-28-15-23-16-16M-355 -228l-16 24-15 18-15-21M-448 -274l-15-10-16-4"/><path transform="translate(1035.2 3712.4)" d="M0 -58l-15 6-16 10-15 12-16-22-15-36-16-38-15-38-15-38-16-36-15-33-16-29-15-25-16-18-15-13M-355 -240l-16 24-15 22-15 2M-448 -264l-15-13-16-6-7-1"/><path transform="translate(1045.1 3709.8)" d="M0 -57l-15 2-16 8-15 10-16-6-15-32-16-36-15-37-16-37-15-36-15-33-16-31-15-25-16-21-15-15-16-10M-370 -231l-16 21-15 19M-463 -270l-16-9-7-3"/><path transform="translate(1055.1 3707.1)" d="M0 -56l-15-1-16 4-15 9-16 6-15-24-16-34-15-35-16-37-15-36-15-34-16-31-15-28-16-23-15-18-16-12M-479 -275l-7-5"/><path transform="translate(1065 3704.5)" d="M0 -56l-15-4-16 1-15 6-16 10-15-7-16-30-15-35-15-36-16-36-15-35-16-33-15-29-16-26-15-21-16-15-15-10-15-4M-479 -272l-7-6"/><path transform="translate(1074.9 3701.9)" d="M0 -56l-15-8-16-1-15 3-16 9-15 10-16-22-15-33-15-36-16-37-15-36-16-34-15-32-16-28-15-24-16-19-15-13-15-7-16-2"/><path transform="translate(1084.9 3699.2)" d="M0 -57l-15-10-16-5-15 1-16 7-15 11-16 3-15-32-15-36-16-37-15-38-16-36-15-34-16-31-15-27-16-22-15-16-15-11-16-5-15 2"/><path transform="translate(1094.8 3696.6)" d="M0 -58l-15-13-16-8-15-1-16 4-15 10-16 15-15-16-15-36-16-38-15-39-16-38-15-37-16-33-15-30-16-25-15-20-15-14-16-7-15-2-16 5"/><path transform="translate(1104.8 3693.9)" d="M0 -59l-15-17-16-10-15-4-16 2-15 9-16 13-15 7-16-32-15-38-15-40-16-40-15-39-16-36-15-33-16-28-15-23-15-16-16-11-15-4-16 3-15 9"/><path transform="translate(1114.7 3691.3)" d="M0 -61l-15-19-16-13-15-7-16 1-15 6-16 12-15 12-15-14-16-36-15-41-16-41-15-41-16-39-15-36-16-31-15-25-15-20-16-13-15-6-16 1-15 7-16 13"/><path transform="translate(1124.6 3688.7)" d="M0 -63l-15-22-16-16-15-9-16-1-15 4-16 11-15 12-15-1-16-28-15-40-16-42-15-43-16-41-15-38-16-34-15-29-15-22-16-15-15-8-16-1-15 6-16 12-15 18"/><path transform="translate(1134.6 3686)" d="M0 -65l-15-25-16-19-15-11-16-3-15 3-16 9-15 12-15 6-16-18-15-37-16-43-15-44-16-43-15-40-16-37-15-31-15-25-16-18-15-10-16-2-15 4-16 12-15 19-16 23"/><path transform="translate(1144.5 3683.4)" d="M0 -67l-15-28-16-21-15-14-16-5-15 1-16 8-15 12-15 9-16-9-15-31-16-42-15-45-16-45-15-43-16-39-15-33-15-27-16-20-15-13-16-4-15 4-16 11-15 18-16 24"/><path transform="translate(1154.4 3680.7)" d="M0 -69l-15-31-16-24-15-15-16-8-15 0-16 7-15 11-16 11-15-1-15-25-16-40-15-45-16-47-15-45-16-41-15-36-15-30-16-22-15-14-16-6-15 3-16 10-15 18-15 25-16 29"/><path transform="translate(1164.4 3678.1)" d="M0 -71l-15-34-16-26-15-18-16-10-15-1-16 6-15 11-15 12-16 4-15-18-16-37-15-45-16-47-15-47-16-43-15-39-15-32-16-24-15-16-16-8-15 2-16 10-15 17-16 25-15 30"/><path transform="translate(1174.3 3675.5)" d="M0 -73l-15-36-16-29-15-20-16-12-15-3-16 5-15 11-15 13-16 8-15-11-16-33-15-44-16-49-15-48-16-45-15-41-15-34-16-27-15-18-16-9-15 1-16 9-15 17-16 25-15 31"/><path transform="translate(1184.2 3672.8)" d="M0 -75l-15-39-16-31-15-22-16-14-15-4-16 3-15 11-15 14-16 11-15-4-16-28-15-43-16-49-15-49-16-48-15-42-15-37-16-29-15-20-16-10-15-1-16 8-15 17-16 25-15 32"/><path transform="translate(1194.2 3670.2)" d="M0 -77l-15-41-16-34-15-24-16-15-15-6-16 2-15 11-15 15-16 14-15 1-16-22-15-41-16-49-15-51-16-49-15-45-15-38-16-31-15-22-16-12-15-3-16 7-15 17-16 25-15 32"/><path transform="translate(1204.1 3667.5)" d="M0 -79l-15-43-16-36-15-26-16-18-15-7-16 2-15 10-16 15-15 17-15 6-16-16-15-37-16-49-15-52-16-50-15-47-15-41-16-33-15-24-16-14-15-4-16 6-15 16-15 24"/><path transform="translate(1214.1 3664.9)" d="M0 -81l-15-45-16-37-15-29-16-19-15-9-16 1-15 9-15 16-16 19-15 11-16-9-15-34-16-47-15-53-16-52-15-49-15-43-16-35-15-26-16-16-15-6-16 5-15 15-16 24"/><path transform="translate(1224 3662.2)" d="M0 -82l-15-47-16-40-15-30-16-21-15-11-16 0-15 9-15 16-16 20-15 16-16-2-15-28-16-47-15-53-16-54-15-50-15-45-16-37-15-28-16-18-15-8-16 4-15 13-16 24"/><path transform="translate(1233.9 3659.6)" d="M0 -83l-15-49-16-41-15-33-16-22-15-12-16-2-15 8-15 17-16 21-15 20-16 5-15-22-16-44-15-54-16-55-15-52-15-47-16-40-15-30-16-20-15-9-16 2-15 12-16 23"/><path transform="translate(1243.9 3657)" d="M0 -85l-15-49-16-43-15-35-16-24-15-14-16-3-15 8-15 16-16 22-15 24-16 12-15-15-16-41-15-53-16-56-15-55-15-48-16-42-15-32-16-22-15-12-16 1-15 11-16 21"/><path transform="translate(1253.8 3654.3)" d="M0 -86l-15-50-16-45-15-36-16-26-15-16-16-4-15 7-16 15-15 24-15 26-16 18-15-6-16-37-15-52-16-57-15-56-15-51-16-43-15-35-16-24-15-13-16-2-15 9-15 21"/><path transform="translate(1263.8 3651.7)" d="M0 -86l-15-51-16-47-15-38-16-28-15-17-16-5-15 5-15 15-16 23-15 28-16 25-15 4-16-31-15-52-16-57-15-57-15-53-16-46-15-36-16-27-15-15-16-4-15 8-16 18"/><path transform="translate(1273.7 3649)" d="M0 -87l-15-51-16-48-15-39-16-30-15-19-16-7-15 3-15 15-16 23-15 29M-185 -168l-16-22-15-49-16-58-15-59-15-54-16-48-15-39-16-29-15-17-16-7-15 6"/><path transform="translate(1283.6 3646.4)" d="M0 -88l-15-51-16-48-15-41-16-32-15-21-16-9-15 2-15 14-16 22-15 30M-201 -178l-15-45-16-58-15-60-15-56-16-49-15-42-16-31-15-20-16-8-15 3"/><path transform="translate(1293.6 3643.8)" d="M0 -88l-15-50-16-50-15-42-16-34-15-22-16-12-15 1-15 11-16 22-15 30M-201 -166l-15-40-16-57-15-61-15-57-16-52-15-43-16-34-15-23-16-10-15 1"/><path transform="translate(1303.5 3641.1)" d="M0 -88l-15-50-16-50-15-44-16-35-15-25-16-13-15-1-15 9-16 21-15 29M-216 -188l-16-56-15-61-15-59-16-54-15-45-16-36-15-26-16-13-15-1"/><path transform="translate(1313.4 3638.5)" d="M0 -89l-15-47-16-51-15-45-16-37-15-27-16-16-15-3-15 7-16 19-15 29M-216 -171l-16-53-15-61-15-61-16-55-15-48-16-38-15-28-16-16-15-4"/><path transform="translate(1323.4 3635.8)" d="M0 -89l-15-46-16-50-15-47-16-39-15-29-16-18-15-6-15 6-16 16-15 27M-232 -203l-15-61-15-62-16-57-15-50-16-41-15-30-16-19-15-7-16 5"/><path transform="translate(1333.3 3633.2)" d="M0 -89l-15-43-16-51-15-48-16-41-15-31-16-20-15-9-15 3-16 15-15 25-16 34M-232 -182l-15-60-15-62-16-59-15-52-16-43-15-33-16-22-15-10-16 2"/><path transform="translate(1343.3 3630.6)" d="M0 -89l-15-41-16-50-15-49-16-43-15-33-16-23-15-11-15 0-16 12-15 22-16 33M-232 -162l-15-57-15-63-16-60-15-54-16-46-15-36-16-24-15-13-16-2"/><path transform="translate(1353.2 3627.9)" d="M0 -89l-15-37-16-51-15-50-16-44-15-36-16-25-15-15-15-2-16 9-15 20-16 30M-247 -196l-15-63-16-62-15-55-16-48-15-39-16-28-15-16-16-4"/><path transform="translate(1363.1 3625.3)" d="M0 -89l-15-34-16-49-15-51-16-46-15-39-16-28-15-17-15-6-16 6-15 18-16 28-15 36M-247 -174l-15-62-16-62-15-58-16-50-15-41-16-31-15-19-16-8"/><path transform="translate(1373.1 3622.6)" d="M0 -89l-15-30-16-49-15-51-16-48-15-41-16-31-15-20-15-9-16 3-15 15-16 25-15 34M-262 -212l-16-63-15-59-16-53-15-43-16-34-15-23-16-10-15 1"/></g>
<path class="ax" d="M747 3789L1383 3620M747 3789L253 3563M253 3563L253 3073M747 3789l5.4 9M747 3789l-8.1 7.2M906 3746.7l5.4 9M623.5 3732.5l-8.1 7.2M1065 3704.5l5.4 9M500 3676l-8.1 7.2M1224 3662.2l5.4 9M376.5 3619.5l-8.1 7.2M1383 3620l5.4 9M253 3563l-8.1 7.2M253 3563l-9 0M253 3440.5l-9 0M253 3318l-9 0M253 3195.5l-9 0M253 3073l-9 0"/>
<text class="tk s" x="773.1" y="3840.3">-1</text>
<text class="tk e s" x="721.8" y="3832.2">-1</text>
<text class="tk s" x="932.1" y="3798">-0.5</text>
<text class="tk e s" x="598.3" y="3775.7">-0.5</text>
<text class="tk s" x="1091.1" y="3755.8">0</text>
<text class="tk e s" x="474.8" y="3719.2">0</text>
<text class="tk s" x="1250.1" y="3713.6">0.5</text>
<text class="tk e s" x="351.3" y="3662.7">0.5</text>
<text class="tk s" x="1409.1" y="3671.3">1</text>
<text class="tk e s" x="227.8" y="3602.6">1</text>
<text class="tk e s" x="229.6" y="3567.5">0</text>
<text class="tk e s" x="229.6" y="3445">0.2</text>
<text class="tk e s" x="229.6" y="3322.5">0.4</text>
<text class="tk e s" x="229.6" y="3200">0.6</text>
<text class="tk e s" x="229.6" y="3077.5">0.8</text>
<text class="lb s" x="1017.3" y="3826.9">F<tspan class="sb" dy="8.1">x</tspan></text>
<text class="lb s" x="482" y="3834.4">F<tspan class="sb" dy="8.1">y</tspan></text>
<text class="lb m s" transform="translate(154 3318) rotate(-90)">Magnitude</text>
<text class="ti s" x="818" y="2898">Kernel 3 Channel 1</text>
<text class="cp" transform="translate(786 4033) scale(1.1 1)">(<tspan class="b">g</tspan>) Kernel 3 Channel 1</text>
<path class="gr" d="M2211 3789L1717 3563M1717 3563L1717 3073M2211 3789L2847 3620M2847 3620L2847 3130M2370 3746.7L1876 3520.8M1876 3520.8L1876 3030.8M2087.5 3732.5L2723.5 3563.5M2723.5 3563.5L2723.5 3073.5M2529 3704.5L2035 3478.5M2035 3478.5L2035 2988.5M1964 3676L2600 3507M2600 3507L2600 3017M2688 3662.2L2194 3436.3M2194 3436.3L2194 2946.3M1840.5 3619.5L2476.5 3450.5M2476.5 3450.5L2476.5 2960.5M2847 3620L2353 3394M2353 3394L2353 2904M1717 3563L2353 3394M2353 3394L2353 2904M1717 3563L2353 3394M2353 3394L2847 3620M1717 3481.3L2353 3312.3M2353 3312.3L2847 3538.3M1717 3399.7L2353 3230.7M2353 3230.7L2847 3456.7M1717 3318L2353 3149M2353 3149L2847 3375M1717 3236.3L2353 3067.3M2353 3067.3L2847 3293.3M1717 3154.7L2353 2985.7M2353 2985.7L2847 3211.7M1717 3073L2353 2904M2353 2904L2847 3130"/>
<defs><linearGradient id="a8" gradientUnits="userSpaceOnUse" x1="-0.2" y1="-0.6" x2="-117.3" y2="-441.5"><stop offset="0" stop-color="#3e26a8"/><stop offset="0.06" stop-color="#4434cd"/><stop offset="0.125" stop-color="#4852f4"/><stop offset="0.19" stop-color="#436cfe"/><stop offset="0.28" stop-color="#2e87f7"/><stop offset="0.34" stop-color="#2796eb"/><stop offset="0.4" stop-color="#1caadf"/><stop offset="0.45" stop-color="#0cb8cd"/><stop offset="0.5" stop-color="#1ebeb2"/><stop offset="0.57" stop-color="#37c897"/><stop offset="0.66" stop-color="#81cc59"/><stop offset="0.73" stop-color="#bbc334"/><stop offset="0.8" stop-color="#e8bc30"/><stop offset="0.875" stop-color="#fdcb36"/><stop offset="0.94" stop-color="#f6e428"/><stop offset="1" stop-color="#f9fb15"/></linearGradient><linearGradient id="b8" gradientUnits="userSpaceOnUse" x1="0.2" y1="-0.5" x2="178.8" y2="-390.9"><stop offset="0" stop-color="#3e26a8"/><stop offset="0.06" stop-color="#4434cd"/><stop offset="0.125" stop-color="#4852f4"/><stop offset="0.19" stop-color="#436cfe"/><stop offset="0.28" stop-color="#2e87f7"/><stop offset="0.34" stop-color="#2796eb"/><stop offset="0.4" stop-color="#1caadf"/><stop offset="0.45" stop-color="#0cb8cd"/><stop offset="0.5" stop-color="#1ebeb2"/><stop offset="0.57" stop-color="#37c897"/><stop offset="0.66" stop-color="#81cc59"/><stop offset="0.73" stop-color="#bbc334"/><stop offset="0.8" stop-color="#e8bc30"/><stop offset="0.875" stop-color="#fdcb36"/><stop offset="0.94" stop-color="#f6e428"/><stop offset="1" stop-color="#f9fb15"/></linearGradient></defs><path class="wu" d="M2211 3697l20-6 20-7 20-9 19-8 20-8 20-6 20-5 20-2 20 0 20 2 20 5 20 7 19 9 20 10 20 10 20 5 20-15 20-21 20-21 19-19 20-18 20-15 20-13 20-11 20-8 20-6 20-4 20-3 19-2 20-2 20-3 10-2-15-41-10 1-20 1-20 2-20 2-20 4-20 7-20 9-19 11-20 15-20 17-20 20-20 22-20 24-20 25-20 25-19 13-20-12-20-14-20-12-20-10-20-8-20-6-20-2-19-1-20 2-20 4-20 6-20 6-20 5-20 6-20 3-19 3zM2196 3658l19-3 20-3 20-6 20-5 20-6 20-6 20-4 20-2 19 1 20 2 20 6 20 8 20 10 20 12 20 14 20 12 19-13 20-25 20-25 20-24 20-22 20-20 20-17 20-15 19-11 20-9 20-7 20-4 20-2 20-2 20-1 10-1-16-71-10 1-20 1-19 3-20 4-20 6-20 9-20 12-20 15-20 19-20 23-19 25-20 29-20 30-20 32-20 33-20 25-20-21-20-21-20-19-19-16-20-14-20-10-20-8-20-4-20-2-20 1-19 2-20 3-20 3-20 3-20 3-20 1zM2180 3587l20-1 20-3 20-3 20-3 20-3 19-2 20-1 20 2 20 4 20 8 20 10 20 14 19 16 20 19 20 21 20 21 20-25 20-33 20-32 20-30 20-29 19-25 20-23 20-19 20-15 20-12 20-9 20-6 20-4 19-3 20-1 10-1-15-74-10 1-20 2-20 3-20 6-20 7-20 11-19 15-20 18-20 23-20 27-20 30-20 34-20 37-20 39-19 41-20 40-20-22-20-29-20-27-20-24-20-21-20-17-19-14-20-10-20-6-20-4-20-1-20 1-20 1-20 3-19 2-20 2zM2165 3513l20-2 19-2 20-3 20-1 20-1 20 1 20 4 20 6 20 10 19 14 20 17 20 21 20 24 20 27 20 29 20 22 20-40 19-41 20-39 20-37 20-34 20-30 20-27 20-23 20-18 19-15 20-11 20-7 20-6 20-3 20-2 10-1-16-70-10 1-19 4-20 4-20 6-20 9-20 12-20 16-20 21-20 25-19 30-20 35-20 39-20 43-20 45-20 48-20 48-20-8-19-37-20-35-20-33-20-28-20-25-20-20-20-16-20-11-20-8-19-4-20-1-20 1-20 2-20 2-20 3zM2149 3443l20-3 20-2 20-2 20-1 20 1 19 4 20 8 20 11 20 16 20 20 20 25 20 28 20 33 20 35 19 37 20 8 20-48 20-48 20-45 20-43 20-39 20-35 19-30 20-25 20-21 20-16 20-12 20-9 20-6 20-4 19-4 10-1-15-61-10 2-20 5-20 5-20 7-20 9-19 12-20 17-20 22-20 26-20 33-20 38-20 43-20 47-19 51-20 54-20 56-20 11-20-45-20-43-20-40-20-36-19-32-20-26-20-21-20-16-20-11-20-7-20-2-20 0-19 2-20 3-20 3zM2134 3381l20-3 20-3 19-2 20 0 20 2 20 7 20 11 20 16 20 21 20 26 19 32 20 36 20 40 20 43 20 45 20-11 20-56 20-54 19-51 20-47 20-43 20-38 20-33 20-26 20-22 20-17 19-12 20-9 20-7 20-5 20-5 10-2-16-49-9 3-20 5-20 6-20 7-20 9-20 12-20 16-20 22-19 28-20 33-20 40-20 46-20 51-20 55-20 60-20 61-19 33-20-50-20-50-20-47-20-43-20-38-20-32-20-26-19-20-20-13-20-9-20-4-20 0-20 3-20 4-20 5zM2118 3332l20-5 20-4 20-3 20 0 20 4 20 9 20 13 19 20 20 26 20 32 20 38 20 43 20 47 20 50 20 50 19-33 20-61 20-60 20-55 20-51 20-46 20-40 20-33 19-28 20-22 20-16 20-12 20-9 20-7 20-6 20-5 9-3-15-37-10 4-20 6-20 6-20 6-19 9-20 11-20 16-20 21-20 27-20 34-20 40-20 47-19 54-20 58-20 63-20 65-20 51-20-48-20-55-20-52-19-49-20-43-20-36-20-30-20-23-20-16-20-10-20-5-19 1-20 3-20 5-20 6zM2103 3294l20-6 20-5 20-3 19-1 20 5 20 10 20 16 20 23 20 30 20 36 20 43 19 49 20 52 20 55 20 48 20-51 20-65 20-63 20-58 19-54 20-47 20-40 20-34 20-27 20-21 20-16 20-11 19-9 20-6 20-6 20-6 10-4-15-23-10 4-20 7-20 6-20 6-20 7-20 10-20 14-19 19-20 26-20 33-20 40-20 48-20 54-20 60-20 65-19 67-20 56-20-34-20-57-20-56-20-52-20-47-20-40-19-32-20-26-20-17-20-11-20-4-20 1-20 4-20 7-19 8zM2088 3271l19-8 20-7 20-4 20-1 20 4 20 11 20 17 20 26 19 32 20 40 20 47 20 52 20 56 20 57 20 34 20-56 19-67 20-65 20-60 20-54 20-48 20-40 20-33 20-26 19-19 20-14 20-10 20-7 20-6 20-6 20-7 10-4-16-10-10 4-20 8-20 5-19 5-20 6-20 8-20 12-20 17-20 23-20 31-20 39-19 47-20 54-20 61-20 65-20 67-20 55-20-18-20-55-19-57-20-54-20-49-20-42-20-34-20-26-20-18-20-10-19-4-20 2-20 6-20 8-20 9zM2072 3260l20-9 20-8 20-6 20-2 19 4 20 10 20 18 20 26 20 34 20 42 20 49 20 54 19 57 20 55 20 18 20-55 20-67 20-65 20-61 20-54 19-47 20-39 20-31 20-23 20-17 20-12 20-8 20-6 19-5 20-5 20-8 10-4-15 3-10 4-20 7-20 5-20 4-20 3-20 6-19 9-20 14-20 21-20 29-20 37-20 46-20 53-20 59-19 64-20 65-20 51-20-7-20-48-20-56-20-54-20-48-19-42-20-35-20-25-20-18-20-9-20-2-20 3-20 8-19 10-20 10zM2057 3262l20-10 19-10 20-8 20-3 20 2 20 9 20 18 20 25 20 35 19 42 20 48 20 54 20 56 20 48 20 7 20-51 20-65 19-64 20-59 20-53 20-46 20-37 20-29 20-21 20-14 19-9 20-6 20-3 20-4 20-5 20-7 10-4-16 13-10 4-20 7-19 4-20 1-20 1-20 3-20 6-20 12-20 19-20 26-19 35-20 43-20 51-20 57-20 61-20 61-20 45-20-1-19-40-20-51-20-52-20-46-20-41-20-32-20-24-20-16-19-7-20 0-20 5-20 10-20 11-20 12zM2041 3275l20-12 20-11 20-10 20-5 20 0 19 7 20 16 20 24 20 32 20 41 20 46 20 52 20 51 19 40 20 1 20-45 20-61 20-61 20-57 20-51 20-43 19-35 20-26 20-19 20-12 20-6 20-3 20-1 20-1 19-4 20-7 10-4-15 20-10 4-20 6-20 2-20-1-20-1-19 0-20 4-20 9-20 17-20 24-20 33-20 41-20 48-19 54-20 57-20 53-20 37-20 1-20-33-20-45-20-46-20-43-19-37-20-29-20-21-20-13-20-4-20 2-20 8-19 12-20 13-20 12zM2026 3295l20-12 20-13 19-12 20-8 20-2 20 4 20 13 20 21 20 29 19 37 20 43 20 46 20 45 20 33 20-1 20-37 20-53 20-57 19-54 20-48 20-41 20-33 20-24 20-17 20-9 20-4 19 0 20 1 20 1 20-2 20-6 10-4-16 24-10 4-19 4-20 0-20-3-20-4-20-2-20 2-20 7-20 15-19 23-20 31-20 39-20 45-20 50-20 52-20 45-20 28-19-2-20-27-20-39-20-41-20-37-20-32-20-25-20-16-19-9-20 0-20 5-20 11-20 14-20 14-20 12zM2010 3319l20-12 20-14 20-14 20-11 20-5 20 0 19 9 20 16 20 25 20 32 20 37 20 41 20 39 20 27 19 2 20-28 20-45 20-52 20-50 20-45 20-39 20-31 19-23 20-15 20-7 20-2 20 2 20 4 20 3 20 0 19-4 10-4-15 21-10 3-20 2-20-2-20-5-19-5-20-4-20 2-20 7-20 15-20 22-20 30-20 37-19 43-20 46-20 45-20 36-20 18-20-7-20-25-20-34-19-35-20-32-20-26-20-19-20-11-20-4-20 4-20 9-20 14-19 15-20 15-20 11zM1995 3341l20-11 20-15 19-15 20-14 20-9 20-4 20 4 20 11 20 19 20 26 20 32 19 35 20 34 20 25 20 7 20-18 20-36 20-45 20-46 19-43 20-37 20-30 20-22 20-15 20-7 20-2 20 4 19 5 20 5 20 2 20-2 10-3-15 14-10 2-20-1-20-4-20-7-20-6-20-2-20 2-20 9-19 16-20 23-20 31-20 37-20 41-20 41-20 38-20 26-19 7-20-13-20-26-20-31-20-30-20-26-20-21-20-13-19-6-20 1-20 8-20 13-20 16-20 16-20 14-20 11zM1979 3356l20-11 20-14 20-16 20-16 20-13 20-8 20-1 19 6 20 13 20 21 20 26 20 30 20 31 20 26 20 13 19-7 20-26 20-38 20-41 20-41 20-37 20-31 20-23 19-16 20-9 20-2 20 2 20 6 20 7 20 4 20 1 10-2-16-1-10 1-20-3-20-5-19-7-20-4-20-1-20 5-20 12-20 19-20 26-20 33-19 38-20 40-20 39-20 30-20 15-20-4-20-20-20-28-19-30-20-27-20-22-20-16-20-9-20-1-20 5-20 12-19 15-20 17-20 16-20 13-20 8zM1964 3356l20-8 20-13 20-16 20-17 19-15 20-12 20-5 20 1 20 9 20 16 20 22 20 27 19 30 20 28 20 20 20 4 20-15 20-30 20-39 20-40 19-38 20-33 20-26 20-19 20-12 20-5 20 1 20 4 19 7 20 5 20 3 10-1-15-16-10 0-20-4-20-6-20-5-20-2-20 3-20 9-19 16-20 24-20 31-20 37-20 41-20 41-20 37-20 23-19 4-20-15-20-28-20-31-20-30-20-27-20-20-20-13-19-5-20 2-20 8-20 14-20 16-20 17-20 15-20 11-19 5zM1949 3341l19-5 20-11 20-15 20-17 20-16 20-14 20-8 20-2 19 5 20 13 20 20 20 27 20 30 20 31 20 28 20 15 19-4 20-23 20-37 20-41 20-41 20-37 20-31 20-24 19-16 20-9 20-3 20 2 20 5 20 6 20 4 10 0-16-29-10-1-20-4-19-5-20-3-20 1-20 7-20 15-20 21-20 30-20 37-19 42-20 45-20 45-20 36-20 17-20-7-20-26-20-34-19-35-20-33-20-26-20-20-20-12-20-4-20 3-20 10-19 13-20 16-20 16-20 13-20 9-20 3zM1933 3313l20-3 20-9 20-13 20-16 20-16 19-13 20-10 20-3 20 4 20 12 20 20 20 26 20 33 19 35 20 34 20 26 20 7 20-17 20-36 20-45 20-45 19-42 20-37 20-30 20-21 20-15 20-7 20-1 20 3 19 5 20 4 10 1-15-37-10-1-20-4-20-3-20 0-20 5-20 11-19 19-20 27-20 35-20 43-20 48-20 51-20 50-20 38-19 12-20-17-20-35-20-41-20-39-20-35-20-29-20-20-19-12-20-4-20 2-20 9-20 13-20 14-20 14-20 10-19 7-20 2zM1918 3277l20-2 19-7 20-10 20-14 20-14 20-13 20-9 20-2 20 4 19 12 20 20 20 29 20 35 20 39 20 41 20 35 20 17 19-12 20-38 20-50 20-51 20-48 20-43 20-35 20-27 19-19 20-11 20-5 20 0 20 3 20 4 10 1-16-38-10-1-20-2-19-1-20 2-20 8-20 15-20 23-20 32-20 40-19 47-20 53-20 57-20 56-20 43-20 10-20-26-20-43-19-47-20-43-20-38-20-30-20-22-20-14-20-6-20 1-19 7-20 11-20 12-20 11-20 8-20 5-20 2zM1902 3239l20-2 20-5 20-8 20-11 20-12 20-11 19-7 20-1 20 6 20 14 20 22 20 30 20 38 20 43 19 47 20 43 20 26 20-10 20-43 20-56 20-57 20-53 19-47 20-40 20-32 20-23 20-15 20-8 20-2 19 1 20 2 10 1-15-34-10-1-20-1-20 1-20 5-20 11-19 18-20 26-20 35-20 43-20 51-20 57-20 62-20 62-19 50-20 11-20-34-20-50-20-50-20-47-20-40-20-33-19-24-20-16-20-8-20-1-20 4-20 8-20 9-20 9-19 7-20 4-20 1zM1887 3204l20-1 20-4 19-7 20-9 20-9 20-8 20-4 20 1 20 8 20 16 19 24 20 33 20 40 20 47 20 50 20 50 20 34 20-11 19-50 20-62 20-62 20-57 20-51 20-43 20-35 20-26 19-18 20-11 20-5 20-1 20 1 10 1-16-26-9 0-20 0-20 3-20 7-20 13-20 20-20 28-20 36-19 45-20 53-20 59-20 64-20 66-20 60-20 16-20-40-19-54-20-53-20-49-20-43-20-34-20-27-20-18-20-11-20-4-19 2-20 5-20 7-20 7-20 5-20 4-20 1zM1871 3177l20-1 20-4 20-5 20-7 20-7 20-5 19-2 20 4 20 11 20 18 20 27 20 34 20 43 20 49 20 53 19 54 20 40 20-16 20-60 20-66 20-64 20-59 20-53 19-45 20-36 20-28 20-20 20-13 20-7 20-3 20 0 9 0-15-16-10 1-20 2-20 5-20 8-19 15-20 20-20 29-20 37-20 45-20 52-20 59-20 65-19 68-20 65-20 28-20-44-20-56-20-55-20-50-20-43-19-37-20-28-20-21-20-13-20-6-20-1-20 2-20 5-19 6-20 5-20 3-20 2zM1856 3161l20-2 20-3 20-5 19-6 20-5 20-2 20 1 20 6 20 13 20 21 20 28 19 37 20 43 20 50 20 55 20 56 20 44 20-28 20-65 19-68 20-65 20-59 20-52 20-45 20-37 20-29 20-20 19-15 20-8 20-5 20-2 10-1-15-3-10 2-20 3-20 6-20 10-20 15-20 21-20 28-19 36-20 43-20 51-20 57-20 63-20 66-20 68-20 44-20-45-19-56-20-55-20-49-20-44-20-37-20-30-20-22-19-15-20-9-20-3-20 0-20 4-20 4-20 4-20 4-20 4zM1840 3158l20-4 20-4 20-4 20-4 20-4 20 0 20 3 20 9 19 15 20 22 20 30 20 37 20 44 20 49 20 55 19 56 20 45 20-44 20-68 20-66 20-63 20-57 20-51 20-43 19-36 20-28 20-21 20-15 20-10 20-6 20-3 10-2-16 10-10 3-20 5-20 7-19 11-20 14-20 21-20 27-20 33-20 41-20 47-20 53-19 59-20 63-20 66-20 59-20-41-20-54-20-53-20-48-19-43-20-36-20-30-20-23-20-17-20-10-20-5-20-1-19 2-20 4-20 4-20 5-20 4zM1825 3167l20-4 20-5 20-4 20-4 19-2 20 1 20 5 20 10 20 17 20 23 20 30 20 36 19 43 20 48 20 53 20 54 20 41 20-59 20-66 20-63 19-59 20-53 20-47 20-41 20-33 20-27 20-21 20-14 19-11 20-7 20-5 10-3-15 24-10 3-20 6-20 9-20 10-20 15-20 19-19 24-20 31-20 36-20 43-20 48-20 53-20 58-20 60-19 62-20-23-20-51-20-49-20-45-20-40-20-35-20-30-19-23-20-17-20-11-20-6-20-1-20 1-20 4-20 4-19 6-20 5zM1810 3190l20-5 19-6 20-4 20-4 20-1 20 1 20 6 20 11 20 17 19 23 20 30 20 35 20 40 20 45 20 49 20 51 20 23 19-62 20-60 20-58 20-53 20-48 20-43 20-36 20-31 19-24 20-19 20-15 20-10 20-9 20-6 10-3-16 36-10 4-20 7-19 9-20 11-20 13-20 17-20 21-20 27-20 32-20 37-19 42-20 46-20 51-20 54-20 55-20 0-20-45-20-44-19-40-20-37-20-33-20-27-20-22-20-16-20-11-20-7-19-1-20 1-20 4-20 5-20 6-20 7zM1794 3226l20-7 20-6 20-5 20-4 20-1 19 1 20 7 20 11 20 16 20 22 20 27 20 33 20 37 19 40 20 44 20 45 20 0 20-55 20-54 20-51 20-46 19-42 20-37 20-32 20-27 20-21 20-17 20-13 20-11 19-9 20-7 10-4-15 48-10 4-20 8-20 9-20 10-20 12-19 14-20 18-20 22-20 26-20 31-20 35-20 40-20 42-19 46-20 48-20 19-20-38-20-37-20-35-20-32-20-29-19-24-20-20-20-14-20-10-20-6-20-1-20 2-20 4-19 6-20 7-20 8zM1779 3273l20-8 20-7 19-6 20-4 20-2 20 1 20 6 20 10 20 14 20 20 19 24 20 29 20 32 20 35 20 37 20 38 20-19 20-48 19-46 20-42 20-40 20-35 20-31 20-26 20-22 20-18 19-14 20-12 20-10 20-9 20-8 10-4-16 56-10 5-19 8-20 8-20 9-20 10-20 12-20 14-20 17-20 21-19 24-20 28-20 31-20 35-20 37-20 40-20 33-20-30-19-30-20-29-20-26-20-24-20-20-20-16-20-12-20-8-19-4-20 0-20 3-20 5-20 7-20 8-20 9zM1763 3329l20-9 20-8 20-7 20-5 20-3 20 0 19 4 20 8 20 12 20 16 20 20 20 24 20 26 20 29 19 30 20 30 20-33 20-40 20-37 20-35 20-31 20-28 19-24 20-21 20-17 20-14 20-12 20-10 20-9 20-8 19-8 10-5-15 61-10 4-20 9-20 7-20 7-19 8-20 8-20 10-20 13-20 15-20 18-20 21-20 24-19 27-20 29-20 31-20 33-20-15-20-23-20-21-20-20-19-18-20-15-20-11-20-9-20-5-20-1-20 1-20 5-19 6-20 9-20 9-20 9zM1748 3390l20-9 20-9 20-9 19-6 20-5 20-1 20 1 20 5 20 9 20 11 20 15 19 18 20 20 20 21 20 23 20 15 20-33 20-31 20-29 19-27 20-24 20-21 20-18 20-15 20-13 20-10 20-8 19-8 20-7 20-7 20-9 10-4-15 56-10 4-20 7-20 5-20 5-20 5-20 5-20 7-20 8-19 11-20 13-20 16-20 19-20 21-20 22-20 25-20 23-19-3-20-15-20-14-20-14-20-11-20-9-20-7-20-4-19-1-20 1-20 5-20 6-20 8-20 9-20 9-20 9zM1732 3446l20-9 20-9 20-9 20-8 20-6 20-5 20-1 19 1 20 4 20 7 20 9 20 11 20 14 20 14 20 15 19 3 20-23 20-25 20-22 20-21 20-19 20-16 20-13 19-11 20-8 20-7 20-5 20-5 20-5 20-5 20-7 10-4-8 19-10 3-20 5-20 4-20 3-20 4-20 4-19 6-20 7-20 10-20 13-20 15-20 17-20 19-20 21-19 22-20 19-20-3-20-11-20-12-20-10-20-9-20-7-19-4-20-2-20 1-20 3-20 6-20 7-20 9-20 9-19 9-20 8z"/><g class="ml" stroke="url(#a8)"><path transform="translate(2211 3789)" d="M0 -92l20-6 20-7 20-9 19-8 20-8 20-6 20-5 20-2 20 0 20 2 20 5 20 7 19 9 20 10 20 10 20 5 20-15 20-21 20-21 20-19 19-18 20-15 20-13 20-11 20-8 20-6 20-4 20-3 19-2 20-2 20-3 10-2"/><path transform="translate(2203.3 3785.5)" d="M0 -101l20-4 20-5 20-7 19-7 20-8 20-6 20-5 20-3 20 0 20 2 20 4 20 7 19 8 20 11 20 11 20 8 20-13 20-22 20-22 19-21 20-19 20-18 20-15 20-12 20-9 20-8 20-5 19-3 20-2 20-1 20-2 10-1"/><path transform="translate(2195.6 3781.9)" d="M0 -124l20-2 20-4 20-5 19-6 20-6 20-5 20-4 20-3 20 1 20 2 20 6 20 8 19 10 20 12 20 14 20 12 20-13 20-25 20-25 20-24 19-22 20-20 20-17 20-15 20-11 20-9 20-7 20-4 19-2 20-2 20-1 10-1"/><path transform="translate(2187.8 3778.4)" d="M0 -154l20-2 20-3 20-4 19-4 20-5 20-4 20-2 20 0 20 2 20 4 20 8 20 11 19 12 20 16 20 17 20 17 20-18 20-29 20-28 20-28 19-25 20-22 20-20 20-17 20-14 20-10 20-8 20-5 19-3 20-2 20-2 10 0"/><path transform="translate(2180.1 3774.9)" d="M0 -187l20-2 20-3 20-3 19-3 20-3 20-2 20-1 20 2 20 5 20 7 20 11 20 13 19 16 20 19 20 21 20 21 20-25 20-33 20-32 20-30 19-29 20-25 20-22 20-19 20-16 20-12 20-9 20-6 19-4 20-2 20-2 10-1"/><path transform="translate(2172.4 3771.3)" d="M0 -222l20-1 20-3 20-2 19-2 20-2 20-1 20 2 20 4 20 7 20 10 20 14 20 17 19 21 20 22 20 25 20 26 20-36 20-37 20-35 20-34 19-31 20-28 20-25 20-21 20-17 20-13 20-10 20-7 19-5 20-3 20-2 10-1"/><path transform="translate(2164.7 3767.8)" d="M0 -255l20-2 20-2 20-2 19-2 20-1 20 1 20 4 20 6 20 10 20 14 20 17 20 21 19 24 20 27 20 29 20 22 20-40 20-41 20-39 19-37 20-34 20-30 20-27 20-23 20-18 20-15 20-10 19-8 20-5 20-4 20-2 10-1"/><path transform="translate(2157 3764.3)" d="M0 -288l20-2 20-2 20-2 19-1 20 0 20 3 20 5 20 9 20 13 20 17 20 21 20 25 19 28 20 31 20 33 20 16 20-44 20-44 20-43 20-40 19-36 20-33 20-29 20-24 20-20 20-15 20-11 20-9 19-5 20-4 20-3 10-1"/><path transform="translate(2149.2 3760.8)" d="M0 -318l20-3 20-2 20-2 19-1 20 2 20 4 20 7 20 11 20 16 20 20 20 25 20 29 19 32 20 35 20 37 20 9 20-49 20-47 20-46 20-43 19-39 20-35 20-30 20-25 20-21 20-16 20-12 20-8 19-7 20-4 20-3 10-2"/><path transform="translate(2141.5 3757.2)" d="M0 -346l20-4 20-2 20-2 19 0 20 2 20 5 20 9 20 14 20 18 20 24 20 28 20 32 19 37M298 -105l20-1 20-52 20-51 20-48 20-46 19-41 20-36 20-32 20-26 20-21 20-17 20-12 20-9 19-6 20-5 20-4 10-2"/><path transform="translate(2133.8 3753.7)" d="M0 -372l20-4 20-3 20-2 19 0 20 3 20 6 20 11 20 16 20 21 20 27 20 31 20 36 19 40M298 -102l20-11 20-55 20-54 20-51 20-48 19-43 20-38 20-32 20-27 20-22 20-16 20-13 20-9 19-7 20-5 20-4 10-2"/><path transform="translate(2126.1 3750.2)" d="M0 -395l20-4 20-4 20-2 19 0 20 3 20 8 20 12 20 18 20 24 20 29 20 35 20 40M298 -98l20-22 20-59 20-56 20-54 20-49 19-45 20-39 20-33 20-27 20-22 20-17 20-12 19-10 20-6 20-6 20-5 10-2"/><path transform="translate(2118.4 3746.6)" d="M0 -415l20-5 20-4 20-2 19 0 20 3 20 9 20 14 20 20 20 26 20 32 20 38 20 42M298 -94l20-34 20-61 20-59 20-56 20-51 19-46 20-39 20-34 20-27 20-22 20-17 20-12 20-9 19-7 20-6 20-5 10-3"/><path transform="translate(2110.7 3743.1)" d="M0 -432l20-5 20-5 20-3 19 0 20 4 20 10 20 15 20 21 20 28 20 35 20 40M298 -92l20-44 20-63 20-61 20-58 20-52 19-47 20-40 20-34 20-27 20-22 20-16 20-12 20-9 19-7 20-5 20-6 10-3"/><path transform="translate(2102.9 3739.6)" d="M0 -445l20-6 20-6 20-3 19 0 20 4 20 10 20 16 20 23 20 30 20 37 20 43M298 -93l20-51 20-65 20-63 20-59 20-53 19-47 20-41 20-34 20-27 20-21 20-15 20-12 20-8 19-7 20-6 20-6 10-3"/><path transform="translate(2095.2 3736)" d="M0 -455l20-7 20-6 20-4 19 0 20 4 20 10 20 17 20 24 20 32 20 39M298 -99l20-54 20-66 20-64 20-60 20-54 19-47 20-41 20-33 20-27 20-20 20-15 20-10 20-8 19-7 20-6 20-6 10-4"/><path transform="translate(2087.5 3732.5)" d="M0 -462l20-8 20-6 20-5 19-1 20 5 20 10 20 18 20 25 20 33M318 -161l20-67 20-65 20-61 20-54 19-47 20-41 20-32 20-26 20-19 20-14 20-10 19-8 20-6 20-6 20-7 10-3"/><path transform="translate(2079.8 3729)" d="M0 -465l20-9 20-7 20-5 19-2 20 5 20 10 20 18 20 26 20 33M318 -170l20-67 20-65 20-61 20-54 19-48 20-39 20-32 20-25 20-18 20-13 20-9 20-7 19-5 20-6 20-7 10-4"/><path transform="translate(2072.1 3725.4)" d="M0 -465l20-9 20-9 20-5 19-2 20 3 20 11 20 18 20 26M318 -178l20-67 20-65 20-61 20-54 19-47 20-39 20-31 20-24 20-17 20-12 20-7 20-6 19-5 20-6 20-7 10-4"/><path transform="translate(2064.3 3721.9)" d="M0 -462l20-10 20-9 20-7 19-2 20 3 20 10 20 17 20 27M318 -187l20-66 20-64 20-61 20-53 19-46 20-39 20-30 20-22 20-16 20-10 20-7 20-5 19-4 20-5 20-7 10-5"/><path transform="translate(2056.6 3718.4)" d="M0 -456l20-11 20-9 20-8 19-4 20 3 20 9 20 17M318 -195l20-64 20-64 20-60 20-53 19-45 20-37 20-29 20-21 20-15 20-9 20-5 20-4 19-3 20-5 20-7 10-4"/><path transform="translate(2048.9 3714.8)" d="M0 -448l20-10 20-11 20-9 19-4 20 1 20 8M318 -202l20-63 20-63 20-58 20-52 19-44 20-37 20-27 20-20 20-13 20-8 20-4 19-2 20-3 20-4 20-7 10-5"/><path transform="translate(2041.2 3711.3)" d="M0 -437l20-11 20-11 20-10 19-6 20 1M318 -210l20-60 20-61 20-57 20-51 19-43 20-35 20-27 20-18 20-12 20-6 20-3 20-1 19-2 20-3 20-7 10-5"/><path transform="translate(2033.5 3707.8)" d="M0 -424l20-11 20-13 20-10 19-7M318 -217l20-57 20-59 20-56 20-49 19-42 20-34 20-25 20-18 20-10 20-5 20-2"/><path transform="translate(2025.8 3704.2)" d="M0 -409l20-12 20-13 20-12M318 -223l20-54 20-57 20-53 20-49 19-41 20-32 20-25 20-16 20-9 20-4"/><path transform="translate(2018 3700.7)" d="M0 -394l20-12 20-14 20-12M318 -229l20-50 20-54 20-52 20-47 19-40 20-31 20-24 20-15 20-9 20-2"/><path transform="translate(2010.3 3697.2)" d="M0 -378l20-12 20-15 20-13 19-11M318 -234l20-46 20-51 20-50 20-45 19-39 20-31 20-23 20-15 20-7"/><path transform="translate(2002.6 3693.7)" d="M0 -363l20-12 20-15 20-14 19-12M318 -238l20-41 20-49 20-48 20-44 19-38 20-30 20-22 20-15 20-7"/><path transform="translate(1994.9 3690.1)" d="M0 -349l20-12 20-14 20-16 19-13 20-9M318 -242l20-36 20-45 20-46 20-43 19-37 20-30 20-23 20-14 20-7"/><path transform="translate(1987.2 3686.6)" d="M0 -337l20-11 20-15 20-16 19-14 20-11M338 -276l20-41 20-44 20-42 19-37 20-30 20-23 20-15 20-8"/><path transform="translate(1979.4 3683.1)" d="M0 -327l20-11 20-14 20-17 19-15 20-13 20-8M338 -273l20-38 20-42 20-40 19-37 20-31 20-23 20-16 20-9"/><path transform="translate(1971.7 3679.5)" d="M0 -322l20-9 20-14 20-16 19-17 20-14 20-9M338 -269l20-34 20-40 20-40 19-37 20-32 20-25 20-17 20-10 20-4"/><path transform="translate(1964 3676)" d="M0 -320l20-8 20-13 20-16 19-17 20-15 20-12M338 -264l20-30 20-39 20-40 19-38 20-33 20-26 20-19 20-12 20-5"/><path transform="translate(1956.3 3672.5)" d="M0 -322l20-6 20-13 20-15M358 -284l20-38 20-40 19-39 20-35 20-29 20-21 20-14 20-7 20-1"/><path transform="translate(1948.6 3668.9)" d="M0 -327l20-6 20-11 20-15 19-17 20-16 20-14 20-8M358 -274l20-37 20-41 19-41 20-37 20-31 20-24 20-16 20-9 20-3 20 2"/><path transform="translate(1940.8 3665.4)" d="M0 -337l20-4 20-10 20-14 19-17 20-16 20-14 20-9 20-2 20 4M358 -263l20-36 20-43 19-43 20-39 20-34 20-27 20-19 20-12 20-4 20 0 19 4 20 6"/><path transform="translate(1933.1 3661.9)" d="M0 -349l20-3 20-9 20-13 19-16 20-15 20-14 20-9 20-4 20 4M358 -252l20-36 20-44 19-46 20-42 20-37 20-29 20-22 20-14 20-8 20-1 19 3 20 5 20 4 10 1"/><path transform="translate(1925.4 3658.3)" d="M0 -363l20-3 20-7 20-12 19-14 20-16 20-13 20-9 20-3 20 4 20 11M378 -277l20-47 19-48 20-45 20-40 20-32 20-25 20-17 20-9 20-3 19 2 20 4 20 4 10 1"/><path transform="translate(1917.7 3654.8)" d="M0 -378l20-2 20-7 20-10 19-14 20-14 20-13 20-8 20-3 20 4 20 12 20 21M378 -267l20-50 19-51 20-48 20-42 20-36 20-27 20-19 20-11 20-5 19 1 20 3 20 3 10 1"/><path transform="translate(1910 3651.3)" d="M0 -394l20-1 20-6 20-10 19-12 20-13 20-12 20-8 20-2 20 5 20 13 20 21M378 -258l20-52 19-55 20-50 20-46 20-37 20-30 20-21 20-13 20-6 19-2 20 2 20 3 10 2"/><path transform="translate(1902.3 3647.8)" d="M0 -409l20-1 20-5 20-9 19-11 20-12 20-10 20-7 20-2 20 6 20 14 20 22M378 -250l20-55 19-57 20-54 20-47 20-40 20-32 20-23 20-15 20-8 19-2 20 1 20 2 10 1"/><path transform="translate(1894.5 3644.2)" d="M0 -424l20-1 20-4 20-8 19-10 20-10 20-10 20-5 20 0 20 6 20 15 20 24 20 31M398 -302l19-59 20-56 20-49 20-42 20-33 20-25 20-16 20-10 19-4 20 0 20 2 10 1"/><path transform="translate(1886.8 3640.7)" d="M0 -437l20-1 20-4 20-6 19-9 20-10 20-8 20-4 20 1 20 8 20 16 20 25M398 -299l19-62 20-57 20-51 20-43 20-35 20-26 20-18 20-10 19-5 20-1 20 1 10 0"/><path transform="translate(1879.1 3637.2)" d="M0 -448l20-1 20-3 20-7 19-8 20-8 20-6 20-3 20 2 20 10 20 17 20 25M398 -297l19-64 20-58 20-52 20-44 20-36 20-27 20-19 20-12 19-6 20-2 20 0 10 0"/><path transform="translate(1871.4 3633.6)" d="M0 -456l20-2 20-3 20-6 19-7 20-7 20-5 20-2 20 4 20 11 20 18M398 -296l19-65 20-59 20-53 20-44 20-37 20-28 20-20 20-12 19-7 20-3 20-1 10 0"/><path transform="translate(1863.7 3630.1)" d="M0 -462l20-2 20-3 20-6 19-6 20-6 20-4 20 0 20 5 20 12 20 20M398 -296l19-65 20-59 20-53 20-45 20-37 20-28 20-21 20-13 19-8 20-4 20-1 10-1"/><path transform="translate(1855.9 3626.6)" d="M0 -465l20-3 20-3 20-5 19-5 20-5 20-3 20 1 20 7 20 13M398 -296l19-64 20-60 20-52 20-45 20-37 20-28 20-21 20-14 19-9 20-4 20-3 10-1"/><path transform="translate(1848.2 3623)" d="M0 -465l20-3 20-4 20-4 19-5 20-4 20-2 20 3 20 7M258 -331l20 50 20 55M398 -295l19-64 20-59 20-51 20-45 20-36 20-29 20-21 20-14 19-9 20-6 20-3 10-1"/><path transform="translate(1840.5 3619.5)" d="M0 -462l20-3 20-4 20-4 19-5 20-3 20-1 20 4 20 8M258 -322l20 50 20 54 20 57M398 -295l19-62 20-58 20-50 20-43 20-36 20-28 20-21 20-15 19-10 20-6 20-4 10-1"/><path transform="translate(1832.8 3616)" d="M0 -455l20-4 20-4 20-5 19-4 20-2 20 0 20 4M258 -311l20 49 20 53 20 56 20 44M398 -293l19-61 20-56 20-49 20-42 20-35 20-27 20-21 20-15 19-10 20-7 20-5 10-1"/><path transform="translate(1825.1 3612.4)" d="M0 -445l20-5 20-4 20-5 19-3 20-2 20 0M239 -342l19 43 20 48 20 52 20 55 20 40M417 -350l20-53 20-48 20-40 20-34 20-27 20-20 20-15 19-10 20-8 20-5 10-2"/><path transform="translate(1817.3 3608.9)" d="M0 -432l20-5 20-5 20-4 19-4M239 -328l19 42 20 47 20 50 20 53 20 34M417 -344l20-51 20-46 20-38 20-32 20-26 20-20 20-14"/><path transform="translate(1809.6 3605.4)" d="M0 -415l20-6 20-5 20-5M239 -313l19 41 20 45 20 48 20 51 20 23M417 -337l20-49 20-42 20-37 20-30 20-25 20-19"/><path transform="translate(1801.9 3601.8)" d="M0 -395l20-6 20-6 20-5 19-4M239 -296l19 39 20 43 20 46 20 48 20 11M417 -329l20-45 20-40 20-34 20-29 20-23"/><path transform="translate(1794.2 3598.3)" d="M0 -372l20-7 20-6 20-6 19-3 20-2M239 -279l19 37 20 41 20 43 20 45 20 1M417 -319l20-42 20-37 20-31 20-27"/><path transform="translate(1786.5 3594.8)" d="M0 -346l20-8 20-6 20-6 19-4 20-2 20 2M239 -260l19 34 20 38 20 41 20 41 20-10M417 -307l20-39 20-34 20-29"/><path transform="translate(1778.8 3591.2)" d="M0 -318l20-8 20-7 20-6 19-5 20-2 20 2 20 5M239 -242l19 33 20 35 20 37 20 38 20-20M437 -329l20-31"/><path transform="translate(1771 3587.7)" d="M0 -288l20-8 20-7 20-7 19-5 20-2 20 1 20 5 20 9M219 -249l20 27 19 29 20 32 20 33 20 34M437 -311l20-28"/><path transform="translate(1763.3 3584.2)" d="M0 -255l20-9 20-8 20-7 19-5 20-3 20 0 20 4 20 8 20 12 20 16 20 20 20 24 19 26 20 29 20 29 20 30"/><path transform="translate(1755.6 3580.7)" d="M0 -222l20-8 20-9 20-8 19-6 20-3 20-1 20 3 20 7 20 10 20 14 20 18 20 20 19 24 20 25 20 26 20 25"/><path transform="translate(1747.9 3577.1)" d="M0 -187l20-10 20-9 20-8 19-6 20-5 20-1 20 1 20 5 20 9 20 11 20 15 20 18 19 20 20 21 20 23 20 14"/><path transform="translate(1740.2 3573.6)" d="M0 -154l20-9 20-9 20-9 19-7 20-6 20-3 20 0 20 3 20 7 20 9 20 12 20 15 19 16 20 18 20 19 20 7"/><path transform="translate(1732.4 3570.1)" d="M0 -124l20-9 20-9 20-9 19-8 20-6 20-5 20-1 20 1 20 4 20 7 20 9 20 11 19 14 20 14 20 15 20 2"/><path transform="translate(1724.7 3566.5)" d="M0 -101l20-8 20-9 20-9 19-8 20-7 20-6 20-3 20-1 20 1 20 5 20 6 20 9 19 11 20 11 20 12 20 2"/></g><g class="ml" stroke="url(#b8)"><path transform="translate(2211 3789)" d="M0 -92l-15-39-16-71-15-74-16-70-15-62-16-49-15-38-15-23-16-11-15 2-16 13-15 20-16 24-15 22-16 15-15 0-15-15-16-28-15-36-16-38-15-35-16-27-15-16-16-3-15 9-15 23-16 36-15 47-16 56-15 61-16 56-7 20"/><path transform="translate(2220.9 3786.4)" d="M0 -92l-15-37-16-71-15-75-16-70-15-62-16-50-15-38-15-25-16-11-15 2-16 12-15 20-16 24-15 23-16 15-15 2-15-14-16-27-15-36-16-38-15-35-16-27-15-16-16-4-15 9-15 22-16 35-15 47-16 55-15 61-16 57-7 20"/><path transform="translate(2230.9 3783.7)" d="M0 -93l-15-35-16-70-15-75-16-71-15-62-16-51-15-39-15-25-16-12-15 1-16 12-15 19-16 24-15 23-16 16-15 3-15-13-16-26-15-35-16-37-15-35-16-27-15-17-16-4-15 8-15 22-16 35-15 46-16 55-15 60-16 57-7 20"/><path transform="translate(2240.8 3781.1)" d="M0 -93l-15-34-16-70-15-74-16-71-15-63-16-52-15-39-15-26-16-12-15 0-16 10-15 19-16 24-15 22-16 16-15 4-15-11-16-25-15-34-16-37-15-34-16-27-15-17-16-5-15 9-15 21-16 34-15 46-16 54-15 60-16 57-7 20"/><path transform="translate(2250.8 3778.4)" d="M0 -95l-15-32-16-68-15-75-16-71-15-63-16-52-15-40-15-26-16-14-15 0-16 9-15 19-16 22-15 22-16 16-15 5-15-11-16-23-15-33-16-36-15-33-16-27-15-17-16-5-15 8-15 21-16 34-15 45-16 54-15 59-16 57-7 21"/><path transform="translate(2260.7 3775.8)" d="M0 -96l-15-31-16-67-15-74-16-71-15-63-16-53-15-40-15-27-16-14-15-2-16 9-15 17-16 22-15 21-16 16-15 5-15-10-16-23-15-31-16-35-15-33-16-26-15-17-16-4-15 7-15 21-16 34-15 44-16 54-15 59-16 56-7 21"/><path transform="translate(2270.6 3773.2)" d="M0 -98l-15-29-16-66-15-74-16-70-15-63-16-53-15-41-15-27-16-15-15-3-16 8-15 16-16 21-15 20-16 15-15 5-15-9-16-22-15-31-16-33-15-32-16-25-15-16-16-5-15 8-15 20-16 34-15 44-16 53-15 58-16 56-7 21"/><path transform="translate(2280.6 3770.5)" d="M0 -99l-15-28-16-65-15-73-16-70-15-63-16-53-15-41-15-28-16-15-15-4-16 7M-201 -497l-15 19-16 14-15 4-15-9-16-21-15-30-16-32-15-31-16-24-15-16-16-4-15 8-15 21-16 33-15 44-16 53-15 57-16 55-7 21"/><path transform="translate(2290.5 3767.9)" d="M0 -101l-15-26-16-64-15-72-16-70-15-62-16-53-15-40-15-29-16-16-15-4-16 6M-201 -500l-15 18-16 13-15 3-15-9-16-21-15-28-16-31-15-30-16-23-15-15-16-3-15 8M-417 -564l-15 44-16 52-15 57-16 54-7 21"/><path transform="translate(2300.4 3765.2)" d="M0 -102l-15-26-16-62-15-71-16-69-15-62-16-52-15-40-15-29-16-16-15-5-16 5M-216 -484l-16 11-15 2-15-10-16-20-15-27-16-31-15-28-16-22-15-14-16-2-15 9M-417 -562l-15 43-16 52-15 56-16 53-7 20"/><path transform="translate(2310.4 3762.6)" d="M0 -103l-15-25-16-61-15-70-16-67-15-61-16-51-15-41-15-28-16-17-15-6-16 4M-216 -486l-16 10-15 0-15-10-16-20-15-27-16-29-15-27-16-21-15-12-16-2-15 9M-417 -560l-15 43-16 51-15 56-16 52-7 19"/><path transform="translate(2320.3 3760)" d="M0 -104l-15-24-16-59-15-69-16-66-15-60-16-50-15-40-15-28-16-17-15-6-16 3M-232 -478l-15-1-15-12-16-20-15-26-16-28-15-25-16-20-15-11-16-1-15 10M-417 -557l-15 43-16 51-15 54-16 51-7 19"/><path transform="translate(2330.3 3757.3)" d="M0 -105l-15-23-16-58-15-66-16-65-15-58-16-50-15-39-15-28-16-16-15-7M-232 -479l-15-3-15-12-16-21-15-25-16-27-15-24-16-19-15-10-16 0-15 12M-432 -510l-16 50-15 53-16 50-7 18"/><path transform="translate(2340.2 3754.7)" d="M0 -105l-15-22-16-56-15-65-16-63-15-57-16-48-15-38-15-27-16-17-15-7M-262 -496l-16-21-15-25-16-26-15-23-16-17-15-9-16 1M-432 -505l-16 49-15 52-16 49-7 17"/><path transform="translate(2350.1 3752)" d="M0 -104l-15-23-16-54-15-62-16-61-15-55-16-47-15-36-15-27-16-16-15-7M-262 -497l-16-22-15-25-16-25-15-21-16-16-15-7-16 2M-432 -499l-16 48-15 51-16 47-7 16"/><path transform="translate(2360.1 3749.4)" d="M0 -103l-15-22-16-53-15-60-16-59-15-52-16-45-15-35-15-25-16-16M-262 -496l-16-22-15-25-16-24-15-21-16-14-15-6-16 3M-448 -445l-15 50-16 45-7 15"/><path transform="translate(2370 3746.7)" d="M0 -101l-15-22-16-51-15-58-16-56-15-50-16-42-15-34-15-24-16-16M-278 -517l-15-24-16-24-15-19-16-13-15-5-16 5M-448 -438l-15 48-16 43-7 14"/><path transform="translate(2379.9 3744.1)" d="M0 -99l-15-22-16-48-15-55-16-54-15-47-16-41-15-31-15-23-16-15M-278 -513l-15-24-16-23-15-18-16-12-15-3M-448 -430l-15 47-16 40-7 14"/><path transform="translate(2389.9 3741.5)" d="M0 -96l-15-22-16-46-15-52-16-51-15-45-16-37-15-30-15-21M-278 -507l-15-25-16-21-15-18-16-10-15-2M-448 -420l-15 44-16 38-7 12"/><path transform="translate(2399.8 3738.8)" d="M0 -92l-15-22-16-44-15-49-16-47-15-42-16-35-15-28-15-19M-278 -500l-15-24-16-21-15-16-16-9-15-1M-448 -410l-15 42-16 36-7 11"/><path transform="translate(2409.8 3736.2)" d="M0 -88l-15-22-16-41-15-46-16-44-15-39-16-32-15-25M-293 -514l-16-20-15-15-16-8M-448 -399l-15 40-16 33-7 10"/><path transform="translate(2419.7 3733.5)" d="M0 -83l-15-22-16-39-15-43-16-40-15-35-16-29-15-22M-293 -502l-16-20-15-14-16-6M-448 -387l-15 38-16 30-7 9"/><path transform="translate(2429.6 3730.9)" d="M0 -78l-15-21-16-37-15-39-16-36-15-32-16-26-15-20M-293 -488l-16-19-15-13M-448 -374l-15 36-16 27-7 7"/><path transform="translate(2439.6 3728.3)" d="M0 -72l-15-21-16-33-15-36-16-33-15-28-16-22M-309 -490l-15-12M-417 -425l-15 32-16 33-15 33-16 24-7 6"/><path transform="translate(2449.5 3725.6)" d="M0 -66l-15-20-16-31-15-31-16-29-15-25-16-19M-386 -455l-15 22-16 27-15 30-16 31-15 29-16 22-7 4"/><path transform="translate(2459.4 3723)" d="M0 -59l-15-19-16-28-15-28-16-25-15-20M-371 -448l-15 16-15 21-16 26-15 27-16 29-15 26-16 18-7 3"/><path transform="translate(2469.4 3720.3)" d="M0 -52l-15-18-16-25-15-24-16-21-15-16M-371 -423l-15 16-15 20-16 23-15 25-16 26-15 23-16 14-7 2"/><path transform="translate(2479.3 3717.7)" d="M0 -44l-15-18-16-21-15-20-16-17M-371 -396l-15 15-15 19-16 21-15 22-16 23-15 19-16 11-7 0"/><path transform="translate(2489.3 3715.1)" d="M0 -36l-15-17-16-18-15-16-16-12M-371 -368l-15 14-15 17-16 19-15 20-16 19-15 15-16 8-7-1"/><path transform="translate(2499.2 3712.4)" d="M0 -28l-15-15-16-15-15-12M-93 -85l-15-2M-371 -338l-15 13-15 15-16 16-15 17-16 15-15 12-16 4-7-3"/><path transform="translate(2509.1 3709.8)" d="M0 -21l-15-13-16-11-15-8-16-4-15-1-16 1-15-7M-371 -308l-15 12-15 13-16 14-15 13-16 12-15 8-16 0-7-4"/><path transform="translate(2519.1 3707.1)" d="M0 -14l-15-10-16-8-15-3-16-1-15-2-16-20-15-22-15-24-16-25-15-25M-371 -277l-15 11-15 11-16 11-15 10-16 8-15 4-16-6-7-6"/><path transform="translate(2529 3704.5)" d="M0 -11l-15-5-16-2-15-7-16-18-15-20-16-23-15-23-15-24-16-24-15-24-16-22-15-20-16-18-15-15M-371 -246l-15 10-15 9-16 8-15 6-16 4-15-7-16-12-7-5"/><path transform="translate(2538.9 3701.9)" d="M0 -14l-15-2-16-8-15-19-16-22-15-24-16-25-15-25-15-25-16-24-15-22-16-20-15-17-16-13-15-10-16-7M-371 -217l-15 10-15 8-16 5-15-11-16-14-15-10"/><path transform="translate(2548.9 3699.2)" d="M0 -21l-15-3-16-14-15-23-16-25-15-28-16-28-15-27-15-26-16-24-15-21-16-18-15-14-16-10-15-5-16-2-15 2M-386 -191l-15-8-16-14-15-14"/><path transform="translate(2558.8 3696.6)" d="M0 -28l-15-6-16-18-15-26-16-30-15-30-16-31-15-29-15-27-16-24-15-21-16-16-15-12-16-6-15-3-16 3-15 6-15 10"/><path transform="translate(2568.8 3693.9)" d="M0 -36l-15-8-16-22-15-30-16-33-15-33-16-33-15-32-15-28-16-24-15-20-16-15-15-9-16-5-15 1-16 6-15 9-15 13-16 15"/><path transform="translate(2578.7 3691.3)" d="M0 -44l-15-10-16-25-15-34-16-36-15-37-16-35-15-33-15-29-16-24-15-20-16-13-15-8-16-2-15 3-16 7-15 12-15 14-16 16"/><path transform="translate(2588.6 3688.7)" d="M0 -52l-15-12-16-29-15-37-16-39-15-39-16-38-15-34-15-30-16-24-15-19-16-12-15-7-16 0-15 4-16 10-15 13-15 15-16 15-15 14-16 10"/><path transform="translate(2598.6 3686)" d="M0 -59l-15-14-16-32-15-41-16-42-15-42-16-39-15-36-15-30-16-25-15-18-16-11-15-5-16 1-15 6-16 11-15 13-15 15-16 14-15 12-16 7-15 2-16-3"/><path transform="translate(2608.5 3683.4)" d="M0 -66l-15-16-16-36-15-43-16-45-15-45-16-41-15-36-15-31-16-24-15-18-16-10-15-4-16 2-15 8-16 11-15 14-15 14-16 12-15 9-16 4-15-1-16-4-15-7-16-6"/><path transform="translate(2618.4 3680.7)" d="M0 -72l-15-19-16-39-15-46-16-48-15-46-16-43-15-37-15-31-16-24-15-17-16-9-15-3-16 4-15 8-16 12-15 13-15 13-16 10-15 6-16 1-15-3-16-6-15-7-16-5-15-2-15 3"/><path transform="translate(2628.4 3678.1)" d="M0 -78l-15-21-16-42-15-49-16-50-15-48-16-44-15-38-15-31-16-24-15-16-16-8-15-1-16 4-15 9-16 12-15 12-15 11-16 8-15 3-16-2-15-5-16-7-15-7-16-4-15 0-15 6-16 12"/><path transform="translate(2638.3 3675.5)" d="M0 -83l-15-24-16-44-15-52-16-53-15-49-16-45-15-38-15-31-16-24-15-15-16-7-15 0-16 5-15 10-16 11-15 12-15 9-16 5-15 0-16-4-15-8-16-8-15-7-16-3-15 2-15 9-16 15-15 21"/><path transform="translate(2648.3 3672.8)" d="M0 -88l-15-26-16-47-15-54-16-55-15-51-16-46-15-38-15-31-16-22-15-14-16-7-15 1-16 6-15 10-16 11-15 10-15 8-16 2-15-3-16-7-15-9-16-9-15-7-16-2-15 4-15 11-16 18-15 24"/><path transform="translate(2658.2 3670.2)" d="M0 -92l-15-28-16-50-15-57-16-56-15-52-16-46-15-39-15-31-16-21-15-13-16-5-15 2-16 6-15 11-16 10-15 9-15 5-16-1-15-5-16-10-15-11-16-10-15-6-16-1-15 5-15 14-16 20-15 28-16 33"/><path transform="translate(2668.1 3667.5)" d="M0 -96l-15-30-16-52-15-59-16-58-15-53-16-47-15-39-15-30-16-20-15-12-16-4-15 3-16 8-15 10-16 10-15 7-15 3-16-4-15-8-16-12-15-13-16-11-15-6-16 0-15 7-15 16-16 23-15 31"/><path transform="translate(2678.1 3664.9)" d="M0 -99l-15-32-16-54-15-61-16-59-15-55-16-47-15-38-15-30-16-19-15-11-16-3-15 5-16 8-15 10-16 10-15 5-15 1-16-7-15-11-16-14-15-15-16-11-15-7-16 1-15 9-15 17-16 26-15 34"/><path transform="translate(2688 3662.2)" d="M0 -101l-15-34-16-57-15-62-16-61-15-55-16-47-15-38-16-29-15-19-15-9-16-1-15 5-16 9-15 11-16 8-15 4-15-2-16-9-15-14-16-17-15-16-16-12-15-7-16 2-15 10-15 19-16 29"/><path transform="translate(2697.9 3659.6)" d="M0 -103l-15-36-16-58-15-64-16-62-15-56-16-47-15-38-16-28-15-17-15-8-16 0-15 6-16 10-15 11-16 8-15 2-15-4-16-12-15-17-16-19-15-17-16-14-15-6-16 2-15 11-15 21-16 30"/><path transform="translate(2707.9 3657)" d="M0 -104l-15-37-16-61-15-65-16-63-15-56-16-47-15-38-16-27-15-16-15-7-16 1-15 8-16 11-15 11-16 7-15 1-15-7-16-14-15-20-16-21-15-19-16-14-15-7-16 2-15 13-15 22-16 32"/><path transform="translate(2717.8 3654.3)" d="M0 -105l-15-39-16-62-15-66-16-64-15-56-16-48-15-37-16-26-15-15-15-6-16 3-15 9-16 12M-232 -482l-15-1-15-9-16-17-15-22-16-23-15-20-16-15-15-8-16 3-15 13-15 24"/><path transform="translate(2727.8 3651.7)" d="M0 -105l-15-40-16-64-15-68-16-64-15-56-16-48-15-36-16-26-15-14-15-4-16 4-15 10M-247 -482l-15-11-16-19-15-24-16-26-15-22-16-16-15-7-16 2-15 14-15 25"/><path transform="translate(2737.7 3649)" d="M0 -104l-15-42-16-65-15-69-16-64-15-58-16-47-15-36-16-24-15-13-15-3-16 5-15 12M-247 -479l-15-14-16-21-15-26-16-27-15-24-16-17-15-8-16 3-15 14-15 25"/><path transform="translate(2747.6 3646.4)" d="M0 -103l-15-43-16-66-15-70-16-65-15-58-16-47-15-35-16-24-15-12-15-2-16 7M-262 -491l-16-23-15-28-16-29-15-25-16-18-15-9-16 3-15 14-15 26"/><path transform="translate(2757.6 3643.8)" d="M0 -102l-15-44-16-67-15-71-16-65-15-58-16-47-15-35-16-23-15-12-15 0-16 8M-262 -487l-16-26-15-30-16-30-15-27-16-19-15-9-16 2-15 15"/><path transform="translate(2767.5 3641.1)" d="M0 -101l-15-44-16-68-15-71-16-67-15-58-16-47-15-35-16-22-15-11-15 1-16 9M-262 -483l-16-27-15-32-16-32-15-28-16-20-15-10-16 2-15 14"/><path transform="translate(2777.4 3638.5)" d="M0 -99l-15-45-16-69-15-72-16-66-15-59-16-47-15-35-16-22-15-10-15 2-16 10M-262 -478l-16-28-15-34-16-33-15-29-16-21-15-11-16 1-15 14"/><path transform="translate(2787.4 3635.8)" d="M0 -98l-15-44-16-70-15-72-16-68-15-58-16-47-15-35-16-22-15-10-15 2-16 12M-278 -502l-15-34-16-35-15-30-16-23-15-11-16 1-15 13"/><path transform="translate(2797.3 3633.2)" d="M0 -96l-15-44-16-71-15-73-16-67-15-59-16-48-15-35-16-21-15-10-15 3-16 12M-278 -497l-15-36-16-35-15-32-16-23-15-12-16 0-15 13"/><path transform="translate(2807.2 3630.6)" d="M0 -95l-15-43-16-71-15-74-16-68-15-59-16-48-15-35-16-22-15-9-15 3-16 12M-278 -492l-15-36-16-37-15-32-16-24-15-13-16-1-15 12"/><path transform="translate(2817.2 3627.9)" d="M0 -93l-15-43-16-71-15-74-16-69-15-59-16-49-15-35-16-23-15-9-15 3-16 13M-278 -487l-15-37-16-37-15-33-16-25-15-14-16-2-15 12"/><path transform="translate(2827.1 3625.3)" d="M0 -93l-15-41-16-71-15-75-16-69-15-60-16-49-15-36-16-22-15-10-15 3-16 13M-278 -482l-15-37-16-38-15-34-16-26-15-14-16-3-15 11"/><path transform="translate(2837.1 3622.6)" d="M0 -92l-15-41-16-70-15-75-16-70-15-60-16-50-15-36-16-23-15-10-15 2-16 13M-278 -479l-15-37-16-38-15-34-16-26-15-16-16-3-15 11"/></g>
<path class="ax" d="M2211 3789L2847 3620M2211 3789L1717 3563M1717 3563L1717 3073M2211 3789l5.4 9M2211 3789l-8.1 7.2M2370 3746.7l5.4 9M2087.5 3732.5l-8.1 7.2M2529 3704.5l5.4 9M1964 3676l-8.1 7.2M2688 3662.2l5.4 9M1840.5 3619.5l-8.1 7.2M2847 3620l5.4 9M1717 3563l-8.1 7.2M1717 3563l-9 0M1717 3481.3l-9 0M1717 3399.7l-9 0M1717 3318l-9 0M1717 3236.3l-9 0M1717 3154.7l-9 0M1717 3073l-9 0"/>
<text class="tk s" x="2237.1" y="3840.3">-1</text>
<text class="tk e s" x="2185.8" y="3832.2">-1</text>
<text class="tk s" x="2396.1" y="3798">-0.5</text>
<text class="tk e s" x="2062.3" y="3775.7">-0.5</text>
<text class="tk s" x="2555.1" y="3755.8">0</text>
<text class="tk e s" x="1938.8" y="3719.2">0</text>
<text class="tk s" x="2714.1" y="3713.6">0.5</text>
<text class="tk e s" x="1815.3" y="3662.7">0.5</text>
<text class="tk s" x="2873.1" y="3671.3">1</text>
<text class="tk e s" x="1691.8" y="3602.6">1</text>
<text class="tk e s" x="1693.6" y="3567.5">0</text>
<text class="tk e s" x="1693.6" y="3485.8">0.1</text>
<text class="tk e s" x="1693.6" y="3404.2">0.2</text>
<text class="tk e s" x="1693.6" y="3322.5">0.3</text>
<text class="tk e s" x="1693.6" y="3240.8">0.4</text>
<text class="tk e s" x="1693.6" y="3159.2">0.5</text>
<text class="tk e s" x="1693.6" y="3077.5">0.6</text>
<text class="lb s" x="2481.3" y="3826.9">F<tspan class="sb" dy="8.1">x</tspan></text>
<text class="lb s" x="1946" y="3834.4">F<tspan class="sb" dy="8.1">y</tspan></text>
<text class="lb m s" transform="translate(1618 3318) rotate(-90)">Magnitude</text>
<text class="ti s" x="2282" y="2898">Kernel 3 Channel 2</text>
<text class="cp" transform="translate(2249 4033) scale(1.1 1)">(<tspan class="b">h</tspan>) Kernel 3 Channel 2</text>
<path class="gr" d="M3670 3789L3176 3563M3176 3563L3176 3073M3670 3789L4306 3620M4306 3620L4306 3130M3829 3746.7L3335 3520.8M3335 3520.8L3335 3030.8M3546.5 3732.5L4182.5 3563.5M4182.5 3563.5L4182.5 3073.5M3988 3704.5L3494 3478.5M3494 3478.5L3494 2988.5M3423 3676L4059 3507M4059 3507L4059 3017M4147 3662.2L3653 3436.3M3653 3436.3L3653 2946.3M3299.5 3619.5L3935.5 3450.5M3935.5 3450.5L3935.5 2960.5M4306 3620L3812 3394M3812 3394L3812 2904M3176 3563L3812 3394M3812 3394L3812 2904M3176 3563L3812 3394M3812 3394L4306 3620M3176 3481.3L3812 3312.3M3812 3312.3L4306 3538.3M3176 3399.7L3812 3230.7M3812 3230.7L4306 3456.7M3176 3318L3812 3149M3812 3149L4306 3375M3176 3236.3L3812 3067.3M3812 3067.3L4306 3293.3M3176 3154.7L3812 2985.7M3812 2985.7L4306 3211.7M3176 3073L3812 2904M3812 2904L4306 3130"/>
<defs><linearGradient id="a9" gradientUnits="userSpaceOnUse" x1="-0.2" y1="-0.9" x2="-113.4" y2="-426.9"><stop offset="0" stop-color="#3e26a8"/><stop offset="0.06" stop-color="#4434cd"/><stop offset="0.125" stop-color="#4852f4"/><stop offset="0.19" stop-color="#436cfe"/><stop offset="0.28" stop-color="#2e87f7"/><stop offset="0.34" stop-color="#2796eb"/><stop offset="0.4" stop-color="#1caadf"/><stop offset="0.45" stop-color="#0cb8cd"/><stop offset="0.5" stop-color="#1ebeb2"/><stop offset="0.57" stop-color="#37c897"/><stop offset="0.66" stop-color="#81cc59"/><stop offset="0.73" stop-color="#bbc334"/><stop offset="0.8" stop-color="#e8bc30"/><stop offset="0.875" stop-color="#fdcb36"/><stop offset="0.94" stop-color="#f6e428"/><stop offset="1" stop-color="#f9fb15"/></linearGradient><linearGradient id="b9" gradientUnits="userSpaceOnUse" x1="0.4" y1="-0.8" x2="172.9" y2="-377.9"><stop offset="0" stop-color="#3e26a8"/><stop offset="0.06" stop-color="#4434cd"/><stop offset="0.125" stop-color="#4852f4"/><stop offset="0.19" stop-color="#436cfe"/><stop offset="0.28" stop-color="#2e87f7"/><stop offset="0.34" stop-color="#2796eb"/><stop offset="0.4" stop-color="#1caadf"/><stop offset="0.45" stop-color="#0cb8cd"/><stop offset="0.5" stop-color="#1ebeb2"/><stop offset="0.57" stop-color="#37c897"/><stop offset="0.66" stop-color="#81cc59"/><stop offset="0.73" stop-color="#bbc334"/><stop offset="0.8" stop-color="#e8bc30"/><stop offset="0.875" stop-color="#fdcb36"/><stop offset="0.94" stop-color="#f6e428"/><stop offset="1" stop-color="#f9fb15"/></linearGradient></defs><path class="wu" d="M3670 3740l20-7 20-11 20-11 20-13 19-11 20-10 20-7 20-6 20-2 20 0 20 3 19 5 20 6 20 9 20 9 20 7 20-17 20-20 20-19 20-18 19-15 20-13 20-11 20-8 20-5 20-3 20-1 19 1 20 1 20 2 20-1 10-1-15-37-10 4-20 6-20 2-20 1-20 1-20 1-20 3-19 6-20 8-20 11-20 14-20 17-20 19-20 22-20 23-19 22-20-13-20-14-20-12-20-12-20-9-20-7-20-3-19-1-20 2-20 6-20 8-20 10-20 12-20 13-20 13-19 11zM3655 3700l19-11 20-13 20-13 20-12 20-10 20-8 20-6 20-2 19 1 20 3 20 7 20 9 20 12 20 12 20 14 20 13 19-22 20-23 20-22 20-19 20-17 20-14 20-11 20-8 19-6 20-3 20-1 20-1 20-1 20-2 20-6 10-4-16-63-10 4-20 5-19 3-20 2-20 1-20 2-20 5-20 7-20 12-20 15-19 18-20 23-20 26-20 28-20 31-20 32-20-15-20-22-19-20-20-18-20-16-20-12-20-9-20-4-20-1-20 4-20 7-19 10-20 11-20 13-20 12-20 11zM3639 3638l20-11 20-12 20-13 20-11 19-10 20-7 20-4 20 1 20 4 20 9 20 12 20 16 20 18 19 20 20 22 20 15 20-32 20-31 20-28 20-26 20-23 19-18 20-15 20-12 20-7 20-5 20-2 20-1 20-2 19-3 20-5 10-4-15-63-10 3-20 3-20 0-20 0-20 1-20 2-19 6-20 10-20 14-20 20-20 25-20 29-20 33-20 37-19 39-20 41-20-10-20-30-20-28-20-26-20-22-20-17-19-13-20-8-20-3-20 2-20 6-20 9-20 12-20 11-19 11-20 9zM3624 3576l20-9 19-11 20-11 20-12 20-9 20-6 20-2 20 3 20 8 19 13 20 17 20 22 20 26 20 28 20 30 20 10 20-41 19-39 20-37 20-33 20-29 20-25 20-20 20-14 20-10 19-6 20-2 20-1 20 0 20 0 20-3 10-3-16-58-10 1-20-1-19-2-20-2-20-1-20 2-20 6-20 12-20 18-19 24-20 30-20 36-20 40-20 44-20 48-20 49-20 2-20-38-19-35-20-32-20-28-20-22-20-17-20-11-20-4-19 0-20 5-20 9-20 10-20 10-20 9-20 5zM3608 3519l20-5 20-9 20-10 20-10 20-9 20-5 19 0 20 4 20 11 20 17 20 22 20 28 20 32 19 35 20 38 20-2 20-49 20-48 20-44 20-40 20-36 20-30 19-24 20-18 20-12 20-6 20-2 20 1 20 2 19 2 20 1 10-1-15-50-10-1-20-5-20-5-20-5-20-3-19 1-20 7-20 14-20 20-20 28-20 34-20 41-20 47-19 51-20 54-20 56-20 20-20-44-20-41-20-38-20-32-19-26-20-19-20-13-20-7-20 0-20 4-20 7-20 9-19 8-20 5-20 2zM3593 3471l20-2 20-5 19-8 20-9 20-7 20-4 20 0 20 7 20 13 20 19 19 26 20 32 20 38 20 41 20 44 20-20 20-56 20-54 19-51 20-47 20-41 20-34 20-28 20-20 20-14 20-7 19-1 20 3 20 5 20 5 20 5 10 1-16-40-9-4-20-8-20-10-20-7-20-5-20 0-20 8-20 14-19 23-20 30-20 38-20 46-20 51-20 56-20 60-20 61-19 43-20-49-20-45-20-42-20-35-20-29-20-21-20-15-19-7-20-2-20 3-20 6-20 7-20 5-20 2-20-3zM3577 3433l20 3 20-2 20-5 20-7 20-6 20-3 20 2 19 7 20 15 20 21 20 29 20 35 20 42 20 45 20 49 19-43 20-61 20-60 20-56 20-51 20-46 20-38 20-30 19-23 20-14 20-8 20 0 20 5 20 7 20 10 20 8 9 4-15-29-10-6-20-13-20-13-20-10-19-7-20 0-20 6-20 16-20 23-20 33-20 41-20 48-19 55-20 59-20 63-20 65-20 64-20-46-20-48-20-43-19-37-20-30-20-23-20-15-20-8-20-2-20 2-20 4-19 4-20 2-20-3-20-7zM3562 3407l20 7 20 3 20-2 19-4 20-4 20-2 20 2 20 8 20 15 20 23 20 30 19 37 20 43 20 48 20 46 20-64 20-65 20-63 20-59 19-55 20-48 20-41 20-33 20-23 20-16 20-6 20 0 19 7 20 10 20 13 20 13 10 6-15-16-10-9-20-17-20-16-20-14-20-8-20-2-20 7-19 15-20 24-20 34-20 42-20 50-20 56-20 61-20 64-19 66-20 65-20-18-20-48-20-44-20-37-20-30-20-22-20-15-19-8-20-2-20 1-20 2-20 1-20-3-20-7-20-12zM3546 3393l20 12 20 7 20 3 20-1 20-2 20-1 20 2 19 8 20 15 20 22 20 30 20 37 20 44 20 48 20 18 20-65 19-66 20-64 20-61 20-56 20-50 20-42 20-34 20-24 19-15 20-7 20 2 20 8 20 14 20 16 20 17 10 9-16-5-10-10-20-21-20-20-19-15-20-11-20-2-20 5-20 15-20 24-20 34-20 42-19 49-20 56-20 61-20 63-20 65-20 63-20 15-20-46-19-41-20-36-20-28-20-21-20-13-20-7-20-3-20 0-19 0-20-2-20-7-20-13-20-17zM3531 3391l20 17 20 13 20 7 20 2 19 0 20 0 20 3 20 7 20 13 20 21 20 28 20 36 19 41 20 46 20-15 20-63 20-65 20-63 20-61 20-56 19-49 20-42 20-34 20-24 20-15 20-5 20 2 20 11 19 15 20 20 20 21 10 10-15 9-10-13-20-24-20-22-20-18-20-12-20-4-20 5-19 14-20 23-20 32-20 41-20 48-20 53-20 59-19 60-20 62-20 59-20 39-20-30-20-37-20-32-20-25-20-18-19-11-20-6-20-2-20-1-20-2-20-6-20-12-19-17-20-22zM3516 3402l20 22 19 17 20 12 20 6 20 2 20 1 20 2 20 6 19 11 20 18 20 25 20 32 20 37 20 30 20-39 20-59 20-62 19-60 20-59 20-53 20-48 20-41 20-32 20-23 19-14 20-5 20 4 20 12 20 18 20 22 20 24 10 13-16 19-10-14-20-27-19-24-20-19-20-13-20-5-20 4-20 12-20 22-20 29-19 38-20 45-20 50-20 54-20 56-20 56-20 53-20 43-19 1-20-26-20-25-20-20-20-13-20-8-20-3-20-1-19-1-20-4-20-11-20-16-20-23-20-27zM3500 3423l20 27 20 23 20 16 20 11 20 4 19 1 20 1 20 3 20 8 20 13 20 20 20 25 20 26 19-1 20-43 20-53 20-56 20-56 20-54 20-50 20-45 19-38 20-29 20-22 20-12 20-4 20 5 20 13 20 19 19 24 20 27 10 14-15 30-10-15-20-29-20-25-20-20-20-13-19-6-20 2-20 10-20 19-20 27-20 34-20 39-20 45-19 48-20 50-20 49-20 45-20 38-20 20-20-4-20-12-19-11-20-7-20-1-20 1-20 3-20-1-20-6-20-15-19-23-20-27-20-30zM3485 3455l20 30 20 27 19 23 20 15 20 6 20 1 20-3 20-1 20 1 20 7 19 11 20 12 20 4 20-20 20-38 20-45 20-49 20-50 19-48 20-45 20-39 20-34 20-27 20-19 20-10 20-2 19 6 20 13 20 20 20 25 20 29 10 15-16 38-10-16-19-29-20-25-20-20-20-14-20-6-20 0-20 8-20 16-19 23-20 28-20 34-20 38-20 41-20 41-20 40-20 37-19 30-20 21-20 10-20 4-20 3-20 5-20 10-20 12-19 12-20 5-20-10-20-21-20-28-20-32-20-32zM3469 3493l20 32 20 32 20 28 20 21 20 10 20-5 19-12 20-12 20-10 20-5 20-3 20-4 20-10 20-21 19-30 20-37 20-40 20-41 20-41 20-38 20-34 20-28 19-23 20-16 20-8 20 0 20 6 20 14 20 20 20 25 19 29 10 16-15 43-10-15-20-28-20-23-20-20-20-13-19-8-20-1-20 6-20 11-20 18-20 23-20 28-19 30-20 32-20 32-20 30-20 26-20 21-20 15-20 10-20 8-19 9-20 12-20 16-20 20-20 25-20 29-20 8-20-25-19-30-20-31-20-31zM3454 3535l20 31 20 31 19 30 20 25 20-8 20-29 20-25 20-20 20-16 20-12 19-9 20-8 20-10 20-15 20-21 20-26 20-30 20-32 20-32 19-30 20-28 20-23 20-18 20-11 20-6 20 1 19 8 20 13 20 20 20 23 20 28 10 15-15 41-10-11-20-23-20-20-20-17-20-13-20-9-20-3-20 3-19 7-20 13-20 17-20 20-20 22-20 23-20 21-20 19-19 15-20 11-20 6-20 5-20 4-20 6-20 9-20 12-19 16-20 19-20 22-20 20-20 15-20 1-20-11-20-19zM3438 3572l20 19 20 11 20-1 20-15 20-20 20-22 20-19 19-16 20-12 20-9 20-6 20-4 20-5 20-6 20-11 19-15 20-19 20-21 20-23 20-22 20-20 20-17 20-13 19-7 20-3 20 3 20 9 20 13 20 17 20 20 20 23 10 11-16 25-10-1-20-8-20-13-19-13-20-12-20-9-20-6-20-1-20 3-20 7-20 11-20 13-19 13-20 13-20 11-20 8-20 3-20 0-20-3-19-3-20-2-20 0-20 3-20 8-20 11-20 16-20 20-20 23-19 24-20 23-20 19-20 10zM3423 3585l20-10 20-19 20-23 19-24 20-23 20-20 20-16 20-11 20-8 20-3 20 0 20 2 19 3 20 3 20 0 20-3 20-8 20-11 20-13 19-13 20-13 20-11 20-7 20-3 20 1 20 6 20 9 20 12 19 13 20 13 20 8 10 1-15-13-10 14-20 22-20 9-20-4-20-10-20-11-20-8-19-6-20-1-20 2-20 4-20 7-20 6-20 3-20 0-19-4-20-8-20-11-20-12-20-12-20-9-20-7-20-2-19 3-20 8-20 14-20 19-20 23-20 28-20 31-20 33-19 33zM3408 3558l19-33 20-33 20-31 20-28 20-23 20-19 20-14 20-8 19-3 20 2 20 7 20 9 20 12 20 12 20 11 20 8 19 4 20 0 20-3 20-6 20-7 20-4 20-2 20 1 19 6 20 8 20 11 20 10 20 4 20-9 20-22 10-14-16-46-10 21-20 42-19 40-20 36-20 3-20-18-20-15-20-10-20-5-20-1-19 1-20 3-20 0-20-5-20-10-20-15-20-20-20-21-19-21-20-20-20-17-20-13-20-7-20-1-20 5-20 12-19 18-20 24-20 30-20 34-20 38-20 41zM3392 3507l20-41 20-38 20-34 20-30 20-24 19-18 20-12 20-5 20 1 20 7 20 13 20 17 20 20 19 21 20 21 20 20 20 15 20 10 20 5 20 0 20-3 19-1 20 1 20 5 20 10 20 15 20 18 20-3 20-36 19-40 20-42 10-21-15-55-10 22-20 42-20 38-20 32-20 20-20 6-19-1-20-2-20 1-20 5-20 8-20 7-20 0-20-10-19-20-20-26-20-29-20-31-20-30-20-28-20-23-20-18-19-12-20-5-20 2-20 10-20 17-20 24-20 31-20 36-19 39-20 43zM3377 3451l20-43 19-39 20-36 20-31 20-24 20-17 20-10 20-2 20 5 19 12 20 18 20 23 20 28 20 30 20 31 20 29 20 26 19 20 20 10 20 0 20-7 20-8 20-5 20-1 20 2 19 1 20-6 20-20 20-32 20-38 20-42 10-22-16-53-10 20-19 38-20 33-20 25-20 18-20 11-20 8-20 9-20 12-20 17-19 21-20 23-20 15-20-9-20-28-20-35-20-38-19-39-20-38-20-34-20-29-20-23-20-16-20-9-20 0-20 9-19 16-20 24-20 31-20 35-20 40-20 41zM3361 3398l20-41 20-40 20-35 20-31 20-24 19-16 20-9 20 0 20 9 20 16 20 23 20 29 20 34 20 38 19 39 20 38 20 35 20 28 20 9 20-15 20-23 19-21 20-17 20-12 20-9 20-8 20-11 20-18 20-25 20-33 19-38 10-20-15-47-10 18-20 33-20 27-20 21-20 15-19 12-20 11-20 14-20 18-20 24-20 31-20 35-20 37-19 9-20-32-20-43-20-45-20-46-20-43-20-40-20-34-19-27-20-19-20-11-20-2-20 7-20 16-20 23-20 30-19 34-20 38-20 39zM3346 3353l20-39 20-38 19-34 20-30 20-23 20-16 20-7 20 2 20 11 20 19 19 27 20 34 20 40 20 43 20 46 20 45 20 43 20 32 19-9 20-37 20-35 20-31 20-24 20-18 20-14 20-11 19-12 20-15 20-21 20-27 20-33 10-18-16-38-9 16-20 28-20 22-20 17-20 13-20 11-20 12-20 17-19 21-20 29-20 36-20 42-20 47-20 41-20-28-20-49-20-51-19-50-20-48-20-43-20-37-20-30-20-22-20-12-19-4-20 6-20 15-20 22-20 28-20 33-20 35-20 35zM3330 3317l20-35 20-35 20-33 20-28 20-22 20-15 20-6 19 4 20 12 20 22 20 30 20 37 20 43 20 48 19 50 20 51 20 49 20 28 20-41 20-47 20-42 20-36 20-29 19-21 20-17 20-12 20-11 20-13 20-17 20-22 20-28 9-16-15-27-10 13-20 23-20 18-20 13-19 10-20 11-20 13-20 17-20 25-20 31-20 39-20 46-19 52-20 56-20-4-20-53-20-54-20-53-20-50-20-45-19-39-20-32-20-23-20-13-20-4-20 4-20 14-20 20-19 27-20 30-20 32-20 30zM3315 3292l20-30 20-32 20-30 19-27 20-20 20-14 20-4 20 4 20 13 20 23 20 32 19 39 20 45 20 50 20 53 20 54 20 53 20 4 20-56 19-52 20-46 20-39 20-31 20-25 20-17 20-13 20-11 19-10 20-13 20-18 20-23 10-13-15-15-10 11-20 17-20 13-20 10-20 8-20 10-20 13-19 19-20 25-20 33-20 40-20 48-20 54-20 59-20 28-19-54-20-55-20-54-20-51-20-45-20-39-20-32-20-23-20-14-19-4-20 4-20 12-20 19-20 24-20 27-20 28-19 26zM3300 3280l19-26 20-28 20-27 20-24 20-19 20-12 20-4 19 4 20 14 20 23 20 32 20 39 20 45 20 51 20 54 20 55 19 54 20-28 20-59 20-54 20-48 20-40 20-33 20-25 19-19 20-13 20-10 20-8 20-10 20-13 20-17 10-11-16-3-10 9-20 13-20 9-19 6-20 7-20 8-20 13-20 19-20 25-20 33-20 41-19 47-20 54-20 59-20 56-20-53-20-54-20-53-20-49-19-44-20-38-20-30-20-22-20-13-20-5-20 4-20 11-19 17-20 22-20 23-20 24-20 21zM3284 3280l20-21 20-24 20-23 20-22 19-17 20-11 20-4 20 5 20 13 20 22 20 30 20 38 19 44 20 49 20 53 20 54 20 53 20-56 20-59 20-54 19-47 20-41 20-33 20-25 20-19 20-13 20-8 20-7 19-6 20-9 20-13 10-9-15 10-10 6-20 9-20 5-20 4-20 5-20 8-19 12-20 18-20 25-20 32-20 39-20 46-20 52-20 56-19 60-20-33-20-51-20-49-20-45-20-41-20-35-20-28-19-20-20-12-20-4-20 4-20 10-20 15-20 19-20 19-20 20-19 16zM3269 3292l19-16 20-20 20-19 20-19 20-15 20-10 20-4 20 4 20 12 19 20 20 28 20 35 20 41 20 45 20 49 20 51 20 33 19-60 20-56 20-52 20-46 20-39 20-32 20-25 20-18 19-12 20-8 20-5 20-4 20-5 20-9 10-6-16 22-10 3-20 5-19 3-20 2-20 3-20 7-20 11-20 17-20 23-20 30-19 37-20 43-20 48-20 52-20 54-20-9-20-45-20-44-19-41-20-36-20-30-20-24-20-17-20-10-20-3-20 4-19 9-20 13-20 16-20 16-20 15-20 12zM3253 3316l20-12 20-15 20-16 20-16 20-13 19-9 20-4 20 3 20 10 20 17 20 24 20 30 20 36 19 41 20 44 20 45 20 9 20-54 20-52 20-48 20-43 19-37 20-30 20-23 20-17 20-11 20-7 20-3 20-2 19-3 20-5 10-3-15 32-10 2-20 2-20 0-20 0-20 3-19 5-20 10-20 15-20 22-20 27-20 33-20 38-20 43-19 46-20 48-20 8-20-38-20-37-20-34-20-30-20-25-19-19-20-13-20-8-20-1-20 4-20 8-20 12-20 13-19 13-20 11-20 8zM3238 3350l20-8 20-11 19-13 20-13 20-12 20-8 20-4 20 1 20 8 20 13 19 19 20 25 20 30 20 34 20 37 20 38 20-8 20-48 19-46 20-43 20-38 20-33 20-27 20-22 20-15 20-10 19-5 20-3 20 0 20 0 20-2 10-2-16 41-10 0-19 0-20-1-20-1-20 1-20 5-20 9-20 13-20 18-19 24-20 28-20 32-20 37-20 38-20 41-20 20-20-30-19-29-20-26-20-23-20-18-20-14-20-9-20-4-20 0-19 5-20 8-20 10-20 11-20 10-20 7-20 5zM3222 3392l20-5 20-7 20-10 20-11 20-10 20-8 19-5 20 0 20 4 20 9 20 14 20 18 20 23 20 26 19 29 20 30 20-20 20-41 20-38 20-37 20-32 20-28 19-24 20-18 20-13 20-9 20-5 20-1 20 1 20 1 19 0 10 0-15 46-10 0-20-2-20-2-20-1-19 1-20 3-20 8-20 11-20 15-20 19-20 22-20 27-19 28-20 31-20 32-20 26-20-21-20-20-20-18-20-15-19-12-20-9-20-4-20-1-20 3-20 6-20 8-20 10-20 9-19 8-20 5-20 2zM3207 3440l20-2 20-5 19-8 20-9 20-10 20-8 20-6 20-3 20 1 20 4 20 9 19 12 20 15 20 18 20 20 20 21 20-26 20-32 20-31 19-28 20-27 20-22 20-19 20-15 20-11 20-8 20-3 19-1 20 1 20 2 20 2 10 0-15 48-10 0-20-2-20-3-20-1-20 0-20 2-20 5-20 8-19 12-20 14-20 17-20 20-20 22-20 23-20 24-20 24-19-12-20-12-20-11-20-9-20-6-20-4-20 0-20 2-19 5-20 8-20 9-20 10-20 10-20 8-20 5-20 2zM3191 3489l20-2 20-5 20-8 20-10 20-10 20-9 20-8 19-5 20-2 20 0 20 4 20 6 20 9 20 11 20 12 19 12 20-24 20-24 20-23 20-22 20-20 20-17 20-14 19-12 20-8 20-5 20-2 20 0 20 1 20 3 20 2 10 0-8 20-10 0-20-2-20-2-20-2-20 0-20 1-19 4-20 7-20 9-20 13-20 15-20 17-20 19-20 20-19 21-20 20-20-7-20-10-20-9-20-7-20-5-20-2-19 0-20 3-20 6-20 8-20 10-20 11-20 10-20 10-19 7-20 4z"/><g class="ml" stroke="url(#a9)"><path transform="translate(3670 3789)" d="M0 -49l20-7 20-11 20-11 19-13 20-11 20-10 20-7 20-6 20-2 20 0 20 3 20 5 19 6 20 9 20 9 20 7 20-17 20-20 20-19 20-18 19-15 20-13 20-11 20-8 20-5 20-3 20-1 20 1 19 1 20 2 20-1 10-1"/><path transform="translate(3662.3 3785.5)" d="M0 -59l20-10 20-12 20-13 19-13 20-11 20-9 20-6 20-4 20-1 20 2 20 4 20 6 19 9 20 10 20 10 20 10 20-19 20-20 20-19 20-18 19-15 20-13 20-10 20-8 20-5 20-2 20-1 20 0 19 1 20-1 20-4 10-3"/><path transform="translate(3654.6 3781.9)" d="M0 -82l20-11 20-12 20-13 19-13 20-10 20-8 20-6 20-2 20 1 20 3 20 7 20 9 19 12 20 12 20 14 20 13 20-22 20-23 20-22 20-19 19-17 20-14 20-11 20-8 20-6 20-3 20-1 20-1 19-1 20-2 20-6 10-4"/><path transform="translate(3646.8 3778.4)" d="M0 -109l20-11 20-12 20-13 19-12 20-10 20-8 20-4 20-1 20 2 20 7 20 9 20 12 19 15 20 16 20 18 20 16 20-28 20-27 20-25 20-22 19-19 20-17 20-12 20-10 20-6 20-4 20-2 20-1 19-2 20-3 20-6 10-4"/><path transform="translate(3639.1 3774.9)" d="M0 -137l20-11 20-12 20-12 19-12 20-10 20-7 20-4 20 1 20 4 20 9 20 12 20 16 19 18 20 20 20 22 20 15 20-32 20-30 20-29 20-26 19-22 20-19 20-15 20-11 20-8 20-5 20-2 20-1 19-2 20-2 20-6 10-3"/><path transform="translate(3631.4 3771.3)" d="M0 -165l20-10 20-11 20-13 19-11 20-10 20-6 20-3 20 2 20 6 20 11 20 15 20 19 19 22 20 24 20 26 20 13 20-36 20-35 20-33 20-30 19-25 20-22 20-17 20-13 20-9 20-5 20-3 20-1 19-1 20-2 20-4 10-3"/><path transform="translate(3623.7 3767.8)" d="M0 -192l20-9 20-10 20-12 19-11 20-10 20-6 20-2 20 3 20 8 20 13 20 18 20 22 19 25 20 28 20 30 20 10 20-41 20-39 20-37 20-33 19-29 20-25 20-19 20-15 20-10 20-6 20-2 20-1 19 0 20 0 20-3 10-3"/><path transform="translate(3616 3764.3)" d="M0 -218l20-7 20-10 20-11 19-10 20-9 20-6 20-1 20 4 20 9 20 15 20 20 20 25 19 29 20 32 20 34 20 4 20-45 20-43 20-41 20-37 19-32 20-28 20-21 20-17 20-10 20-7 20-2 20 0 19 1 20 1 20-1 10-2"/><path transform="translate(3608.2 3760.8)" d="M0 -241l20-6 20-9 20-10 19-10 20-8 20-6 20 0 20 5 20 10 20 17 20 22 20 28 19 32 20 36 20 37 20-2 20-49 20-47 20-45 20-40 19-36 20-30 20-24 20-17 20-12 20-7 20-2 20 1 19 2 20 3 20 0 10-1"/><path transform="translate(3600.5 3757.2)" d="M0 -263l20-4 20-7 20-9 19-10 20-8 20-4 20 0 20 5 20 12 20 18 20 25 20 30 19 35M298 -101l20-10 20-53 20-51 20-47 20-44 19-39 20-32 20-26 20-19 20-13 20-6 20-2 20 1 19 4 20 4 20 3 10 0"/><path transform="translate(3592.8 3753.7)" d="M0 -282l20-2 20-6 20-8 19-9 20-7 20-4 20 1 20 6 20 13 20 19 20 27 20 32M318 -117l20-56 20-55 20-51 20-46 19-41 20-35 20-28 20-20 20-13 20-7 20-2 20 3 19 5 20 6 20 4 10 1"/><path transform="translate(3585.1 3750.2)" d="M0 -299l20 0 20-4 20-6 19-8 20-7 20-3 20 1 20 7 20 13 20 21 20 28 20 34M318 -124l20-59 20-57 20-54 20-49 19-44 20-36 20-29 20-22 20-14 20-7 20-1 20 4 19 6 20 8 20 6 10 2"/><path transform="translate(3577.4 3746.6)" d="M0 -313l20 2 20-2 20-5 19-6 20-6 20-3 20 1 20 8 20 14 20 22 20 28M318 -131l20-62 20-59 20-56 20-52 19-45 20-39 20-30 20-23 20-14 20-7 20-1 20 5 19 8 20 9 20 9 10 3"/><path transform="translate(3569.7 3743.1)" d="M0 -324l20 4 20 1 20-4 19-5 20-5 20-3 20 2 20 8 20 15 20 22M318 -139l20-63 20-62 20-58 20-53 19-47 20-40 20-31 20-24 20-15 20-7 20 0 20 6 19 9 20 12 20 10 10 5"/><path transform="translate(3561.9 3739.6)" d="M0 -332l20 7 20 2 20-1 19-4 20-5 20-2 20 3 20 8 20 15 20 22M318 -147l20-64 20-63 20-60 20-54 19-49 20-41 20-32 20-24 20-15 20-7 20 0 20 7 19 11 20 13 20 13 10 6"/><path transform="translate(3554.2 3736)" d="M0 -338l20 10 20 5 20 0 19-2 20-3 20-2 20 2 20 9 20 14M318 -154l20-66 20-64 20-60 20-56 19-49 20-42 20-33 20-24 20-16 20-6 20 1 20 7 19 12 20 15 20 15 10 7"/><path transform="translate(3546.5 3732.5)" d="M0 -340l20 12 20 8 20 2 20-1 19-2 20-1 20 3M318 -162l20-66 20-65 20-61 20-56 19-50 20-42 20-33 20-25 20-15 20-6 20 1 20 9 19 13 20 17 20 17 10 8"/><path transform="translate(3538.8 3729)" d="M0 -338l20 14 20 10 20 5 19 0 20-1 20 0M318 -170l20-66 20-64 20-61 20-57 19-49 20-43 20-33 20-25 20-15 20-6 20 2 20 10 19 14 20 18 20 20 10 9"/><path transform="translate(3531.1 3725.4)" d="M0 -334l20 17 20 12M318 -178l20-65 20-64 20-60 20-56 19-50 20-42 20-33 20-24 20-15 20-6 20 3 20 10 19 16 20 19 20 22 10 10"/><path transform="translate(3523.3 3721.9)" d="M0 -327l20 20 20 15 20 9M318 -186l20-63 20-63 20-60 20-55 19-49 20-41 20-33 20-24 20-14 20-5 20 3 20 11 19 17 20 21"/><path transform="translate(3515.6 3718.4)" d="M0 -317l20 22 20 18 20 12 19 6M318 -193l20-62 20-61 20-58 20-54 19-48 20-40 20-32 20-23 20-14 20-5 20 4 20 11 19 18"/><path transform="translate(3507.9 3714.8)" d="M0 -304l20 25 20 20 20 14 20 8 19 4M318 -201l20-59 20-58 20-57 20-52 19-46 20-39 20-32 20-22 20-13 20-4 20 4"/><path transform="translate(3500.2 3711.3)" d="M0 -288l20 27 20 22 20 17 19 10 20 5 20 1M318 -207l20-57 20-56 20-54 20-50 19-44 20-38 20-30 20-21 20-13 20-3"/><path transform="translate(3492.5 3707.8)" d="M0 -270l20 29 20 25 20 19 19 13 20 5 20 1M318 -214l20-53 20-53 20-51 20-47 19-43 20-36 20-28 20-20 20-12"/><path transform="translate(3484.8 3704.2)" d="M0 -250l20 31 20 27 20 22 19 15 20 7 20 1 20-3M318 -220l20-49 20-49 20-48 20-45 19-40 20-33 20-27 20-19"/><path transform="translate(3477 3700.7)" d="M0 -228l20 32 20 30 20 25 19 18 20 8 20-1 20-6M318 -225l20-45 20-45 20-45 20-41 19-37 20-32 20-24 20-18"/><path transform="translate(3469.3 3697.2)" d="M0 -204l20 32 20 32 20 28 19 21 20 9 20-4 20-12 20-13M318 -230l20-40 20-41 20-41 20-38 19-34 20-29 20-22"/><path transform="translate(3461.6 3693.7)" d="M0 -180l20 33 20 32 20 31 19 25 20 11 20-17 20-23 20-19M318 -234l20-35 20-37 20-36 20-34 19-31 20-26"/><path transform="translate(3453.9 3690.1)" d="M0 -155l20 31 20 31 20 30 19 25 20-8 20-29 20-25 20-21M318 -237l20-30 20-32 20-32 20-30 19-28"/><path transform="translate(3446.2 3686.6)" d="M0 -132l20 27 20 25 20 18 19 0M318 -240l20-24 20-27 20-28 20-26 19-24"/><path transform="translate(3438.4 3683.1)" d="M0 -111l20 19 20 11 20-1M318 -242l20-19 20-21 20-23 20-22"/><path transform="translate(3430.7 3679.5)" d="M0 -96l20 5 20-5M318 -243l20-13 20-16 20-18 20-18"/><path transform="translate(3423 3676)" d="M0 -91l20-10 20-19M159 -237l20-8 20-3 20 0 20 2M318 -243l20-8 20-11 20-13"/><path transform="translate(3415.3 3672.5)" d="M0 -96l20-24 20-28 20-28 19-26 20-23 20-19 20-15 20-10 20-5 20-1 20 3 20 6 19 7M338 -244l20-6"/><path transform="translate(3407.6 3668.9)" d="M0 -111l20-33 20-33 20-31 19-28 20-23 20-19 20-14 20-8 20-3 20 2 20 7 20 9 19 12 20 12M338 -237l20-1"/><path transform="translate(3399.8 3665.4)" d="M0 -132l20-38 20-36 20-33 19-29 20-24 20-18 20-13 20-6 20-1 20 5 20 9 20 13 19 16 20 17 20 16"/><path transform="translate(3392.1 3661.9)" d="M0 -155l20-41 20-38 20-34 19-30 20-24 20-18 20-12 20-5 20 1 20 8 20 12 20 17 19 20 20 21 20 21"/><path transform="translate(3384.4 3658.3)" d="M0 -180l20-42 20-39 20-35 19-30 20-25 20-17 20-11 20-4 20 3 20 10 20 16 20 20 19 24 20 25 20 27"/><path transform="translate(3376.7 3654.8)" d="M0 -204l20-42 20-40 20-36 19-30 20-25 20-17 20-10 20-2 20 5 20 12 20 18 20 24 19 27 20 30 20 31"/><path transform="translate(3369 3651.3)" d="M0 -228l20-42 20-39 20-36 19-31 20-24 20-17 20-9 20-1 20 6 20 15 20 20 20 27 19 31 20 34"/><path transform="translate(3361.2 3647.8)" d="M0 -250l20-41 20-39 20-36 19-30 20-24 20-17 20-8 20 0 20 8 20 16 20 23 20 29 19 35 20 37"/><path transform="translate(3353.5 3644.2)" d="M0 -270l20-40 20-39 20-35 19-30 20-24 20-16 20-7 20 0 20 10 20 18 20 25 20 32 19 37M437 -225l20-21 20-16 20-11"/><path transform="translate(3345.8 3640.7)" d="M0 -288l20-39 20-37 20-35 19-30 20-23 20-15 20-7 20 1 20 11 20 19 20 28 20 34M417 -214l20-30 20-25 20-18 20-13 20-12 20-11"/><path transform="translate(3338.1 3637.2)" d="M0 -304l20-37 20-36 20-34 19-29 20-23 20-15 20-6 20 3 20 11 20 21 20 29 20 35M398 -191l19-40 20-33 20-27 20-20 20-15 20-12 20-12 19-13 20-19 20-25 20-31 10-17"/><path transform="translate(3330.4 3633.6)" d="M0 -317l20-35 20-35 20-33 19-28 20-22 20-14 20-6 20 3 20 13 20 21 20 30M398 -205l19-42 20-36 20-28 20-22 20-16 20-13 20-11 20-13 19-17 20-22 20-28 10-16"/><path transform="translate(3322.7 3630.1)" d="M0 -327l20-33 20-33 20-32 19-27 20-22 20-14 20-5 20 4 20 13 20 22M398 -218l19-44 20-38 20-30 20-23 20-17 20-13 20-11 20-11 19-15 20-20 20-26 10-14"/><path transform="translate(3314.9 3626.6)" d="M0 -334l20-31 20-32 20-30 19-26 20-21 20-13 20-5 20 4 20 14 20 23M398 -230l19-46 20-39 20-31 20-24 20-18 20-13 20-10 20-11 19-13 20-18 20-22 10-14"/><path transform="translate(3307.2 3623)" d="M0 -338l20-29 20-30 20-28 19-26 20-19 20-13 20-5 20 5 20 14M398 -241l19-47 20-39 20-33 20-24 20-19 20-13 20-10 20-9 19-12 20-15 20-20 10-12"/><path transform="translate(3299.5 3619.5)" d="M0 -340l20-26 20-27 20-27 19-25 20-18 20-13 20-4 20 5M378 -196l20-54 19-47 20-41 20-33 20-25 20-18 20-13 20-10 19-8 20-10 20-13 20-18 10-11"/><path transform="translate(3291.8 3616)" d="M0 -338l20-23 20-26 20-25 19-23 20-18 20-12 20-4M378 -203l20-54 19-48 20-40 20-33 20-26 20-19 20-13 20-9 20-7 19-8 20-11 20-15 10-10"/><path transform="translate(3284.1 3612.4)" d="M0 -332l20-22 20-23 20-24 19-21 20-17 20-11M378 -208l20-54 19-48 20-40 20-33 20-26 20-18 20-13 20-9 20-6 19-7 20-9 20-13 10-8"/><path transform="translate(3276.3 3608.9)" d="M0 -324l20-19 20-22 20-21 19-20 20-16M378 -212l20-53 19-47 20-40 20-33 20-25 20-19 20-12 20-8 20-6 19-5 20-7 20-11 10-7"/><path transform="translate(3268.6 3605.4)" d="M0 -313l20-17 20-19 20-20 19-18M378 -215l20-52 19-45 20-40 20-32 20-25 20-18 20-12 20-7 20-5 19-4 20-6 20-8 10-6"/><path transform="translate(3260.9 3601.8)" d="M0 -299l20-14 20-17M398 -266l19-44 20-38 20-31 20-25 20-17 20-12 20-7 19-4 20-3 20-4 20-7 10-4"/><path transform="translate(3253.2 3598.3)" d="M0 -282l20-12 20-15 20-17M398 -262l19-43 20-37 20-30 20-23 20-17 20-12 20-6 20-3 19-2 20-3 20-5 10-4"/><path transform="translate(3245.5 3594.8)" d="M0 -263l20-10 20-13 20-14 19-15M398 -257l19-41 20-35 20-29 20-22 20-16 20-11 20-6"/><path transform="translate(3237.8 3591.2)" d="M0 -241l20-8 20-11 20-13 19-13 20-12M398 -250l19-38 20-33 20-28 20-21 20-15"/><path transform="translate(3230 3587.7)" d="M0 -218l20-6 20-9 20-11 19-12 20-11 20-8M398 -241l19-36 20-30 20-26 20-20"/><path transform="translate(3222.3 3584.2)" d="M0 -192l20-5 20-7 20-10 19-11 20-10 20-8M417 -263l20-28 20-24"/><path transform="translate(3214.6 3580.7)" d="M0 -165l20-3 20-7 20-8 19-10 20-10 20-8 20-5M417 -248l20-26"/><path transform="translate(3206.9 3577.1)" d="M0 -137l20-2 20-6 20-7 19-10 20-9 20-8 20-6 20-3M417 -232l20-22"/><path transform="translate(3199.2 3573.6)" d="M0 -109l20-1 20-5 20-8 19-9 20-9 20-8 20-7 20-4 20-1"/><path transform="translate(3191.4 3570.1)" d="M0 -82l20-1 20-6 20-7 19-10 20-10 20-9 20-8 20-5 20-2"/><path transform="translate(3183.7 3566.5)" d="M0 -59l20-3 20-7 20-10 19-11 20-11 20-10 20-8 20-5 20-4 20 0"/></g><g class="ml" stroke="url(#b9)"><path transform="translate(3670 3789)" d="M0 -49l-15-40-16-62-15-62-16-57-15-48-16-38-15-26-16-14-15-2-15 11-16 21-15 32-16 38-15 42-16 37-15 13-15-27-16-51-15-56-16-53-15-45-16-36-15-25-15-12-16 0-15 12-16 24-15 34-16 42-15 48-16 49-7 19"/><path transform="translate(3679.9 3786.4)" d="M0 -50l-15-41-16-62-15-61-16-55-15-47-16-35-15-24-16-12-15 1-15 13-16 24-15 32-16 40-15 41-16 32-15-1-15-40-16-55-15-57-16-52-15-44-16-34-15-22-15-10-16 2-15 15-16 26-15 36-16 44-15 49-16 49-7 18"/><path transform="translate(3689.9 3783.7)" d="M0 -51l-15-44-16-61-15-61-16-53-15-44-16-34-15-22-15-9-16 4-15 15-16 26-15 35-16 41-15 40-16 25-15-16-15-50-16-59-15-57-16-52-15-43-16-32-15-20-16-8-15 5-15 17-16 28-15 38-16 46-15 50-16 49-7 17"/><path transform="translate(3699.8 3781.1)" d="M0 -53l-15-45-16-62-15-59-16-52-15-43-16-32-15-19-15-7-16 6-15 18-16 29-15 37-16 42-15 41-16 16-15-32-15-58-16-61-15-59-16-51-15-42-16-31-15-18-16-6-15 7-15 19-16 31-15 40-16 47-15 51-16 49-7 17"/><path transform="translate(3709.8 3778.4)" d="M0 -56l-15-46-16-61-15-59-16-51-15-42-16-30-15-17-16-4-15 8-15 21-16 31-15 40-16 45-15 40-16 5-15-47-15-63-16-64-15-60-16-51-15-41-16-30-15-17-15-3-16 9-15 21-16 32-15 42-16 49-15 53-16 49-7 16"/><path transform="translate(3719.7 3775.8)" d="M0 -59l-15-47-16-61-15-58-16-51-15-40-16-28-15-16-16-2-15 11-15 23-16 34-15 42-16 48-15 40-16-8-15-59-15-68-16-67-15-60-16-51-15-40-16-29-15-15-15-2-16 10-15 24-16 34-15 44-16 50-15 54-16 49-7 15"/><path transform="translate(3729.6 3773.2)" d="M0 -63l-15-47-16-61-15-58-16-49-15-39-16-27-15-14-16 0M-154 -320l-16 36-15 45-16 51-15 42-16-26M-262 -312l-16-68-15-60-16-51-15-40-16-28-15-14-15-1-16 12-15 25-16 37-15 45-16 52-15 55-16 49-7 13"/><path transform="translate(3739.6 3770.5)" d="M0 -66l-15-47-16-61-15-58-16-49-15-38-16-26-15-12-15 1M-154 -314l-16 39-15 48-16 53-15 44M-262 -324l-16-68-15-61-16-52-15-39-16-27-15-14-16 1-15 14-15 26M-432 -459l-16 53-15 56-16 49-7 13"/><path transform="translate(3749.5 3767.9)" d="M0 -70l-15-47-16-60-15-57-16-49-15-38-16-25-15-11-15 3M-154 -309l-16 41-15 50-16 56-15 46M-262 -334l-16-70-15-61-16-52-15-39-16-26-15-12-16 1-15 15-15 28M-432 -463l-16 54-15 57-16 48-7 13"/><path transform="translate(3759.4 3765.2)" d="M0 -73l-15-47-16-60-15-57-16-48-15-37-16-24-15-10-16 4M-170 -263l-15 52-16 58-15 43M-262 -344l-16-70-15-62-16-51-15-39-16-25-15-12-15 3-16 16M-432 -466l-16 55-15 57-16 48-7 12"/><path transform="translate(3769.4 3762.6)" d="M0 -76l-15-46-16-60-15-56-16-48-15-37-16-23-15-10-16 5M-170 -258l-15 52-16 59-15 29M-262 -353l-16-70-15-61-16-51-15-39-16-25-15-11-15 3-16 17M-432 -469l-16 56-15 57-16 48-7 11"/><path transform="translate(3779.3 3760)" d="M0 -78l-15-46-16-59-15-56-16-48-15-36-16-22-15-9-16 5M-170 -255l-15 52-16 58-15 15M-262 -360l-16-70-15-61-16-51-15-38-16-24-15-11-15 4-16 18M-448 -415l-15 57-16 47-7 12"/><path transform="translate(3789.2 3757.3)" d="M0 -80l-15-45-16-58-15-56-16-47-15-36-16-22-15-8-15 5M-170 -252l-15 52-16 54-15 4M-262 -366l-16-70-15-60-16-50-15-38-16-24-15-10-16 5-15 18M-448 -416l-15 57-16 47-7 10"/><path transform="translate(3799.2 3754.7)" d="M0 -82l-15-43-16-58-15-55-16-46-15-35-16-22-15-8-15 6M-185 -199l-16 50-15-3M-262 -371l-16-69-15-60-16-49-15-37-16-23-15-10-16 5M-448 -416l-15 56-16 46-7 11"/><path transform="translate(3809.1 3752)" d="M0 -82l-15-43-16-57-15-54-16-45-15-35-16-21-15-8-16 6M-185 -198l-16 45-15-9M-262 -375l-16-67-15-59-16-49-15-36-16-23-15-8-15 5M-463 -360l-16 45-7 11"/><path transform="translate(3819.1 3749.4)" d="M0 -83l-15-41-16-55-15-53-16-45-15-34-16-21-15-7-16 6M-201 -157l-15-13M-262 -377l-16-66-15-58-16-47-15-35-16-22-15-9-15 6M-463 -359l-16 44-7 10"/><path transform="translate(3829 3746.7)" d="M0 -82l-15-40-16-54-15-52-16-43-15-33-16-20-15-8M-201 -160l-15-17M-247 -308l-15-70-16-64-15-56-16-46-15-35-16-21-15-8-15 6M-463 -358l-16 44-7 9"/><path transform="translate(3838.9 3744.1)" d="M0 -81l-15-38-16-53-15-50-16-42-15-32-16-19-15-7M-247 -310l-15-67-16-62-15-55-16-45-15-33-16-20-15-8M-479 -313l-7 9"/><path transform="translate(3848.9 3741.5)" d="M0 -80l-15-36-16-50-15-49-16-40-15-31-16-19-15-6M-247 -310l-15-65-16-60-15-53-16-43-15-32-16-19-15-7M-479 -312l-7 10"/><path transform="translate(3858.8 3738.8)" d="M0 -77l-15-35-16-48-15-46-16-39-15-29-16-18-15-6M-247 -310l-15-62-16-58-15-50-16-41-15-30-16-19-15-6M-479 -309l-7 9"/><path transform="translate(3868.8 3736.2)" d="M0 -74l-15-33-16-45-15-44-16-37-15-28-16-17-15-6M-247 -308l-15-60-16-55-15-48-16-38-15-29-16-17-15-6"/><path transform="translate(3878.7 3733.5)" d="M0 -71l-15-30-16-43-15-42-16-34-15-26-16-16M-247 -306l-15-57-16-52-15-45-16-36-15-27-16-16"/><path transform="translate(3888.6 3730.9)" d="M0 -66l-15-29-16-40-15-38-16-33-15-24-16-14M-247 -303l-15-53-16-49-15-42-16-34-15-25-16-14"/><path transform="translate(3898.6 3728.3)" d="M0 -61l-15-27-16-37-15-35-16-30-15-22-16-12M-247 -300l-15-49-16-45-15-39-16-31-15-23-16-13"/><path transform="translate(3908.5 3725.6)" d="M0 -56l-15-24-16-34-15-32-16-27-15-19M-247 -296l-15-46-16-41-15-35-16-28-15-20"/><path transform="translate(3918.4 3723)" d="M0 -50l-15-22-16-31-15-28-16-24-15-16M-262 -333l-16-38-15-31-16-25-15-18"/><path transform="translate(3928.4 3720.3)" d="M0 -44l-15-20-16-27-15-24-16-21M-262 -325l-16-33-15-28-16-21"/><path transform="translate(3938.3 3717.7)" d="M0 -37l-15-18-16-23-15-21-16-17M-262 -316l-16-29-15-23-16-18"/><path transform="translate(3948.2 3715.1)" d="M0 -30l-15-16-16-19-15-17-16-13M-262 -307l-16-24-15-19-16-14"/><path transform="translate(3958.2 3712.4)" d="M0 -23l-15-13-16-16-15-12M-262 -299l-16-19-15-14"/><path transform="translate(3968.1 3709.8)" d="M0 -16l-15-11-16-11-15-9-16-5M-278 -304l-15-10"/><path transform="translate(3978.1 3707.1)" d="M0 -8l-15-9-16-8-15-4-16-2-15-12-16-18-15-21-15-22-16-24-15-24-16-24-15-23-16-22"/><path transform="translate(3988 3704.5)" d="M0 -3l-15-6-16-8-15-15-16-17-15-19-16-21-15-23-15-22-16-23-15-22-16-22-15-19-16-17-15-15-16-11-15-9"/><path transform="translate(3997.9 3701.9)" d="M0 -8l-15-8-16-15-15-19-16-21-15-23-16-23-15-24-15-24-16-22-15-21-16-18-15-16-16-12-15-10-16-6-15-2"/><path transform="translate(4007.9 3699.2)" d="M0 -16l-15-9-16-19-15-23-16-26-15-26-16-26-15-26-16-24-15-22-15-19-16-15-15-13-16-8-15-4-16-1-15 3-15 6"/><path transform="translate(4017.8 3696.6)" d="M0 -23l-15-12-16-22-15-27-16-30-15-30-16-29-15-27-16-25-15-21-15-18-16-13-15-9-16-4-15 1-16 4-15 9-15 11"/><path transform="translate(4027.8 3693.9)" d="M0 -30l-15-13-16-26-15-32-16-34-15-33-16-31-15-30-15-25-16-21-15-16-16-11-15-6-16 0-15 5-16 10-15 14-15 16"/><path transform="translate(4037.7 3691.3)" d="M0 -37l-15-15-16-29-15-36-16-38-15-36-16-34-15-31-15-26-16-21-15-15-16-9-15-2-16 3-15 10-16 14-15 19"/><path transform="translate(4047.6 3688.7)" d="M0 -44l-15-15-16-34-15-40-16-41-15-40-16-36-15-33-16-27-15-21-15-13-16-7-15 1-16 7-15 13-16 19-15 24M-370 -265l-16-20-15-13"/><path transform="translate(4057.6 3686)" d="M0 -50l-15-17-16-36-15-44-16-45-15-43-16-39-15-34-16-28-15-21-15-12-16-5-15 3-16 11-15 18-16 23-15 27M-355 -264l-15-26-16-20-15-12-16-5"/><path transform="translate(4067.5 3683.4)" d="M0 -56l-15-18-16-39-15-48-16-48-15-46-16-42-15-35-16-29-15-20-15-12-16-3-15 6-16 14-15 21-16 28M-340 -255l-15-32-15-27-16-19-15-12-16-3-15 6"/><path transform="translate(4077.4 3680.7)" d="M0 -61l-15-19-16-42-15-51-16-52-15-49-16-43-15-38-15-29-16-20-15-11-16-1-15 8-16 17-15 25-16 31M-324 -237l-16-37-15-34-16-28-15-19-15-11-16-1-15 8-16 15"/><path transform="translate(4087.4 3678.1)" d="M0 -66l-15-19-16-46-15-54-16-54-15-52-16-46-15-38-15-30-16-20-15-10-16 0-15 11-16 19-15 28M-324 -252l-16-40-15-35-16-29-15-19-15-10-16 0-15 10-16 18-15 24"/><path transform="translate(4097.3 3675.5)" d="M0 -71l-15-19-16-48-15-57-16-57-15-54-16-48-15-40-16-31-15-20-15-9-16 2-15 12-16 23-15 31M-324 -265l-16-43-15-37-15-29-16-20-15-9-16 2-15 11-16 21-15 27"/><path transform="translate(4107.2 3672.8)" d="M0 -74l-15-20-16-50-15-60-16-60-15-56-16-50-15-41-16-31-15-20-15-9-16 4-15 14-16 25M-324 -277l-16-45-15-39-15-30-16-20-15-8-16 3-15 13-16 23-15 30"/><path transform="translate(4117.2 3670.2)" d="M0 -77l-15-20-16-53-15-62-16-62-15-58-16-51-15-43-16-31-15-20-15-8-16 4-15 16-16 27M-324 -287l-16-47-15-41-15-31-16-20-15-8-16 4-15 15-16 25"/><path transform="translate(4127.1 3667.5)" d="M0 -80l-15-20-16-54-15-64-16-64-15-60-16-53-15-43-15-32-16-20-15-7-16 5-15 18-16 28M-324 -295l-16-50-15-42-16-32-15-19-15-8-16 5-15 16-16 27"/><path transform="translate(4137.1 3664.9)" d="M0 -81l-15-21-16-55-15-66-16-66-15-62-16-54-15-44-15-32-16-20-15-7-16 7-15 19M-324 -303l-16-51-15-43-16-32-15-20-15-8-16 6-15 17-16 29"/><path transform="translate(4147 3662.2)" d="M0 -82l-15-21-16-57-15-67-16-68-15-63-16-54-15-45-16-32-15-20-15-6-16 7-15 20M-324 -308l-16-54-15-44-15-33-16-20-15-7-16 7-15 18"/><path transform="translate(4156.9 3659.6)" d="M0 -83l-15-20-16-58-15-69-16-69-15-63-16-56-15-45-16-32-15-20-15-6-16 8-15 21M-324 -313l-16-55-15-45-15-33-16-20-15-7-16 7-15 19"/><path transform="translate(4166.9 3657)" d="M0 -82l-15-21-16-59-15-70-16-69-15-65-16-55-15-46-16-32-15-20-15-5-16 9M-324 -317l-16-56-15-45-15-34-16-20-15-6-16 7-15 20"/><path transform="translate(4176.8 3654.3)" d="M0 -82l-15-20-16-60-15-71-16-70-15-64-16-56-15-45-15-33-16-19-15-5-16 10M-324 -320l-16-57-15-46-16-33-15-20-15-6-16 7-15 21"/><path transform="translate(4186.8 3651.7)" d="M0 -80l-15-20-16-61-15-71-16-71-15-64-16-56-15-45-15-32-16-19-15-4-16 10M-324 -323l-16-57-15-46-16-34-15-19-15-6-16 8"/><path transform="translate(4196.7 3649)" d="M0 -78l-15-21-16-61-15-71-16-71-15-64-16-56-15-44-16-32-15-18-15-4-16 11M-324 -326l-16-57-15-46-15-33-16-20-15-5-16 9"/><path transform="translate(4206.6 3646.4)" d="M0 -76l-15-21-16-62-15-71-16-70-15-64-16-55-15-43-16-32-15-17-15-3M-324 -329l-16-57-15-45-15-33-16-19-15-4-16 9"/><path transform="translate(4216.6 3643.8)" d="M0 -73l-15-21-16-63-15-71-16-69-15-63-16-54-15-43-16-30-15-17-15-3M-340 -389l-15-45-15-31-16-18-15-4-16 10"/><path transform="translate(4226.5 3641.1)" d="M0 -70l-15-22-16-63-15-70-16-68-15-63-16-53-15-42-15-29-16-16-15-1M-340 -393l-15-44-16-30-15-17-15-3-16 11"/><path transform="translate(4236.4 3638.5)" d="M0 -66l-15-24-16-62-15-70-16-68-15-61-16-51-15-41-15-28-16-15-15-1M-340 -398l-15-42-16-29-15-15-15-2-16 11"/><path transform="translate(4246.4 3635.8)" d="M0 -63l-15-25-16-63-15-69-16-66-15-59-16-50-15-39-16-27-15-14-15 1M-340 -405l-15-39-15-27-16-14-15-1-16 13"/><path transform="translate(4256.3 3633.2)" d="M0 -59l-15-27-16-63-15-68-16-65-15-58-16-48-15-37-16-25-15-12M-340 -413l-15-37-15-25-16-12-15 2-16 14"/><path transform="translate(4266.2 3630.6)" d="M0 -56l-15-29-16-63-15-67-16-63-15-56-16-47-15-35-16-23-15-11M-340 -422l-15-35-15-22-16-10-15 3-16 16"/><path transform="translate(4276.2 3627.9)" d="M0 -53l-15-32-16-63-15-65-16-62-15-54-16-45-15-33-15-21-16-8M-340 -433l-15-32-16-20-15-7-15 5-16 17"/><path transform="translate(4286.1 3625.3)" d="M0 -51l-15-34-16-63-15-65-16-59-15-52-16-43-15-31-15-19-16-6M-340 -445l-15-29-16-18-15-5-15 8-16 19"/><path transform="translate(4296.1 3622.6)" d="M0 -50l-15-37-16-62-15-63-16-59-15-50-16-40-15-29-16-16-15-4M-340 -458l-15-27-15-15-16-2-15 10-16 21"/></g>
<path class="ax" d="M3670 3789L4306 3620M3670 3789L3176 3563M3176 3563L3176 3073M3670 3789l5.4 9M3670 3789l-8.1 7.2M3829 3746.7l5.4 9M3546.5 3732.5l-8.1 7.2M3988 3704.5l5.4 9M3423 3676l-8.1 7.2M4147 3662.2l5.4 9M3299.5 3619.5l-8.1 7.2M4306 3620l5.4 9M3176 3563l-8.1 7.2M3176 3563l-9 0M3176 3481.3l-9 0M3176 3399.7l-9 0M3176 3318l-9 0M3176 3236.3l-9 0M3176 3154.7l-9 0M3176 3073l-9 0"/>
<text class="tk s" x="3696.1" y="3840.3">-1</text>
<text class="tk e s" x="3644.8" y="3832.2">-1</text>
<text class="tk s" x="3855.1" y="3798">-0.5</text>
<text class="tk e s" x="3521.3" y="3775.7">-0.5</text>
<text class="tk s" x="4014.1" y="3755.8">0</text>
<text class="tk e s" x="3397.8" y="3719.2">0</text>
<text class="tk s" x="4173.1" y="3713.6">0.5</text>
<text class="tk e s" x="3274.3" y="3662.7">0.5</text>
<text class="tk s" x="4332.1" y="3671.3">1</text>
<text class="tk e s" x="3150.8" y="3602.6">1</text>
<text class="tk e s" x="3152.6" y="3567.5">0</text>
<text class="tk e s" x="3152.6" y="3485.8">0.1</text>
<text class="tk e s" x="3152.6" y="3404.2">0.2</text>
<text class="tk e s" x="3152.6" y="3322.5">0.3</text>
<text class="tk e s" x="3152.6" y="3240.8">0.4</text>
<text class="tk e s" x="3152.6" y="3159.2">0.5</text>
<text class="tk e s" x="3152.6" y="3077.5">0.6</text>
<text class="lb s" x="3940.3" y="3826.9">F<tspan class="sb" dy="8.1">x</tspan></text>
<text class="lb s" x="3405" y="3834.4">F<tspan class="sb" dy="8.1">y</tspan></text>
<text class="lb m s" transform="translate(3077 3318) rotate(-90)">Magnitude</text>
<text class="ti s" x="3741" y="2898">Kernel 3 Channel 3</text>
<text class="cp" transform="translate(3712 4033) scale(1.1 1)">(<tspan class="b">i</tspan>) Kernel 3 Channel 3</text>
<path class="gr" d="M756 5208L214 4963M214 4963L214 4412M756 5208L1466 5028M1466 5028L1466 4477M933.5 5163L391.5 4918M391.5 4918L391.5 4367M620.5 5146.8L1330.5 4966.8M1330.5 4966.8L1330.5 4415.8M1111 5118L569 4873M569 4873L569 4322M485 5085.5L1195 4905.5M1195 4905.5L1195 4354.5M1288.5 5073L746.5 4828M746.5 4828L746.5 4277M349.5 5024.2L1059.5 4844.3M1059.5 4844.3L1059.5 4293.2M1466 5028L924 4783M924 4783L924 4232M214 4963L924 4783M924 4783L924 4232M214 4963L924 4783M924 4783L1466 5028M214 4825.2L924 4645.3M924 4645.3L1466 4890.2M214 4687.5L924 4507.5M924 4507.5L1466 4752.5M214 4549.8L924 4369.8M924 4369.8L1466 4614.8M214 4412L924 4232M924 4232L1466 4477"/>
<g class="sf"><path color="#75d7d0" d="M756 4932l699-177-534-241-699 177z"/></g>
<path class="ax" d="M756 5208L1466 5028M756 5208L214 4963M214 4963L214 4412M756 5208l6 10M756 5208l-9 8M933.5 5163l6 10M620.5 5146.8l-9 8M1111 5118l6 10M485 5085.5l-9 8M1288.5 5073l6 10M349.5 5024.2l-9 8M1466 5028l6 10M214 4963l-9 8M214 4963l-10 0M214 4825.2l-10 0M214 4687.5l-10 0M214 4549.8l-10 0M214 4412l-10 0"/>
<text class="tk" x="785" y="5265">-1</text>
<text class="tk e" x="728" y="5256">-1</text>
<text class="tk" x="962.5" y="5220">-0.5</text>
<text class="tk e" x="592.5" y="5194.7">-0.5</text>
<text class="tk" x="1140" y="5175">0</text>
<text class="tk e" x="457" y="5133.5">0</text>
<text class="tk" x="1317.5" y="5130">0.5</text>
<text class="tk e" x="321.5" y="5072.2">0.5</text>
<text class="tk" x="1495" y="5085">1</text>
<text class="tk e" x="186" y="5007">1</text>
<text class="tk e" x="188" y="4968">-1</text>
<text class="tk e" x="188" y="4830.2">-0.5</text>
<text class="tk e" x="188" y="4692.5">0</text>
<text class="tk e" x="188" y="4554.8">0.5</text>
<text class="tk e" x="188" y="4417">1</text>
<text class="lb" x="1058" y="5254">F<tspan class="sb" dy="9">x</tspan></text>
<text class="lb" x="465" y="5261.5">F<tspan class="sb" dy="9">y</tspan></text>
<text class="lb m" transform="translate(104 4687.5) rotate(-90)">Magnitude</text>
<text class="ti" x="840" y="4213">Kernel 4 Channel 1</text>
<text class="cp" transform="translate(786 5430) scale(1.1 1)">(<tspan class="b">j</tspan>) Kernel 4 Channel 1</text>
<path class="gr" d="M2220 5208L1678 4963M1678 4963L1678 4412M2220 5208L2930 5028M2930 5028L2930 4477M2397.5 5163L1855.5 4918M1855.5 4918L1855.5 4367M2084.5 5146.8L2794.5 4966.8M2794.5 4966.8L2794.5 4415.8M2575 5118L2033 4873M2033 4873L2033 4322M1949 5085.5L2659 4905.5M2659 4905.5L2659 4354.5M2752.5 5073L2210.5 4828M2210.5 4828L2210.5 4277M1813.5 5024.2L2523.5 4844.3M2523.5 4844.3L2523.5 4293.2M2930 5028L2388 4783M2388 4783L2388 4232M1678 4963L2388 4783M2388 4783L2388 4232M1678 4963L2388 4783M2388 4783L2930 5028M1678 4825.2L2388 4645.3M2388 4645.3L2930 4890.2M1678 4687.5L2388 4507.5M2388 4507.5L2930 4752.5M1678 4549.8L2388 4369.8M2388 4369.8L2930 4614.8M1678 4412L2388 4232M2388 4232L2930 4477"/>
<g class="sf"><path color="#75d7d0" d="M2220 4932l699-177-534-241-699 177z"/></g>
<path class="ax" d="M2220 5208L2930 5028M2220 5208L1678 4963M1678 4963L1678 4412M2220 5208l6 10M2220 5208l-9 8M2397.5 5163l6 10M2084.5 5146.8l-9 8M2575 5118l6 10M1949 5085.5l-9 8M2752.5 5073l6 10M1813.5 5024.2l-9 8M2930 5028l6 10M1678 4963l-9 8M1678 4963l-10 0M1678 4825.2l-10 0M1678 4687.5l-10 0M1678 4549.8l-10 0M1678 4412l-10 0"/>
<text class="tk" x="2249" y="5265">-1</text>
<text class="tk e" x="2192" y="5256">-1</text>
<text class="tk" x="2426.5" y="5220">-0.5</text>
<text class="tk e" x="2056.5" y="5194.7">-0.5</text>
<text class="tk" x="2604" y="5175">0</text>
<text class="tk e" x="1921" y="5133.5">0</text>
<text class="tk" x="2781.5" y="5130">0.5</text>
<text class="tk e" x="1785.5" y="5072.2">0.5</text>
<text class="tk" x="2959" y="5085">1</text>
<text class="tk e" x="1650" y="5007">1</text>
<text class="tk e" x="1652" y="4968">-1</text>
<text class="tk e" x="1652" y="4830.2">-0.5</text>
<text class="tk e" x="1652" y="4692.5">0</text>
<text class="tk e" x="1652" y="4554.8">0.5</text>
<text class="tk e" x="1652" y="4417">1</text>
<text class="lb" x="2522" y="5254">F<tspan class="sb" dy="9">x</tspan></text>
<text class="lb" x="1929" y="5261.5">F<tspan class="sb" dy="9">y</tspan></text>
<text class="lb m" transform="translate(1568 4687.5) rotate(-90)">Magnitude</text>
<text class="ti" x="2304" y="4213">Kernel 4 Channel 2</text>
<text class="cp" transform="translate(2249 5430) scale(1.1 1)">(<tspan class="b">k</tspan>) Kernel 4 Channel 2</text>
<path class="gr" d="M3679 5208L3137 4963M3137 4963L3137 4412M3679 5208L4389 5028M4389 5028L4389 4477M3856.5 5163L3314.5 4918M3314.5 4918L3314.5 4367M3543.5 5146.8L4253.5 4966.8M4253.5 4966.8L4253.5 4415.8M4034 5118L3492 4873M3492 4873L3492 4322M3408 5085.5L4118 4905.5M4118 4905.5L4118 4354.5M4211.5 5073L3669.5 4828M3669.5 4828L3669.5 4277M3272.5 5024.2L3982.5 4844.3M3982.5 4844.3L3982.5 4293.2M4389 5028L3847 4783M3847 4783L3847 4232M3137 4963L3847 4783M3847 4783L3847 4232M3137 4963L3847 4783M3847 4783L4389 5028M3137 4825.2L3847 4645.3M3847 4645.3L4389 4890.2M3137 4687.5L3847 4507.5M3847 4507.5L4389 4752.5M3137 4549.8L3847 4369.8M3847 4369.8L4389 4614.8M3137 4412L3847 4232M3847 4232L4389 4477"/>
<g class="sf"><path color="#75d7d0" d="M3679 4932l699-177-534-241-699 177z"/></g>
<path class="ax" d="M3679 5208L4389 5028M3679 5208L3137 4963M3137 4963L3137 4412M3679 5208l6 10M3679 5208l-9 8M3856.5 5163l6 10M3543.5 5146.8l-9 8M4034 5118l6 10M3408 5085.5l-9 8M4211.5 5073l6 10M3272.5 5024.2l-9 8M4389 5028l6 10M3137 4963l-9 8M3137 4963l-10 0M3137 4825.2l-10 0M3137 4687.5l-10 0M3137 4549.8l-10 0M3137 4412l-10 0"/>
<text class="tk" x="3708" y="5265">-1</text>
<text class="tk e" x="3651" y="5256">-1</text>
<text class="tk" x="3885.5" y="5220">-0.5</text>
<text class="tk e" x="3515.5" y="5194.7">-0.5</text>
<text class="tk" x="4063" y="5175">0</text>
<text class="tk e" x="3380" y="5133.5">0</text>
<text class="tk" x="4240.5" y="5130">0.5</text>
<text class="tk e" x="3244.5" y="5072.2">0.5</text>
<text class="tk" x="4418" y="5085">1</text>
<text class="tk e" x="3109" y="5007">1</text>
<text class="tk e" x="3111" y="4968">-1</text>
<text class="tk e" x="3111" y="4830.2">-0.5</text>
<text class="tk e" x="3111" y="4692.5">0</text>
<text class="tk e" x="3111" y="4554.8">0.5</text>
<text class="tk e" x="3111" y="4417">1</text>
<text class="lb" x="3981" y="5254">F<tspan class="sb" dy="9">x</tspan></text>
<text class="lb" x="3388" y="5261.5">F<tspan class="sb" dy="9">y</tspan></text>
<text class="lb m" transform="translate(3027 4687.5) rotate(-90)">Magnitude</text>
<text class="ti" x="3763" y="4213">Kernel 4 Channel 3</text>
<text class="cp" transform="translate(3712 5430) scale(1.1 1)">(<tspan class="b">l</tspan>) Kernel 4 Channel 3</text>
</svg>
</body></html>
